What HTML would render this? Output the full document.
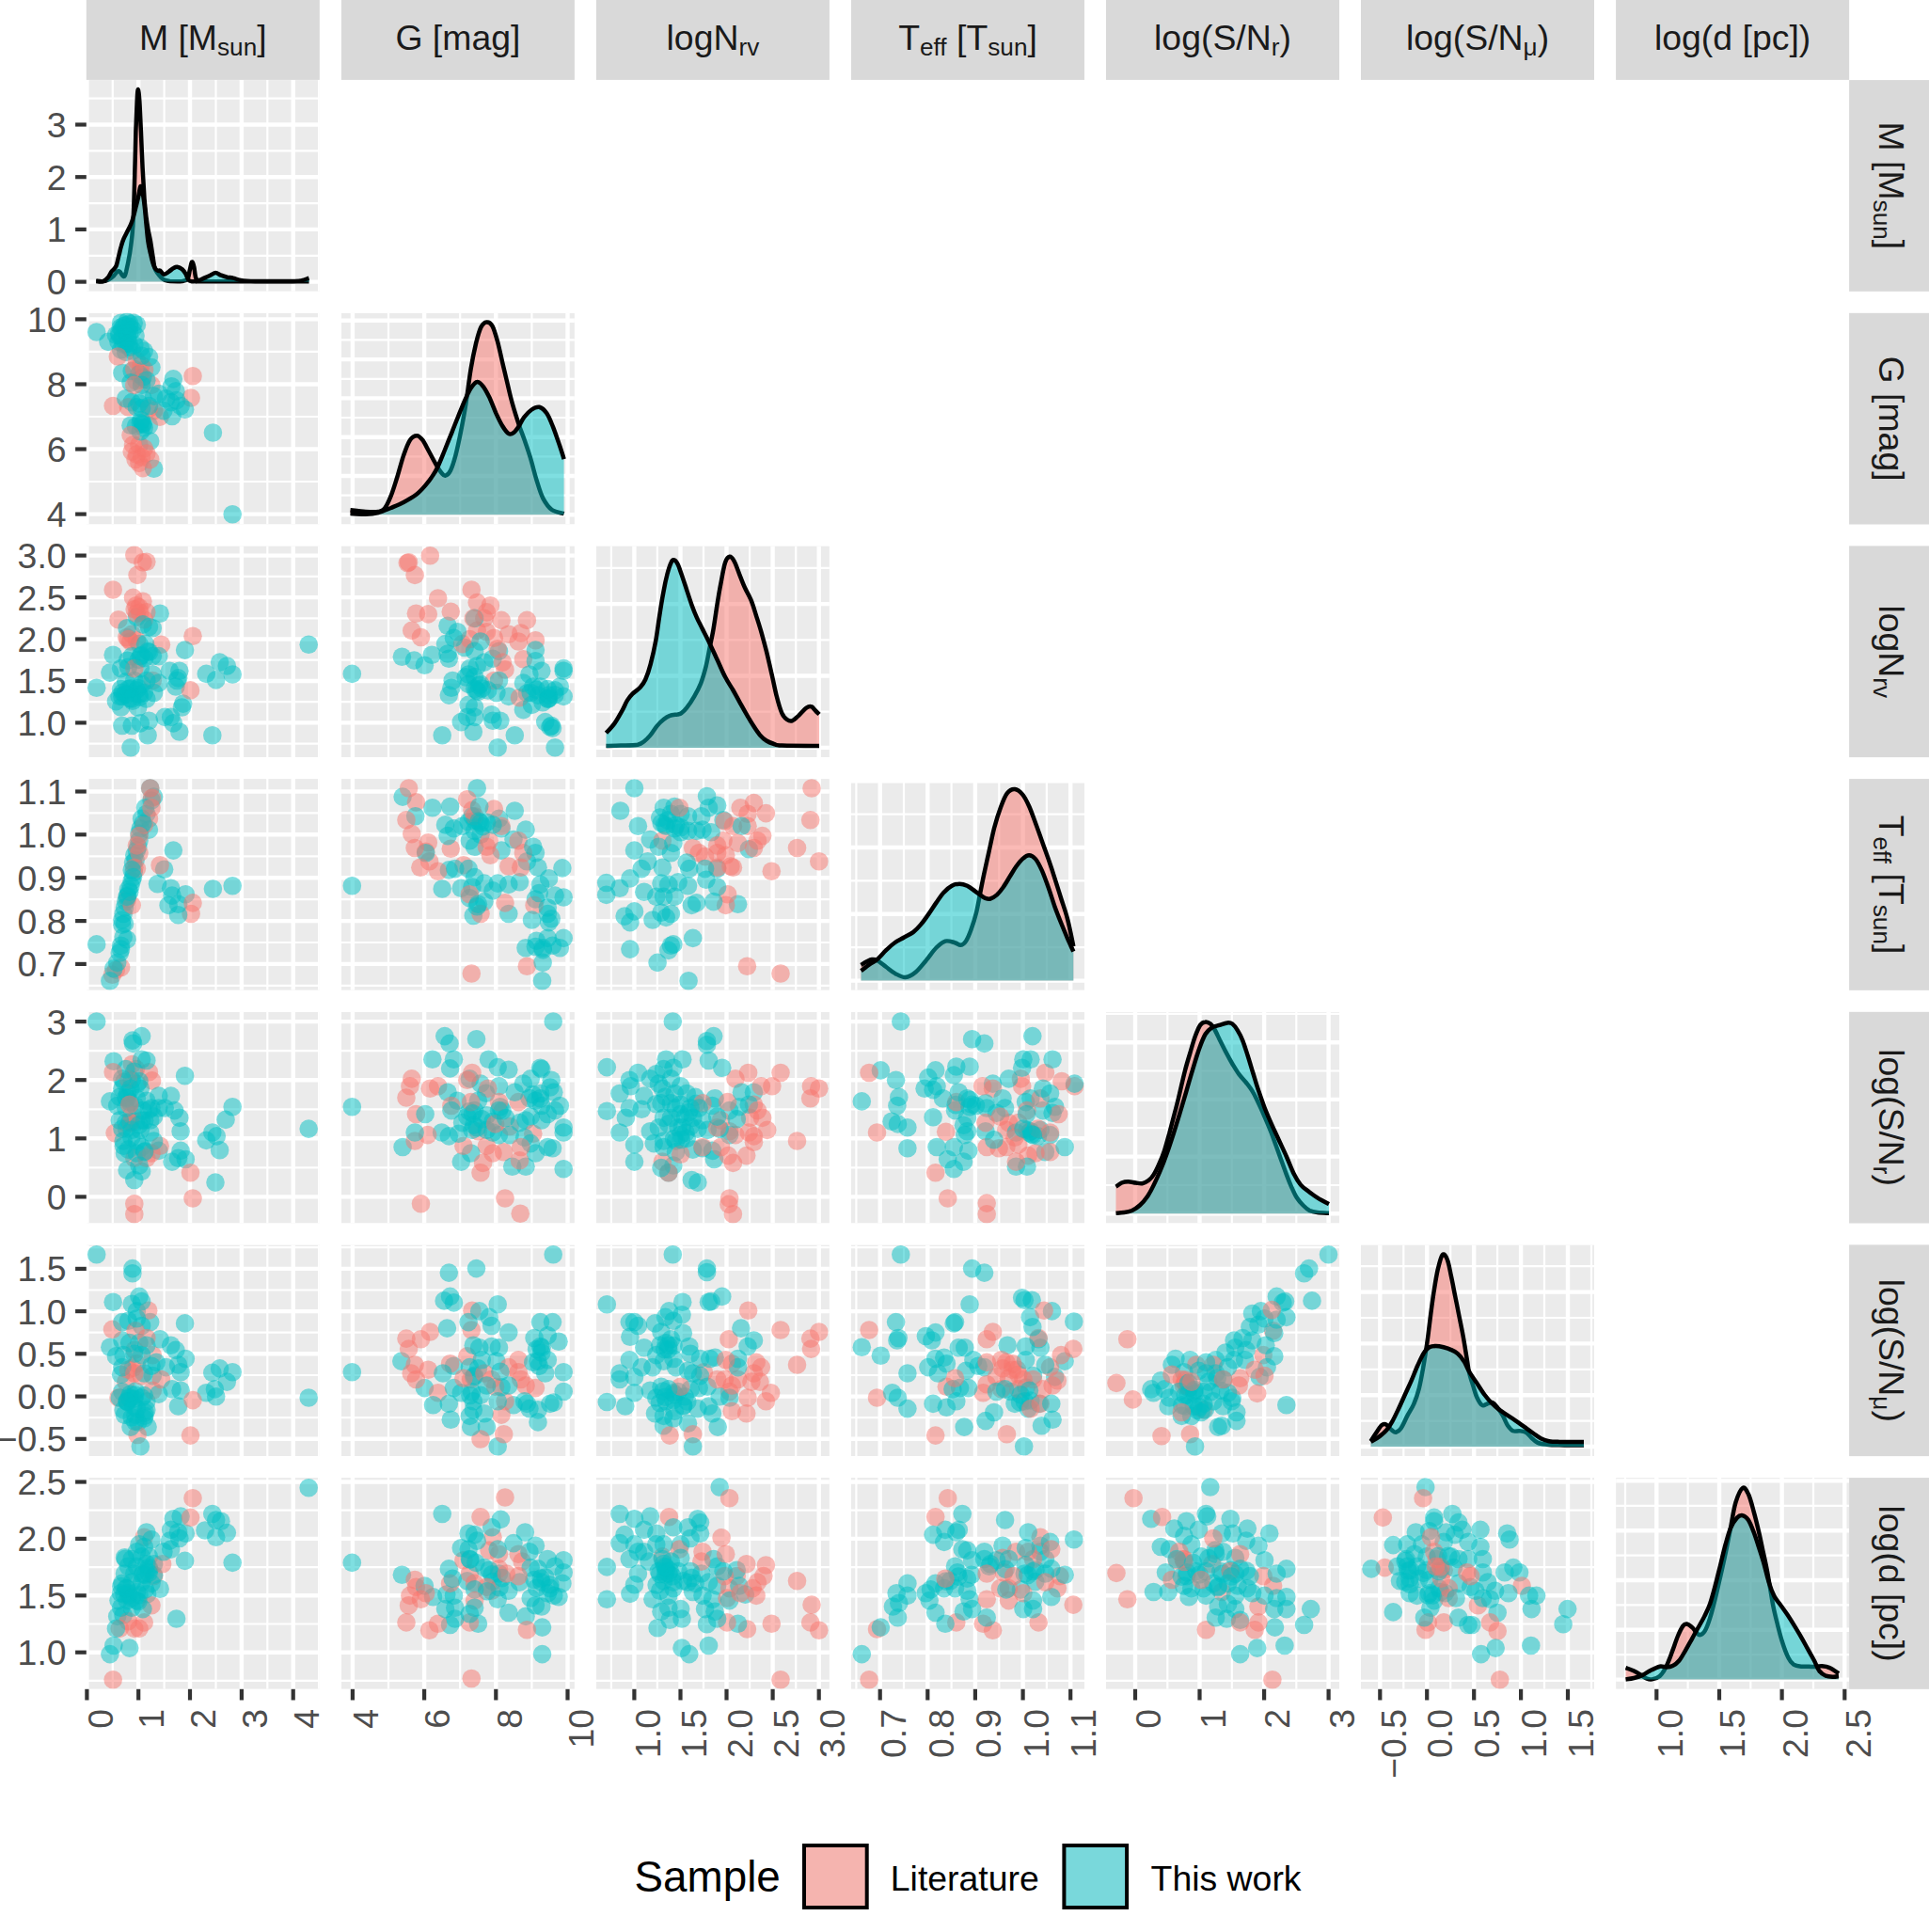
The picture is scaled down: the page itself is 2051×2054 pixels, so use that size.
<!DOCTYPE html><html><head><meta charset="utf-8"><title>ggpairs</title><style>html,body{margin:0;padding:0;background:#fff;}svg{display:block;}text{font-family:"Liberation Sans",Arial,sans-serif;}.ax{fill:#4D4D4D;font-size:37.4px;}.st{fill:#1A1A1A;font-size:37.4px;}.lg{fill:#000;font-size:37.4px;}.lt{fill:#000;font-size:45.8px;}</style></head><body>
<svg width="2051" height="2054" viewBox="0 0 2051 2054">
<rect width="2051" height="2054" fill="#fff"/>
<defs>
<clipPath id="c00"><rect x="91.8" y="85.1" width="248.0" height="224.7"/></clipPath>
<clipPath id="c10"><rect x="91.8" y="332.8" width="248.0" height="224.7"/></clipPath>
<clipPath id="c11"><rect x="362.9" y="332.8" width="248.0" height="224.7"/></clipPath>
<clipPath id="c20"><rect x="91.8" y="580.4" width="248.0" height="224.7"/></clipPath>
<clipPath id="c21"><rect x="362.9" y="580.4" width="248.0" height="224.7"/></clipPath>
<clipPath id="c22"><rect x="633.9" y="580.4" width="248.0" height="224.7"/></clipPath>
<clipPath id="c30"><rect x="91.8" y="828.1" width="248.0" height="224.7"/></clipPath>
<clipPath id="c31"><rect x="362.9" y="828.1" width="248.0" height="224.7"/></clipPath>
<clipPath id="c32"><rect x="633.9" y="828.1" width="248.0" height="224.7"/></clipPath>
<clipPath id="c33"><rect x="905.0" y="828.1" width="248.0" height="224.7"/></clipPath>
<clipPath id="c40"><rect x="91.8" y="1075.8" width="248.0" height="224.7"/></clipPath>
<clipPath id="c41"><rect x="362.9" y="1075.8" width="248.0" height="224.7"/></clipPath>
<clipPath id="c42"><rect x="633.9" y="1075.8" width="248.0" height="224.7"/></clipPath>
<clipPath id="c43"><rect x="905.0" y="1075.8" width="248.0" height="224.7"/></clipPath>
<clipPath id="c44"><rect x="1176.0" y="1075.8" width="248.0" height="224.7"/></clipPath>
<clipPath id="c50"><rect x="91.8" y="1323.4" width="248.0" height="224.7"/></clipPath>
<clipPath id="c51"><rect x="362.9" y="1323.4" width="248.0" height="224.7"/></clipPath>
<clipPath id="c52"><rect x="633.9" y="1323.4" width="248.0" height="224.7"/></clipPath>
<clipPath id="c53"><rect x="905.0" y="1323.4" width="248.0" height="224.7"/></clipPath>
<clipPath id="c54"><rect x="1176.0" y="1323.4" width="248.0" height="224.7"/></clipPath>
<clipPath id="c55"><rect x="1447.0" y="1323.4" width="248.0" height="224.7"/></clipPath>
<clipPath id="c60"><rect x="91.8" y="1571.1" width="248.0" height="224.7"/></clipPath>
<clipPath id="c61"><rect x="362.9" y="1571.1" width="248.0" height="224.7"/></clipPath>
<clipPath id="c62"><rect x="633.9" y="1571.1" width="248.0" height="224.7"/></clipPath>
<clipPath id="c63"><rect x="905.0" y="1571.1" width="248.0" height="224.7"/></clipPath>
<clipPath id="c64"><rect x="1176.0" y="1571.1" width="248.0" height="224.7"/></clipPath>
<clipPath id="c65"><rect x="1447.0" y="1571.1" width="248.0" height="224.7"/></clipPath>
<clipPath id="c66"><rect x="1718.1" y="1571.1" width="248.0" height="224.7"/></clipPath>
</defs>
<g clip-path="url(#c00)">
<rect x="91.8" y="85.1" width="248.0" height="224.7" fill="#EBEBEB"/>
<line x1="91.8" x2="339.8" y1="271.8" y2="271.8" stroke="#fff" stroke-width="2.2"/>
<line x1="91.8" x2="339.8" y1="216.1" y2="216.1" stroke="#fff" stroke-width="2.2"/>
<line x1="91.8" x2="339.8" y1="160.4" y2="160.4" stroke="#fff" stroke-width="2.2"/>
<line x1="91.8" x2="339.8" y1="104.7" y2="104.7" stroke="#fff" stroke-width="2.2"/>
<line x1="119.8" x2="119.8" y1="85.1" y2="309.8" stroke="#fff" stroke-width="2.2"/>
<line x1="174.6" x2="174.6" y1="85.1" y2="309.8" stroke="#fff" stroke-width="2.2"/>
<line x1="229.5" x2="229.5" y1="85.1" y2="309.8" stroke="#fff" stroke-width="2.2"/>
<line x1="284.3" x2="284.3" y1="85.1" y2="309.8" stroke="#fff" stroke-width="2.2"/>
<line x1="339.1" x2="339.1" y1="85.1" y2="309.8" stroke="#fff" stroke-width="2.2"/>
<line x1="91.8" x2="339.8" y1="299.6" y2="299.6" stroke="#fff" stroke-width="4.4"/>
<line x1="91.8" x2="339.8" y1="243.9" y2="243.9" stroke="#fff" stroke-width="4.4"/>
<line x1="91.8" x2="339.8" y1="188.2" y2="188.2" stroke="#fff" stroke-width="4.4"/>
<line x1="91.8" x2="339.8" y1="132.5" y2="132.5" stroke="#fff" stroke-width="4.4"/>
<line x1="92.4" x2="92.4" y1="85.1" y2="309.8" stroke="#fff" stroke-width="4.4"/>
<line x1="147.2" x2="147.2" y1="85.1" y2="309.8" stroke="#fff" stroke-width="4.4"/>
<line x1="202.0" x2="202.0" y1="85.1" y2="309.8" stroke="#fff" stroke-width="4.4"/>
<line x1="256.9" x2="256.9" y1="85.1" y2="309.8" stroke="#fff" stroke-width="4.4"/>
<line x1="311.7" x2="311.7" y1="85.1" y2="309.8" stroke="#fff" stroke-width="4.4"/>
<path d="M102.3,298.6 C103.5,298.7 107.2,299.5 109.4,299.2 C111.7,298.9 114.0,297.9 115.9,296.9 C117.9,295.8 119.6,294.4 121.1,293.0 C122.6,291.6 123.9,289.2 125.0,288.6 C126.1,287.9 126.5,288.2 127.6,289.1 C128.7,290.0 130.4,294.1 131.5,294.0 C132.6,294.0 133.0,292.9 134.1,288.8 C135.1,284.7 136.9,275.9 138.0,269.4 C139.0,262.9 139.9,256.4 140.5,250.0 C141.2,243.5 141.4,240.2 141.8,230.5 C142.3,220.8 142.7,206.8 143.1,191.6 C143.6,176.5 144.0,153.8 144.4,139.8 C144.9,125.8 145.3,114.9 145.7,107.4 C146.1,99.9 146.3,95.1 146.8,95.1 C147.2,95.1 147.8,99.9 148.3,107.4 C148.8,114.9 149.3,127.9 149.9,139.8 C150.4,151.7 151.0,166.8 151.6,178.7 C152.2,190.6 152.9,202.4 153.5,211.1 C154.2,219.7 154.8,225.1 155.4,230.5 C156.1,235.9 156.6,239.2 157.4,243.5 C158.1,247.8 159.1,251.5 160.0,256.4 C160.8,261.4 161.8,268.5 162.6,273.3 C163.3,278.0 163.7,282.0 164.5,285.0 C165.4,287.9 166.6,289.1 167.8,290.8 C168.9,292.5 170.4,294.1 171.6,295.3 C172.9,296.5 174.0,297.3 175.5,297.9 C177.0,298.5 177.7,298.8 180.7,299.0 C183.7,299.1 190.5,299.3 193.7,299.0 C196.8,298.6 198.2,298.5 199.5,296.6 C200.9,294.7 201.0,290.6 201.7,287.5 C202.5,284.5 203.3,279.1 204.0,278.5 C204.8,277.8 205.6,280.8 206.3,283.7 C206.9,286.5 207.4,292.8 208.2,295.3 C209.0,297.9 209.3,298.3 211.2,299.0 C213.1,299.6 200.1,299.2 219.6,299.2 C239.1,299.3 310.3,299.2 328.5,299.2 L328.5,299.6 L102.3,299.6 Z" fill="#F8766D" fill-opacity="0.5" stroke="none"/>
<path d="M102.3,298.6 C103.5,298.7 107.2,299.5 109.4,299.2 C111.7,298.9 114.0,297.9 115.9,296.9 C117.9,295.8 119.6,294.4 121.1,293.0 C122.6,291.6 123.9,289.2 125.0,288.6 C126.1,287.9 126.5,288.2 127.6,289.1 C128.7,290.0 130.4,294.1 131.5,294.0 C132.6,294.0 133.0,292.9 134.1,288.8 C135.1,284.7 136.9,275.9 138.0,269.4 C139.0,262.9 139.9,256.4 140.5,250.0 C141.2,243.5 141.4,240.2 141.8,230.5 C142.3,220.8 142.7,206.8 143.1,191.6 C143.6,176.5 144.0,153.8 144.4,139.8 C144.9,125.8 145.3,114.9 145.7,107.4 C146.1,99.9 146.3,95.1 146.8,95.1 C147.2,95.1 147.8,99.9 148.3,107.4 C148.8,114.9 149.3,127.9 149.9,139.8 C150.4,151.7 151.0,166.8 151.6,178.7 C152.2,190.6 152.9,202.4 153.5,211.1 C154.2,219.7 154.8,225.1 155.4,230.5 C156.1,235.9 156.6,239.2 157.4,243.5 C158.1,247.8 159.1,251.5 160.0,256.4 C160.8,261.4 161.8,268.5 162.6,273.3 C163.3,278.0 163.7,282.0 164.5,285.0 C165.4,287.9 166.6,289.1 167.8,290.8 C168.9,292.5 170.4,294.1 171.6,295.3 C172.9,296.5 174.0,297.3 175.5,297.9 C177.0,298.5 177.7,298.8 180.7,299.0 C183.7,299.1 190.5,299.3 193.7,299.0 C196.8,298.6 198.2,298.5 199.5,296.6 C200.9,294.7 201.0,290.6 201.7,287.5 C202.5,284.5 203.3,279.1 204.0,278.5 C204.8,277.8 205.6,280.8 206.3,283.7 C206.9,286.5 207.4,292.8 208.2,295.3 C209.0,297.9 209.3,298.3 211.2,299.0 C213.1,299.6 200.1,299.2 219.6,299.2 C239.1,299.3 310.3,299.2 328.5,299.2" fill="none" stroke="#000" stroke-width="4.5" stroke-linejoin="round"/>
<path d="M102.3,299.2 C103.5,299.2 107.4,299.9 109.4,299.2 C111.5,298.6 113.1,297.0 114.6,295.3 C116.1,293.6 117.4,290.4 118.5,288.8 C119.6,287.3 120.2,287.3 121.1,286.2 C122.0,285.2 122.8,284.7 123.7,282.4 C124.6,280.0 125.4,275.4 126.3,272.0 C127.2,268.5 128.0,264.6 128.9,261.6 C129.7,258.6 130.4,256.4 131.5,253.8 C132.6,251.3 134.1,248.7 135.4,246.1 C136.7,243.5 138.2,240.9 139.2,238.3 C140.3,235.7 141.0,233.5 141.8,230.5 C142.7,227.5 143.6,223.6 144.4,220.2 C145.3,216.7 146.2,213.5 147.0,209.8 C147.8,206.1 148.6,199.0 149.4,198.1 C150.1,197.3 150.9,201.4 151.6,204.6 C152.3,207.8 152.9,212.2 153.5,217.6 C154.2,223.0 154.8,230.5 155.4,237.0 C156.1,243.5 156.6,251.0 157.4,256.4 C158.1,261.8 159.1,265.5 160.0,269.4 C160.8,273.3 161.7,277.1 162.6,279.8 C163.4,282.5 164.3,284.3 165.2,285.6 C166.0,286.9 166.9,287.4 167.8,287.8 C168.6,288.2 169.3,287.2 170.4,287.8 C171.4,288.5 172.7,291.5 174.2,291.7 C175.8,291.9 177.7,290.0 179.4,288.8 C181.2,287.7 183.1,285.8 184.6,285.0 C186.1,284.1 187.0,283.4 188.5,283.7 C190.0,283.9 192.2,285.0 193.7,286.2 C195.2,287.5 196.5,289.6 197.6,291.4 C198.6,293.3 199.1,296.0 200.2,297.3 C201.2,298.6 202.3,299.0 204.0,299.2 C205.8,299.4 208.4,299.2 210.5,298.6 C212.7,298.0 214.8,296.6 217.0,295.6 C219.2,294.6 221.4,293.6 223.5,292.7 C225.5,291.8 227.4,290.1 229.3,290.1 C231.3,290.1 233.1,292.0 235.2,292.7 C237.2,293.5 239.5,294.2 241.6,294.7 C243.8,295.1 245.7,295.0 248.1,295.6 C250.5,296.1 252.0,297.4 255.9,297.9 C259.8,298.5 262.4,298.8 271.4,299.0 C280.5,299.1 302.1,299.1 310.3,299.0 C318.5,298.8 317.7,298.7 320.7,298.2 C323.7,297.6 327.2,296.0 328.5,295.6 L328.5,299.6 L102.3,299.6 Z" fill="#00BFC4" fill-opacity="0.5" stroke="none"/>
<path d="M102.3,299.2 C103.5,299.2 107.4,299.9 109.4,299.2 C111.5,298.6 113.1,297.0 114.6,295.3 C116.1,293.6 117.4,290.4 118.5,288.8 C119.6,287.3 120.2,287.3 121.1,286.2 C122.0,285.2 122.8,284.7 123.7,282.4 C124.6,280.0 125.4,275.4 126.3,272.0 C127.2,268.5 128.0,264.6 128.9,261.6 C129.7,258.6 130.4,256.4 131.5,253.8 C132.6,251.3 134.1,248.7 135.4,246.1 C136.7,243.5 138.2,240.9 139.2,238.3 C140.3,235.7 141.0,233.5 141.8,230.5 C142.7,227.5 143.6,223.6 144.4,220.2 C145.3,216.7 146.2,213.5 147.0,209.8 C147.8,206.1 148.6,199.0 149.4,198.1 C150.1,197.3 150.9,201.4 151.6,204.6 C152.3,207.8 152.9,212.2 153.5,217.6 C154.2,223.0 154.8,230.5 155.4,237.0 C156.1,243.5 156.6,251.0 157.4,256.4 C158.1,261.8 159.1,265.5 160.0,269.4 C160.8,273.3 161.7,277.1 162.6,279.8 C163.4,282.5 164.3,284.3 165.2,285.6 C166.0,286.9 166.9,287.4 167.8,287.8 C168.6,288.2 169.3,287.2 170.4,287.8 C171.4,288.5 172.7,291.5 174.2,291.7 C175.8,291.9 177.7,290.0 179.4,288.8 C181.2,287.7 183.1,285.8 184.6,285.0 C186.1,284.1 187.0,283.4 188.5,283.7 C190.0,283.9 192.2,285.0 193.7,286.2 C195.2,287.5 196.5,289.6 197.6,291.4 C198.6,293.3 199.1,296.0 200.2,297.3 C201.2,298.6 202.3,299.0 204.0,299.2 C205.8,299.4 208.4,299.2 210.5,298.6 C212.7,298.0 214.8,296.6 217.0,295.6 C219.2,294.6 221.4,293.6 223.5,292.7 C225.5,291.8 227.4,290.1 229.3,290.1 C231.3,290.1 233.1,292.0 235.2,292.7 C237.2,293.5 239.5,294.2 241.6,294.7 C243.8,295.1 245.7,295.0 248.1,295.6 C250.5,296.1 252.0,297.4 255.9,297.9 C259.8,298.5 262.4,298.8 271.4,299.0 C280.5,299.1 302.1,299.1 310.3,299.0 C318.5,298.8 317.7,298.7 320.7,298.2 C323.7,297.6 327.2,296.0 328.5,295.6" fill="none" stroke="#000" stroke-width="4.5" stroke-linejoin="round"/>
</g>
<g clip-path="url(#c10)">
<rect x="91.8" y="332.8" width="248.0" height="224.7" fill="#EBEBEB"/>
<line x1="91.8" x2="339.8" y1="512.0" y2="512.0" stroke="#fff" stroke-width="2.2"/>
<line x1="91.8" x2="339.8" y1="443.0" y2="443.0" stroke="#fff" stroke-width="2.2"/>
<line x1="91.8" x2="339.8" y1="373.9" y2="373.9" stroke="#fff" stroke-width="2.2"/>
<line x1="119.8" x2="119.8" y1="332.8" y2="557.5" stroke="#fff" stroke-width="2.2"/>
<line x1="174.6" x2="174.6" y1="332.8" y2="557.5" stroke="#fff" stroke-width="2.2"/>
<line x1="229.5" x2="229.5" y1="332.8" y2="557.5" stroke="#fff" stroke-width="2.2"/>
<line x1="284.3" x2="284.3" y1="332.8" y2="557.5" stroke="#fff" stroke-width="2.2"/>
<line x1="339.1" x2="339.1" y1="332.8" y2="557.5" stroke="#fff" stroke-width="2.2"/>
<line x1="91.8" x2="339.8" y1="546.6" y2="546.6" stroke="#fff" stroke-width="4.4"/>
<line x1="91.8" x2="339.8" y1="477.5" y2="477.5" stroke="#fff" stroke-width="4.4"/>
<line x1="91.8" x2="339.8" y1="408.5" y2="408.5" stroke="#fff" stroke-width="4.4"/>
<line x1="91.8" x2="339.8" y1="339.4" y2="339.4" stroke="#fff" stroke-width="4.4"/>
<line x1="92.4" x2="92.4" y1="332.8" y2="557.5" stroke="#fff" stroke-width="4.4"/>
<line x1="147.2" x2="147.2" y1="332.8" y2="557.5" stroke="#fff" stroke-width="4.4"/>
<line x1="202.0" x2="202.0" y1="332.8" y2="557.5" stroke="#fff" stroke-width="4.4"/>
<line x1="256.9" x2="256.9" y1="332.8" y2="557.5" stroke="#fff" stroke-width="4.4"/>
<line x1="311.7" x2="311.7" y1="332.8" y2="557.5" stroke="#fff" stroke-width="4.4"/>
<circle cx="150.6" cy="485.9" r="9.8" fill="#F8766D" fill-opacity="0.5"/>
<circle cx="140.2" cy="427.6" r="9.8" fill="#00BFC4" fill-opacity="0.5"/>
<circle cx="148.0" cy="472.9" r="9.8" fill="#F8766D" fill-opacity="0.5"/>
<circle cx="203.1" cy="423.0" r="9.8" fill="#F8766D" fill-opacity="0.5"/>
<circle cx="133.8" cy="374.4" r="9.8" fill="#00BFC4" fill-opacity="0.5"/>
<circle cx="133.7" cy="365.6" r="9.8" fill="#00BFC4" fill-opacity="0.5"/>
<circle cx="144.1" cy="488.5" r="9.8" fill="#F8766D" fill-opacity="0.5"/>
<circle cx="140.2" cy="480.1" r="9.8" fill="#F8766D" fill-opacity="0.5"/>
<circle cx="196.6" cy="435.3" r="9.8" fill="#00BFC4" fill-opacity="0.5"/>
<circle cx="140.9" cy="373.1" r="9.8" fill="#00BFC4" fill-opacity="0.5"/>
<circle cx="181.7" cy="427.6" r="9.8" fill="#00BFC4" fill-opacity="0.5"/>
<circle cx="126.0" cy="363.4" r="9.8" fill="#00BFC4" fill-opacity="0.5"/>
<circle cx="144.1" cy="356.9" r="9.8" fill="#00BFC4" fill-opacity="0.5"/>
<circle cx="133.8" cy="352.4" r="9.8" fill="#00BFC4" fill-opacity="0.5"/>
<circle cx="247.2" cy="546.8" r="9.8" fill="#00BFC4" fill-opacity="0.5"/>
<circle cx="144.4" cy="453.3" r="9.8" fill="#00BFC4" fill-opacity="0.5"/>
<circle cx="148.0" cy="492.4" r="9.8" fill="#F8766D" fill-opacity="0.5"/>
<circle cx="127.0" cy="356.5" r="9.8" fill="#00BFC4" fill-opacity="0.5"/>
<circle cx="145.0" cy="405.1" r="9.8" fill="#F8766D" fill-opacity="0.5"/>
<circle cx="159.7" cy="469.0" r="9.8" fill="#00BFC4" fill-opacity="0.5"/>
<circle cx="155.8" cy="482.0" r="9.8" fill="#F8766D" fill-opacity="0.5"/>
<circle cx="205.0" cy="399.7" r="9.8" fill="#F8766D" fill-opacity="0.5"/>
<circle cx="140.2" cy="394.5" r="9.8" fill="#00BFC4" fill-opacity="0.5"/>
<circle cx="135.7" cy="352.5" r="9.8" fill="#00BFC4" fill-opacity="0.5"/>
<circle cx="128.6" cy="343.3" r="9.8" fill="#00BFC4" fill-opacity="0.5"/>
<circle cx="151.5" cy="450.5" r="9.8" fill="#00BFC4" fill-opacity="0.5"/>
<circle cx="136.4" cy="432.8" r="9.8" fill="#F8766D" fill-opacity="0.5"/>
<circle cx="192.1" cy="431.5" r="9.8" fill="#00BFC4" fill-opacity="0.5"/>
<circle cx="161.0" cy="390.6" r="9.8" fill="#00BFC4" fill-opacity="0.5"/>
<circle cx="161.0" cy="409.4" r="9.8" fill="#F8766D" fill-opacity="0.5"/>
<circle cx="145.4" cy="345.3" r="9.8" fill="#00BFC4" fill-opacity="0.5"/>
<circle cx="131.2" cy="366.0" r="9.8" fill="#00BFC4" fill-opacity="0.5"/>
<circle cx="120.2" cy="431.5" r="9.8" fill="#F8766D" fill-opacity="0.5"/>
<circle cx="184.3" cy="402.9" r="9.8" fill="#00BFC4" fill-opacity="0.5"/>
<circle cx="150.0" cy="388.0" r="9.8" fill="#F8766D" fill-opacity="0.5"/>
<circle cx="163.6" cy="436.6" r="9.8" fill="#F8766D" fill-opacity="0.5"/>
<circle cx="158.4" cy="452.2" r="9.8" fill="#00BFC4" fill-opacity="0.5"/>
<circle cx="163.6" cy="498.2" r="9.8" fill="#00BFC4" fill-opacity="0.5"/>
<circle cx="170.1" cy="443.1" r="9.8" fill="#F8766D" fill-opacity="0.5"/>
<circle cx="149.2" cy="395.4" r="9.8" fill="#F8766D" fill-opacity="0.5"/>
<circle cx="145.4" cy="383.5" r="9.8" fill="#F8766D" fill-opacity="0.5"/>
<circle cx="141.5" cy="472.9" r="9.8" fill="#F8766D" fill-opacity="0.5"/>
<circle cx="152.1" cy="451.3" r="9.8" fill="#00BFC4" fill-opacity="0.5"/>
<circle cx="139.0" cy="452.2" r="9.8" fill="#00BFC4" fill-opacity="0.5"/>
<circle cx="128.6" cy="371.8" r="9.8" fill="#00BFC4" fill-opacity="0.5"/>
<circle cx="137.8" cy="344.1" r="9.8" fill="#00BFC4" fill-opacity="0.5"/>
<circle cx="129.9" cy="396.5" r="9.8" fill="#00BFC4" fill-opacity="0.5"/>
<circle cx="151.9" cy="423.7" r="9.8" fill="#00BFC4" fill-opacity="0.5"/>
<circle cx="153.2" cy="476.8" r="9.8" fill="#F8766D" fill-opacity="0.5"/>
<circle cx="153.2" cy="373.1" r="9.8" fill="#00BFC4" fill-opacity="0.5"/>
<circle cx="226.4" cy="460.0" r="9.8" fill="#00BFC4" fill-opacity="0.5"/>
<circle cx="145.4" cy="432.8" r="9.8" fill="#00BFC4" fill-opacity="0.5"/>
<circle cx="148.0" cy="397.8" r="9.8" fill="#00BFC4" fill-opacity="0.5"/>
<circle cx="102.7" cy="353.0" r="9.8" fill="#00BFC4" fill-opacity="0.5"/>
<circle cx="173.9" cy="436.6" r="9.8" fill="#00BFC4" fill-opacity="0.5"/>
<circle cx="129.9" cy="358.9" r="9.8" fill="#00BFC4" fill-opacity="0.5"/>
<circle cx="135.1" cy="342.0" r="9.8" fill="#00BFC4" fill-opacity="0.5"/>
<circle cx="182.4" cy="410.7" r="9.8" fill="#00BFC4" fill-opacity="0.5"/>
<circle cx="137.0" cy="364.7" r="9.8" fill="#00BFC4" fill-opacity="0.5"/>
<circle cx="158.4" cy="434.0" r="9.8" fill="#F8766D" fill-opacity="0.5"/>
<circle cx="133.8" cy="423.7" r="9.8" fill="#00BFC4" fill-opacity="0.5"/>
<circle cx="137.4" cy="369.1" r="9.8" fill="#00BFC4" fill-opacity="0.5"/>
<circle cx="131.9" cy="346.3" r="9.8" fill="#00BFC4" fill-opacity="0.5"/>
<circle cx="150.6" cy="404.2" r="9.8" fill="#F8766D" fill-opacity="0.5"/>
<circle cx="142.2" cy="343.3" r="9.8" fill="#00BFC4" fill-opacity="0.5"/>
<circle cx="187.6" cy="425.6" r="9.8" fill="#00BFC4" fill-opacity="0.5"/>
<circle cx="150.6" cy="434.0" r="9.8" fill="#00BFC4" fill-opacity="0.5"/>
<circle cx="135.7" cy="358.9" r="9.8" fill="#00BFC4" fill-opacity="0.5"/>
<circle cx="149.3" cy="369.9" r="9.8" fill="#00BFC4" fill-opacity="0.5"/>
<circle cx="126.7" cy="354.4" r="9.8" fill="#00BFC4" fill-opacity="0.5"/>
<circle cx="151.9" cy="401.0" r="9.8" fill="#00BFC4" fill-opacity="0.5"/>
<circle cx="168.8" cy="418.5" r="9.8" fill="#00BFC4" fill-opacity="0.5"/>
<circle cx="142.8" cy="366.7" r="9.8" fill="#00BFC4" fill-opacity="0.5"/>
<circle cx="145.4" cy="483.3" r="9.8" fill="#F8766D" fill-opacity="0.5"/>
<circle cx="153.6" cy="392.9" r="9.8" fill="#F8766D" fill-opacity="0.5"/>
<circle cx="115.0" cy="363.4" r="9.8" fill="#00BFC4" fill-opacity="0.5"/>
<circle cx="163.6" cy="421.1" r="9.8" fill="#00BFC4" fill-opacity="0.5"/>
<circle cx="149.3" cy="458.7" r="9.8" fill="#00BFC4" fill-opacity="0.5"/>
<circle cx="129.9" cy="349.8" r="9.8" fill="#00BFC4" fill-opacity="0.5"/>
<circle cx="149.3" cy="449.6" r="9.8" fill="#00BFC4" fill-opacity="0.5"/>
<circle cx="153.2" cy="454.8" r="9.8" fill="#00BFC4" fill-opacity="0.5"/>
<circle cx="125.3" cy="379.0" r="9.8" fill="#F8766D" fill-opacity="0.5"/>
<circle cx="123.4" cy="356.3" r="9.8" fill="#00BFC4" fill-opacity="0.5"/>
<circle cx="150.1" cy="446.5" r="9.8" fill="#00BFC4" fill-opacity="0.5"/>
<circle cx="142.8" cy="392.6" r="9.8" fill="#F8766D" fill-opacity="0.5"/>
<circle cx="151.9" cy="497.6" r="9.8" fill="#F8766D" fill-opacity="0.5"/>
<circle cx="137.7" cy="347.2" r="9.8" fill="#00BFC4" fill-opacity="0.5"/>
<circle cx="155.8" cy="404.2" r="9.8" fill="#00BFC4" fill-opacity="0.5"/>
<circle cx="150.6" cy="409.4" r="9.8" fill="#00BFC4" fill-opacity="0.5"/>
<circle cx="158.4" cy="379.6" r="9.8" fill="#00BFC4" fill-opacity="0.5"/>
<circle cx="158.4" cy="431.5" r="9.8" fill="#00BFC4" fill-opacity="0.5"/>
<circle cx="148.0" cy="428.9" r="9.8" fill="#00BFC4" fill-opacity="0.5"/>
<circle cx="159.7" cy="488.5" r="9.8" fill="#F8766D" fill-opacity="0.5"/>
<circle cx="183.0" cy="442.5" r="9.8" fill="#00BFC4" fill-opacity="0.5"/>
<circle cx="128.2" cy="348.4" r="9.8" fill="#00BFC4" fill-opacity="0.5"/>
<circle cx="139.0" cy="406.8" r="9.8" fill="#00BFC4" fill-opacity="0.5"/>
<circle cx="137.7" cy="353.7" r="9.8" fill="#00BFC4" fill-opacity="0.5"/>
<circle cx="140.9" cy="350.5" r="9.8" fill="#00BFC4" fill-opacity="0.5"/>
<circle cx="150.6" cy="378.3" r="9.8" fill="#00BFC4" fill-opacity="0.5"/>
<circle cx="176.5" cy="423.7" r="9.8" fill="#00BFC4" fill-opacity="0.5"/>
<circle cx="186.9" cy="415.9" r="9.8" fill="#00BFC4" fill-opacity="0.5"/>
<circle cx="139.0" cy="462.6" r="9.8" fill="#F8766D" fill-opacity="0.5"/>
<circle cx="133.8" cy="345.9" r="9.8" fill="#00BFC4" fill-opacity="0.5"/>
<circle cx="142.8" cy="409.4" r="9.8" fill="#F8766D" fill-opacity="0.5"/>
</g>
<g clip-path="url(#c11)">
<rect x="362.9" y="332.8" width="248.0" height="224.7" fill="#EBEBEB"/>
<line x1="362.9" x2="610.9" y1="526.6" y2="526.6" stroke="#fff" stroke-width="2.2"/>
<line x1="362.9" x2="610.9" y1="485.3" y2="485.3" stroke="#fff" stroke-width="2.2"/>
<line x1="362.9" x2="610.9" y1="444.0" y2="444.0" stroke="#fff" stroke-width="2.2"/>
<line x1="362.9" x2="610.9" y1="402.8" y2="402.8" stroke="#fff" stroke-width="2.2"/>
<line x1="362.9" x2="610.9" y1="361.4" y2="361.4" stroke="#fff" stroke-width="2.2"/>
<line x1="413.0" x2="413.0" y1="332.8" y2="557.5" stroke="#fff" stroke-width="2.2"/>
<line x1="489.2" x2="489.2" y1="332.8" y2="557.5" stroke="#fff" stroke-width="2.2"/>
<line x1="565.4" x2="565.4" y1="332.8" y2="557.5" stroke="#fff" stroke-width="2.2"/>
<line x1="362.9" x2="610.9" y1="547.3" y2="547.3" stroke="#fff" stroke-width="4.4"/>
<line x1="362.9" x2="610.9" y1="506.0" y2="506.0" stroke="#fff" stroke-width="4.4"/>
<line x1="362.9" x2="610.9" y1="464.7" y2="464.7" stroke="#fff" stroke-width="4.4"/>
<line x1="362.9" x2="610.9" y1="423.4" y2="423.4" stroke="#fff" stroke-width="4.4"/>
<line x1="362.9" x2="610.9" y1="382.1" y2="382.1" stroke="#fff" stroke-width="4.4"/>
<line x1="362.9" x2="610.9" y1="340.8" y2="340.8" stroke="#fff" stroke-width="4.4"/>
<line x1="374.9" x2="374.9" y1="332.8" y2="557.5" stroke="#fff" stroke-width="4.4"/>
<line x1="451.1" x2="451.1" y1="332.8" y2="557.5" stroke="#fff" stroke-width="4.4"/>
<line x1="527.3" x2="527.3" y1="332.8" y2="557.5" stroke="#fff" stroke-width="4.4"/>
<line x1="603.5" x2="603.5" y1="332.8" y2="557.5" stroke="#fff" stroke-width="4.4"/>
<path d="M372.5,542.3 C375.2,542.6 383.8,543.7 388.7,544.0 C393.6,544.3 398.8,544.6 402.2,544.0 C405.5,543.5 406.7,543.5 408.9,540.7 C411.2,537.9 413.4,532.8 415.7,527.2 C417.9,521.6 420.1,514.2 422.4,507.0 C424.6,499.8 426.9,490.6 429.1,484.1 C431.4,477.5 433.5,471.4 435.9,467.9 C438.2,464.4 441.0,463.2 443.3,463.2 C445.5,463.2 447.2,465.1 449.4,467.9 C451.5,470.7 453.6,475.5 456.1,480.0 C458.6,484.5 461.9,491.0 464.2,494.8 C466.4,498.7 468.0,501.1 469.6,502.9 C471.1,504.7 472.0,506.1 473.6,505.6 C475.2,505.2 477.2,503.8 479.0,500.2 C480.8,496.6 482.6,490.8 484.4,484.1 C486.2,477.3 488.0,468.8 489.8,459.8 C491.6,450.8 493.4,441.4 495.2,430.1 C497.0,418.9 498.8,403.2 500.6,392.4 C502.4,381.6 504.2,372.9 506.0,365.4 C507.8,358.0 509.4,351.7 511.4,347.9 C513.3,344.1 515.4,342.7 517.4,342.5 C519.4,342.3 521.6,343.2 523.5,346.6 C525.4,349.9 527.1,356.2 528.9,362.7 C530.7,369.3 532.5,378.0 534.3,385.7 C536.1,393.3 537.9,401.2 539.7,408.6 C541.5,416.0 543.0,422.9 545.1,430.1 C547.1,437.3 549.8,445.6 551.8,451.7 C553.8,457.8 555.2,460.7 557.2,466.5 C559.2,472.4 561.7,479.3 563.9,486.7 C566.2,494.2 568.4,503.8 570.7,511.0 C572.9,518.2 574.7,524.7 577.4,529.9 C580.1,535.0 583.1,539.3 586.8,542.0 C590.5,544.7 597.5,545.4 599.6,546.1 L599.6,547.3 L372.5,547.3 Z" fill="#F8766D" fill-opacity="0.5" stroke="none"/>
<path d="M372.5,542.3 C375.2,542.6 383.8,543.7 388.7,544.0 C393.6,544.3 398.8,544.6 402.2,544.0 C405.5,543.5 406.7,543.5 408.9,540.7 C411.2,537.9 413.4,532.8 415.7,527.2 C417.9,521.6 420.1,514.2 422.4,507.0 C424.6,499.8 426.9,490.6 429.1,484.1 C431.4,477.5 433.5,471.4 435.9,467.9 C438.2,464.4 441.0,463.2 443.3,463.2 C445.5,463.2 447.2,465.1 449.4,467.9 C451.5,470.7 453.6,475.5 456.1,480.0 C458.6,484.5 461.9,491.0 464.2,494.8 C466.4,498.7 468.0,501.1 469.6,502.9 C471.1,504.7 472.0,506.1 473.6,505.6 C475.2,505.2 477.2,503.8 479.0,500.2 C480.8,496.6 482.6,490.8 484.4,484.1 C486.2,477.3 488.0,468.8 489.8,459.8 C491.6,450.8 493.4,441.4 495.2,430.1 C497.0,418.9 498.8,403.2 500.6,392.4 C502.4,381.6 504.2,372.9 506.0,365.4 C507.8,358.0 509.4,351.7 511.4,347.9 C513.3,344.1 515.4,342.7 517.4,342.5 C519.4,342.3 521.6,343.2 523.5,346.6 C525.4,349.9 527.1,356.2 528.9,362.7 C530.7,369.3 532.5,378.0 534.3,385.7 C536.1,393.3 537.9,401.2 539.7,408.6 C541.5,416.0 543.0,422.9 545.1,430.1 C547.1,437.3 549.8,445.6 551.8,451.7 C553.8,457.8 555.2,460.7 557.2,466.5 C559.2,472.4 561.7,479.3 563.9,486.7 C566.2,494.2 568.4,503.8 570.7,511.0 C572.9,518.2 574.7,524.7 577.4,529.9 C580.1,535.0 583.1,539.3 586.8,542.0 C590.5,544.7 597.5,545.4 599.6,546.1" fill="none" stroke="#000" stroke-width="4.5" stroke-linejoin="round"/>
<path d="M372.5,546.1 C375.2,546.2 383.8,546.9 388.7,546.7 C393.6,546.5 397.7,546.1 402.2,545.0 C406.7,543.9 411.2,541.8 415.7,540.0 C420.1,538.1 424.6,536.3 429.1,533.9 C433.6,531.6 438.8,528.8 442.6,525.8 C446.4,522.9 449.1,519.8 452.0,516.4 C455.0,513.0 457.9,509.0 460.1,505.6 C462.4,502.2 463.5,500.5 465.5,496.2 C467.5,491.9 469.8,486.1 472.3,480.0 C474.7,473.9 477.7,466.5 480.4,459.8 C483.0,453.0 486.0,445.6 488.4,439.6 C490.9,433.5 493.2,427.9 495.2,423.4 C497.2,418.9 498.6,415.5 500.6,412.6 C502.6,409.7 505.1,406.1 507.3,405.9 C509.6,405.6 511.8,408.3 514.1,411.3 C516.3,414.2 518.5,418.7 520.8,423.4 C523.0,428.1 525.3,434.6 527.5,439.6 C529.8,444.5 532.0,449.5 534.3,453.0 C536.5,456.6 539.0,460.0 541.0,461.1 C543.0,462.3 544.6,461.1 546.4,459.8 C548.2,458.4 550.0,455.7 551.8,453.0 C553.6,450.4 554.9,446.5 557.2,443.6 C559.4,440.7 562.6,437.3 565.3,435.5 C568.0,433.7 570.7,432.2 573.4,432.8 C576.1,433.5 579.0,436.0 581.4,439.6 C583.9,443.2 585.9,448.8 588.2,454.4 C590.4,460.0 593.0,467.7 594.9,473.3 C596.8,478.9 598.9,485.6 599.6,488.1 L599.6,547.3 L372.5,547.3 Z" fill="#00BFC4" fill-opacity="0.5" stroke="none"/>
<path d="M372.5,546.1 C375.2,546.2 383.8,546.9 388.7,546.7 C393.6,546.5 397.7,546.1 402.2,545.0 C406.7,543.9 411.2,541.8 415.7,540.0 C420.1,538.1 424.6,536.3 429.1,533.9 C433.6,531.6 438.8,528.8 442.6,525.8 C446.4,522.9 449.1,519.8 452.0,516.4 C455.0,513.0 457.9,509.0 460.1,505.6 C462.4,502.2 463.5,500.5 465.5,496.2 C467.5,491.9 469.8,486.1 472.3,480.0 C474.7,473.9 477.7,466.5 480.4,459.8 C483.0,453.0 486.0,445.6 488.4,439.6 C490.9,433.5 493.2,427.9 495.2,423.4 C497.2,418.9 498.6,415.5 500.6,412.6 C502.6,409.7 505.1,406.1 507.3,405.9 C509.6,405.6 511.8,408.3 514.1,411.3 C516.3,414.2 518.5,418.7 520.8,423.4 C523.0,428.1 525.3,434.6 527.5,439.6 C529.8,444.5 532.0,449.5 534.3,453.0 C536.5,456.6 539.0,460.0 541.0,461.1 C543.0,462.3 544.6,461.1 546.4,459.8 C548.2,458.4 550.0,455.7 551.8,453.0 C553.6,450.4 554.9,446.5 557.2,443.6 C559.4,440.7 562.6,437.3 565.3,435.5 C568.0,433.7 570.7,432.2 573.4,432.8 C576.1,433.5 579.0,436.0 581.4,439.6 C583.9,443.2 585.9,448.8 588.2,454.4 C590.4,460.0 593.0,467.7 594.9,473.3 C596.8,478.9 598.9,485.6 599.6,488.1" fill="none" stroke="#000" stroke-width="4.5" stroke-linejoin="round"/>
</g>
<g clip-path="url(#c20)">
<rect x="91.8" y="580.4" width="248.0" height="224.7" fill="#EBEBEB"/>
<line x1="91.8" x2="339.8" y1="790.7" y2="790.7" stroke="#fff" stroke-width="2.2"/>
<line x1="91.8" x2="339.8" y1="746.2" y2="746.2" stroke="#fff" stroke-width="2.2"/>
<line x1="91.8" x2="339.8" y1="701.7" y2="701.7" stroke="#fff" stroke-width="2.2"/>
<line x1="91.8" x2="339.8" y1="657.3" y2="657.3" stroke="#fff" stroke-width="2.2"/>
<line x1="91.8" x2="339.8" y1="612.8" y2="612.8" stroke="#fff" stroke-width="2.2"/>
<line x1="119.8" x2="119.8" y1="580.4" y2="805.1" stroke="#fff" stroke-width="2.2"/>
<line x1="174.6" x2="174.6" y1="580.4" y2="805.1" stroke="#fff" stroke-width="2.2"/>
<line x1="229.5" x2="229.5" y1="580.4" y2="805.1" stroke="#fff" stroke-width="2.2"/>
<line x1="284.3" x2="284.3" y1="580.4" y2="805.1" stroke="#fff" stroke-width="2.2"/>
<line x1="339.1" x2="339.1" y1="580.4" y2="805.1" stroke="#fff" stroke-width="2.2"/>
<line x1="91.8" x2="339.8" y1="768.4" y2="768.4" stroke="#fff" stroke-width="4.4"/>
<line x1="91.8" x2="339.8" y1="724.0" y2="724.0" stroke="#fff" stroke-width="4.4"/>
<line x1="91.8" x2="339.8" y1="679.5" y2="679.5" stroke="#fff" stroke-width="4.4"/>
<line x1="91.8" x2="339.8" y1="635.1" y2="635.1" stroke="#fff" stroke-width="4.4"/>
<line x1="91.8" x2="339.8" y1="590.6" y2="590.6" stroke="#fff" stroke-width="4.4"/>
<line x1="92.4" x2="92.4" y1="580.4" y2="805.1" stroke="#fff" stroke-width="4.4"/>
<line x1="147.2" x2="147.2" y1="580.4" y2="805.1" stroke="#fff" stroke-width="4.4"/>
<line x1="202.0" x2="202.0" y1="580.4" y2="805.1" stroke="#fff" stroke-width="4.4"/>
<line x1="256.9" x2="256.9" y1="580.4" y2="805.1" stroke="#fff" stroke-width="4.4"/>
<line x1="311.7" x2="311.7" y1="580.4" y2="805.1" stroke="#fff" stroke-width="4.4"/>
<circle cx="190.8" cy="778.0" r="9.8" fill="#00BFC4" fill-opacity="0.5"/>
<circle cx="147.3" cy="701.4" r="9.8" fill="#00BFC4" fill-opacity="0.5"/>
<circle cx="148.0" cy="645.8" r="9.8" fill="#F8766D" fill-opacity="0.5"/>
<circle cx="146.8" cy="731.5" r="9.8" fill="#00BFC4" fill-opacity="0.5"/>
<circle cx="225.8" cy="781.8" r="9.8" fill="#00BFC4" fill-opacity="0.5"/>
<circle cx="158.4" cy="766.3" r="9.8" fill="#00BFC4" fill-opacity="0.5"/>
<circle cx="189.5" cy="720.9" r="9.8" fill="#00BFC4" fill-opacity="0.5"/>
<circle cx="141.5" cy="635.4" r="9.8" fill="#F8766D" fill-opacity="0.5"/>
<circle cx="171.4" cy="685.3" r="9.8" fill="#F8766D" fill-opacity="0.5"/>
<circle cx="247.2" cy="717.0" r="9.8" fill="#00BFC4" fill-opacity="0.5"/>
<circle cx="146.1" cy="611.4" r="9.8" fill="#F8766D" fill-opacity="0.5"/>
<circle cx="128.6" cy="732.6" r="9.8" fill="#00BFC4" fill-opacity="0.5"/>
<circle cx="145.4" cy="680.8" r="9.8" fill="#F8766D" fill-opacity="0.5"/>
<circle cx="149.3" cy="710.6" r="9.8" fill="#00BFC4" fill-opacity="0.5"/>
<circle cx="219.3" cy="716.4" r="9.8" fill="#00BFC4" fill-opacity="0.5"/>
<circle cx="134.8" cy="677.6" r="9.8" fill="#F8766D" fill-opacity="0.5"/>
<circle cx="133.8" cy="724.8" r="9.8" fill="#00BFC4" fill-opacity="0.5"/>
<circle cx="148.0" cy="684.6" r="9.8" fill="#00BFC4" fill-opacity="0.5"/>
<circle cx="126.0" cy="658.7" r="9.8" fill="#F8766D" fill-opacity="0.5"/>
<circle cx="136.4" cy="709.3" r="9.8" fill="#00BFC4" fill-opacity="0.5"/>
<circle cx="134.9" cy="738.5" r="9.8" fill="#00BFC4" fill-opacity="0.5"/>
<circle cx="205.0" cy="676.2" r="9.8" fill="#F8766D" fill-opacity="0.5"/>
<circle cx="130.3" cy="736.2" r="9.8" fill="#00BFC4" fill-opacity="0.5"/>
<circle cx="162.3" cy="723.5" r="9.8" fill="#F8766D" fill-opacity="0.5"/>
<circle cx="145.4" cy="733.9" r="9.8" fill="#00BFC4" fill-opacity="0.5"/>
<circle cx="194.7" cy="748.1" r="9.8" fill="#00BFC4" fill-opacity="0.5"/>
<circle cx="120.2" cy="627.0" r="9.8" fill="#F8766D" fill-opacity="0.5"/>
<circle cx="142.8" cy="723.5" r="9.8" fill="#00BFC4" fill-opacity="0.5"/>
<circle cx="170.1" cy="652.2" r="9.8" fill="#00BFC4" fill-opacity="0.5"/>
<circle cx="129.9" cy="740.4" r="9.8" fill="#00BFC4" fill-opacity="0.5"/>
<circle cx="139.0" cy="794.8" r="9.8" fill="#00BFC4" fill-opacity="0.5"/>
<circle cx="147.8" cy="738.2" r="9.8" fill="#00BFC4" fill-opacity="0.5"/>
<circle cx="153.2" cy="736.5" r="9.8" fill="#00BFC4" fill-opacity="0.5"/>
<circle cx="175.2" cy="762.4" r="9.8" fill="#00BFC4" fill-opacity="0.5"/>
<circle cx="155.8" cy="597.2" r="9.8" fill="#F8766D" fill-opacity="0.5"/>
<circle cx="233.6" cy="704.1" r="9.8" fill="#00BFC4" fill-opacity="0.5"/>
<circle cx="149.3" cy="768.9" r="9.8" fill="#00BFC4" fill-opacity="0.5"/>
<circle cx="140.2" cy="771.5" r="9.8" fill="#00BFC4" fill-opacity="0.5"/>
<circle cx="128.6" cy="752.0" r="9.8" fill="#00BFC4" fill-opacity="0.5"/>
<circle cx="158.7" cy="693.3" r="9.8" fill="#00BFC4" fill-opacity="0.5"/>
<circle cx="157.2" cy="692.6" r="9.8" fill="#00BFC4" fill-opacity="0.5"/>
<circle cx="145.4" cy="656.1" r="9.8" fill="#00BFC4" fill-opacity="0.5"/>
<circle cx="168.8" cy="726.1" r="9.8" fill="#00BFC4" fill-opacity="0.5"/>
<circle cx="138.8" cy="682.0" r="9.8" fill="#F8766D" fill-opacity="0.5"/>
<circle cx="143.2" cy="647.7" r="9.8" fill="#F8766D" fill-opacity="0.5"/>
<circle cx="127.1" cy="740.4" r="9.8" fill="#00BFC4" fill-opacity="0.5"/>
<circle cx="140.2" cy="697.6" r="9.8" fill="#00BFC4" fill-opacity="0.5"/>
<circle cx="140.2" cy="674.3" r="9.8" fill="#F8766D" fill-opacity="0.5"/>
<circle cx="141.0" cy="745.2" r="9.8" fill="#00BFC4" fill-opacity="0.5"/>
<circle cx="193.4" cy="752.0" r="9.8" fill="#00BFC4" fill-opacity="0.5"/>
<circle cx="163.6" cy="736.5" r="9.8" fill="#00BFC4" fill-opacity="0.5"/>
<circle cx="150.3" cy="696.6" r="9.8" fill="#00BFC4" fill-opacity="0.5"/>
<circle cx="181.7" cy="762.4" r="9.8" fill="#00BFC4" fill-opacity="0.5"/>
<circle cx="135.1" cy="667.8" r="9.8" fill="#00BFC4" fill-opacity="0.5"/>
<circle cx="162.3" cy="667.8" r="9.8" fill="#00BFC4" fill-opacity="0.5"/>
<circle cx="151.9" cy="597.8" r="9.8" fill="#F8766D" fill-opacity="0.5"/>
<circle cx="135.5" cy="702.3" r="9.8" fill="#00BFC4" fill-opacity="0.5"/>
<circle cx="123.4" cy="745.6" r="9.8" fill="#00BFC4" fill-opacity="0.5"/>
<circle cx="148.8" cy="651.4" r="9.8" fill="#F8766D" fill-opacity="0.5"/>
<circle cx="153.2" cy="658.7" r="9.8" fill="#F8766D" fill-opacity="0.5"/>
<circle cx="137.9" cy="742.5" r="9.8" fill="#00BFC4" fill-opacity="0.5"/>
<circle cx="151.9" cy="639.3" r="9.8" fill="#F8766D" fill-opacity="0.5"/>
<circle cx="162.3" cy="717.0" r="9.8" fill="#00BFC4" fill-opacity="0.5"/>
<circle cx="229.7" cy="722.9" r="9.8" fill="#00BFC4" fill-opacity="0.5"/>
<circle cx="102.7" cy="731.3" r="9.8" fill="#00BFC4" fill-opacity="0.5"/>
<circle cx="142.8" cy="710.6" r="9.8" fill="#F8766D" fill-opacity="0.5"/>
<circle cx="155.8" cy="650.9" r="9.8" fill="#F8766D" fill-opacity="0.5"/>
<circle cx="168.8" cy="697.6" r="9.8" fill="#00BFC4" fill-opacity="0.5"/>
<circle cx="153.6" cy="699.8" r="9.8" fill="#00BFC4" fill-opacity="0.5"/>
<circle cx="154.5" cy="684.6" r="9.8" fill="#00BFC4" fill-opacity="0.5"/>
<circle cx="149.3" cy="697.6" r="9.8" fill="#00BFC4" fill-opacity="0.5"/>
<circle cx="155.8" cy="723.5" r="9.8" fill="#00BFC4" fill-opacity="0.5"/>
<circle cx="184.3" cy="768.9" r="9.8" fill="#00BFC4" fill-opacity="0.5"/>
<circle cx="158.4" cy="666.5" r="9.8" fill="#00BFC4" fill-opacity="0.5"/>
<circle cx="145.4" cy="652.2" r="9.8" fill="#F8766D" fill-opacity="0.5"/>
<circle cx="146.7" cy="752.0" r="9.8" fill="#00BFC4" fill-opacity="0.5"/>
<circle cx="116.9" cy="715.1" r="9.8" fill="#00BFC4" fill-opacity="0.5"/>
<circle cx="328.2" cy="685.3" r="9.8" fill="#00BFC4" fill-opacity="0.5"/>
<circle cx="162.3" cy="697.6" r="9.8" fill="#00BFC4" fill-opacity="0.5"/>
<circle cx="196.6" cy="691.1" r="9.8" fill="#00BFC4" fill-opacity="0.5"/>
<circle cx="138.9" cy="731.8" r="9.8" fill="#00BFC4" fill-opacity="0.5"/>
<circle cx="241.3" cy="708.0" r="9.8" fill="#00BFC4" fill-opacity="0.5"/>
<circle cx="186.9" cy="730.0" r="9.8" fill="#00BFC4" fill-opacity="0.5"/>
<circle cx="129.9" cy="771.5" r="9.8" fill="#00BFC4" fill-opacity="0.5"/>
<circle cx="148.6" cy="741.1" r="9.8" fill="#00BFC4" fill-opacity="0.5"/>
<circle cx="128.6" cy="710.6" r="9.8" fill="#00BFC4" fill-opacity="0.5"/>
<circle cx="136.4" cy="732.6" r="9.8" fill="#00BFC4" fill-opacity="0.5"/>
<circle cx="151.9" cy="663.9" r="9.8" fill="#00BFC4" fill-opacity="0.5"/>
<circle cx="144.9" cy="643.8" r="9.8" fill="#F8766D" fill-opacity="0.5"/>
<circle cx="120.2" cy="696.3" r="9.8" fill="#00BFC4" fill-opacity="0.5"/>
<circle cx="190.8" cy="713.2" r="9.8" fill="#00BFC4" fill-opacity="0.5"/>
<circle cx="133.0" cy="738.2" r="9.8" fill="#00BFC4" fill-opacity="0.5"/>
<circle cx="136.4" cy="679.5" r="9.8" fill="#F8766D" fill-opacity="0.5"/>
<circle cx="202.5" cy="733.9" r="9.8" fill="#F8766D" fill-opacity="0.5"/>
<circle cx="155.8" cy="743.0" r="9.8" fill="#00BFC4" fill-opacity="0.5"/>
<circle cx="140.2" cy="743.0" r="9.8" fill="#00BFC4" fill-opacity="0.5"/>
<circle cx="188.2" cy="723.5" r="9.8" fill="#00BFC4" fill-opacity="0.5"/>
<circle cx="142.8" cy="590.0" r="9.8" fill="#F8766D" fill-opacity="0.5"/>
<circle cx="157.1" cy="781.8" r="9.8" fill="#00BFC4" fill-opacity="0.5"/>
<circle cx="150.6" cy="727.4" r="9.8" fill="#00BFC4" fill-opacity="0.5"/>
<circle cx="180.4" cy="713.2" r="9.8" fill="#00BFC4" fill-opacity="0.5"/>
</g>
<g clip-path="url(#c21)">
<rect x="362.9" y="580.4" width="248.0" height="224.7" fill="#EBEBEB"/>
<line x1="362.9" x2="610.9" y1="790.7" y2="790.7" stroke="#fff" stroke-width="2.2"/>
<line x1="362.9" x2="610.9" y1="746.2" y2="746.2" stroke="#fff" stroke-width="2.2"/>
<line x1="362.9" x2="610.9" y1="701.7" y2="701.7" stroke="#fff" stroke-width="2.2"/>
<line x1="362.9" x2="610.9" y1="657.3" y2="657.3" stroke="#fff" stroke-width="2.2"/>
<line x1="362.9" x2="610.9" y1="612.8" y2="612.8" stroke="#fff" stroke-width="2.2"/>
<line x1="413.0" x2="413.0" y1="580.4" y2="805.1" stroke="#fff" stroke-width="2.2"/>
<line x1="489.2" x2="489.2" y1="580.4" y2="805.1" stroke="#fff" stroke-width="2.2"/>
<line x1="565.4" x2="565.4" y1="580.4" y2="805.1" stroke="#fff" stroke-width="2.2"/>
<line x1="362.9" x2="610.9" y1="768.4" y2="768.4" stroke="#fff" stroke-width="4.4"/>
<line x1="362.9" x2="610.9" y1="724.0" y2="724.0" stroke="#fff" stroke-width="4.4"/>
<line x1="362.9" x2="610.9" y1="679.5" y2="679.5" stroke="#fff" stroke-width="4.4"/>
<line x1="362.9" x2="610.9" y1="635.1" y2="635.1" stroke="#fff" stroke-width="4.4"/>
<line x1="362.9" x2="610.9" y1="590.6" y2="590.6" stroke="#fff" stroke-width="4.4"/>
<line x1="374.9" x2="374.9" y1="580.4" y2="805.1" stroke="#fff" stroke-width="4.4"/>
<line x1="451.1" x2="451.1" y1="580.4" y2="805.1" stroke="#fff" stroke-width="4.4"/>
<line x1="527.3" x2="527.3" y1="580.4" y2="805.1" stroke="#fff" stroke-width="4.4"/>
<line x1="603.5" x2="603.5" y1="580.4" y2="805.1" stroke="#fff" stroke-width="4.4"/>
<circle cx="540.8" cy="674.3" r="9.8" fill="#F8766D" fill-opacity="0.5"/>
<circle cx="589.8" cy="738.8" r="9.8" fill="#00BFC4" fill-opacity="0.5"/>
<circle cx="490.3" cy="767.6" r="9.8" fill="#00BFC4" fill-opacity="0.5"/>
<circle cx="527.9" cy="736.5" r="9.8" fill="#00BFC4" fill-opacity="0.5"/>
<circle cx="537.0" cy="711.9" r="9.8" fill="#F8766D" fill-opacity="0.5"/>
<circle cx="577.1" cy="746.8" r="9.8" fill="#00BFC4" fill-opacity="0.5"/>
<circle cx="560.5" cy="736.9" r="9.8" fill="#00BFC4" fill-opacity="0.5"/>
<circle cx="540.8" cy="740.4" r="9.8" fill="#00BFC4" fill-opacity="0.5"/>
<circle cx="494.2" cy="688.5" r="9.8" fill="#00BFC4" fill-opacity="0.5"/>
<circle cx="440.4" cy="702.1" r="9.8" fill="#00BFC4" fill-opacity="0.5"/>
<circle cx="590.1" cy="794.8" r="9.8" fill="#00BFC4" fill-opacity="0.5"/>
<circle cx="533.1" cy="659.4" r="9.8" fill="#F8766D" fill-opacity="0.5"/>
<circle cx="473.5" cy="684.6" r="9.8" fill="#00BFC4" fill-opacity="0.5"/>
<circle cx="556.4" cy="700.8" r="9.8" fill="#F8766D" fill-opacity="0.5"/>
<circle cx="498.1" cy="727.4" r="9.8" fill="#00BFC4" fill-opacity="0.5"/>
<circle cx="556.4" cy="754.6" r="9.8" fill="#00BFC4" fill-opacity="0.5"/>
<circle cx="562.9" cy="717.0" r="9.8" fill="#00BFC4" fill-opacity="0.5"/>
<circle cx="529.2" cy="794.8" r="9.8" fill="#00BFC4" fill-opacity="0.5"/>
<circle cx="572.0" cy="739.1" r="9.8" fill="#00BFC4" fill-opacity="0.5"/>
<circle cx="499.4" cy="679.5" r="9.8" fill="#F8766D" fill-opacity="0.5"/>
<circle cx="583.3" cy="739.1" r="9.8" fill="#00BFC4" fill-opacity="0.5"/>
<circle cx="504.6" cy="752.0" r="9.8" fill="#00BFC4" fill-opacity="0.5"/>
<circle cx="517.5" cy="671.7" r="9.8" fill="#F8766D" fill-opacity="0.5"/>
<circle cx="569.4" cy="680.8" r="9.8" fill="#F8766D" fill-opacity="0.5"/>
<circle cx="525.3" cy="723.5" r="9.8" fill="#F8766D" fill-opacity="0.5"/>
<circle cx="501.3" cy="627.0" r="9.8" fill="#F8766D" fill-opacity="0.5"/>
<circle cx="599.2" cy="710.6" r="9.8" fill="#00BFC4" fill-opacity="0.5"/>
<circle cx="569.4" cy="691.1" r="9.8" fill="#00BFC4" fill-opacity="0.5"/>
<circle cx="574.5" cy="730.0" r="9.8" fill="#00BFC4" fill-opacity="0.5"/>
<circle cx="582.9" cy="743.4" r="9.8" fill="#00BFC4" fill-opacity="0.5"/>
<circle cx="582.3" cy="743.0" r="9.8" fill="#00BFC4" fill-opacity="0.5"/>
<circle cx="476.0" cy="665.2" r="9.8" fill="#00BFC4" fill-opacity="0.5"/>
<circle cx="441.1" cy="611.4" r="9.8" fill="#F8766D" fill-opacity="0.5"/>
<circle cx="587.5" cy="774.1" r="9.8" fill="#00BFC4" fill-opacity="0.5"/>
<circle cx="479.3" cy="650.3" r="9.8" fill="#F8766D" fill-opacity="0.5"/>
<circle cx="451.4" cy="707.3" r="9.8" fill="#00BFC4" fill-opacity="0.5"/>
<circle cx="575.8" cy="713.2" r="9.8" fill="#00BFC4" fill-opacity="0.5"/>
<circle cx="570.2" cy="733.3" r="9.8" fill="#00BFC4" fill-opacity="0.5"/>
<circle cx="514.9" cy="704.1" r="9.8" fill="#00BFC4" fill-opacity="0.5"/>
<circle cx="503.3" cy="778.0" r="9.8" fill="#00BFC4" fill-opacity="0.5"/>
<circle cx="491.6" cy="684.6" r="9.8" fill="#F8766D" fill-opacity="0.5"/>
<circle cx="447.5" cy="677.5" r="9.8" fill="#F8766D" fill-opacity="0.5"/>
<circle cx="595.3" cy="730.0" r="9.8" fill="#00BFC4" fill-opacity="0.5"/>
<circle cx="569.4" cy="702.8" r="9.8" fill="#00BFC4" fill-opacity="0.5"/>
<circle cx="506.7" cy="733.7" r="9.8" fill="#00BFC4" fill-opacity="0.5"/>
<circle cx="433.3" cy="598.5" r="9.8" fill="#F8766D" fill-opacity="0.5"/>
<circle cx="427.4" cy="698.2" r="9.8" fill="#00BFC4" fill-opacity="0.5"/>
<circle cx="551.2" cy="682.0" r="9.8" fill="#F8766D" fill-opacity="0.5"/>
<circle cx="552.5" cy="741.7" r="9.8" fill="#F8766D" fill-opacity="0.5"/>
<circle cx="457.3" cy="590.7" r="9.8" fill="#F8766D" fill-opacity="0.5"/>
<circle cx="507.2" cy="640.6" r="9.8" fill="#F8766D" fill-opacity="0.5"/>
<circle cx="511.0" cy="727.4" r="9.8" fill="#00BFC4" fill-opacity="0.5"/>
<circle cx="547.3" cy="781.8" r="9.8" fill="#00BFC4" fill-opacity="0.5"/>
<circle cx="465.7" cy="636.0" r="9.8" fill="#F8766D" fill-opacity="0.5"/>
<circle cx="524.0" cy="700.2" r="9.8" fill="#00BFC4" fill-opacity="0.5"/>
<circle cx="566.8" cy="730.0" r="9.8" fill="#00BFC4" fill-opacity="0.5"/>
<circle cx="553.8" cy="673.0" r="9.8" fill="#F8766D" fill-opacity="0.5"/>
<circle cx="524.0" cy="766.3" r="9.8" fill="#00BFC4" fill-opacity="0.5"/>
<circle cx="479.9" cy="731.3" r="9.8" fill="#00BFC4" fill-opacity="0.5"/>
<circle cx="530.5" cy="692.4" r="9.8" fill="#00BFC4" fill-opacity="0.5"/>
<circle cx="534.4" cy="704.1" r="9.8" fill="#F8766D" fill-opacity="0.5"/>
<circle cx="499.4" cy="710.6" r="9.8" fill="#00BFC4" fill-opacity="0.5"/>
<circle cx="508.4" cy="735.2" r="9.8" fill="#00BFC4" fill-opacity="0.5"/>
<circle cx="590.1" cy="733.9" r="9.8" fill="#00BFC4" fill-opacity="0.5"/>
<circle cx="583.6" cy="742.1" r="9.8" fill="#00BFC4" fill-opacity="0.5"/>
<circle cx="496.8" cy="762.4" r="9.8" fill="#00BFC4" fill-opacity="0.5"/>
<circle cx="476.0" cy="695.0" r="9.8" fill="#00BFC4" fill-opacity="0.5"/>
<circle cx="584.9" cy="772.8" r="9.8" fill="#00BFC4" fill-opacity="0.5"/>
<circle cx="512.5" cy="732.0" r="9.8" fill="#00BFC4" fill-opacity="0.5"/>
<circle cx="486.4" cy="671.7" r="9.8" fill="#00BFC4" fill-opacity="0.5"/>
<circle cx="522.7" cy="759.8" r="9.8" fill="#00BFC4" fill-opacity="0.5"/>
<circle cx="459.2" cy="696.3" r="9.8" fill="#00BFC4" fill-opacity="0.5"/>
<circle cx="477.3" cy="739.1" r="9.8" fill="#00BFC4" fill-opacity="0.5"/>
<circle cx="514.9" cy="657.4" r="9.8" fill="#F8766D" fill-opacity="0.5"/>
<circle cx="530.5" cy="723.5" r="9.8" fill="#00BFC4" fill-opacity="0.5"/>
<circle cx="599.2" cy="740.4" r="9.8" fill="#00BFC4" fill-opacity="0.5"/>
<circle cx="437.8" cy="670.4" r="9.8" fill="#F8766D" fill-opacity="0.5"/>
<circle cx="529.2" cy="689.8" r="9.8" fill="#F8766D" fill-opacity="0.5"/>
<circle cx="564.2" cy="736.5" r="9.8" fill="#00BFC4" fill-opacity="0.5"/>
<circle cx="507.2" cy="670.4" r="9.8" fill="#F8766D" fill-opacity="0.5"/>
<circle cx="504.6" cy="692.4" r="9.8" fill="#00BFC4" fill-opacity="0.5"/>
<circle cx="525.3" cy="678.2" r="9.8" fill="#F8766D" fill-opacity="0.5"/>
<circle cx="521.4" cy="643.8" r="9.8" fill="#F8766D" fill-opacity="0.5"/>
<circle cx="477.3" cy="700.2" r="9.8" fill="#00BFC4" fill-opacity="0.5"/>
<circle cx="504.6" cy="719.6" r="9.8" fill="#00BFC4" fill-opacity="0.5"/>
<circle cx="579.7" cy="767.6" r="9.8" fill="#00BFC4" fill-opacity="0.5"/>
<circle cx="504.6" cy="657.4" r="9.8" fill="#00BFC4" fill-opacity="0.5"/>
<circle cx="560.3" cy="659.4" r="9.8" fill="#F8766D" fill-opacity="0.5"/>
<circle cx="518.8" cy="733.9" r="9.8" fill="#00BFC4" fill-opacity="0.5"/>
<circle cx="482.5" cy="678.2" r="9.8" fill="#00BFC4" fill-opacity="0.5"/>
<circle cx="509.3" cy="728.5" r="9.8" fill="#00BFC4" fill-opacity="0.5"/>
<circle cx="495.1" cy="719.9" r="9.8" fill="#00BFC4" fill-opacity="0.5"/>
<circle cx="434.6" cy="597.8" r="9.8" fill="#F8766D" fill-opacity="0.5"/>
<circle cx="556.4" cy="726.1" r="9.8" fill="#00BFC4" fill-opacity="0.5"/>
<circle cx="498.1" cy="717.0" r="9.8" fill="#00BFC4" fill-opacity="0.5"/>
<circle cx="582.3" cy="732.6" r="9.8" fill="#00BFC4" fill-opacity="0.5"/>
<circle cx="531.8" cy="766.3" r="9.8" fill="#00BFC4" fill-opacity="0.5"/>
<circle cx="374.3" cy="716.4" r="9.8" fill="#00BFC4" fill-opacity="0.5"/>
<circle cx="504.7" cy="732.2" r="9.8" fill="#00BFC4" fill-opacity="0.5"/>
<circle cx="481.2" cy="723.5" r="9.8" fill="#00BFC4" fill-opacity="0.5"/>
<circle cx="565.5" cy="749.4" r="9.8" fill="#00BFC4" fill-opacity="0.5"/>
<circle cx="504.6" cy="762.4" r="9.8" fill="#00BFC4" fill-opacity="0.5"/>
<circle cx="511.0" cy="682.0" r="9.8" fill="#00BFC4" fill-opacity="0.5"/>
<circle cx="586.2" cy="771.5" r="9.8" fill="#00BFC4" fill-opacity="0.5"/>
<circle cx="442.4" cy="652.2" r="9.8" fill="#F8766D" fill-opacity="0.5"/>
<circle cx="507.2" cy="708.0" r="9.8" fill="#00BFC4" fill-opacity="0.5"/>
<circle cx="599.2" cy="713.2" r="9.8" fill="#00BFC4" fill-opacity="0.5"/>
<circle cx="470.2" cy="781.8" r="9.8" fill="#00BFC4" fill-opacity="0.5"/>
<circle cx="498.1" cy="749.4" r="9.8" fill="#00BFC4" fill-opacity="0.5"/>
<circle cx="517.5" cy="650.9" r="9.8" fill="#F8766D" fill-opacity="0.5"/>
<circle cx="503.3" cy="657.4" r="9.8" fill="#F8766D" fill-opacity="0.5"/>
<circle cx="455.3" cy="652.9" r="9.8" fill="#F8766D" fill-opacity="0.5"/>
</g>
<g clip-path="url(#c22)">
<rect x="633.9" y="580.4" width="248.0" height="224.7" fill="#EBEBEB"/>
<line x1="633.9" x2="881.9" y1="756.7" y2="756.7" stroke="#fff" stroke-width="2.2"/>
<line x1="633.9" x2="881.9" y1="680.3" y2="680.3" stroke="#fff" stroke-width="2.2"/>
<line x1="633.9" x2="881.9" y1="603.9" y2="603.9" stroke="#fff" stroke-width="2.2"/>
<line x1="649.9" x2="649.9" y1="580.4" y2="805.1" stroke="#fff" stroke-width="2.2"/>
<line x1="698.9" x2="698.9" y1="580.4" y2="805.1" stroke="#fff" stroke-width="2.2"/>
<line x1="748.0" x2="748.0" y1="580.4" y2="805.1" stroke="#fff" stroke-width="2.2"/>
<line x1="797.1" x2="797.1" y1="580.4" y2="805.1" stroke="#fff" stroke-width="2.2"/>
<line x1="846.2" x2="846.2" y1="580.4" y2="805.1" stroke="#fff" stroke-width="2.2"/>
<line x1="633.9" x2="881.9" y1="794.9" y2="794.9" stroke="#fff" stroke-width="4.4"/>
<line x1="633.9" x2="881.9" y1="718.5" y2="718.5" stroke="#fff" stroke-width="4.4"/>
<line x1="633.9" x2="881.9" y1="642.1" y2="642.1" stroke="#fff" stroke-width="4.4"/>
<line x1="674.4" x2="674.4" y1="580.4" y2="805.1" stroke="#fff" stroke-width="4.4"/>
<line x1="723.5" x2="723.5" y1="580.4" y2="805.1" stroke="#fff" stroke-width="4.4"/>
<line x1="772.5" x2="772.5" y1="580.4" y2="805.1" stroke="#fff" stroke-width="4.4"/>
<line x1="821.6" x2="821.6" y1="580.4" y2="805.1" stroke="#fff" stroke-width="4.4"/>
<line x1="870.7" x2="870.7" y1="580.4" y2="805.1" stroke="#fff" stroke-width="4.4"/>
<path d="M644.5,793.0 C647.1,793.0 654.6,792.8 660.2,792.6 C665.8,792.4 673.9,792.4 678.0,791.7 C682.1,790.9 682.6,789.9 684.8,788.2 C687.1,786.5 689.4,784.1 691.7,781.4 C694.0,778.7 696.3,774.5 698.5,771.8 C700.8,769.1 703.1,766.8 705.4,765.0 C707.7,763.1 709.7,761.8 712.2,760.9 C714.7,759.9 718.4,759.9 720.4,759.5 C722.5,759.0 722.9,759.3 724.5,758.1 C726.1,757.0 727.7,755.6 730.0,752.6 C732.3,749.7 735.7,744.7 738.2,740.3 C740.7,736.0 743.0,731.9 745.1,726.6 C747.1,721.4 748.9,715.2 750.5,708.9 C752.1,702.5 753.3,695.2 754.6,688.3 C756.0,681.5 757.4,675.8 758.7,667.8 C760.1,659.8 761.5,648.9 762.9,640.4 C764.2,632.0 765.6,624.2 767.0,617.2 C768.3,610.1 769.6,602.2 771.1,598.0 C772.5,593.8 774.3,592.1 775.9,591.8 C777.5,591.6 778.9,593.6 780.6,596.6 C782.4,599.7 784.3,605.8 786.1,610.3 C787.9,614.9 789.5,619.4 791.6,624.0 C793.6,628.6 796.4,632.7 798.4,637.7 C800.5,642.7 802.1,648.4 803.9,654.1 C805.7,659.8 807.6,665.5 809.4,671.9 C811.2,678.3 813.0,685.1 814.9,692.4 C816.7,699.7 818.5,707.7 820.3,715.7 C822.2,723.7 824.0,733.3 825.8,740.3 C827.6,747.4 829.5,754.0 831.3,758.1 C833.1,762.2 834.9,763.6 836.8,765.0 C838.6,766.3 840.2,767.0 842.2,766.3 C844.3,765.6 846.6,763.1 849.1,760.9 C851.6,758.6 855.0,754.2 857.3,752.6 C859.6,751.1 861.2,750.8 862.8,751.3 C864.4,751.7 865.5,754.0 866.9,755.4 C868.2,756.8 870.3,758.8 871.0,759.5 L871.0,794.9 L644.5,794.9 Z" fill="#F8766D" fill-opacity="0.5" stroke="none"/>
<path d="M644.5,793.0 C647.1,793.0 654.6,792.8 660.2,792.6 C665.8,792.4 673.9,792.4 678.0,791.7 C682.1,790.9 682.6,789.9 684.8,788.2 C687.1,786.5 689.4,784.1 691.7,781.4 C694.0,778.7 696.3,774.5 698.5,771.8 C700.8,769.1 703.1,766.8 705.4,765.0 C707.7,763.1 709.7,761.8 712.2,760.9 C714.7,759.9 718.4,759.9 720.4,759.5 C722.5,759.0 722.9,759.3 724.5,758.1 C726.1,757.0 727.7,755.6 730.0,752.6 C732.3,749.7 735.7,744.7 738.2,740.3 C740.7,736.0 743.0,731.9 745.1,726.6 C747.1,721.4 748.9,715.2 750.5,708.9 C752.1,702.5 753.3,695.2 754.6,688.3 C756.0,681.5 757.4,675.8 758.7,667.8 C760.1,659.8 761.5,648.9 762.9,640.4 C764.2,632.0 765.6,624.2 767.0,617.2 C768.3,610.1 769.6,602.2 771.1,598.0 C772.5,593.8 774.3,592.1 775.9,591.8 C777.5,591.6 778.9,593.6 780.6,596.6 C782.4,599.7 784.3,605.8 786.1,610.3 C787.9,614.9 789.5,619.4 791.6,624.0 C793.6,628.6 796.4,632.7 798.4,637.7 C800.5,642.7 802.1,648.4 803.9,654.1 C805.7,659.8 807.6,665.5 809.4,671.9 C811.2,678.3 813.0,685.1 814.9,692.4 C816.7,699.7 818.5,707.7 820.3,715.7 C822.2,723.7 824.0,733.3 825.8,740.3 C827.6,747.4 829.5,754.0 831.3,758.1 C833.1,762.2 834.9,763.6 836.8,765.0 C838.6,766.3 840.2,767.0 842.2,766.3 C844.3,765.6 846.6,763.1 849.1,760.9 C851.6,758.6 855.0,754.2 857.3,752.6 C859.6,751.1 861.2,750.8 862.8,751.3 C864.4,751.7 865.5,754.0 866.9,755.4 C868.2,756.8 870.3,758.8 871.0,759.5" fill="none" stroke="#000" stroke-width="4.5" stroke-linejoin="round"/>
<path d="M644.5,779.3 C646.0,777.6 650.5,773.1 653.4,769.1 C656.2,765.1 659.3,759.5 661.6,755.4 C663.9,751.3 665.2,747.4 667.1,744.4 C668.9,741.5 670.2,739.9 672.5,737.6 C674.8,735.3 678.5,733.3 680.7,730.8 C683.0,728.2 684.4,726.6 686.2,722.5 C688.0,718.4 689.9,713.0 691.7,706.1 C693.5,699.3 695.6,690.2 697.2,681.5 C698.8,672.8 699.9,662.8 701.3,654.1 C702.6,645.4 704.0,636.8 705.4,629.5 C706.7,622.2 708.1,615.6 709.5,610.3 C710.9,605.1 712.4,600.5 713.6,598.0 C714.7,595.5 715.2,595.0 716.3,595.3 C717.5,595.5 719.1,596.9 720.4,599.4 C721.8,601.9 722.9,605.8 724.5,610.3 C726.1,614.9 728.2,621.3 730.0,626.7 C731.8,632.2 733.7,638.1 735.5,643.2 C737.3,648.2 739.1,652.7 741.0,656.9 C742.8,661.0 744.2,663.2 746.4,667.8 C748.7,672.4 751.9,678.5 754.6,684.2 C757.4,689.9 760.1,696.1 762.9,702.0 C765.6,707.9 768.3,714.6 771.1,719.8 C773.8,725.0 776.8,729.2 779.3,733.5 C781.8,737.8 783.8,741.7 786.1,745.8 C788.4,749.9 790.5,753.8 793.0,758.1 C795.5,762.5 798.7,767.9 801.2,771.8 C803.7,775.7 805.7,778.8 808.0,781.4 C810.3,784.0 812.4,786.0 814.9,787.5 C817.4,789.1 820.3,790.1 823.1,791.0 C825.8,791.8 823.3,792.3 831.3,792.6 C839.3,793.0 864.4,793.0 871.0,793.0 L871.0,794.9 L644.5,794.9 Z" fill="#00BFC4" fill-opacity="0.5" stroke="none"/>
<path d="M644.5,779.3 C646.0,777.6 650.5,773.1 653.4,769.1 C656.2,765.1 659.3,759.5 661.6,755.4 C663.9,751.3 665.2,747.4 667.1,744.4 C668.9,741.5 670.2,739.9 672.5,737.6 C674.8,735.3 678.5,733.3 680.7,730.8 C683.0,728.2 684.4,726.6 686.2,722.5 C688.0,718.4 689.9,713.0 691.7,706.1 C693.5,699.3 695.6,690.2 697.2,681.5 C698.8,672.8 699.9,662.8 701.3,654.1 C702.6,645.4 704.0,636.8 705.4,629.5 C706.7,622.2 708.1,615.6 709.5,610.3 C710.9,605.1 712.4,600.5 713.6,598.0 C714.7,595.5 715.2,595.0 716.3,595.3 C717.5,595.5 719.1,596.9 720.4,599.4 C721.8,601.9 722.9,605.8 724.5,610.3 C726.1,614.9 728.2,621.3 730.0,626.7 C731.8,632.2 733.7,638.1 735.5,643.2 C737.3,648.2 739.1,652.7 741.0,656.9 C742.8,661.0 744.2,663.2 746.4,667.8 C748.7,672.4 751.9,678.5 754.6,684.2 C757.4,689.9 760.1,696.1 762.9,702.0 C765.6,707.9 768.3,714.6 771.1,719.8 C773.8,725.0 776.8,729.2 779.3,733.5 C781.8,737.8 783.8,741.7 786.1,745.8 C788.4,749.9 790.5,753.8 793.0,758.1 C795.5,762.5 798.7,767.9 801.2,771.8 C803.7,775.7 805.7,778.8 808.0,781.4 C810.3,784.0 812.4,786.0 814.9,787.5 C817.4,789.1 820.3,790.1 823.1,791.0 C825.8,791.8 823.3,792.3 831.3,792.6 C839.3,793.0 864.4,793.0 871.0,793.0" fill="none" stroke="#000" stroke-width="4.5" stroke-linejoin="round"/>
</g>
<g clip-path="url(#c30)">
<rect x="91.8" y="828.1" width="248.0" height="224.7" fill="#EBEBEB"/>
<line x1="91.8" x2="339.8" y1="1047.9" y2="1047.9" stroke="#fff" stroke-width="2.2"/>
<line x1="91.8" x2="339.8" y1="1002.0" y2="1002.0" stroke="#fff" stroke-width="2.2"/>
<line x1="91.8" x2="339.8" y1="956.1" y2="956.1" stroke="#fff" stroke-width="2.2"/>
<line x1="91.8" x2="339.8" y1="910.3" y2="910.3" stroke="#fff" stroke-width="2.2"/>
<line x1="91.8" x2="339.8" y1="864.4" y2="864.4" stroke="#fff" stroke-width="2.2"/>
<line x1="119.8" x2="119.8" y1="828.1" y2="1052.8" stroke="#fff" stroke-width="2.2"/>
<line x1="174.6" x2="174.6" y1="828.1" y2="1052.8" stroke="#fff" stroke-width="2.2"/>
<line x1="229.5" x2="229.5" y1="828.1" y2="1052.8" stroke="#fff" stroke-width="2.2"/>
<line x1="284.3" x2="284.3" y1="828.1" y2="1052.8" stroke="#fff" stroke-width="2.2"/>
<line x1="339.1" x2="339.1" y1="828.1" y2="1052.8" stroke="#fff" stroke-width="2.2"/>
<line x1="91.8" x2="339.8" y1="1024.9" y2="1024.9" stroke="#fff" stroke-width="4.4"/>
<line x1="91.8" x2="339.8" y1="979.1" y2="979.1" stroke="#fff" stroke-width="4.4"/>
<line x1="91.8" x2="339.8" y1="933.2" y2="933.2" stroke="#fff" stroke-width="4.4"/>
<line x1="91.8" x2="339.8" y1="887.3" y2="887.3" stroke="#fff" stroke-width="4.4"/>
<line x1="91.8" x2="339.8" y1="841.5" y2="841.5" stroke="#fff" stroke-width="4.4"/>
<line x1="92.4" x2="92.4" y1="828.1" y2="1052.8" stroke="#fff" stroke-width="4.4"/>
<line x1="147.2" x2="147.2" y1="828.1" y2="1052.8" stroke="#fff" stroke-width="4.4"/>
<line x1="202.0" x2="202.0" y1="828.1" y2="1052.8" stroke="#fff" stroke-width="4.4"/>
<line x1="256.9" x2="256.9" y1="828.1" y2="1052.8" stroke="#fff" stroke-width="4.4"/>
<line x1="311.7" x2="311.7" y1="828.1" y2="1052.8" stroke="#fff" stroke-width="4.4"/>
<circle cx="142.8" cy="909.3" r="9.8" fill="#00BFC4" fill-opacity="0.5"/>
<circle cx="102.7" cy="1003.9" r="9.8" fill="#00BFC4" fill-opacity="0.5"/>
<circle cx="247.2" cy="941.7" r="9.8" fill="#00BFC4" fill-opacity="0.5"/>
<circle cx="144.1" cy="914.5" r="9.8" fill="#00BFC4" fill-opacity="0.5"/>
<circle cx="136.4" cy="945.6" r="9.8" fill="#00BFC4" fill-opacity="0.5"/>
<circle cx="155.8" cy="865.2" r="9.8" fill="#00BFC4" fill-opacity="0.5"/>
<circle cx="119.5" cy="1036.3" r="9.8" fill="#F8766D" fill-opacity="0.5"/>
<circle cx="135.1" cy="956.0" r="9.8" fill="#F8766D" fill-opacity="0.5"/>
<circle cx="174.6" cy="924.2" r="9.8" fill="#00BFC4" fill-opacity="0.5"/>
<circle cx="159.7" cy="838.0" r="9.8" fill="#00BFC4" fill-opacity="0.5"/>
<circle cx="132.5" cy="965.0" r="9.8" fill="#00BFC4" fill-opacity="0.5"/>
<circle cx="133.8" cy="958.6" r="9.8" fill="#00BFC4" fill-opacity="0.5"/>
<circle cx="131.2" cy="971.5" r="9.8" fill="#00BFC4" fill-opacity="0.5"/>
<circle cx="123.4" cy="1031.1" r="9.8" fill="#F8766D" fill-opacity="0.5"/>
<circle cx="135.7" cy="952.1" r="9.8" fill="#00BFC4" fill-opacity="0.5"/>
<circle cx="128.6" cy="1028.5" r="9.8" fill="#F8766D" fill-opacity="0.5"/>
<circle cx="142.2" cy="927.5" r="9.8" fill="#00BFC4" fill-opacity="0.5"/>
<circle cx="226.4" cy="945.0" r="9.8" fill="#00BFC4" fill-opacity="0.5"/>
<circle cx="140.2" cy="962.4" r="9.8" fill="#F8766D" fill-opacity="0.5"/>
<circle cx="140.2" cy="936.5" r="9.8" fill="#00BFC4" fill-opacity="0.5"/>
<circle cx="127.3" cy="1013.0" r="9.8" fill="#00BFC4" fill-opacity="0.5"/>
<circle cx="179.1" cy="962.4" r="9.8" fill="#00BFC4" fill-opacity="0.5"/>
<circle cx="129.9" cy="978.0" r="9.8" fill="#00BFC4" fill-opacity="0.5"/>
<circle cx="148.0" cy="893.8" r="9.8" fill="#00BFC4" fill-opacity="0.5"/>
<circle cx="203.1" cy="971.5" r="9.8" fill="#F8766D" fill-opacity="0.5"/>
<circle cx="197.3" cy="950.8" r="9.8" fill="#00BFC4" fill-opacity="0.5"/>
<circle cx="145.4" cy="923.6" r="9.8" fill="#F8766D" fill-opacity="0.5"/>
<circle cx="132.5" cy="981.9" r="9.8" fill="#00BFC4" fill-opacity="0.5"/>
<circle cx="161.0" cy="851.0" r="9.8" fill="#00BFC4" fill-opacity="0.5"/>
<circle cx="124.7" cy="1023.4" r="9.8" fill="#00BFC4" fill-opacity="0.5"/>
<circle cx="116.9" cy="1042.8" r="9.8" fill="#00BFC4" fill-opacity="0.5"/>
<circle cx="158.4" cy="870.4" r="9.8" fill="#F8766D" fill-opacity="0.5"/>
<circle cx="128.6" cy="1005.2" r="9.8" fill="#00BFC4" fill-opacity="0.5"/>
<circle cx="158.4" cy="882.1" r="9.8" fill="#00BFC4" fill-opacity="0.5"/>
<circle cx="170.1" cy="919.7" r="9.8" fill="#F8766D" fill-opacity="0.5"/>
<circle cx="135.1" cy="998.7" r="9.8" fill="#00BFC4" fill-opacity="0.5"/>
<circle cx="141.5" cy="917.1" r="9.8" fill="#00BFC4" fill-opacity="0.5"/>
<circle cx="189.5" cy="961.2" r="9.8" fill="#00BFC4" fill-opacity="0.5"/>
<circle cx="145.4" cy="904.1" r="9.8" fill="#00BFC4" fill-opacity="0.5"/>
<circle cx="149.3" cy="880.8" r="9.8" fill="#00BFC4" fill-opacity="0.5"/>
<circle cx="181.7" cy="944.3" r="9.8" fill="#00BFC4" fill-opacity="0.5"/>
<circle cx="150.6" cy="870.4" r="9.8" fill="#00BFC4" fill-opacity="0.5"/>
<circle cx="163.6" cy="847.1" r="9.8" fill="#00BFC4" fill-opacity="0.5"/>
<circle cx="161.6" cy="848.4" r="9.8" fill="#F8766D" fill-opacity="0.5"/>
<circle cx="120.8" cy="1029.8" r="9.8" fill="#00BFC4" fill-opacity="0.5"/>
<circle cx="146.7" cy="900.2" r="9.8" fill="#00BFC4" fill-opacity="0.5"/>
<circle cx="131.2" cy="996.1" r="9.8" fill="#00BFC4" fill-opacity="0.5"/>
<circle cx="148.0" cy="886.0" r="9.8" fill="#00BFC4" fill-opacity="0.5"/>
<circle cx="135.1" cy="953.4" r="9.8" fill="#00BFC4" fill-opacity="0.5"/>
<circle cx="128.6" cy="1009.1" r="9.8" fill="#00BFC4" fill-opacity="0.5"/>
<circle cx="139.0" cy="941.7" r="9.8" fill="#00BFC4" fill-opacity="0.5"/>
<circle cx="183.0" cy="952.1" r="9.8" fill="#00BFC4" fill-opacity="0.5"/>
<circle cx="205.0" cy="959.9" r="9.8" fill="#F8766D" fill-opacity="0.5"/>
<circle cx="142.8" cy="922.3" r="9.8" fill="#F8766D" fill-opacity="0.5"/>
<circle cx="184.3" cy="904.1" r="9.8" fill="#00BFC4" fill-opacity="0.5"/>
<circle cx="189.5" cy="972.8" r="9.8" fill="#00BFC4" fill-opacity="0.5"/>
<circle cx="148.0" cy="906.7" r="9.8" fill="#F8766D" fill-opacity="0.5"/>
<circle cx="137.7" cy="948.2" r="9.8" fill="#00BFC4" fill-opacity="0.5"/>
<circle cx="141.5" cy="932.6" r="9.8" fill="#00BFC4" fill-opacity="0.5"/>
<circle cx="140.2" cy="924.9" r="9.8" fill="#00BFC4" fill-opacity="0.5"/>
<circle cx="153.2" cy="876.9" r="9.8" fill="#F8766D" fill-opacity="0.5"/>
<circle cx="145.4" cy="898.9" r="9.8" fill="#F8766D" fill-opacity="0.5"/>
<circle cx="129.9" cy="983.2" r="9.8" fill="#00BFC4" fill-opacity="0.5"/>
<circle cx="154.5" cy="858.8" r="9.8" fill="#00BFC4" fill-opacity="0.5"/>
<circle cx="151.9" cy="875.6" r="9.8" fill="#00BFC4" fill-opacity="0.5"/>
<circle cx="161.0" cy="858.8" r="9.8" fill="#F8766D" fill-opacity="0.5"/>
<circle cx="148.0" cy="888.6" r="9.8" fill="#F8766D" fill-opacity="0.5"/>
<circle cx="159.7" cy="838.0" r="9.8" fill="#F8766D" fill-opacity="0.5"/>
<circle cx="167.5" cy="939.8" r="9.8" fill="#00BFC4" fill-opacity="0.5"/>
</g>
<g clip-path="url(#c31)">
<rect x="362.9" y="828.1" width="248.0" height="224.7" fill="#EBEBEB"/>
<line x1="362.9" x2="610.9" y1="1047.9" y2="1047.9" stroke="#fff" stroke-width="2.2"/>
<line x1="362.9" x2="610.9" y1="1002.0" y2="1002.0" stroke="#fff" stroke-width="2.2"/>
<line x1="362.9" x2="610.9" y1="956.1" y2="956.1" stroke="#fff" stroke-width="2.2"/>
<line x1="362.9" x2="610.9" y1="910.3" y2="910.3" stroke="#fff" stroke-width="2.2"/>
<line x1="362.9" x2="610.9" y1="864.4" y2="864.4" stroke="#fff" stroke-width="2.2"/>
<line x1="413.0" x2="413.0" y1="828.1" y2="1052.8" stroke="#fff" stroke-width="2.2"/>
<line x1="489.2" x2="489.2" y1="828.1" y2="1052.8" stroke="#fff" stroke-width="2.2"/>
<line x1="565.4" x2="565.4" y1="828.1" y2="1052.8" stroke="#fff" stroke-width="2.2"/>
<line x1="362.9" x2="610.9" y1="1024.9" y2="1024.9" stroke="#fff" stroke-width="4.4"/>
<line x1="362.9" x2="610.9" y1="979.1" y2="979.1" stroke="#fff" stroke-width="4.4"/>
<line x1="362.9" x2="610.9" y1="933.2" y2="933.2" stroke="#fff" stroke-width="4.4"/>
<line x1="362.9" x2="610.9" y1="887.3" y2="887.3" stroke="#fff" stroke-width="4.4"/>
<line x1="362.9" x2="610.9" y1="841.5" y2="841.5" stroke="#fff" stroke-width="4.4"/>
<line x1="374.9" x2="374.9" y1="828.1" y2="1052.8" stroke="#fff" stroke-width="4.4"/>
<line x1="451.1" x2="451.1" y1="828.1" y2="1052.8" stroke="#fff" stroke-width="4.4"/>
<line x1="527.3" x2="527.3" y1="828.1" y2="1052.8" stroke="#fff" stroke-width="4.4"/>
<line x1="603.5" x2="603.5" y1="828.1" y2="1052.8" stroke="#fff" stroke-width="4.4"/>
<circle cx="479.3" cy="902.2" r="9.8" fill="#F8766D" fill-opacity="0.5"/>
<circle cx="583.6" cy="933.9" r="9.8" fill="#00BFC4" fill-opacity="0.5"/>
<circle cx="504.6" cy="900.2" r="9.8" fill="#00BFC4" fill-opacity="0.5"/>
<circle cx="569.4" cy="906.7" r="9.8" fill="#00BFC4" fill-opacity="0.5"/>
<circle cx="511.0" cy="887.3" r="9.8" fill="#00BFC4" fill-opacity="0.5"/>
<circle cx="459.8" cy="858.8" r="9.8" fill="#00BFC4" fill-opacity="0.5"/>
<circle cx="586.2" cy="976.7" r="9.8" fill="#00BFC4" fill-opacity="0.5"/>
<circle cx="455.3" cy="895.7" r="9.8" fill="#F8766D" fill-opacity="0.5"/>
<circle cx="582.3" cy="971.5" r="9.8" fill="#00BFC4" fill-opacity="0.5"/>
<circle cx="482.5" cy="880.8" r="9.8" fill="#00BFC4" fill-opacity="0.5"/>
<circle cx="504.9" cy="872.3" r="9.8" fill="#00BFC4" fill-opacity="0.5"/>
<circle cx="492.9" cy="919.7" r="9.8" fill="#F8766D" fill-opacity="0.5"/>
<circle cx="583.6" cy="980.6" r="9.8" fill="#00BFC4" fill-opacity="0.5"/>
<circle cx="477.3" cy="924.9" r="9.8" fill="#00BFC4" fill-opacity="0.5"/>
<circle cx="569.4" cy="956.0" r="9.8" fill="#00BFC4" fill-opacity="0.5"/>
<circle cx="504.6" cy="932.6" r="9.8" fill="#00BFC4" fill-opacity="0.5"/>
<circle cx="452.7" cy="905.4" r="9.8" fill="#F8766D" fill-opacity="0.5"/>
<circle cx="546.0" cy="892.5" r="9.8" fill="#00BFC4" fill-opacity="0.5"/>
<circle cx="599.2" cy="997.4" r="9.8" fill="#00BFC4" fill-opacity="0.5"/>
<circle cx="503.3" cy="973.5" r="9.8" fill="#00BFC4" fill-opacity="0.5"/>
<circle cx="533.1" cy="904.1" r="9.8" fill="#00BFC4" fill-opacity="0.5"/>
<circle cx="428.1" cy="847.1" r="9.8" fill="#00BFC4" fill-opacity="0.5"/>
<circle cx="595.3" cy="1007.8" r="9.8" fill="#00BFC4" fill-opacity="0.5"/>
<circle cx="517.5" cy="900.2" r="9.8" fill="#F8766D" fill-opacity="0.5"/>
<circle cx="570.4" cy="1000.2" r="9.8" fill="#00BFC4" fill-opacity="0.5"/>
<circle cx="514.9" cy="958.6" r="9.8" fill="#00BFC4" fill-opacity="0.5"/>
<circle cx="572.0" cy="922.3" r="9.8" fill="#00BFC4" fill-opacity="0.5"/>
<circle cx="502.0" cy="943.0" r="9.8" fill="#00BFC4" fill-opacity="0.5"/>
<circle cx="568.1" cy="962.4" r="9.8" fill="#F8766D" fill-opacity="0.5"/>
<circle cx="552.5" cy="937.8" r="9.8" fill="#00BFC4" fill-opacity="0.5"/>
<circle cx="520.1" cy="893.8" r="9.8" fill="#F8766D" fill-opacity="0.5"/>
<circle cx="540.8" cy="971.5" r="9.8" fill="#00BFC4" fill-opacity="0.5"/>
<circle cx="582.3" cy="997.4" r="9.8" fill="#00BFC4" fill-opacity="0.5"/>
<circle cx="490.3" cy="944.3" r="9.8" fill="#00BFC4" fill-opacity="0.5"/>
<circle cx="599.2" cy="954.0" r="9.8" fill="#00BFC4" fill-opacity="0.5"/>
<circle cx="513.3" cy="878.6" r="9.8" fill="#00BFC4" fill-opacity="0.5"/>
<circle cx="540.8" cy="921.0" r="9.8" fill="#F8766D" fill-opacity="0.5"/>
<circle cx="499.4" cy="893.8" r="9.8" fill="#00BFC4" fill-opacity="0.5"/>
<circle cx="560.3" cy="915.8" r="9.8" fill="#00BFC4" fill-opacity="0.5"/>
<circle cx="498.1" cy="873.8" r="9.8" fill="#00BFC4" fill-opacity="0.5"/>
<circle cx="574.5" cy="940.4" r="9.8" fill="#00BFC4" fill-opacity="0.5"/>
<circle cx="502.0" cy="867.8" r="9.8" fill="#00BFC4" fill-opacity="0.5"/>
<circle cx="537.0" cy="959.9" r="9.8" fill="#F8766D" fill-opacity="0.5"/>
<circle cx="473.5" cy="876.9" r="9.8" fill="#00BFC4" fill-opacity="0.5"/>
<circle cx="456.6" cy="915.8" r="9.8" fill="#F8766D" fill-opacity="0.5"/>
<circle cx="499.4" cy="954.7" r="9.8" fill="#00BFC4" fill-opacity="0.5"/>
<circle cx="437.8" cy="886.6" r="9.8" fill="#F8766D" fill-opacity="0.5"/>
<circle cx="560.3" cy="1027.2" r="9.8" fill="#F8766D" fill-opacity="0.5"/>
<circle cx="521.4" cy="909.3" r="9.8" fill="#F8766D" fill-opacity="0.5"/>
<circle cx="501.3" cy="1035.0" r="9.8" fill="#F8766D" fill-opacity="0.5"/>
<circle cx="597.9" cy="922.9" r="9.8" fill="#00BFC4" fill-opacity="0.5"/>
<circle cx="559.0" cy="882.1" r="9.8" fill="#00BFC4" fill-opacity="0.5"/>
<circle cx="507.2" cy="838.0" r="9.8" fill="#00BFC4" fill-opacity="0.5"/>
<circle cx="502.0" cy="861.4" r="9.8" fill="#F8766D" fill-opacity="0.5"/>
<circle cx="434.6" cy="838.0" r="9.8" fill="#F8766D" fill-opacity="0.5"/>
<circle cx="452.7" cy="906.7" r="9.8" fill="#00BFC4" fill-opacity="0.5"/>
<circle cx="533.1" cy="880.8" r="9.8" fill="#00BFC4" fill-opacity="0.5"/>
<circle cx="530.5" cy="870.4" r="9.8" fill="#00BFC4" fill-opacity="0.5"/>
<circle cx="559.0" cy="1007.8" r="9.8" fill="#00BFC4" fill-opacity="0.5"/>
<circle cx="476.0" cy="888.6" r="9.8" fill="#00BFC4" fill-opacity="0.5"/>
<circle cx="569.4" cy="1006.5" r="9.8" fill="#00BFC4" fill-opacity="0.5"/>
<circle cx="529.2" cy="939.1" r="9.8" fill="#00BFC4" fill-opacity="0.5"/>
<circle cx="442.4" cy="852.9" r="9.8" fill="#F8766D" fill-opacity="0.5"/>
<circle cx="553.8" cy="922.3" r="9.8" fill="#F8766D" fill-opacity="0.5"/>
<circle cx="441.7" cy="867.8" r="9.8" fill="#00BFC4" fill-opacity="0.5"/>
<circle cx="465.7" cy="926.2" r="9.8" fill="#F8766D" fill-opacity="0.5"/>
<circle cx="432.0" cy="871.7" r="9.8" fill="#F8766D" fill-opacity="0.5"/>
<circle cx="496.8" cy="849.7" r="9.8" fill="#F8766D" fill-opacity="0.5"/>
<circle cx="540.8" cy="940.4" r="9.8" fill="#00BFC4" fill-opacity="0.5"/>
<circle cx="504.6" cy="867.8" r="9.8" fill="#F8766D" fill-opacity="0.5"/>
<circle cx="577.1" cy="1023.4" r="9.8" fill="#00BFC4" fill-opacity="0.5"/>
<circle cx="510.9" cy="875.0" r="9.8" fill="#00BFC4" fill-opacity="0.5"/>
<circle cx="547.3" cy="862.0" r="9.8" fill="#00BFC4" fill-opacity="0.5"/>
<circle cx="441.1" cy="901.5" r="9.8" fill="#F8766D" fill-opacity="0.5"/>
<circle cx="446.9" cy="922.3" r="9.8" fill="#F8766D" fill-opacity="0.5"/>
<circle cx="587.5" cy="1005.2" r="9.8" fill="#00BFC4" fill-opacity="0.5"/>
<circle cx="590.1" cy="952.1" r="9.8" fill="#00BFC4" fill-opacity="0.5"/>
<circle cx="576.5" cy="1042.8" r="9.8" fill="#00BFC4" fill-opacity="0.5"/>
<circle cx="525.3" cy="860.1" r="9.8" fill="#F8766D" fill-opacity="0.5"/>
<circle cx="533.1" cy="878.2" r="9.8" fill="#F8766D" fill-opacity="0.5"/>
<circle cx="551.2" cy="893.8" r="9.8" fill="#F8766D" fill-opacity="0.5"/>
<circle cx="511.0" cy="971.5" r="9.8" fill="#F8766D" fill-opacity="0.5"/>
<circle cx="524.0" cy="876.9" r="9.8" fill="#00BFC4" fill-opacity="0.5"/>
<circle cx="556.4" cy="906.7" r="9.8" fill="#F8766D" fill-opacity="0.5"/>
<circle cx="582.3" cy="965.0" r="9.8" fill="#00BFC4" fill-opacity="0.5"/>
<circle cx="573.2" cy="949.5" r="9.8" fill="#00BFC4" fill-opacity="0.5"/>
<circle cx="491.6" cy="878.2" r="9.8" fill="#00BFC4" fill-opacity="0.5"/>
<circle cx="499.4" cy="950.8" r="9.8" fill="#F8766D" fill-opacity="0.5"/>
<circle cx="483.8" cy="923.6" r="9.8" fill="#00BFC4" fill-opacity="0.5"/>
<circle cx="470.2" cy="945.0" r="9.8" fill="#00BFC4" fill-opacity="0.5"/>
<circle cx="577.3" cy="1009.9" r="9.8" fill="#00BFC4" fill-opacity="0.5"/>
<circle cx="524.0" cy="946.9" r="9.8" fill="#00BFC4" fill-opacity="0.5"/>
<circle cx="577.1" cy="1007.8" r="9.8" fill="#00BFC4" fill-opacity="0.5"/>
<circle cx="514.9" cy="939.1" r="9.8" fill="#00BFC4" fill-opacity="0.5"/>
<circle cx="508.4" cy="961.2" r="9.8" fill="#00BFC4" fill-opacity="0.5"/>
<circle cx="509.1" cy="873.3" r="9.8" fill="#00BFC4" fill-opacity="0.5"/>
<circle cx="517.5" cy="874.3" r="9.8" fill="#00BFC4" fill-opacity="0.5"/>
<circle cx="509.7" cy="857.5" r="9.8" fill="#00BFC4" fill-opacity="0.5"/>
<circle cx="498.1" cy="923.6" r="9.8" fill="#00BFC4" fill-opacity="0.5"/>
<circle cx="478.6" cy="857.5" r="9.8" fill="#00BFC4" fill-opacity="0.5"/>
<circle cx="565.5" cy="978.0" r="9.8" fill="#00BFC4" fill-opacity="0.5"/>
<circle cx="507.2" cy="963.7" r="9.8" fill="#00BFC4" fill-opacity="0.5"/>
<circle cx="374.3" cy="941.7" r="9.8" fill="#00BFC4" fill-opacity="0.5"/>
<circle cx="566.8" cy="900.2" r="9.8" fill="#00BFC4" fill-opacity="0.5"/>
<circle cx="504.6" cy="883.4" r="9.8" fill="#00BFC4" fill-opacity="0.5"/>
</g>
<g clip-path="url(#c32)">
<rect x="633.9" y="828.1" width="248.0" height="224.7" fill="#EBEBEB"/>
<line x1="633.9" x2="881.9" y1="1047.9" y2="1047.9" stroke="#fff" stroke-width="2.2"/>
<line x1="633.9" x2="881.9" y1="1002.0" y2="1002.0" stroke="#fff" stroke-width="2.2"/>
<line x1="633.9" x2="881.9" y1="956.1" y2="956.1" stroke="#fff" stroke-width="2.2"/>
<line x1="633.9" x2="881.9" y1="910.3" y2="910.3" stroke="#fff" stroke-width="2.2"/>
<line x1="633.9" x2="881.9" y1="864.4" y2="864.4" stroke="#fff" stroke-width="2.2"/>
<line x1="649.9" x2="649.9" y1="828.1" y2="1052.8" stroke="#fff" stroke-width="2.2"/>
<line x1="698.9" x2="698.9" y1="828.1" y2="1052.8" stroke="#fff" stroke-width="2.2"/>
<line x1="748.0" x2="748.0" y1="828.1" y2="1052.8" stroke="#fff" stroke-width="2.2"/>
<line x1="797.1" x2="797.1" y1="828.1" y2="1052.8" stroke="#fff" stroke-width="2.2"/>
<line x1="846.2" x2="846.2" y1="828.1" y2="1052.8" stroke="#fff" stroke-width="2.2"/>
<line x1="633.9" x2="881.9" y1="1024.9" y2="1024.9" stroke="#fff" stroke-width="4.4"/>
<line x1="633.9" x2="881.9" y1="979.1" y2="979.1" stroke="#fff" stroke-width="4.4"/>
<line x1="633.9" x2="881.9" y1="933.2" y2="933.2" stroke="#fff" stroke-width="4.4"/>
<line x1="633.9" x2="881.9" y1="887.3" y2="887.3" stroke="#fff" stroke-width="4.4"/>
<line x1="633.9" x2="881.9" y1="841.5" y2="841.5" stroke="#fff" stroke-width="4.4"/>
<line x1="674.4" x2="674.4" y1="828.1" y2="1052.8" stroke="#fff" stroke-width="4.4"/>
<line x1="723.5" x2="723.5" y1="828.1" y2="1052.8" stroke="#fff" stroke-width="4.4"/>
<line x1="772.5" x2="772.5" y1="828.1" y2="1052.8" stroke="#fff" stroke-width="4.4"/>
<line x1="821.6" x2="821.6" y1="828.1" y2="1052.8" stroke="#fff" stroke-width="4.4"/>
<line x1="870.7" x2="870.7" y1="828.1" y2="1052.8" stroke="#fff" stroke-width="4.4"/>
<circle cx="771.7" cy="909.3" r="9.8" fill="#F8766D" fill-opacity="0.5"/>
<circle cx="691.3" cy="892.5" r="9.8" fill="#00BFC4" fill-opacity="0.5"/>
<circle cx="762.6" cy="923.6" r="9.8" fill="#00BFC4" fill-opacity="0.5"/>
<circle cx="717.2" cy="880.8" r="9.8" fill="#00BFC4" fill-opacity="0.5"/>
<circle cx="713.4" cy="906.7" r="9.8" fill="#00BFC4" fill-opacity="0.5"/>
<circle cx="713.4" cy="971.5" r="9.8" fill="#00BFC4" fill-opacity="0.5"/>
<circle cx="693.9" cy="978.0" r="9.8" fill="#00BFC4" fill-opacity="0.5"/>
<circle cx="736.7" cy="901.5" r="9.8" fill="#F8766D" fill-opacity="0.5"/>
<circle cx="801.5" cy="853.6" r="9.8" fill="#F8766D" fill-opacity="0.5"/>
<circle cx="682.2" cy="923.6" r="9.8" fill="#00BFC4" fill-opacity="0.5"/>
<circle cx="731.5" cy="867.8" r="9.8" fill="#00BFC4" fill-opacity="0.5"/>
<circle cx="706.6" cy="877.0" r="9.8" fill="#00BFC4" fill-opacity="0.5"/>
<circle cx="769.1" cy="871.7" r="9.8" fill="#00BFC4" fill-opacity="0.5"/>
<circle cx="776.9" cy="921.0" r="9.8" fill="#F8766D" fill-opacity="0.5"/>
<circle cx="795.0" cy="878.2" r="9.8" fill="#F8766D" fill-opacity="0.5"/>
<circle cx="704.3" cy="893.8" r="9.8" fill="#F8766D" fill-opacity="0.5"/>
<circle cx="721.1" cy="937.8" r="9.8" fill="#00BFC4" fill-opacity="0.5"/>
<circle cx="717.2" cy="857.5" r="9.8" fill="#00BFC4" fill-opacity="0.5"/>
<circle cx="703.2" cy="875.1" r="9.8" fill="#00BFC4" fill-opacity="0.5"/>
<circle cx="796.3" cy="902.8" r="9.8" fill="#00BFC4" fill-opacity="0.5"/>
<circle cx="644.7" cy="938.5" r="9.8" fill="#00BFC4" fill-opacity="0.5"/>
<circle cx="830.0" cy="1035.0" r="9.8" fill="#F8766D" fill-opacity="0.5"/>
<circle cx="723.7" cy="865.2" r="9.8" fill="#00BFC4" fill-opacity="0.5"/>
<circle cx="784.6" cy="961.2" r="9.8" fill="#00BFC4" fill-opacity="0.5"/>
<circle cx="773.6" cy="950.8" r="9.8" fill="#F8766D" fill-opacity="0.5"/>
<circle cx="863.0" cy="838.0" r="9.8" fill="#F8766D" fill-opacity="0.5"/>
<circle cx="710.8" cy="1010.4" r="9.8" fill="#00BFC4" fill-opacity="0.5"/>
<circle cx="699.1" cy="1023.4" r="9.8" fill="#00BFC4" fill-opacity="0.5"/>
<circle cx="705.6" cy="858.8" r="9.8" fill="#00BFC4" fill-opacity="0.5"/>
<circle cx="713.4" cy="865.2" r="9.8" fill="#00BFC4" fill-opacity="0.5"/>
<circle cx="715.9" cy="896.4" r="9.8" fill="#00BFC4" fill-opacity="0.5"/>
<circle cx="745.8" cy="867.8" r="9.8" fill="#00BFC4" fill-opacity="0.5"/>
<circle cx="717.2" cy="953.4" r="9.8" fill="#00BFC4" fill-opacity="0.5"/>
<circle cx="731.5" cy="883.4" r="9.8" fill="#00BFC4" fill-opacity="0.5"/>
<circle cx="713.4" cy="1005.2" r="9.8" fill="#00BFC4" fill-opacity="0.5"/>
<circle cx="820.3" cy="926.2" r="9.8" fill="#F8766D" fill-opacity="0.5"/>
<circle cx="704.3" cy="922.3" r="9.8" fill="#00BFC4" fill-opacity="0.5"/>
<circle cx="751.6" cy="846.5" r="9.8" fill="#00BFC4" fill-opacity="0.5"/>
<circle cx="771.7" cy="962.4" r="9.8" fill="#F8766D" fill-opacity="0.5"/>
<circle cx="644.7" cy="951.4" r="9.8" fill="#00BFC4" fill-opacity="0.5"/>
<circle cx="669.9" cy="933.9" r="9.8" fill="#00BFC4" fill-opacity="0.5"/>
<circle cx="710.8" cy="940.4" r="9.8" fill="#00BFC4" fill-opacity="0.5"/>
<circle cx="674.5" cy="904.1" r="9.8" fill="#00BFC4" fill-opacity="0.5"/>
<circle cx="736.7" cy="997.4" r="9.8" fill="#00BFC4" fill-opacity="0.5"/>
<circle cx="779.4" cy="878.2" r="9.8" fill="#F8766D" fill-opacity="0.5"/>
<circle cx="703.0" cy="970.2" r="9.8" fill="#00BFC4" fill-opacity="0.5"/>
<circle cx="769.1" cy="893.8" r="9.8" fill="#F8766D" fill-opacity="0.5"/>
<circle cx="740.6" cy="959.9" r="9.8" fill="#00BFC4" fill-opacity="0.5"/>
<circle cx="708.2" cy="878.2" r="9.8" fill="#00BFC4" fill-opacity="0.5"/>
<circle cx="749.6" cy="910.6" r="9.8" fill="#F8766D" fill-opacity="0.5"/>
<circle cx="762.6" cy="922.3" r="9.8" fill="#F8766D" fill-opacity="0.5"/>
<circle cx="659.6" cy="862.0" r="9.8" fill="#00BFC4" fill-opacity="0.5"/>
<circle cx="669.9" cy="980.6" r="9.8" fill="#00BFC4" fill-opacity="0.5"/>
<circle cx="731.5" cy="941.7" r="9.8" fill="#00BFC4" fill-opacity="0.5"/>
<circle cx="756.1" cy="884.7" r="9.8" fill="#00BFC4" fill-opacity="0.5"/>
<circle cx="810.6" cy="888.6" r="9.8" fill="#F8766D" fill-opacity="0.5"/>
<circle cx="743.2" cy="906.7" r="9.8" fill="#F8766D" fill-opacity="0.5"/>
<circle cx="669.9" cy="1009.1" r="9.8" fill="#00BFC4" fill-opacity="0.5"/>
<circle cx="861.7" cy="871.7" r="9.8" fill="#F8766D" fill-opacity="0.5"/>
<circle cx="801.5" cy="901.5" r="9.8" fill="#F8766D" fill-opacity="0.5"/>
<circle cx="795.0" cy="865.2" r="9.8" fill="#F8766D" fill-opacity="0.5"/>
<circle cx="705.6" cy="953.4" r="9.8" fill="#00BFC4" fill-opacity="0.5"/>
<circle cx="700.4" cy="900.2" r="9.8" fill="#00BFC4" fill-opacity="0.5"/>
<circle cx="732.1" cy="1042.8" r="9.8" fill="#00BFC4" fill-opacity="0.5"/>
<circle cx="723.7" cy="879.8" r="9.8" fill="#00BFC4" fill-opacity="0.5"/>
<circle cx="747.0" cy="882.1" r="9.8" fill="#00BFC4" fill-opacity="0.5"/>
<circle cx="688.7" cy="915.8" r="9.8" fill="#00BFC4" fill-opacity="0.5"/>
<circle cx="762.6" cy="943.0" r="9.8" fill="#00BFC4" fill-opacity="0.5"/>
<circle cx="788.5" cy="878.2" r="9.8" fill="#00BFC4" fill-opacity="0.5"/>
<circle cx="762.6" cy="856.2" r="9.8" fill="#00BFC4" fill-opacity="0.5"/>
<circle cx="709.9" cy="872.1" r="9.8" fill="#00BFC4" fill-opacity="0.5"/>
<circle cx="674.5" cy="838.0" r="9.8" fill="#00BFC4" fill-opacity="0.5"/>
<circle cx="678.4" cy="878.2" r="9.8" fill="#00BFC4" fill-opacity="0.5"/>
<circle cx="703.0" cy="939.1" r="9.8" fill="#00BFC4" fill-opacity="0.5"/>
<circle cx="674.5" cy="968.9" r="9.8" fill="#00BFC4" fill-opacity="0.5"/>
<circle cx="805.4" cy="893.8" r="9.8" fill="#F8766D" fill-opacity="0.5"/>
<circle cx="762.6" cy="906.7" r="9.8" fill="#F8766D" fill-opacity="0.5"/>
<circle cx="814.4" cy="864.6" r="9.8" fill="#F8766D" fill-opacity="0.5"/>
<circle cx="784.6" cy="896.4" r="9.8" fill="#F8766D" fill-opacity="0.5"/>
<circle cx="770.4" cy="873.0" r="9.8" fill="#F8766D" fill-opacity="0.5"/>
<circle cx="750.9" cy="935.2" r="9.8" fill="#00BFC4" fill-opacity="0.5"/>
<circle cx="870.8" cy="915.8" r="9.8" fill="#F8766D" fill-opacity="0.5"/>
<circle cx="658.9" cy="944.3" r="9.8" fill="#00BFC4" fill-opacity="0.5"/>
<circle cx="753.5" cy="858.8" r="9.8" fill="#00BFC4" fill-opacity="0.5"/>
<circle cx="722.4" cy="858.8" r="9.8" fill="#F8766D" fill-opacity="0.5"/>
<circle cx="723.7" cy="884.7" r="9.8" fill="#00BFC4" fill-opacity="0.5"/>
<circle cx="715.9" cy="1003.9" r="9.8" fill="#00BFC4" fill-opacity="0.5"/>
<circle cx="697.8" cy="953.4" r="9.8" fill="#00BFC4" fill-opacity="0.5"/>
<circle cx="749.6" cy="923.6" r="9.8" fill="#00BFC4" fill-opacity="0.5"/>
<circle cx="847.5" cy="901.5" r="9.8" fill="#F8766D" fill-opacity="0.5"/>
<circle cx="794.4" cy="1027.2" r="9.8" fill="#F8766D" fill-opacity="0.5"/>
<circle cx="708.2" cy="975.4" r="9.8" fill="#00BFC4" fill-opacity="0.5"/>
<circle cx="740.6" cy="883.4" r="9.8" fill="#00BFC4" fill-opacity="0.5"/>
<circle cx="684.8" cy="948.2" r="9.8" fill="#00BFC4" fill-opacity="0.5"/>
<circle cx="779.4" cy="922.3" r="9.8" fill="#F8766D" fill-opacity="0.5"/>
<circle cx="787.2" cy="858.8" r="9.8" fill="#F8766D" fill-opacity="0.5"/>
<circle cx="758.7" cy="958.6" r="9.8" fill="#00BFC4" fill-opacity="0.5"/>
<circle cx="732.8" cy="923.6" r="9.8" fill="#00BFC4" fill-opacity="0.5"/>
<circle cx="762.6" cy="898.9" r="9.8" fill="#F8766D" fill-opacity="0.5"/>
<circle cx="735.4" cy="962.4" r="9.8" fill="#00BFC4" fill-opacity="0.5"/>
<circle cx="701.7" cy="869.1" r="9.8" fill="#00BFC4" fill-opacity="0.5"/>
<circle cx="730.2" cy="917.1" r="9.8" fill="#00BFC4" fill-opacity="0.5"/>
<circle cx="664.1" cy="974.1" r="9.8" fill="#00BFC4" fill-opacity="0.5"/>
<circle cx="718.6" cy="877.4" r="9.8" fill="#00BFC4" fill-opacity="0.5"/>
</g>
<g clip-path="url(#c33)">
<rect x="905.0" y="828.1" width="248.0" height="224.7" fill="#EBEBEB"/>
<line x1="905.0" x2="1153.0" y1="1007.2" y2="1007.2" stroke="#fff" stroke-width="2.2"/>
<line x1="905.0" x2="1153.0" y1="936.4" y2="936.4" stroke="#fff" stroke-width="2.2"/>
<line x1="905.0" x2="1153.0" y1="865.6" y2="865.6" stroke="#fff" stroke-width="2.2"/>
<line x1="910.4" x2="910.4" y1="828.1" y2="1052.8" stroke="#fff" stroke-width="2.2"/>
<line x1="961.0" x2="961.0" y1="828.1" y2="1052.8" stroke="#fff" stroke-width="2.2"/>
<line x1="1011.6" x2="1011.6" y1="828.1" y2="1052.8" stroke="#fff" stroke-width="2.2"/>
<line x1="1062.3" x2="1062.3" y1="828.1" y2="1052.8" stroke="#fff" stroke-width="2.2"/>
<line x1="1112.9" x2="1112.9" y1="828.1" y2="1052.8" stroke="#fff" stroke-width="2.2"/>
<line x1="905.0" x2="1153.0" y1="1042.6" y2="1042.6" stroke="#fff" stroke-width="4.4"/>
<line x1="905.0" x2="1153.0" y1="971.8" y2="971.8" stroke="#fff" stroke-width="4.4"/>
<line x1="905.0" x2="1153.0" y1="901.0" y2="901.0" stroke="#fff" stroke-width="4.4"/>
<line x1="905.0" x2="1153.0" y1="830.2" y2="830.2" stroke="#fff" stroke-width="4.4"/>
<line x1="935.7" x2="935.7" y1="828.1" y2="1052.8" stroke="#fff" stroke-width="4.4"/>
<line x1="986.3" x2="986.3" y1="828.1" y2="1052.8" stroke="#fff" stroke-width="4.4"/>
<line x1="1036.9" x2="1036.9" y1="828.1" y2="1052.8" stroke="#fff" stroke-width="4.4"/>
<line x1="1087.6" x2="1087.6" y1="828.1" y2="1052.8" stroke="#fff" stroke-width="4.4"/>
<line x1="1138.2" x2="1138.2" y1="828.1" y2="1052.8" stroke="#fff" stroke-width="4.4"/>
<path d="M915.5,1026.0 C916.5,1025.4 919.7,1023.3 921.6,1022.3 C923.6,1021.3 925.2,1020.3 927.1,1020.1 C929.0,1019.9 930.3,1019.9 932.9,1021.2 C935.4,1022.5 939.0,1025.7 942.2,1028.0 C945.3,1030.3 948.3,1033.0 951.7,1034.9 C955.2,1036.7 959.0,1039.2 962.7,1039.0 C966.3,1038.7 970.0,1036.5 973.6,1033.5 C977.3,1030.5 980.9,1025.5 984.6,1021.2 C988.2,1016.8 992.1,1010.9 995.5,1007.5 C999.0,1004.1 1001.9,1001.6 1005.1,1000.6 C1008.3,999.7 1012.0,1001.3 1014.7,1002.0 C1017.4,1002.7 1019.5,1005.0 1021.5,1004.8 C1023.6,1004.5 1025.2,1003.4 1027.0,1000.6 C1028.8,997.9 1030.7,993.3 1032.5,988.3 C1034.3,983.3 1036.4,976.9 1038.0,970.5 C1039.6,964.2 1040.7,956.9 1042.1,950.0 C1043.4,943.2 1044.6,937.0 1046.2,929.5 C1047.8,922.0 1049.8,913.1 1051.6,904.9 C1053.5,896.6 1055.1,888.0 1057.1,880.2 C1059.2,872.5 1061.7,864.5 1064.0,858.3 C1066.2,852.2 1068.3,846.5 1070.8,843.3 C1073.3,840.0 1076.3,838.7 1079.0,838.9 C1081.8,839.1 1084.7,841.6 1087.2,844.6 C1089.7,847.6 1091.8,851.9 1094.1,857.0 C1096.4,862.0 1098.6,868.6 1100.9,874.7 C1103.2,880.9 1105.5,887.5 1107.8,893.9 C1110.0,900.3 1112.3,906.4 1114.6,913.1 C1116.9,919.7 1119.2,926.5 1121.4,933.6 C1123.7,940.7 1126.0,948.2 1128.3,955.5 C1130.6,962.8 1133.0,968.9 1135.1,977.4 C1137.3,985.8 1140.3,1001.3 1141.3,1006.1 L1141.3,1042.6 L915.5,1042.6 Z" fill="#F8766D" fill-opacity="0.5" stroke="none"/>
<path d="M915.5,1026.0 C916.5,1025.4 919.7,1023.3 921.6,1022.3 C923.6,1021.3 925.2,1020.3 927.1,1020.1 C929.0,1019.9 930.3,1019.9 932.9,1021.2 C935.4,1022.5 939.0,1025.7 942.2,1028.0 C945.3,1030.3 948.3,1033.0 951.7,1034.9 C955.2,1036.7 959.0,1039.2 962.7,1039.0 C966.3,1038.7 970.0,1036.5 973.6,1033.5 C977.3,1030.5 980.9,1025.5 984.6,1021.2 C988.2,1016.8 992.1,1010.9 995.5,1007.5 C999.0,1004.1 1001.9,1001.6 1005.1,1000.6 C1008.3,999.7 1012.0,1001.3 1014.7,1002.0 C1017.4,1002.7 1019.5,1005.0 1021.5,1004.8 C1023.6,1004.5 1025.2,1003.4 1027.0,1000.6 C1028.8,997.9 1030.7,993.3 1032.5,988.3 C1034.3,983.3 1036.4,976.9 1038.0,970.5 C1039.6,964.2 1040.7,956.9 1042.1,950.0 C1043.4,943.2 1044.6,937.0 1046.2,929.5 C1047.8,922.0 1049.8,913.1 1051.6,904.9 C1053.5,896.6 1055.1,888.0 1057.1,880.2 C1059.2,872.5 1061.7,864.5 1064.0,858.3 C1066.2,852.2 1068.3,846.5 1070.8,843.3 C1073.3,840.0 1076.3,838.7 1079.0,838.9 C1081.8,839.1 1084.7,841.6 1087.2,844.6 C1089.7,847.6 1091.8,851.9 1094.1,857.0 C1096.4,862.0 1098.6,868.6 1100.9,874.7 C1103.2,880.9 1105.5,887.5 1107.8,893.9 C1110.0,900.3 1112.3,906.4 1114.6,913.1 C1116.9,919.7 1119.2,926.5 1121.4,933.6 C1123.7,940.7 1126.0,948.2 1128.3,955.5 C1130.6,962.8 1133.0,968.9 1135.1,977.4 C1137.3,985.8 1140.3,1001.3 1141.3,1006.1" fill="none" stroke="#000" stroke-width="4.5" stroke-linejoin="round"/>
<path d="M915.5,1032.1 C917.0,1031.0 921.5,1027.3 924.4,1025.3 C927.2,1023.3 929.6,1022.6 932.6,1020.1 C935.5,1017.6 939.0,1013.2 942.2,1010.2 C945.4,1007.2 948.5,1004.3 951.7,1002.0 C954.9,999.7 958.1,998.4 961.3,996.5 C964.5,994.7 967.9,993.3 970.9,991.1 C973.9,988.8 976.4,986.1 979.1,982.9 C981.9,979.7 984.6,975.8 987.3,971.9 C990.1,968.0 992.8,963.5 995.5,959.6 C998.3,955.7 1001.0,951.6 1003.7,948.6 C1006.5,945.7 1009.2,943.3 1012.0,941.8 C1014.7,940.3 1017.4,939.7 1020.2,939.7 C1022.9,939.7 1025.6,940.5 1028.4,941.8 C1031.1,943.1 1034.3,945.7 1036.6,947.3 C1038.9,948.9 1040.2,950.1 1042.1,951.4 C1043.9,952.6 1045.7,954.1 1047.5,954.8 C1049.4,955.5 1051.0,956.1 1053.0,955.5 C1055.1,954.9 1057.6,953.4 1059.9,951.4 C1062.1,949.3 1064.4,946.4 1066.7,943.2 C1069.0,940.0 1071.3,935.9 1073.5,932.2 C1075.8,928.6 1078.1,924.5 1080.4,921.3 C1082.7,918.1 1084.9,915.1 1087.2,913.1 C1089.5,911.1 1091.8,909.2 1094.1,909.2 C1096.4,909.2 1098.6,910.4 1100.9,913.1 C1103.2,915.8 1105.5,920.4 1107.8,925.4 C1110.0,930.4 1112.3,936.8 1114.6,943.2 C1116.9,949.6 1119.2,957.3 1121.4,963.7 C1123.7,970.1 1126.0,975.8 1128.3,981.5 C1130.6,987.2 1133.0,992.9 1135.1,997.9 C1137.3,1002.9 1140.3,1009.3 1141.3,1011.6 L1141.3,1042.6 L915.5,1042.6 Z" fill="#00BFC4" fill-opacity="0.5" stroke="none"/>
<path d="M915.5,1032.1 C917.0,1031.0 921.5,1027.3 924.4,1025.3 C927.2,1023.3 929.6,1022.6 932.6,1020.1 C935.5,1017.6 939.0,1013.2 942.2,1010.2 C945.4,1007.2 948.5,1004.3 951.7,1002.0 C954.9,999.7 958.1,998.4 961.3,996.5 C964.5,994.7 967.9,993.3 970.9,991.1 C973.9,988.8 976.4,986.1 979.1,982.9 C981.9,979.7 984.6,975.8 987.3,971.9 C990.1,968.0 992.8,963.5 995.5,959.6 C998.3,955.7 1001.0,951.6 1003.7,948.6 C1006.5,945.7 1009.2,943.3 1012.0,941.8 C1014.7,940.3 1017.4,939.7 1020.2,939.7 C1022.9,939.7 1025.6,940.5 1028.4,941.8 C1031.1,943.1 1034.3,945.7 1036.6,947.3 C1038.9,948.9 1040.2,950.1 1042.1,951.4 C1043.9,952.6 1045.7,954.1 1047.5,954.8 C1049.4,955.5 1051.0,956.1 1053.0,955.5 C1055.1,954.9 1057.6,953.4 1059.9,951.4 C1062.1,949.3 1064.4,946.4 1066.7,943.2 C1069.0,940.0 1071.3,935.9 1073.5,932.2 C1075.8,928.6 1078.1,924.5 1080.4,921.3 C1082.7,918.1 1084.9,915.1 1087.2,913.1 C1089.5,911.1 1091.8,909.2 1094.1,909.2 C1096.4,909.2 1098.6,910.4 1100.9,913.1 C1103.2,915.8 1105.5,920.4 1107.8,925.4 C1110.0,930.4 1112.3,936.8 1114.6,943.2 C1116.9,949.6 1119.2,957.3 1121.4,963.7 C1123.7,970.1 1126.0,975.8 1128.3,981.5 C1130.6,987.2 1133.0,992.9 1135.1,997.9 C1137.3,1002.9 1140.3,1009.3 1141.3,1011.6" fill="none" stroke="#000" stroke-width="4.5" stroke-linejoin="round"/>
</g>
<g clip-path="url(#c40)">
<rect x="91.8" y="1075.8" width="248.0" height="224.7" fill="#EBEBEB"/>
<line x1="91.8" x2="339.8" y1="1241.3" y2="1241.3" stroke="#fff" stroke-width="2.2"/>
<line x1="91.8" x2="339.8" y1="1179.3" y2="1179.3" stroke="#fff" stroke-width="2.2"/>
<line x1="91.8" x2="339.8" y1="1117.2" y2="1117.2" stroke="#fff" stroke-width="2.2"/>
<line x1="119.8" x2="119.8" y1="1075.8" y2="1300.5" stroke="#fff" stroke-width="2.2"/>
<line x1="174.6" x2="174.6" y1="1075.8" y2="1300.5" stroke="#fff" stroke-width="2.2"/>
<line x1="229.5" x2="229.5" y1="1075.8" y2="1300.5" stroke="#fff" stroke-width="2.2"/>
<line x1="284.3" x2="284.3" y1="1075.8" y2="1300.5" stroke="#fff" stroke-width="2.2"/>
<line x1="339.1" x2="339.1" y1="1075.8" y2="1300.5" stroke="#fff" stroke-width="2.2"/>
<line x1="91.8" x2="339.8" y1="1272.4" y2="1272.4" stroke="#fff" stroke-width="4.4"/>
<line x1="91.8" x2="339.8" y1="1210.3" y2="1210.3" stroke="#fff" stroke-width="4.4"/>
<line x1="91.8" x2="339.8" y1="1148.2" y2="1148.2" stroke="#fff" stroke-width="4.4"/>
<line x1="91.8" x2="339.8" y1="1086.1" y2="1086.1" stroke="#fff" stroke-width="4.4"/>
<line x1="92.4" x2="92.4" y1="1075.8" y2="1300.5" stroke="#fff" stroke-width="4.4"/>
<line x1="147.2" x2="147.2" y1="1075.8" y2="1300.5" stroke="#fff" stroke-width="4.4"/>
<line x1="202.0" x2="202.0" y1="1075.8" y2="1300.5" stroke="#fff" stroke-width="4.4"/>
<line x1="256.9" x2="256.9" y1="1075.8" y2="1300.5" stroke="#fff" stroke-width="4.4"/>
<line x1="311.7" x2="311.7" y1="1075.8" y2="1300.5" stroke="#fff" stroke-width="4.4"/>
<circle cx="159.7" cy="1191.0" r="9.8" fill="#00BFC4" fill-opacity="0.5"/>
<circle cx="175.2" cy="1178.0" r="9.8" fill="#00BFC4" fill-opacity="0.5"/>
<circle cx="233.6" cy="1222.8" r="9.8" fill="#00BFC4" fill-opacity="0.5"/>
<circle cx="205.0" cy="1274.0" r="9.8" fill="#F8766D" fill-opacity="0.5"/>
<circle cx="219.3" cy="1212.4" r="9.8" fill="#00BFC4" fill-opacity="0.5"/>
<circle cx="150.6" cy="1219.5" r="9.8" fill="#00BFC4" fill-opacity="0.5"/>
<circle cx="133.9" cy="1166.7" r="9.8" fill="#00BFC4" fill-opacity="0.5"/>
<circle cx="133.8" cy="1193.6" r="9.8" fill="#00BFC4" fill-opacity="0.5"/>
<circle cx="145.8" cy="1152.3" r="9.8" fill="#00BFC4" fill-opacity="0.5"/>
<circle cx="163.6" cy="1187.1" r="9.8" fill="#00BFC4" fill-opacity="0.5"/>
<circle cx="150.6" cy="1245.4" r="9.8" fill="#00BFC4" fill-opacity="0.5"/>
<circle cx="168.8" cy="1223.4" r="9.8" fill="#00BFC4" fill-opacity="0.5"/>
<circle cx="138.4" cy="1172.0" r="9.8" fill="#00BFC4" fill-opacity="0.5"/>
<circle cx="140.4" cy="1131.5" r="9.8" fill="#F8766D" fill-opacity="0.5"/>
<circle cx="142.8" cy="1231.2" r="9.8" fill="#F8766D" fill-opacity="0.5"/>
<circle cx="145.4" cy="1226.0" r="9.8" fill="#00BFC4" fill-opacity="0.5"/>
<circle cx="154.2" cy="1223.9" r="9.8" fill="#00BFC4" fill-opacity="0.5"/>
<circle cx="159.7" cy="1204.0" r="9.8" fill="#00BFC4" fill-opacity="0.5"/>
<circle cx="140.2" cy="1148.2" r="9.8" fill="#00BFC4" fill-opacity="0.5"/>
<circle cx="144.6" cy="1136.5" r="9.8" fill="#F8766D" fill-opacity="0.5"/>
<circle cx="150.6" cy="1191.0" r="9.8" fill="#00BFC4" fill-opacity="0.5"/>
<circle cx="142.8" cy="1139.2" r="9.8" fill="#00BFC4" fill-opacity="0.5"/>
<circle cx="161.0" cy="1178.0" r="9.8" fill="#00BFC4" fill-opacity="0.5"/>
<circle cx="158.4" cy="1139.8" r="9.8" fill="#F8766D" fill-opacity="0.5"/>
<circle cx="181.7" cy="1165.1" r="9.8" fill="#00BFC4" fill-opacity="0.5"/>
<circle cx="161.6" cy="1148.9" r="9.8" fill="#F8766D" fill-opacity="0.5"/>
<circle cx="134.5" cy="1199.9" r="9.8" fill="#00BFC4" fill-opacity="0.5"/>
<circle cx="140.9" cy="1106.1" r="9.8" fill="#00BFC4" fill-opacity="0.5"/>
<circle cx="102.7" cy="1086.0" r="9.8" fill="#00BFC4" fill-opacity="0.5"/>
<circle cx="197.3" cy="1232.5" r="9.8" fill="#00BFC4" fill-opacity="0.5"/>
<circle cx="120.8" cy="1128.2" r="9.8" fill="#00BFC4" fill-opacity="0.5"/>
<circle cx="122.1" cy="1204.6" r="9.8" fill="#F8766D" fill-opacity="0.5"/>
<circle cx="144.5" cy="1192.5" r="9.8" fill="#00BFC4" fill-opacity="0.5"/>
<circle cx="138.1" cy="1192.6" r="9.8" fill="#00BFC4" fill-opacity="0.5"/>
<circle cx="141.5" cy="1109.4" r="9.8" fill="#00BFC4" fill-opacity="0.5"/>
<circle cx="190.8" cy="1188.4" r="9.8" fill="#00BFC4" fill-opacity="0.5"/>
<circle cx="139.0" cy="1193.6" r="9.8" fill="#F8766D" fill-opacity="0.5"/>
<circle cx="129.9" cy="1200.1" r="9.8" fill="#00BFC4" fill-opacity="0.5"/>
<circle cx="131.9" cy="1150.3" r="9.8" fill="#00BFC4" fill-opacity="0.5"/>
<circle cx="328.2" cy="1200.1" r="9.8" fill="#00BFC4" fill-opacity="0.5"/>
<circle cx="145.4" cy="1167.7" r="9.8" fill="#00BFC4" fill-opacity="0.5"/>
<circle cx="132.5" cy="1226.0" r="9.8" fill="#00BFC4" fill-opacity="0.5"/>
<circle cx="225.8" cy="1204.0" r="9.8" fill="#00BFC4" fill-opacity="0.5"/>
<circle cx="170.1" cy="1218.2" r="9.8" fill="#F8766D" fill-opacity="0.5"/>
<circle cx="129.9" cy="1157.3" r="9.8" fill="#00BFC4" fill-opacity="0.5"/>
<circle cx="140.2" cy="1185.8" r="9.8" fill="#F8766D" fill-opacity="0.5"/>
<circle cx="192.1" cy="1202.7" r="9.8" fill="#00BFC4" fill-opacity="0.5"/>
<circle cx="158.1" cy="1180.0" r="9.8" fill="#00BFC4" fill-opacity="0.5"/>
<circle cx="161.0" cy="1226.0" r="9.8" fill="#F8766D" fill-opacity="0.5"/>
<circle cx="133.8" cy="1178.0" r="9.8" fill="#00BFC4" fill-opacity="0.5"/>
<circle cx="147.9" cy="1195.7" r="9.8" fill="#00BFC4" fill-opacity="0.5"/>
<circle cx="136.6" cy="1147.7" r="9.8" fill="#F8766D" fill-opacity="0.5"/>
<circle cx="155.8" cy="1231.2" r="9.8" fill="#F8766D" fill-opacity="0.5"/>
<circle cx="139.0" cy="1157.3" r="9.8" fill="#00BFC4" fill-opacity="0.5"/>
<circle cx="145.4" cy="1213.0" r="9.8" fill="#00BFC4" fill-opacity="0.5"/>
<circle cx="155.8" cy="1170.3" r="9.8" fill="#00BFC4" fill-opacity="0.5"/>
<circle cx="192.1" cy="1223.4" r="9.8" fill="#00BFC4" fill-opacity="0.5"/>
<circle cx="202.5" cy="1246.7" r="9.8" fill="#F8766D" fill-opacity="0.5"/>
<circle cx="150.6" cy="1126.2" r="9.8" fill="#00BFC4" fill-opacity="0.5"/>
<circle cx="163.6" cy="1213.0" r="9.8" fill="#00BFC4" fill-opacity="0.5"/>
<circle cx="153.6" cy="1191.3" r="9.8" fill="#00BFC4" fill-opacity="0.5"/>
<circle cx="230.3" cy="1207.9" r="9.8" fill="#00BFC4" fill-opacity="0.5"/>
<circle cx="229.0" cy="1257.1" r="9.8" fill="#00BFC4" fill-opacity="0.5"/>
<circle cx="129.9" cy="1146.9" r="9.8" fill="#00BFC4" fill-opacity="0.5"/>
<circle cx="133.8" cy="1136.6" r="9.8" fill="#00BFC4" fill-opacity="0.5"/>
<circle cx="155.8" cy="1127.5" r="9.8" fill="#00BFC4" fill-opacity="0.5"/>
<circle cx="142.8" cy="1290.8" r="9.8" fill="#F8766D" fill-opacity="0.5"/>
<circle cx="124.7" cy="1175.5" r="9.8" fill="#00BFC4" fill-opacity="0.5"/>
<circle cx="183.0" cy="1235.1" r="9.8" fill="#00BFC4" fill-opacity="0.5"/>
<circle cx="135.4" cy="1162.2" r="9.8" fill="#00BFC4" fill-opacity="0.5"/>
<circle cx="127.3" cy="1166.4" r="9.8" fill="#00BFC4" fill-opacity="0.5"/>
<circle cx="247.2" cy="1176.8" r="9.8" fill="#00BFC4" fill-opacity="0.5"/>
<circle cx="135.1" cy="1167.7" r="9.8" fill="#00BFC4" fill-opacity="0.5"/>
<circle cx="189.5" cy="1231.2" r="9.8" fill="#00BFC4" fill-opacity="0.5"/>
<circle cx="148.0" cy="1239.0" r="9.8" fill="#00BFC4" fill-opacity="0.5"/>
<circle cx="168.8" cy="1178.0" r="9.8" fill="#00BFC4" fill-opacity="0.5"/>
<circle cx="116.9" cy="1170.9" r="9.8" fill="#00BFC4" fill-opacity="0.5"/>
<circle cx="131.2" cy="1213.0" r="9.8" fill="#00BFC4" fill-opacity="0.5"/>
<circle cx="127.3" cy="1191.0" r="9.8" fill="#00BFC4" fill-opacity="0.5"/>
<circle cx="120.2" cy="1139.8" r="9.8" fill="#F8766D" fill-opacity="0.5"/>
<circle cx="185.6" cy="1180.6" r="9.8" fill="#00BFC4" fill-opacity="0.5"/>
<circle cx="139.8" cy="1209.1" r="9.8" fill="#00BFC4" fill-opacity="0.5"/>
<circle cx="153.5" cy="1224.6" r="9.8" fill="#00BFC4" fill-opacity="0.5"/>
<circle cx="140.2" cy="1201.4" r="9.8" fill="#00BFC4" fill-opacity="0.5"/>
<circle cx="150.6" cy="1101.6" r="9.8" fill="#00BFC4" fill-opacity="0.5"/>
<circle cx="143.4" cy="1175.3" r="9.8" fill="#00BFC4" fill-opacity="0.5"/>
<circle cx="196.6" cy="1143.7" r="9.8" fill="#00BFC4" fill-opacity="0.5"/>
<circle cx="151.9" cy="1180.6" r="9.8" fill="#00BFC4" fill-opacity="0.5"/>
<circle cx="131.5" cy="1218.3" r="9.8" fill="#00BFC4" fill-opacity="0.5"/>
<circle cx="148.0" cy="1149.5" r="9.8" fill="#00BFC4" fill-opacity="0.5"/>
<circle cx="137.7" cy="1174.2" r="9.8" fill="#F8766D" fill-opacity="0.5"/>
<circle cx="142.8" cy="1254.5" r="9.8" fill="#00BFC4" fill-opacity="0.5"/>
<circle cx="149.3" cy="1201.4" r="9.8" fill="#00BFC4" fill-opacity="0.5"/>
<circle cx="240.0" cy="1190.4" r="9.8" fill="#00BFC4" fill-opacity="0.5"/>
<circle cx="142.8" cy="1279.8" r="9.8" fill="#F8766D" fill-opacity="0.5"/>
<circle cx="168.8" cy="1165.1" r="9.8" fill="#00BFC4" fill-opacity="0.5"/>
<circle cx="136.4" cy="1222.1" r="9.8" fill="#00BFC4" fill-opacity="0.5"/>
<circle cx="135.1" cy="1244.1" r="9.8" fill="#00BFC4" fill-opacity="0.5"/>
<circle cx="149.3" cy="1157.3" r="9.8" fill="#00BFC4" fill-opacity="0.5"/>
</g>
<g clip-path="url(#c41)">
<rect x="362.9" y="1075.8" width="248.0" height="224.7" fill="#EBEBEB"/>
<line x1="362.9" x2="610.9" y1="1241.3" y2="1241.3" stroke="#fff" stroke-width="2.2"/>
<line x1="362.9" x2="610.9" y1="1179.3" y2="1179.3" stroke="#fff" stroke-width="2.2"/>
<line x1="362.9" x2="610.9" y1="1117.2" y2="1117.2" stroke="#fff" stroke-width="2.2"/>
<line x1="413.0" x2="413.0" y1="1075.8" y2="1300.5" stroke="#fff" stroke-width="2.2"/>
<line x1="489.2" x2="489.2" y1="1075.8" y2="1300.5" stroke="#fff" stroke-width="2.2"/>
<line x1="565.4" x2="565.4" y1="1075.8" y2="1300.5" stroke="#fff" stroke-width="2.2"/>
<line x1="362.9" x2="610.9" y1="1272.4" y2="1272.4" stroke="#fff" stroke-width="4.4"/>
<line x1="362.9" x2="610.9" y1="1210.3" y2="1210.3" stroke="#fff" stroke-width="4.4"/>
<line x1="362.9" x2="610.9" y1="1148.2" y2="1148.2" stroke="#fff" stroke-width="4.4"/>
<line x1="362.9" x2="610.9" y1="1086.1" y2="1086.1" stroke="#fff" stroke-width="4.4"/>
<line x1="374.9" x2="374.9" y1="1075.8" y2="1300.5" stroke="#fff" stroke-width="4.4"/>
<line x1="451.1" x2="451.1" y1="1075.8" y2="1300.5" stroke="#fff" stroke-width="4.4"/>
<line x1="527.3" x2="527.3" y1="1075.8" y2="1300.5" stroke="#fff" stroke-width="4.4"/>
<line x1="603.5" x2="603.5" y1="1075.8" y2="1300.5" stroke="#fff" stroke-width="4.4"/>
<circle cx="504.6" cy="1180.6" r="9.8" fill="#00BFC4" fill-opacity="0.5"/>
<circle cx="564.2" cy="1187.1" r="9.8" fill="#00BFC4" fill-opacity="0.5"/>
<circle cx="559.0" cy="1240.3" r="9.8" fill="#00BFC4" fill-opacity="0.5"/>
<circle cx="511.0" cy="1152.1" r="9.8" fill="#00BFC4" fill-opacity="0.5"/>
<circle cx="563.0" cy="1167.5" r="9.8" fill="#00BFC4" fill-opacity="0.5"/>
<circle cx="535.7" cy="1224.7" r="9.8" fill="#F8766D" fill-opacity="0.5"/>
<circle cx="508.4" cy="1202.7" r="9.8" fill="#F8766D" fill-opacity="0.5"/>
<circle cx="437.8" cy="1146.9" r="9.8" fill="#F8766D" fill-opacity="0.5"/>
<circle cx="586.2" cy="1148.2" r="9.8" fill="#00BFC4" fill-opacity="0.5"/>
<circle cx="465.7" cy="1154.7" r="9.8" fill="#F8766D" fill-opacity="0.5"/>
<circle cx="530.5" cy="1206.6" r="9.8" fill="#00BFC4" fill-opacity="0.5"/>
<circle cx="442.4" cy="1184.5" r="9.8" fill="#F8766D" fill-opacity="0.5"/>
<circle cx="499.4" cy="1146.9" r="9.8" fill="#00BFC4" fill-opacity="0.5"/>
<circle cx="551.2" cy="1171.6" r="9.8" fill="#F8766D" fill-opacity="0.5"/>
<circle cx="529.2" cy="1134.6" r="9.8" fill="#00BFC4" fill-opacity="0.5"/>
<circle cx="564.2" cy="1146.9" r="9.8" fill="#00BFC4" fill-opacity="0.5"/>
<circle cx="540.8" cy="1137.2" r="9.8" fill="#00BFC4" fill-opacity="0.5"/>
<circle cx="542.1" cy="1197.5" r="9.8" fill="#F8766D" fill-opacity="0.5"/>
<circle cx="553.2" cy="1290.2" r="9.8" fill="#F8766D" fill-opacity="0.5"/>
<circle cx="582.3" cy="1219.5" r="9.8" fill="#00BFC4" fill-opacity="0.5"/>
<circle cx="517.5" cy="1218.2" r="9.8" fill="#F8766D" fill-opacity="0.5"/>
<circle cx="503.6" cy="1196.1" r="9.8" fill="#00BFC4" fill-opacity="0.5"/>
<circle cx="575.8" cy="1175.5" r="9.8" fill="#00BFC4" fill-opacity="0.5"/>
<circle cx="476.0" cy="1161.2" r="9.8" fill="#00BFC4" fill-opacity="0.5"/>
<circle cx="490.3" cy="1235.1" r="9.8" fill="#00BFC4" fill-opacity="0.5"/>
<circle cx="537.0" cy="1274.0" r="9.8" fill="#F8766D" fill-opacity="0.5"/>
<circle cx="599.2" cy="1204.0" r="9.8" fill="#00BFC4" fill-opacity="0.5"/>
<circle cx="559.0" cy="1191.0" r="9.8" fill="#00BFC4" fill-opacity="0.5"/>
<circle cx="512.3" cy="1189.7" r="9.8" fill="#00BFC4" fill-opacity="0.5"/>
<circle cx="590.1" cy="1180.6" r="9.8" fill="#00BFC4" fill-opacity="0.5"/>
<circle cx="531.8" cy="1176.8" r="9.8" fill="#00BFC4" fill-opacity="0.5"/>
<circle cx="582.3" cy="1184.5" r="9.8" fill="#00BFC4" fill-opacity="0.5"/>
<circle cx="516.8" cy="1162.2" r="9.8" fill="#00BFC4" fill-opacity="0.5"/>
<circle cx="428.1" cy="1219.5" r="9.8" fill="#00BFC4" fill-opacity="0.5"/>
<circle cx="574.6" cy="1162.5" r="9.8" fill="#00BFC4" fill-opacity="0.5"/>
<circle cx="506.5" cy="1104.8" r="9.8" fill="#00BFC4" fill-opacity="0.5"/>
<circle cx="441.1" cy="1213.0" r="9.8" fill="#F8766D" fill-opacity="0.5"/>
<circle cx="530.5" cy="1154.7" r="9.8" fill="#00BFC4" fill-opacity="0.5"/>
<circle cx="478.0" cy="1109.4" r="9.8" fill="#00BFC4" fill-opacity="0.5"/>
<circle cx="500.7" cy="1226.0" r="9.8" fill="#00BFC4" fill-opacity="0.5"/>
<circle cx="517.5" cy="1201.4" r="9.8" fill="#00BFC4" fill-opacity="0.5"/>
<circle cx="469.6" cy="1204.0" r="9.8" fill="#00BFC4" fill-opacity="0.5"/>
<circle cx="566.8" cy="1205.3" r="9.8" fill="#F8766D" fill-opacity="0.5"/>
<circle cx="496.8" cy="1148.2" r="9.8" fill="#F8766D" fill-opacity="0.5"/>
<circle cx="486.4" cy="1170.3" r="9.8" fill="#00BFC4" fill-opacity="0.5"/>
<circle cx="519.5" cy="1126.2" r="9.8" fill="#00BFC4" fill-opacity="0.5"/>
<circle cx="502.0" cy="1140.5" r="9.8" fill="#F8766D" fill-opacity="0.5"/>
<circle cx="557.7" cy="1209.2" r="9.8" fill="#00BFC4" fill-opacity="0.5"/>
<circle cx="479.9" cy="1175.5" r="9.8" fill="#F8766D" fill-opacity="0.5"/>
<circle cx="479.9" cy="1180.6" r="9.8" fill="#00BFC4" fill-opacity="0.5"/>
<circle cx="569.4" cy="1170.3" r="9.8" fill="#00BFC4" fill-opacity="0.5"/>
<circle cx="556.4" cy="1152.1" r="9.8" fill="#00BFC4" fill-opacity="0.5"/>
<circle cx="447.5" cy="1279.8" r="9.8" fill="#F8766D" fill-opacity="0.5"/>
<circle cx="498.9" cy="1181.6" r="9.8" fill="#00BFC4" fill-opacity="0.5"/>
<circle cx="492.9" cy="1218.2" r="9.8" fill="#F8766D" fill-opacity="0.5"/>
<circle cx="487.7" cy="1205.3" r="9.8" fill="#00BFC4" fill-opacity="0.5"/>
<circle cx="496.8" cy="1187.1" r="9.8" fill="#00BFC4" fill-opacity="0.5"/>
<circle cx="544.7" cy="1240.3" r="9.8" fill="#00BFC4" fill-opacity="0.5"/>
<circle cx="547.3" cy="1161.2" r="9.8" fill="#00BFC4" fill-opacity="0.5"/>
<circle cx="374.3" cy="1176.8" r="9.8" fill="#00BFC4" fill-opacity="0.5"/>
<circle cx="569.4" cy="1226.0" r="9.8" fill="#00BFC4" fill-opacity="0.5"/>
<circle cx="542.1" cy="1206.6" r="9.8" fill="#00BFC4" fill-opacity="0.5"/>
<circle cx="452.1" cy="1184.5" r="9.8" fill="#00BFC4" fill-opacity="0.5"/>
<circle cx="524.0" cy="1226.0" r="9.8" fill="#F8766D" fill-opacity="0.5"/>
<circle cx="524.0" cy="1192.3" r="9.8" fill="#00BFC4" fill-opacity="0.5"/>
<circle cx="517.5" cy="1185.8" r="9.8" fill="#00BFC4" fill-opacity="0.5"/>
<circle cx="459.8" cy="1126.2" r="9.8" fill="#00BFC4" fill-opacity="0.5"/>
<circle cx="518.8" cy="1157.3" r="9.8" fill="#F8766D" fill-opacity="0.5"/>
<circle cx="524.0" cy="1204.0" r="9.8" fill="#00BFC4" fill-opacity="0.5"/>
<circle cx="534.1" cy="1181.0" r="9.8" fill="#00BFC4" fill-opacity="0.5"/>
<circle cx="513.6" cy="1236.4" r="9.8" fill="#F8766D" fill-opacity="0.5"/>
<circle cx="564.2" cy="1215.6" r="9.8" fill="#00BFC4" fill-opacity="0.5"/>
<circle cx="566.5" cy="1163.6" r="9.8" fill="#00BFC4" fill-opacity="0.5"/>
<circle cx="511.0" cy="1246.7" r="9.8" fill="#F8766D" fill-opacity="0.5"/>
<circle cx="552.5" cy="1233.8" r="9.8" fill="#F8766D" fill-opacity="0.5"/>
<circle cx="574.5" cy="1167.7" r="9.8" fill="#00BFC4" fill-opacity="0.5"/>
<circle cx="599.2" cy="1242.8" r="9.8" fill="#00BFC4" fill-opacity="0.5"/>
<circle cx="478.6" cy="1135.9" r="9.8" fill="#00BFC4" fill-opacity="0.5"/>
<circle cx="508.4" cy="1170.3" r="9.8" fill="#00BFC4" fill-opacity="0.5"/>
<circle cx="575.8" cy="1136.6" r="9.8" fill="#00BFC4" fill-opacity="0.5"/>
<circle cx="457.3" cy="1157.3" r="9.8" fill="#F8766D" fill-opacity="0.5"/>
<circle cx="500.7" cy="1171.6" r="9.8" fill="#F8766D" fill-opacity="0.5"/>
<circle cx="574.5" cy="1135.3" r="9.8" fill="#00BFC4" fill-opacity="0.5"/>
<circle cx="530.5" cy="1171.6" r="9.8" fill="#F8766D" fill-opacity="0.5"/>
<circle cx="526.6" cy="1194.9" r="9.8" fill="#F8766D" fill-opacity="0.5"/>
<circle cx="584.9" cy="1156.0" r="9.8" fill="#00BFC4" fill-opacity="0.5"/>
<circle cx="537.6" cy="1188.5" r="9.8" fill="#00BFC4" fill-opacity="0.5"/>
<circle cx="502.5" cy="1183.8" r="9.8" fill="#00BFC4" fill-opacity="0.5"/>
<circle cx="587.5" cy="1220.8" r="9.8" fill="#00BFC4" fill-opacity="0.5"/>
<circle cx="435.9" cy="1154.7" r="9.8" fill="#F8766D" fill-opacity="0.5"/>
<circle cx="552.5" cy="1193.6" r="9.8" fill="#00BFC4" fill-opacity="0.5"/>
<circle cx="454.7" cy="1206.6" r="9.8" fill="#F8766D" fill-opacity="0.5"/>
<circle cx="530.5" cy="1180.6" r="9.8" fill="#00BFC4" fill-opacity="0.5"/>
<circle cx="575.8" cy="1191.0" r="9.8" fill="#00BFC4" fill-opacity="0.5"/>
<circle cx="595.3" cy="1175.5" r="9.8" fill="#00BFC4" fill-opacity="0.5"/>
<circle cx="588.2" cy="1086.0" r="9.8" fill="#00BFC4" fill-opacity="0.5"/>
<circle cx="599.2" cy="1198.8" r="9.8" fill="#00BFC4" fill-opacity="0.5"/>
<circle cx="588.8" cy="1161.2" r="9.8" fill="#00BFC4" fill-opacity="0.5"/>
<circle cx="507.2" cy="1198.8" r="9.8" fill="#00BFC4" fill-opacity="0.5"/>
<circle cx="432.0" cy="1167.0" r="9.8" fill="#F8766D" fill-opacity="0.5"/>
<circle cx="482.5" cy="1126.2" r="9.8" fill="#00BFC4" fill-opacity="0.5"/>
<circle cx="553.8" cy="1219.5" r="9.8" fill="#F8766D" fill-opacity="0.5"/>
<circle cx="441.1" cy="1204.0" r="9.8" fill="#00BFC4" fill-opacity="0.5"/>
<circle cx="502.0" cy="1201.4" r="9.8" fill="#00BFC4" fill-opacity="0.5"/>
<circle cx="472.8" cy="1101.6" r="9.8" fill="#00BFC4" fill-opacity="0.5"/>
<circle cx="491.6" cy="1193.6" r="9.8" fill="#00BFC4" fill-opacity="0.5"/>
<circle cx="477.3" cy="1207.9" r="9.8" fill="#00BFC4" fill-opacity="0.5"/>
</g>
<g clip-path="url(#c42)">
<rect x="633.9" y="1075.8" width="248.0" height="224.7" fill="#EBEBEB"/>
<line x1="633.9" x2="881.9" y1="1241.3" y2="1241.3" stroke="#fff" stroke-width="2.2"/>
<line x1="633.9" x2="881.9" y1="1179.3" y2="1179.3" stroke="#fff" stroke-width="2.2"/>
<line x1="633.9" x2="881.9" y1="1117.2" y2="1117.2" stroke="#fff" stroke-width="2.2"/>
<line x1="649.9" x2="649.9" y1="1075.8" y2="1300.5" stroke="#fff" stroke-width="2.2"/>
<line x1="698.9" x2="698.9" y1="1075.8" y2="1300.5" stroke="#fff" stroke-width="2.2"/>
<line x1="748.0" x2="748.0" y1="1075.8" y2="1300.5" stroke="#fff" stroke-width="2.2"/>
<line x1="797.1" x2="797.1" y1="1075.8" y2="1300.5" stroke="#fff" stroke-width="2.2"/>
<line x1="846.2" x2="846.2" y1="1075.8" y2="1300.5" stroke="#fff" stroke-width="2.2"/>
<line x1="633.9" x2="881.9" y1="1272.4" y2="1272.4" stroke="#fff" stroke-width="4.4"/>
<line x1="633.9" x2="881.9" y1="1210.3" y2="1210.3" stroke="#fff" stroke-width="4.4"/>
<line x1="633.9" x2="881.9" y1="1148.2" y2="1148.2" stroke="#fff" stroke-width="4.4"/>
<line x1="633.9" x2="881.9" y1="1086.1" y2="1086.1" stroke="#fff" stroke-width="4.4"/>
<line x1="674.4" x2="674.4" y1="1075.8" y2="1300.5" stroke="#fff" stroke-width="4.4"/>
<line x1="723.5" x2="723.5" y1="1075.8" y2="1300.5" stroke="#fff" stroke-width="4.4"/>
<line x1="772.5" x2="772.5" y1="1075.8" y2="1300.5" stroke="#fff" stroke-width="4.4"/>
<line x1="821.6" x2="821.6" y1="1075.8" y2="1300.5" stroke="#fff" stroke-width="4.4"/>
<line x1="870.7" x2="870.7" y1="1075.8" y2="1300.5" stroke="#fff" stroke-width="4.4"/>
<circle cx="691.3" cy="1146.9" r="9.8" fill="#00BFC4" fill-opacity="0.5"/>
<circle cx="740.1" cy="1173.4" r="9.8" fill="#00BFC4" fill-opacity="0.5"/>
<circle cx="801.5" cy="1207.9" r="9.8" fill="#F8766D" fill-opacity="0.5"/>
<circle cx="775.6" cy="1202.7" r="9.8" fill="#F8766D" fill-opacity="0.5"/>
<circle cx="797.6" cy="1188.4" r="9.8" fill="#F8766D" fill-opacity="0.5"/>
<circle cx="815.7" cy="1201.4" r="9.8" fill="#F8766D" fill-opacity="0.5"/>
<circle cx="739.3" cy="1166.4" r="9.8" fill="#00BFC4" fill-opacity="0.5"/>
<circle cx="658.9" cy="1204.0" r="9.8" fill="#00BFC4" fill-opacity="0.5"/>
<circle cx="669.3" cy="1178.0" r="9.8" fill="#00BFC4" fill-opacity="0.5"/>
<circle cx="691.3" cy="1202.7" r="9.8" fill="#00BFC4" fill-opacity="0.5"/>
<circle cx="735.4" cy="1254.5" r="9.8" fill="#00BFC4" fill-opacity="0.5"/>
<circle cx="801.5" cy="1161.2" r="9.8" fill="#00BFC4" fill-opacity="0.5"/>
<circle cx="704.3" cy="1157.3" r="9.8" fill="#00BFC4" fill-opacity="0.5"/>
<circle cx="713.4" cy="1188.4" r="9.8" fill="#00BFC4" fill-opacity="0.5"/>
<circle cx="757.4" cy="1223.4" r="9.8" fill="#00BFC4" fill-opacity="0.5"/>
<circle cx="801.5" cy="1174.2" r="9.8" fill="#F8766D" fill-opacity="0.5"/>
<circle cx="707.4" cy="1166.0" r="9.8" fill="#00BFC4" fill-opacity="0.5"/>
<circle cx="715.3" cy="1086.0" r="9.8" fill="#00BFC4" fill-opacity="0.5"/>
<circle cx="747.0" cy="1220.8" r="9.8" fill="#00BFC4" fill-opacity="0.5"/>
<circle cx="820.9" cy="1154.7" r="9.8" fill="#F8766D" fill-opacity="0.5"/>
<circle cx="729.1" cy="1204.3" r="9.8" fill="#00BFC4" fill-opacity="0.5"/>
<circle cx="732.3" cy="1182.9" r="9.8" fill="#00BFC4" fill-opacity="0.5"/>
<circle cx="757.4" cy="1175.5" r="9.8" fill="#00BFC4" fill-opacity="0.5"/>
<circle cx="752.2" cy="1201.4" r="9.8" fill="#00BFC4" fill-opacity="0.5"/>
<circle cx="700.4" cy="1198.8" r="9.8" fill="#00BFC4" fill-opacity="0.5"/>
<circle cx="725.7" cy="1126.2" r="9.8" fill="#00BFC4" fill-opacity="0.5"/>
<circle cx="718.5" cy="1213.0" r="9.8" fill="#00BFC4" fill-opacity="0.5"/>
<circle cx="782.0" cy="1146.9" r="9.8" fill="#F8766D" fill-opacity="0.5"/>
<circle cx="861.7" cy="1167.7" r="9.8" fill="#F8766D" fill-opacity="0.5"/>
<circle cx="862.4" cy="1154.7" r="9.8" fill="#F8766D" fill-opacity="0.5"/>
<circle cx="793.7" cy="1228.6" r="9.8" fill="#F8766D" fill-opacity="0.5"/>
<circle cx="775.6" cy="1206.6" r="9.8" fill="#00BFC4" fill-opacity="0.5"/>
<circle cx="785.9" cy="1176.8" r="9.8" fill="#00BFC4" fill-opacity="0.5"/>
<circle cx="753.5" cy="1127.5" r="9.8" fill="#00BFC4" fill-opacity="0.5"/>
<circle cx="717.2" cy="1162.5" r="9.8" fill="#00BFC4" fill-opacity="0.5"/>
<circle cx="645.3" cy="1181.3" r="9.8" fill="#00BFC4" fill-opacity="0.5"/>
<circle cx="847.5" cy="1213.0" r="9.8" fill="#F8766D" fill-opacity="0.5"/>
<circle cx="736.7" cy="1222.1" r="9.8" fill="#00BFC4" fill-opacity="0.5"/>
<circle cx="782.0" cy="1206.6" r="9.8" fill="#F8766D" fill-opacity="0.5"/>
<circle cx="700.4" cy="1152.1" r="9.8" fill="#00BFC4" fill-opacity="0.5"/>
<circle cx="775.6" cy="1180.6" r="9.8" fill="#00BFC4" fill-opacity="0.5"/>
<circle cx="725.3" cy="1198.5" r="9.8" fill="#00BFC4" fill-opacity="0.5"/>
<circle cx="715.9" cy="1239.0" r="9.8" fill="#00BFC4" fill-opacity="0.5"/>
<circle cx="759.4" cy="1232.5" r="9.8" fill="#00BFC4" fill-opacity="0.5"/>
<circle cx="801.5" cy="1214.3" r="9.8" fill="#F8766D" fill-opacity="0.5"/>
<circle cx="728.5" cy="1187.8" r="9.8" fill="#00BFC4" fill-opacity="0.5"/>
<circle cx="760.0" cy="1167.7" r="9.8" fill="#00BFC4" fill-opacity="0.5"/>
<circle cx="779.4" cy="1290.8" r="9.8" fill="#F8766D" fill-opacity="0.5"/>
<circle cx="697.6" cy="1173.8" r="9.8" fill="#00BFC4" fill-opacity="0.5"/>
<circle cx="741.9" cy="1257.1" r="9.8" fill="#00BFC4" fill-opacity="0.5"/>
<circle cx="747.0" cy="1172.9" r="9.8" fill="#F8766D" fill-opacity="0.5"/>
<circle cx="682.2" cy="1179.3" r="9.8" fill="#00BFC4" fill-opacity="0.5"/>
<circle cx="674.5" cy="1235.1" r="9.8" fill="#00BFC4" fill-opacity="0.5"/>
<circle cx="723.7" cy="1174.2" r="9.8" fill="#00BFC4" fill-opacity="0.5"/>
<circle cx="697.8" cy="1141.8" r="9.8" fill="#00BFC4" fill-opacity="0.5"/>
<circle cx="795.6" cy="1140.5" r="9.8" fill="#F8766D" fill-opacity="0.5"/>
<circle cx="704.3" cy="1235.1" r="9.8" fill="#F8766D" fill-opacity="0.5"/>
<circle cx="734.1" cy="1178.0" r="9.8" fill="#00BFC4" fill-opacity="0.5"/>
<circle cx="658.9" cy="1162.5" r="9.8" fill="#00BFC4" fill-opacity="0.5"/>
<circle cx="723.7" cy="1184.5" r="9.8" fill="#00BFC4" fill-opacity="0.5"/>
<circle cx="736.7" cy="1188.4" r="9.8" fill="#00BFC4" fill-opacity="0.5"/>
<circle cx="773.6" cy="1171.6" r="9.8" fill="#F8766D" fill-opacity="0.5"/>
<circle cx="715.9" cy="1135.3" r="9.8" fill="#00BFC4" fill-opacity="0.5"/>
<circle cx="705.6" cy="1219.5" r="9.8" fill="#00BFC4" fill-opacity="0.5"/>
<circle cx="716.5" cy="1210.6" r="9.8" fill="#00BFC4" fill-opacity="0.5"/>
<circle cx="830.0" cy="1140.5" r="9.8" fill="#F8766D" fill-opacity="0.5"/>
<circle cx="747.0" cy="1191.0" r="9.8" fill="#00BFC4" fill-opacity="0.5"/>
<circle cx="710.8" cy="1246.7" r="9.8" fill="#00BFC4" fill-opacity="0.5"/>
<circle cx="705.6" cy="1136.6" r="9.8" fill="#00BFC4" fill-opacity="0.5"/>
<circle cx="665.4" cy="1188.4" r="9.8" fill="#00BFC4" fill-opacity="0.5"/>
<circle cx="718.5" cy="1224.7" r="9.8" fill="#00BFC4" fill-opacity="0.5"/>
<circle cx="774.9" cy="1280.4" r="9.8" fill="#F8766D" fill-opacity="0.5"/>
<circle cx="766.5" cy="1191.0" r="9.8" fill="#F8766D" fill-opacity="0.5"/>
<circle cx="766.5" cy="1219.5" r="9.8" fill="#F8766D" fill-opacity="0.5"/>
<circle cx="723.7" cy="1227.3" r="9.8" fill="#F8766D" fill-opacity="0.5"/>
<circle cx="741.9" cy="1200.1" r="9.8" fill="#00BFC4" fill-opacity="0.5"/>
<circle cx="713.4" cy="1146.9" r="9.8" fill="#00BFC4" fill-opacity="0.5"/>
<circle cx="723.7" cy="1154.7" r="9.8" fill="#00BFC4" fill-opacity="0.5"/>
<circle cx="783.3" cy="1189.7" r="9.8" fill="#00BFC4" fill-opacity="0.5"/>
<circle cx="730.2" cy="1210.4" r="9.8" fill="#00BFC4" fill-opacity="0.5"/>
<circle cx="695.2" cy="1215.6" r="9.8" fill="#00BFC4" fill-opacity="0.5"/>
<circle cx="810.6" cy="1188.4" r="9.8" fill="#F8766D" fill-opacity="0.5"/>
<circle cx="788.5" cy="1161.2" r="9.8" fill="#00BFC4" fill-opacity="0.5"/>
<circle cx="758.7" cy="1101.6" r="9.8" fill="#00BFC4" fill-opacity="0.5"/>
<circle cx="734.1" cy="1197.5" r="9.8" fill="#00BFC4" fill-opacity="0.5"/>
<circle cx="669.3" cy="1148.2" r="9.8" fill="#00BFC4" fill-opacity="0.5"/>
<circle cx="670.6" cy="1154.7" r="9.8" fill="#00BFC4" fill-opacity="0.5"/>
<circle cx="796.3" cy="1174.2" r="9.8" fill="#00BFC4" fill-opacity="0.5"/>
<circle cx="747.0" cy="1219.5" r="9.8" fill="#F8766D" fill-opacity="0.5"/>
<circle cx="796.3" cy="1204.0" r="9.8" fill="#F8766D" fill-opacity="0.5"/>
<circle cx="710.8" cy="1194.9" r="9.8" fill="#00BFC4" fill-opacity="0.5"/>
<circle cx="765.2" cy="1200.1" r="9.8" fill="#00BFC4" fill-opacity="0.5"/>
<circle cx="645.3" cy="1134.6" r="9.8" fill="#00BFC4" fill-opacity="0.5"/>
<circle cx="751.6" cy="1110.7" r="9.8" fill="#00BFC4" fill-opacity="0.5"/>
<circle cx="743.2" cy="1178.0" r="9.8" fill="#00BFC4" fill-opacity="0.5"/>
<circle cx="723.7" cy="1206.6" r="9.8" fill="#00BFC4" fill-opacity="0.5"/>
<circle cx="730.2" cy="1162.5" r="9.8" fill="#00BFC4" fill-opacity="0.5"/>
<circle cx="703.0" cy="1172.9" r="9.8" fill="#00BFC4" fill-opacity="0.5"/>
<circle cx="779.4" cy="1236.4" r="9.8" fill="#F8766D" fill-opacity="0.5"/>
<circle cx="870.8" cy="1157.3" r="9.8" fill="#F8766D" fill-opacity="0.5"/>
<circle cx="751.6" cy="1106.8" r="9.8" fill="#00BFC4" fill-opacity="0.5"/>
<circle cx="710.8" cy="1246.7" r="9.8" fill="#F8766D" fill-opacity="0.5"/>
<circle cx="809.3" cy="1154.7" r="9.8" fill="#F8766D" fill-opacity="0.5"/>
<circle cx="713.4" cy="1172.9" r="9.8" fill="#00BFC4" fill-opacity="0.5"/>
<circle cx="674.5" cy="1216.9" r="9.8" fill="#00BFC4" fill-opacity="0.5"/>
<circle cx="721.1" cy="1198.8" r="9.8" fill="#00BFC4" fill-opacity="0.5"/>
<circle cx="705.6" cy="1213.0" r="9.8" fill="#00BFC4" fill-opacity="0.5"/>
<circle cx="708.2" cy="1126.2" r="9.8" fill="#00BFC4" fill-opacity="0.5"/>
<circle cx="762.6" cy="1198.8" r="9.8" fill="#F8766D" fill-opacity="0.5"/>
<circle cx="775.6" cy="1274.0" r="9.8" fill="#F8766D" fill-opacity="0.5"/>
<circle cx="724.3" cy="1211.5" r="9.8" fill="#00BFC4" fill-opacity="0.5"/>
<circle cx="703.0" cy="1241.6" r="9.8" fill="#00BFC4" fill-opacity="0.5"/>
<circle cx="767.8" cy="1135.3" r="9.8" fill="#00BFC4" fill-opacity="0.5"/>
<circle cx="684.8" cy="1165.1" r="9.8" fill="#00BFC4" fill-opacity="0.5"/>
<circle cx="718.4" cy="1177.9" r="9.8" fill="#00BFC4" fill-opacity="0.5"/>
<circle cx="705.6" cy="1188.4" r="9.8" fill="#00BFC4" fill-opacity="0.5"/>
<circle cx="774.3" cy="1228.6" r="9.8" fill="#F8766D" fill-opacity="0.5"/>
<circle cx="678.4" cy="1140.5" r="9.8" fill="#00BFC4" fill-opacity="0.5"/>
<circle cx="762.6" cy="1187.1" r="9.8" fill="#00BFC4" fill-opacity="0.5"/>
<circle cx="805.4" cy="1180.6" r="9.8" fill="#F8766D" fill-opacity="0.5"/>
</g>
<g clip-path="url(#c43)">
<rect x="905.0" y="1075.8" width="248.0" height="224.7" fill="#EBEBEB"/>
<line x1="905.0" x2="1153.0" y1="1241.3" y2="1241.3" stroke="#fff" stroke-width="2.2"/>
<line x1="905.0" x2="1153.0" y1="1179.3" y2="1179.3" stroke="#fff" stroke-width="2.2"/>
<line x1="905.0" x2="1153.0" y1="1117.2" y2="1117.2" stroke="#fff" stroke-width="2.2"/>
<line x1="910.4" x2="910.4" y1="1075.8" y2="1300.5" stroke="#fff" stroke-width="2.2"/>
<line x1="961.0" x2="961.0" y1="1075.8" y2="1300.5" stroke="#fff" stroke-width="2.2"/>
<line x1="1011.6" x2="1011.6" y1="1075.8" y2="1300.5" stroke="#fff" stroke-width="2.2"/>
<line x1="1062.3" x2="1062.3" y1="1075.8" y2="1300.5" stroke="#fff" stroke-width="2.2"/>
<line x1="1112.9" x2="1112.9" y1="1075.8" y2="1300.5" stroke="#fff" stroke-width="2.2"/>
<line x1="905.0" x2="1153.0" y1="1272.4" y2="1272.4" stroke="#fff" stroke-width="4.4"/>
<line x1="905.0" x2="1153.0" y1="1210.3" y2="1210.3" stroke="#fff" stroke-width="4.4"/>
<line x1="905.0" x2="1153.0" y1="1148.2" y2="1148.2" stroke="#fff" stroke-width="4.4"/>
<line x1="905.0" x2="1153.0" y1="1086.1" y2="1086.1" stroke="#fff" stroke-width="4.4"/>
<line x1="935.7" x2="935.7" y1="1075.8" y2="1300.5" stroke="#fff" stroke-width="4.4"/>
<line x1="986.3" x2="986.3" y1="1075.8" y2="1300.5" stroke="#fff" stroke-width="4.4"/>
<line x1="1036.9" x2="1036.9" y1="1075.8" y2="1300.5" stroke="#fff" stroke-width="4.4"/>
<line x1="1087.6" x2="1087.6" y1="1075.8" y2="1300.5" stroke="#fff" stroke-width="4.4"/>
<line x1="1138.2" x2="1138.2" y1="1075.8" y2="1300.5" stroke="#fff" stroke-width="4.4"/>
<circle cx="1121.7" cy="1176.8" r="9.8" fill="#00BFC4" fill-opacity="0.5"/>
<circle cx="948.1" cy="1192.3" r="9.8" fill="#00BFC4" fill-opacity="0.5"/>
<circle cx="1016.8" cy="1134.0" r="9.8" fill="#00BFC4" fill-opacity="0.5"/>
<circle cx="1119.1" cy="1183.2" r="9.8" fill="#00BFC4" fill-opacity="0.5"/>
<circle cx="1015.5" cy="1180.6" r="9.8" fill="#00BFC4" fill-opacity="0.5"/>
<circle cx="916.3" cy="1170.9" r="9.8" fill="#00BFC4" fill-opacity="0.5"/>
<circle cx="1025.8" cy="1206.6" r="9.8" fill="#00BFC4" fill-opacity="0.5"/>
<circle cx="1095.8" cy="1202.7" r="9.8" fill="#00BFC4" fill-opacity="0.5"/>
<circle cx="1111.4" cy="1224.7" r="9.8" fill="#00BFC4" fill-opacity="0.5"/>
<circle cx="1031.0" cy="1134.0" r="9.8" fill="#00BFC4" fill-opacity="0.5"/>
<circle cx="1033.6" cy="1104.8" r="9.8" fill="#00BFC4" fill-opacity="0.5"/>
<circle cx="1072.5" cy="1193.6" r="9.8" fill="#F8766D" fill-opacity="0.5"/>
<circle cx="952.6" cy="1148.2" r="9.8" fill="#00BFC4" fill-opacity="0.5"/>
<circle cx="955.8" cy="1166.4" r="9.8" fill="#00BFC4" fill-opacity="0.5"/>
<circle cx="1085.4" cy="1146.9" r="9.8" fill="#F8766D" fill-opacity="0.5"/>
<circle cx="1055.6" cy="1152.1" r="9.8" fill="#00BFC4" fill-opacity="0.5"/>
<circle cx="932.5" cy="1204.0" r="9.8" fill="#F8766D" fill-opacity="0.5"/>
<circle cx="1142.5" cy="1154.7" r="9.8" fill="#F8766D" fill-opacity="0.5"/>
<circle cx="957.8" cy="1086.0" r="9.8" fill="#00BFC4" fill-opacity="0.5"/>
<circle cx="1106.2" cy="1201.4" r="9.8" fill="#00BFC4" fill-opacity="0.5"/>
<circle cx="1125.6" cy="1184.5" r="9.8" fill="#F8766D" fill-opacity="0.5"/>
<circle cx="936.4" cy="1137.9" r="9.8" fill="#00BFC4" fill-opacity="0.5"/>
<circle cx="994.7" cy="1246.7" r="9.8" fill="#F8766D" fill-opacity="0.5"/>
<circle cx="1108.8" cy="1180.6" r="9.8" fill="#00BFC4" fill-opacity="0.5"/>
<circle cx="1092.0" cy="1201.2" r="9.8" fill="#00BFC4" fill-opacity="0.5"/>
<circle cx="1055.6" cy="1157.3" r="9.8" fill="#F8766D" fill-opacity="0.5"/>
<circle cx="953.9" cy="1175.5" r="9.8" fill="#00BFC4" fill-opacity="0.5"/>
<circle cx="1016.1" cy="1174.6" r="9.8" fill="#00BFC4" fill-opacity="0.5"/>
<circle cx="1101.0" cy="1226.0" r="9.8" fill="#F8766D" fill-opacity="0.5"/>
<circle cx="1094.2" cy="1204.1" r="9.8" fill="#00BFC4" fill-opacity="0.5"/>
<circle cx="1086.7" cy="1154.7" r="9.8" fill="#F8766D" fill-opacity="0.5"/>
<circle cx="1028.4" cy="1188.4" r="9.8" fill="#00BFC4" fill-opacity="0.5"/>
<circle cx="992.1" cy="1158.6" r="9.8" fill="#00BFC4" fill-opacity="0.5"/>
<circle cx="1088.0" cy="1126.2" r="9.8" fill="#00BFC4" fill-opacity="0.5"/>
<circle cx="1069.9" cy="1201.4" r="9.8" fill="#F8766D" fill-opacity="0.5"/>
<circle cx="1103.5" cy="1207.8" r="9.8" fill="#00BFC4" fill-opacity="0.5"/>
<circle cx="1007.7" cy="1232.5" r="9.8" fill="#00BFC4" fill-opacity="0.5"/>
<circle cx="1090.6" cy="1171.6" r="9.8" fill="#00BFC4" fill-opacity="0.5"/>
<circle cx="1103.6" cy="1200.1" r="9.8" fill="#F8766D" fill-opacity="0.5"/>
<circle cx="1080.3" cy="1204.0" r="9.8" fill="#00BFC4" fill-opacity="0.5"/>
<circle cx="1111.4" cy="1140.5" r="9.8" fill="#F8766D" fill-opacity="0.5"/>
<circle cx="1062.1" cy="1220.8" r="9.8" fill="#F8766D" fill-opacity="0.5"/>
<circle cx="1014.2" cy="1219.5" r="9.8" fill="#00BFC4" fill-opacity="0.5"/>
<circle cx="1093.2" cy="1228.6" r="9.8" fill="#F8766D" fill-opacity="0.5"/>
<circle cx="1142.5" cy="1152.1" r="9.8" fill="#00BFC4" fill-opacity="0.5"/>
<circle cx="1116.5" cy="1206.6" r="9.8" fill="#00BFC4" fill-opacity="0.5"/>
<circle cx="1069.9" cy="1219.5" r="9.8" fill="#F8766D" fill-opacity="0.5"/>
<circle cx="1091.9" cy="1240.3" r="9.8" fill="#00BFC4" fill-opacity="0.5"/>
<circle cx="1005.7" cy="1203.3" r="9.8" fill="#F8766D" fill-opacity="0.5"/>
<circle cx="1016.8" cy="1171.6" r="9.8" fill="#F8766D" fill-opacity="0.5"/>
<circle cx="1031.0" cy="1176.8" r="9.8" fill="#00BFC4" fill-opacity="0.5"/>
<circle cx="964.9" cy="1198.8" r="9.8" fill="#00BFC4" fill-opacity="0.5"/>
<circle cx="1002.5" cy="1167.7" r="9.8" fill="#00BFC4" fill-opacity="0.5"/>
<circle cx="924.1" cy="1140.5" r="9.8" fill="#F8766D" fill-opacity="0.5"/>
<circle cx="1086.7" cy="1135.3" r="9.8" fill="#00BFC4" fill-opacity="0.5"/>
<circle cx="1068.6" cy="1178.0" r="9.8" fill="#00BFC4" fill-opacity="0.5"/>
<circle cx="1116.5" cy="1204.0" r="9.8" fill="#F8766D" fill-opacity="0.5"/>
<circle cx="1029.7" cy="1223.4" r="9.8" fill="#00BFC4" fill-opacity="0.5"/>
<circle cx="1014.2" cy="1242.8" r="9.8" fill="#00BFC4" fill-opacity="0.5"/>
<circle cx="1095.8" cy="1167.7" r="9.8" fill="#00BFC4" fill-opacity="0.5"/>
<circle cx="1059.5" cy="1183.2" r="9.8" fill="#00BFC4" fill-opacity="0.5"/>
<circle cx="1047.9" cy="1172.9" r="9.8" fill="#00BFC4" fill-opacity="0.5"/>
<circle cx="1044.6" cy="1154.7" r="9.8" fill="#F8766D" fill-opacity="0.5"/>
<circle cx="996.0" cy="1154.7" r="9.8" fill="#00BFC4" fill-opacity="0.5"/>
<circle cx="1037.5" cy="1175.5" r="9.8" fill="#00BFC4" fill-opacity="0.5"/>
<circle cx="1047.9" cy="1202.7" r="9.8" fill="#00BFC4" fill-opacity="0.5"/>
<circle cx="1033.3" cy="1174.2" r="9.8" fill="#00BFC4" fill-opacity="0.5"/>
<circle cx="1024.5" cy="1196.2" r="9.8" fill="#00BFC4" fill-opacity="0.5"/>
<circle cx="1049.2" cy="1279.1" r="9.8" fill="#F8766D" fill-opacity="0.5"/>
<circle cx="1097.8" cy="1101.6" r="9.8" fill="#00BFC4" fill-opacity="0.5"/>
<circle cx="994.7" cy="1137.9" r="9.8" fill="#00BFC4" fill-opacity="0.5"/>
<circle cx="1049.2" cy="1178.0" r="9.8" fill="#00BFC4" fill-opacity="0.5"/>
<circle cx="1095.8" cy="1126.2" r="9.8" fill="#00BFC4" fill-opacity="0.5"/>
<circle cx="1128.9" cy="1149.5" r="9.8" fill="#F8766D" fill-opacity="0.5"/>
<circle cx="1024.5" cy="1235.1" r="9.8" fill="#00BFC4" fill-opacity="0.5"/>
<circle cx="1082.8" cy="1216.9" r="9.8" fill="#F8766D" fill-opacity="0.5"/>
<circle cx="1031.2" cy="1169.4" r="9.8" fill="#00BFC4" fill-opacity="0.5"/>
<circle cx="1046.6" cy="1109.4" r="9.8" fill="#00BFC4" fill-opacity="0.5"/>
<circle cx="1079.0" cy="1209.2" r="9.8" fill="#F8766D" fill-opacity="0.5"/>
<circle cx="996.0" cy="1219.5" r="9.8" fill="#00BFC4" fill-opacity="0.5"/>
<circle cx="1082.8" cy="1193.6" r="9.8" fill="#F8766D" fill-opacity="0.5"/>
<circle cx="1119.1" cy="1126.2" r="9.8" fill="#00BFC4" fill-opacity="0.5"/>
<circle cx="983.1" cy="1157.3" r="9.8" fill="#00BFC4" fill-opacity="0.5"/>
<circle cx="1019.3" cy="1161.2" r="9.8" fill="#00BFC4" fill-opacity="0.5"/>
<circle cx="1049.2" cy="1290.8" r="9.8" fill="#F8766D" fill-opacity="0.5"/>
<circle cx="964.9" cy="1220.8" r="9.8" fill="#00BFC4" fill-opacity="0.5"/>
<circle cx="1106.2" cy="1167.7" r="9.8" fill="#F8766D" fill-opacity="0.5"/>
<circle cx="1116.5" cy="1224.7" r="9.8" fill="#F8766D" fill-opacity="0.5"/>
<circle cx="1028.4" cy="1202.7" r="9.8" fill="#00BFC4" fill-opacity="0.5"/>
<circle cx="1132.1" cy="1219.5" r="9.8" fill="#00BFC4" fill-opacity="0.5"/>
<circle cx="1080.3" cy="1240.3" r="9.8" fill="#00BFC4" fill-opacity="0.5"/>
<circle cx="1014.2" cy="1143.1" r="9.8" fill="#00BFC4" fill-opacity="0.5"/>
<circle cx="1063.4" cy="1187.1" r="9.8" fill="#F8766D" fill-opacity="0.5"/>
<circle cx="1049.2" cy="1219.5" r="9.8" fill="#F8766D" fill-opacity="0.5"/>
<circle cx="1116.5" cy="1162.5" r="9.8" fill="#00BFC4" fill-opacity="0.5"/>
<circle cx="992.1" cy="1187.8" r="9.8" fill="#00BFC4" fill-opacity="0.5"/>
<circle cx="1096.8" cy="1205.7" r="9.8" fill="#00BFC4" fill-opacity="0.5"/>
<circle cx="1080.3" cy="1235.1" r="9.8" fill="#F8766D" fill-opacity="0.5"/>
<circle cx="1056.9" cy="1211.7" r="9.8" fill="#00BFC4" fill-opacity="0.5"/>
<circle cx="954.5" cy="1194.9" r="9.8" fill="#00BFC4" fill-opacity="0.5"/>
<circle cx="1028.4" cy="1167.7" r="9.8" fill="#00BFC4" fill-opacity="0.5"/>
<circle cx="1108.8" cy="1157.3" r="9.8" fill="#00BFC4" fill-opacity="0.5"/>
<circle cx="1098.4" cy="1206.6" r="9.8" fill="#00BFC4" fill-opacity="0.5"/>
<circle cx="1091.9" cy="1180.6" r="9.8" fill="#F8766D" fill-opacity="0.5"/>
<circle cx="1066.0" cy="1167.7" r="9.8" fill="#00BFC4" fill-opacity="0.5"/>
<circle cx="1047.9" cy="1193.6" r="9.8" fill="#F8766D" fill-opacity="0.5"/>
<circle cx="1072.5" cy="1146.9" r="9.8" fill="#00BFC4" fill-opacity="0.5"/>
<circle cx="1007.7" cy="1274.0" r="9.8" fill="#F8766D" fill-opacity="0.5"/>
<circle cx="1088.0" cy="1200.1" r="9.8" fill="#00BFC4" fill-opacity="0.5"/>
<circle cx="1091.5" cy="1184.6" r="9.8" fill="#00BFC4" fill-opacity="0.5"/>
<circle cx="986.9" cy="1145.6" r="9.8" fill="#00BFC4" fill-opacity="0.5"/>
</g>
<g clip-path="url(#c44)">
<rect x="1176.0" y="1075.8" width="248.0" height="224.7" fill="#EBEBEB"/>
<line x1="1176.0" x2="1424.0" y1="1260.0" y2="1260.0" stroke="#fff" stroke-width="2.2"/>
<line x1="1176.0" x2="1424.0" y1="1199.2" y2="1199.2" stroke="#fff" stroke-width="2.2"/>
<line x1="1176.0" x2="1424.0" y1="1138.5" y2="1138.5" stroke="#fff" stroke-width="2.2"/>
<line x1="1176.0" x2="1424.0" y1="1077.8" y2="1077.8" stroke="#fff" stroke-width="2.2"/>
<line x1="1241.3" x2="1241.3" y1="1075.8" y2="1300.5" stroke="#fff" stroke-width="2.2"/>
<line x1="1309.8" x2="1309.8" y1="1075.8" y2="1300.5" stroke="#fff" stroke-width="2.2"/>
<line x1="1378.3" x2="1378.3" y1="1075.8" y2="1300.5" stroke="#fff" stroke-width="2.2"/>
<line x1="1176.0" x2="1424.0" y1="1290.3" y2="1290.3" stroke="#fff" stroke-width="4.4"/>
<line x1="1176.0" x2="1424.0" y1="1229.6" y2="1229.6" stroke="#fff" stroke-width="4.4"/>
<line x1="1176.0" x2="1424.0" y1="1168.9" y2="1168.9" stroke="#fff" stroke-width="4.4"/>
<line x1="1176.0" x2="1424.0" y1="1108.2" y2="1108.2" stroke="#fff" stroke-width="4.4"/>
<line x1="1207.0" x2="1207.0" y1="1075.8" y2="1300.5" stroke="#fff" stroke-width="4.4"/>
<line x1="1275.5" x2="1275.5" y1="1075.8" y2="1300.5" stroke="#fff" stroke-width="4.4"/>
<line x1="1344.1" x2="1344.1" y1="1075.8" y2="1300.5" stroke="#fff" stroke-width="4.4"/>
<line x1="1412.6" x2="1412.6" y1="1075.8" y2="1300.5" stroke="#fff" stroke-width="4.4"/>
<path d="M1186.5,1261.6 C1187.5,1261.0 1190.5,1258.5 1192.6,1257.5 C1194.8,1256.6 1197.0,1256.2 1199.5,1256.2 C1202.0,1256.2 1205.2,1257.2 1207.7,1257.5 C1210.2,1257.9 1212.2,1258.7 1214.5,1258.2 C1216.8,1257.8 1219.3,1256.4 1221.4,1254.8 C1223.4,1253.2 1225.0,1251.5 1226.8,1248.6 C1228.7,1245.8 1230.5,1241.8 1232.3,1237.7 C1234.1,1233.6 1236.0,1229.5 1237.8,1224.0 C1239.6,1218.5 1241.4,1211.5 1243.3,1204.9 C1245.1,1198.2 1246.9,1191.4 1248.7,1184.3 C1250.6,1177.3 1252.4,1170.0 1254.2,1162.4 C1256.0,1154.9 1257.9,1146.2 1259.7,1139.2 C1261.5,1132.1 1263.3,1126.2 1265.2,1120.0 C1267.0,1113.8 1268.8,1107.2 1270.6,1102.2 C1272.5,1097.2 1274.3,1092.5 1276.1,1089.9 C1277.9,1087.3 1279.8,1086.7 1281.6,1086.5 C1283.4,1086.2 1285.5,1087.3 1287.1,1088.5 C1288.7,1089.8 1289.6,1091.3 1291.2,1094.0 C1292.8,1096.7 1294.6,1100.8 1296.6,1105.0 C1298.7,1109.1 1301.2,1114.3 1303.5,1118.6 C1305.8,1123.0 1308.0,1127.1 1310.3,1131.0 C1312.6,1134.8 1314.7,1138.5 1317.2,1141.9 C1319.7,1145.3 1322.9,1148.3 1325.4,1151.5 C1327.9,1154.7 1330.2,1157.6 1332.2,1161.1 C1334.3,1164.5 1335.6,1167.7 1337.7,1172.0 C1339.8,1176.3 1342.3,1181.8 1344.5,1187.1 C1346.8,1192.3 1349.3,1198.2 1351.4,1203.5 C1353.4,1208.7 1355.0,1213.5 1356.9,1218.5 C1358.7,1223.6 1360.5,1228.6 1362.3,1233.6 C1364.2,1238.6 1366.0,1243.9 1367.8,1248.6 C1369.6,1253.4 1371.5,1258.2 1373.3,1262.3 C1375.1,1266.4 1376.7,1270.1 1378.8,1273.3 C1380.8,1276.5 1383.3,1279.2 1385.6,1281.5 C1387.9,1283.8 1389.9,1285.7 1392.4,1287.0 C1395.0,1288.2 1397.2,1288.6 1400.7,1289.0 C1404.1,1289.5 1410.9,1289.6 1413.0,1289.7 L1413.0,1290.3 L1186.5,1290.3 Z" fill="#F8766D" fill-opacity="0.5" stroke="none"/>
<path d="M1186.5,1261.6 C1187.5,1261.0 1190.5,1258.5 1192.6,1257.5 C1194.8,1256.6 1197.0,1256.2 1199.5,1256.2 C1202.0,1256.2 1205.2,1257.2 1207.7,1257.5 C1210.2,1257.9 1212.2,1258.7 1214.5,1258.2 C1216.8,1257.8 1219.3,1256.4 1221.4,1254.8 C1223.4,1253.2 1225.0,1251.5 1226.8,1248.6 C1228.7,1245.8 1230.5,1241.8 1232.3,1237.7 C1234.1,1233.6 1236.0,1229.5 1237.8,1224.0 C1239.6,1218.5 1241.4,1211.5 1243.3,1204.9 C1245.1,1198.2 1246.9,1191.4 1248.7,1184.3 C1250.6,1177.3 1252.4,1170.0 1254.2,1162.4 C1256.0,1154.9 1257.9,1146.2 1259.7,1139.2 C1261.5,1132.1 1263.3,1126.2 1265.2,1120.0 C1267.0,1113.8 1268.8,1107.2 1270.6,1102.2 C1272.5,1097.2 1274.3,1092.5 1276.1,1089.9 C1277.9,1087.3 1279.8,1086.7 1281.6,1086.5 C1283.4,1086.2 1285.5,1087.3 1287.1,1088.5 C1288.7,1089.8 1289.6,1091.3 1291.2,1094.0 C1292.8,1096.7 1294.6,1100.8 1296.6,1105.0 C1298.7,1109.1 1301.2,1114.3 1303.5,1118.6 C1305.8,1123.0 1308.0,1127.1 1310.3,1131.0 C1312.6,1134.8 1314.7,1138.5 1317.2,1141.9 C1319.7,1145.3 1322.9,1148.3 1325.4,1151.5 C1327.9,1154.7 1330.2,1157.6 1332.2,1161.1 C1334.3,1164.5 1335.6,1167.7 1337.7,1172.0 C1339.8,1176.3 1342.3,1181.8 1344.5,1187.1 C1346.8,1192.3 1349.3,1198.2 1351.4,1203.5 C1353.4,1208.7 1355.0,1213.5 1356.9,1218.5 C1358.7,1223.6 1360.5,1228.6 1362.3,1233.6 C1364.2,1238.6 1366.0,1243.9 1367.8,1248.6 C1369.6,1253.4 1371.5,1258.2 1373.3,1262.3 C1375.1,1266.4 1376.7,1270.1 1378.8,1273.3 C1380.8,1276.5 1383.3,1279.2 1385.6,1281.5 C1387.9,1283.8 1389.9,1285.7 1392.4,1287.0 C1395.0,1288.2 1397.2,1288.6 1400.7,1289.0 C1404.1,1289.5 1410.9,1289.6 1413.0,1289.7" fill="none" stroke="#000" stroke-width="4.5" stroke-linejoin="round"/>
<path d="M1186.5,1289.7 C1188.0,1289.6 1192.5,1289.5 1195.4,1289.0 C1198.2,1288.6 1200.8,1288.2 1203.6,1287.0 C1206.3,1285.7 1209.1,1284.0 1211.8,1281.5 C1214.5,1279.0 1217.5,1275.6 1220.0,1271.9 C1222.5,1268.3 1224.6,1264.2 1226.8,1259.6 C1229.1,1255.0 1231.4,1250.0 1233.7,1244.5 C1236.0,1239.1 1238.3,1233.1 1240.5,1226.8 C1242.8,1220.4 1245.1,1213.3 1247.4,1206.2 C1249.7,1199.2 1251.9,1191.9 1254.2,1184.3 C1256.5,1176.8 1258.8,1168.8 1261.1,1161.1 C1263.3,1153.3 1265.6,1145.3 1267.9,1137.8 C1270.2,1130.3 1272.5,1122.3 1274.7,1115.9 C1277.0,1109.5 1279.3,1103.4 1281.6,1099.5 C1283.9,1095.6 1285.9,1094.2 1288.4,1092.6 C1290.9,1091.0 1293.9,1090.8 1296.6,1089.9 C1299.4,1089.0 1302.6,1087.7 1304.9,1087.4 C1307.1,1087.2 1308.5,1087.2 1310.3,1088.5 C1312.2,1089.9 1314.0,1092.4 1315.8,1095.4 C1317.6,1098.3 1319.5,1101.8 1321.3,1106.3 C1323.1,1110.9 1324.9,1117.0 1326.8,1122.7 C1328.6,1128.4 1330.4,1134.6 1332.2,1140.5 C1334.1,1146.5 1335.6,1152.2 1337.7,1158.3 C1339.8,1164.5 1342.3,1171.6 1344.5,1177.5 C1346.8,1183.4 1348.9,1188.2 1351.4,1193.9 C1353.9,1199.6 1356.9,1205.8 1359.6,1211.7 C1362.3,1217.6 1365.1,1223.3 1367.8,1229.5 C1370.5,1235.6 1373.5,1243.6 1376.0,1248.6 C1378.5,1253.7 1380.4,1256.6 1382.9,1259.6 C1385.4,1262.6 1388.1,1264.2 1391.1,1266.4 C1394.0,1268.7 1397.0,1271.0 1400.7,1273.3 C1404.3,1275.6 1410.9,1279.0 1413.0,1280.1 L1413.0,1290.3 L1186.5,1290.3 Z" fill="#00BFC4" fill-opacity="0.5" stroke="none"/>
<path d="M1186.5,1289.7 C1188.0,1289.6 1192.5,1289.5 1195.4,1289.0 C1198.2,1288.6 1200.8,1288.2 1203.6,1287.0 C1206.3,1285.7 1209.1,1284.0 1211.8,1281.5 C1214.5,1279.0 1217.5,1275.6 1220.0,1271.9 C1222.5,1268.3 1224.6,1264.2 1226.8,1259.6 C1229.1,1255.0 1231.4,1250.0 1233.7,1244.5 C1236.0,1239.1 1238.3,1233.1 1240.5,1226.8 C1242.8,1220.4 1245.1,1213.3 1247.4,1206.2 C1249.7,1199.2 1251.9,1191.9 1254.2,1184.3 C1256.5,1176.8 1258.8,1168.8 1261.1,1161.1 C1263.3,1153.3 1265.6,1145.3 1267.9,1137.8 C1270.2,1130.3 1272.5,1122.3 1274.7,1115.9 C1277.0,1109.5 1279.3,1103.4 1281.6,1099.5 C1283.9,1095.6 1285.9,1094.2 1288.4,1092.6 C1290.9,1091.0 1293.9,1090.8 1296.6,1089.9 C1299.4,1089.0 1302.6,1087.7 1304.9,1087.4 C1307.1,1087.2 1308.5,1087.2 1310.3,1088.5 C1312.2,1089.9 1314.0,1092.4 1315.8,1095.4 C1317.6,1098.3 1319.5,1101.8 1321.3,1106.3 C1323.1,1110.9 1324.9,1117.0 1326.8,1122.7 C1328.6,1128.4 1330.4,1134.6 1332.2,1140.5 C1334.1,1146.5 1335.6,1152.2 1337.7,1158.3 C1339.8,1164.5 1342.3,1171.6 1344.5,1177.5 C1346.8,1183.4 1348.9,1188.2 1351.4,1193.9 C1353.9,1199.6 1356.9,1205.8 1359.6,1211.7 C1362.3,1217.6 1365.1,1223.3 1367.8,1229.5 C1370.5,1235.6 1373.5,1243.6 1376.0,1248.6 C1378.5,1253.7 1380.4,1256.6 1382.9,1259.6 C1385.4,1262.6 1388.1,1264.2 1391.1,1266.4 C1394.0,1268.7 1397.0,1271.0 1400.7,1273.3 C1404.3,1275.6 1410.9,1279.0 1413.0,1280.1" fill="none" stroke="#000" stroke-width="4.5" stroke-linejoin="round"/>
</g>
<g clip-path="url(#c50)">
<rect x="91.8" y="1323.4" width="248.0" height="224.7" fill="#EBEBEB"/>
<line x1="91.8" x2="339.8" y1="1507.2" y2="1507.2" stroke="#fff" stroke-width="2.2"/>
<line x1="91.8" x2="339.8" y1="1462.0" y2="1462.0" stroke="#fff" stroke-width="2.2"/>
<line x1="91.8" x2="339.8" y1="1416.7" y2="1416.7" stroke="#fff" stroke-width="2.2"/>
<line x1="91.8" x2="339.8" y1="1371.5" y2="1371.5" stroke="#fff" stroke-width="2.2"/>
<line x1="91.8" x2="339.8" y1="1326.2" y2="1326.2" stroke="#fff" stroke-width="2.2"/>
<line x1="119.8" x2="119.8" y1="1323.4" y2="1548.1" stroke="#fff" stroke-width="2.2"/>
<line x1="174.6" x2="174.6" y1="1323.4" y2="1548.1" stroke="#fff" stroke-width="2.2"/>
<line x1="229.5" x2="229.5" y1="1323.4" y2="1548.1" stroke="#fff" stroke-width="2.2"/>
<line x1="284.3" x2="284.3" y1="1323.4" y2="1548.1" stroke="#fff" stroke-width="2.2"/>
<line x1="339.1" x2="339.1" y1="1323.4" y2="1548.1" stroke="#fff" stroke-width="2.2"/>
<line x1="91.8" x2="339.8" y1="1529.8" y2="1529.8" stroke="#fff" stroke-width="4.4"/>
<line x1="91.8" x2="339.8" y1="1484.6" y2="1484.6" stroke="#fff" stroke-width="4.4"/>
<line x1="91.8" x2="339.8" y1="1439.3" y2="1439.3" stroke="#fff" stroke-width="4.4"/>
<line x1="91.8" x2="339.8" y1="1394.1" y2="1394.1" stroke="#fff" stroke-width="4.4"/>
<line x1="91.8" x2="339.8" y1="1348.9" y2="1348.9" stroke="#fff" stroke-width="4.4"/>
<line x1="92.4" x2="92.4" y1="1323.4" y2="1548.1" stroke="#fff" stroke-width="4.4"/>
<line x1="147.2" x2="147.2" y1="1323.4" y2="1548.1" stroke="#fff" stroke-width="4.4"/>
<line x1="202.0" x2="202.0" y1="1323.4" y2="1548.1" stroke="#fff" stroke-width="4.4"/>
<line x1="256.9" x2="256.9" y1="1323.4" y2="1548.1" stroke="#fff" stroke-width="4.4"/>
<line x1="311.7" x2="311.7" y1="1323.4" y2="1548.1" stroke="#fff" stroke-width="4.4"/>
<circle cx="197.3" cy="1444.5" r="9.8" fill="#00BFC4" fill-opacity="0.5"/>
<circle cx="162.3" cy="1462.6" r="9.8" fill="#00BFC4" fill-opacity="0.5"/>
<circle cx="145.4" cy="1393.9" r="9.8" fill="#00BFC4" fill-opacity="0.5"/>
<circle cx="133.8" cy="1469.1" r="9.8" fill="#F8766D" fill-opacity="0.5"/>
<circle cx="135.1" cy="1489.9" r="9.8" fill="#00BFC4" fill-opacity="0.5"/>
<circle cx="144.2" cy="1479.1" r="9.8" fill="#00BFC4" fill-opacity="0.5"/>
<circle cx="143.2" cy="1435.2" r="9.8" fill="#F8766D" fill-opacity="0.5"/>
<circle cx="155.8" cy="1489.8" r="9.8" fill="#00BFC4" fill-opacity="0.5"/>
<circle cx="141.2" cy="1454.2" r="9.8" fill="#F8766D" fill-opacity="0.5"/>
<circle cx="143.9" cy="1504.4" r="9.8" fill="#00BFC4" fill-opacity="0.5"/>
<circle cx="137.9" cy="1487.1" r="9.8" fill="#00BFC4" fill-opacity="0.5"/>
<circle cx="181.7" cy="1430.2" r="9.8" fill="#00BFC4" fill-opacity="0.5"/>
<circle cx="145.4" cy="1449.7" r="9.8" fill="#F8766D" fill-opacity="0.5"/>
<circle cx="153.8" cy="1505.3" r="9.8" fill="#00BFC4" fill-opacity="0.5"/>
<circle cx="162.3" cy="1440.6" r="9.8" fill="#F8766D" fill-opacity="0.5"/>
<circle cx="233.6" cy="1454.9" r="9.8" fill="#00BFC4" fill-opacity="0.5"/>
<circle cx="143.7" cy="1483.1" r="9.8" fill="#00BFC4" fill-opacity="0.5"/>
<circle cx="129.9" cy="1479.5" r="9.8" fill="#00BFC4" fill-opacity="0.5"/>
<circle cx="229.7" cy="1484.7" r="9.8" fill="#00BFC4" fill-opacity="0.5"/>
<circle cx="126.0" cy="1486.0" r="9.8" fill="#F8766D" fill-opacity="0.5"/>
<circle cx="140.2" cy="1506.7" r="9.8" fill="#00BFC4" fill-opacity="0.5"/>
<circle cx="129.9" cy="1425.0" r="9.8" fill="#00BFC4" fill-opacity="0.5"/>
<circle cx="153.2" cy="1508.0" r="9.8" fill="#00BFC4" fill-opacity="0.5"/>
<circle cx="189.5" cy="1451.0" r="9.8" fill="#00BFC4" fill-opacity="0.5"/>
<circle cx="162.3" cy="1478.2" r="9.8" fill="#F8766D" fill-opacity="0.5"/>
<circle cx="157.1" cy="1517.1" r="9.8" fill="#00BFC4" fill-opacity="0.5"/>
<circle cx="138.6" cy="1482.3" r="9.8" fill="#00BFC4" fill-opacity="0.5"/>
<circle cx="119.5" cy="1413.4" r="9.8" fill="#F8766D" fill-opacity="0.5"/>
<circle cx="142.8" cy="1439.3" r="9.8" fill="#00BFC4" fill-opacity="0.5"/>
<circle cx="146.7" cy="1511.9" r="9.8" fill="#00BFC4" fill-opacity="0.5"/>
<circle cx="192.1" cy="1478.2" r="9.8" fill="#00BFC4" fill-opacity="0.5"/>
<circle cx="140.2" cy="1386.2" r="9.8" fill="#00BFC4" fill-opacity="0.5"/>
<circle cx="170.1" cy="1423.8" r="9.8" fill="#00BFC4" fill-opacity="0.5"/>
<circle cx="202.5" cy="1526.1" r="9.8" fill="#F8766D" fill-opacity="0.5"/>
<circle cx="176.5" cy="1453.6" r="9.8" fill="#00BFC4" fill-opacity="0.5"/>
<circle cx="159.7" cy="1405.6" r="9.8" fill="#00BFC4" fill-opacity="0.5"/>
<circle cx="102.7" cy="1333.7" r="9.8" fill="#00BFC4" fill-opacity="0.5"/>
<circle cx="146.1" cy="1525.5" r="9.8" fill="#F8766D" fill-opacity="0.5"/>
<circle cx="129.9" cy="1405.6" r="9.8" fill="#00BFC4" fill-opacity="0.5"/>
<circle cx="168.8" cy="1482.1" r="9.8" fill="#00BFC4" fill-opacity="0.5"/>
<circle cx="150.6" cy="1440.6" r="9.8" fill="#00BFC4" fill-opacity="0.5"/>
<circle cx="142.8" cy="1487.3" r="9.8" fill="#00BFC4" fill-opacity="0.5"/>
<circle cx="140.9" cy="1353.8" r="9.8" fill="#00BFC4" fill-opacity="0.5"/>
<circle cx="228.4" cy="1476.9" r="9.8" fill="#00BFC4" fill-opacity="0.5"/>
<circle cx="116.9" cy="1432.2" r="9.8" fill="#00BFC4" fill-opacity="0.5"/>
<circle cx="135.4" cy="1490.5" r="9.8" fill="#00BFC4" fill-opacity="0.5"/>
<circle cx="136.4" cy="1404.3" r="9.8" fill="#00BFC4" fill-opacity="0.5"/>
<circle cx="139.0" cy="1517.1" r="9.8" fill="#00BFC4" fill-opacity="0.5"/>
<circle cx="128.6" cy="1461.3" r="9.8" fill="#00BFC4" fill-opacity="0.5"/>
<circle cx="150.4" cy="1462.9" r="9.8" fill="#F8766D" fill-opacity="0.5"/>
<circle cx="247.2" cy="1458.7" r="9.8" fill="#00BFC4" fill-opacity="0.5"/>
<circle cx="149.3" cy="1537.8" r="9.8" fill="#00BFC4" fill-opacity="0.5"/>
<circle cx="136.4" cy="1456.2" r="9.8" fill="#F8766D" fill-opacity="0.5"/>
<circle cx="157.7" cy="1393.3" r="9.8" fill="#F8766D" fill-opacity="0.5"/>
<circle cx="129.9" cy="1453.6" r="9.8" fill="#00BFC4" fill-opacity="0.5"/>
<circle cx="131.2" cy="1440.6" r="9.8" fill="#00BFC4" fill-opacity="0.5"/>
<circle cx="186.9" cy="1435.4" r="9.8" fill="#00BFC4" fill-opacity="0.5"/>
<circle cx="131.2" cy="1498.9" r="9.8" fill="#00BFC4" fill-opacity="0.5"/>
<circle cx="192.1" cy="1458.7" r="9.8" fill="#00BFC4" fill-opacity="0.5"/>
<circle cx="196.6" cy="1406.9" r="9.8" fill="#00BFC4" fill-opacity="0.5"/>
<circle cx="225.8" cy="1459.4" r="9.8" fill="#00BFC4" fill-opacity="0.5"/>
<circle cx="171.4" cy="1466.5" r="9.8" fill="#F8766D" fill-opacity="0.5"/>
<circle cx="135.1" cy="1489.8" r="9.8" fill="#00BFC4" fill-opacity="0.5"/>
<circle cx="241.3" cy="1469.1" r="9.8" fill="#00BFC4" fill-opacity="0.5"/>
<circle cx="143.7" cy="1511.2" r="9.8" fill="#00BFC4" fill-opacity="0.5"/>
<circle cx="148.0" cy="1378.4" r="9.8" fill="#00BFC4" fill-opacity="0.5"/>
<circle cx="153.2" cy="1460.0" r="9.8" fill="#00BFC4" fill-opacity="0.5"/>
<circle cx="145.4" cy="1497.6" r="9.8" fill="#00BFC4" fill-opacity="0.5"/>
<circle cx="137.5" cy="1485.7" r="9.8" fill="#00BFC4" fill-opacity="0.5"/>
<circle cx="150.6" cy="1486.0" r="9.8" fill="#00BFC4" fill-opacity="0.5"/>
<circle cx="153.1" cy="1483.6" r="9.8" fill="#00BFC4" fill-opacity="0.5"/>
<circle cx="219.3" cy="1480.8" r="9.8" fill="#00BFC4" fill-opacity="0.5"/>
<circle cx="123.4" cy="1441.9" r="9.8" fill="#00BFC4" fill-opacity="0.5"/>
<circle cx="150.6" cy="1409.5" r="9.8" fill="#00BFC4" fill-opacity="0.5"/>
<circle cx="150.6" cy="1383.6" r="9.8" fill="#00BFC4" fill-opacity="0.5"/>
<circle cx="144.1" cy="1414.7" r="9.8" fill="#F8766D" fill-opacity="0.5"/>
<circle cx="154.1" cy="1501.6" r="9.8" fill="#00BFC4" fill-opacity="0.5"/>
<circle cx="189.5" cy="1495.0" r="9.8" fill="#00BFC4" fill-opacity="0.5"/>
<circle cx="132.5" cy="1504.2" r="9.8" fill="#00BFC4" fill-opacity="0.5"/>
<circle cx="145.4" cy="1401.7" r="9.8" fill="#00BFC4" fill-opacity="0.5"/>
<circle cx="328.2" cy="1486.0" r="9.8" fill="#00BFC4" fill-opacity="0.5"/>
<circle cx="183.0" cy="1476.9" r="9.8" fill="#00BFC4" fill-opacity="0.5"/>
<circle cx="140.9" cy="1348.6" r="9.8" fill="#00BFC4" fill-opacity="0.5"/>
<circle cx="161.0" cy="1452.3" r="9.8" fill="#00BFC4" fill-opacity="0.5"/>
<circle cx="142.8" cy="1460.0" r="9.8" fill="#F8766D" fill-opacity="0.5"/>
<circle cx="205.0" cy="1488.6" r="9.8" fill="#F8766D" fill-opacity="0.5"/>
<circle cx="141.8" cy="1494.5" r="9.8" fill="#00BFC4" fill-opacity="0.5"/>
<circle cx="166.2" cy="1448.4" r="9.8" fill="#00BFC4" fill-opacity="0.5"/>
<circle cx="148.0" cy="1427.6" r="9.8" fill="#00BFC4" fill-opacity="0.5"/>
<circle cx="120.2" cy="1384.2" r="9.8" fill="#00BFC4" fill-opacity="0.5"/>
<circle cx="137.7" cy="1427.6" r="9.8" fill="#00BFC4" fill-opacity="0.5"/>
<circle cx="155.8" cy="1422.5" r="9.8" fill="#F8766D" fill-opacity="0.5"/>
<circle cx="155.8" cy="1498.9" r="9.8" fill="#00BFC4" fill-opacity="0.5"/>
<circle cx="127.3" cy="1486.0" r="9.8" fill="#00BFC4" fill-opacity="0.5"/>
<circle cx="155.8" cy="1430.2" r="9.8" fill="#00BFC4" fill-opacity="0.5"/>
</g>
<g clip-path="url(#c51)">
<rect x="362.9" y="1323.4" width="248.0" height="224.7" fill="#EBEBEB"/>
<line x1="362.9" x2="610.9" y1="1507.2" y2="1507.2" stroke="#fff" stroke-width="2.2"/>
<line x1="362.9" x2="610.9" y1="1462.0" y2="1462.0" stroke="#fff" stroke-width="2.2"/>
<line x1="362.9" x2="610.9" y1="1416.7" y2="1416.7" stroke="#fff" stroke-width="2.2"/>
<line x1="362.9" x2="610.9" y1="1371.5" y2="1371.5" stroke="#fff" stroke-width="2.2"/>
<line x1="362.9" x2="610.9" y1="1326.2" y2="1326.2" stroke="#fff" stroke-width="2.2"/>
<line x1="413.0" x2="413.0" y1="1323.4" y2="1548.1" stroke="#fff" stroke-width="2.2"/>
<line x1="489.2" x2="489.2" y1="1323.4" y2="1548.1" stroke="#fff" stroke-width="2.2"/>
<line x1="565.4" x2="565.4" y1="1323.4" y2="1548.1" stroke="#fff" stroke-width="2.2"/>
<line x1="362.9" x2="610.9" y1="1529.8" y2="1529.8" stroke="#fff" stroke-width="4.4"/>
<line x1="362.9" x2="610.9" y1="1484.6" y2="1484.6" stroke="#fff" stroke-width="4.4"/>
<line x1="362.9" x2="610.9" y1="1439.3" y2="1439.3" stroke="#fff" stroke-width="4.4"/>
<line x1="362.9" x2="610.9" y1="1394.1" y2="1394.1" stroke="#fff" stroke-width="4.4"/>
<line x1="362.9" x2="610.9" y1="1348.9" y2="1348.9" stroke="#fff" stroke-width="4.4"/>
<line x1="374.9" x2="374.9" y1="1323.4" y2="1548.1" stroke="#fff" stroke-width="4.4"/>
<line x1="451.1" x2="451.1" y1="1323.4" y2="1548.1" stroke="#fff" stroke-width="4.4"/>
<line x1="527.3" x2="527.3" y1="1323.4" y2="1548.1" stroke="#fff" stroke-width="4.4"/>
<line x1="603.5" x2="603.5" y1="1323.4" y2="1548.1" stroke="#fff" stroke-width="4.4"/>
<circle cx="451.4" cy="1475.6" r="9.8" fill="#00BFC4" fill-opacity="0.5"/>
<circle cx="560.3" cy="1492.4" r="9.8" fill="#00BFC4" fill-opacity="0.5"/>
<circle cx="546.0" cy="1493.7" r="9.8" fill="#00BFC4" fill-opacity="0.5"/>
<circle cx="500.7" cy="1466.5" r="9.8" fill="#F8766D" fill-opacity="0.5"/>
<circle cx="442.4" cy="1466.5" r="9.8" fill="#F8766D" fill-opacity="0.5"/>
<circle cx="517.5" cy="1517.1" r="9.8" fill="#00BFC4" fill-opacity="0.5"/>
<circle cx="457.3" cy="1416.0" r="9.8" fill="#F8766D" fill-opacity="0.5"/>
<circle cx="559.0" cy="1473.0" r="9.8" fill="#F8766D" fill-opacity="0.5"/>
<circle cx="584.9" cy="1492.4" r="9.8" fill="#00BFC4" fill-opacity="0.5"/>
<circle cx="588.8" cy="1491.1" r="9.8" fill="#00BFC4" fill-opacity="0.5"/>
<circle cx="502.0" cy="1393.3" r="9.8" fill="#F8766D" fill-opacity="0.5"/>
<circle cx="537.0" cy="1489.8" r="9.8" fill="#F8766D" fill-opacity="0.5"/>
<circle cx="509.7" cy="1393.9" r="9.8" fill="#00BFC4" fill-opacity="0.5"/>
<circle cx="522.7" cy="1431.5" r="9.8" fill="#00BFC4" fill-opacity="0.5"/>
<circle cx="553.8" cy="1466.5" r="9.8" fill="#F8766D" fill-opacity="0.5"/>
<circle cx="529.2" cy="1537.8" r="9.8" fill="#00BFC4" fill-opacity="0.5"/>
<circle cx="522.7" cy="1409.5" r="9.8" fill="#00BFC4" fill-opacity="0.5"/>
<circle cx="520.1" cy="1400.4" r="9.8" fill="#00BFC4" fill-opacity="0.5"/>
<circle cx="587.5" cy="1405.6" r="9.8" fill="#00BFC4" fill-opacity="0.5"/>
<circle cx="504.4" cy="1462.4" r="9.8" fill="#00BFC4" fill-opacity="0.5"/>
<circle cx="527.9" cy="1447.1" r="9.8" fill="#00BFC4" fill-opacity="0.5"/>
<circle cx="426.8" cy="1447.1" r="9.8" fill="#00BFC4" fill-opacity="0.5"/>
<circle cx="511.0" cy="1530.0" r="9.8" fill="#F8766D" fill-opacity="0.5"/>
<circle cx="582.3" cy="1445.8" r="9.8" fill="#00BFC4" fill-opacity="0.5"/>
<circle cx="511.0" cy="1483.4" r="9.8" fill="#00BFC4" fill-opacity="0.5"/>
<circle cx="434.6" cy="1434.1" r="9.8" fill="#F8766D" fill-opacity="0.5"/>
<circle cx="447.5" cy="1423.8" r="9.8" fill="#F8766D" fill-opacity="0.5"/>
<circle cx="533.1" cy="1504.1" r="9.8" fill="#F8766D" fill-opacity="0.5"/>
<circle cx="599.2" cy="1479.5" r="9.8" fill="#00BFC4" fill-opacity="0.5"/>
<circle cx="482.5" cy="1452.3" r="9.8" fill="#00BFC4" fill-opacity="0.5"/>
<circle cx="475.4" cy="1412.1" r="9.8" fill="#00BFC4" fill-opacity="0.5"/>
<circle cx="514.9" cy="1502.8" r="9.8" fill="#00BFC4" fill-opacity="0.5"/>
<circle cx="569.4" cy="1475.6" r="9.8" fill="#F8766D" fill-opacity="0.5"/>
<circle cx="540.8" cy="1416.6" r="9.8" fill="#00BFC4" fill-opacity="0.5"/>
<circle cx="496.8" cy="1441.9" r="9.8" fill="#F8766D" fill-opacity="0.5"/>
<circle cx="503.3" cy="1498.9" r="9.8" fill="#00BFC4" fill-opacity="0.5"/>
<circle cx="533.1" cy="1474.8" r="9.8" fill="#00BFC4" fill-opacity="0.5"/>
<circle cx="501.5" cy="1479.7" r="9.8" fill="#00BFC4" fill-opacity="0.5"/>
<circle cx="477.3" cy="1353.1" r="9.8" fill="#00BFC4" fill-opacity="0.5"/>
<circle cx="526.6" cy="1474.3" r="9.8" fill="#F8766D" fill-opacity="0.5"/>
<circle cx="551.2" cy="1445.8" r="9.8" fill="#F8766D" fill-opacity="0.5"/>
<circle cx="374.3" cy="1458.7" r="9.8" fill="#00BFC4" fill-opacity="0.5"/>
<circle cx="576.1" cy="1432.6" r="9.8" fill="#00BFC4" fill-opacity="0.5"/>
<circle cx="501.3" cy="1414.0" r="9.8" fill="#F8766D" fill-opacity="0.5"/>
<circle cx="455.3" cy="1456.2" r="9.8" fill="#F8766D" fill-opacity="0.5"/>
<circle cx="529.2" cy="1386.8" r="9.8" fill="#00BFC4" fill-opacity="0.5"/>
<circle cx="574.5" cy="1405.6" r="9.8" fill="#00BFC4" fill-opacity="0.5"/>
<circle cx="551.2" cy="1458.7" r="9.8" fill="#F8766D" fill-opacity="0.5"/>
<circle cx="503.8" cy="1463.7" r="9.8" fill="#00BFC4" fill-opacity="0.5"/>
<circle cx="599.2" cy="1458.7" r="9.8" fill="#00BFC4" fill-opacity="0.5"/>
<circle cx="503.3" cy="1489.8" r="9.8" fill="#00BFC4" fill-opacity="0.5"/>
<circle cx="568.1" cy="1422.5" r="9.8" fill="#00BFC4" fill-opacity="0.5"/>
<circle cx="574.5" cy="1431.5" r="9.8" fill="#00BFC4" fill-opacity="0.5"/>
<circle cx="441.1" cy="1451.0" r="9.8" fill="#F8766D" fill-opacity="0.5"/>
<circle cx="478.6" cy="1449.7" r="9.8" fill="#F8766D" fill-opacity="0.5"/>
<circle cx="432.0" cy="1423.1" r="9.8" fill="#F8766D" fill-opacity="0.5"/>
<circle cx="529.2" cy="1489.8" r="9.8" fill="#00BFC4" fill-opacity="0.5"/>
<circle cx="530.5" cy="1432.8" r="9.8" fill="#00BFC4" fill-opacity="0.5"/>
<circle cx="557.7" cy="1489.8" r="9.8" fill="#00BFC4" fill-opacity="0.5"/>
<circle cx="465.7" cy="1480.8" r="9.8" fill="#F8766D" fill-opacity="0.5"/>
<circle cx="509.7" cy="1432.8" r="9.8" fill="#00BFC4" fill-opacity="0.5"/>
<circle cx="540.8" cy="1453.6" r="9.8" fill="#F8766D" fill-opacity="0.5"/>
<circle cx="566.8" cy="1448.4" r="9.8" fill="#00BFC4" fill-opacity="0.5"/>
<circle cx="562.9" cy="1497.6" r="9.8" fill="#00BFC4" fill-opacity="0.5"/>
<circle cx="582.3" cy="1419.9" r="9.8" fill="#00BFC4" fill-opacity="0.5"/>
<circle cx="579.7" cy="1460.0" r="9.8" fill="#00BFC4" fill-opacity="0.5"/>
<circle cx="588.2" cy="1333.7" r="9.8" fill="#00BFC4" fill-opacity="0.5"/>
<circle cx="499.4" cy="1453.6" r="9.8" fill="#00BFC4" fill-opacity="0.5"/>
<circle cx="506.5" cy="1348.6" r="9.8" fill="#00BFC4" fill-opacity="0.5"/>
<circle cx="594.0" cy="1426.3" r="9.8" fill="#00BFC4" fill-opacity="0.5"/>
<circle cx="503.3" cy="1430.2" r="9.8" fill="#00BFC4" fill-opacity="0.5"/>
<circle cx="540.8" cy="1473.0" r="9.8" fill="#00BFC4" fill-opacity="0.5"/>
<circle cx="472.2" cy="1382.9" r="9.8" fill="#00BFC4" fill-opacity="0.5"/>
<circle cx="572.0" cy="1511.9" r="9.8" fill="#00BFC4" fill-opacity="0.5"/>
<circle cx="499.9" cy="1483.5" r="9.8" fill="#00BFC4" fill-opacity="0.5"/>
<circle cx="482.5" cy="1384.9" r="9.8" fill="#00BFC4" fill-opacity="0.5"/>
<circle cx="508.4" cy="1454.9" r="9.8" fill="#00BFC4" fill-opacity="0.5"/>
<circle cx="575.8" cy="1438.0" r="9.8" fill="#00BFC4" fill-opacity="0.5"/>
<circle cx="514.9" cy="1460.0" r="9.8" fill="#F8766D" fill-opacity="0.5"/>
<circle cx="522.7" cy="1466.5" r="9.8" fill="#F8766D" fill-opacity="0.5"/>
<circle cx="570.6" cy="1434.5" r="9.8" fill="#00BFC4" fill-opacity="0.5"/>
<circle cx="498.1" cy="1405.6" r="9.8" fill="#00BFC4" fill-opacity="0.5"/>
<circle cx="437.2" cy="1460.0" r="9.8" fill="#F8766D" fill-opacity="0.5"/>
<circle cx="490.3" cy="1480.8" r="9.8" fill="#00BFC4" fill-opacity="0.5"/>
<circle cx="482.5" cy="1475.6" r="9.8" fill="#00BFC4" fill-opacity="0.5"/>
<circle cx="573.2" cy="1452.4" r="9.8" fill="#00BFC4" fill-opacity="0.5"/>
<circle cx="477.3" cy="1492.4" r="9.8" fill="#00BFC4" fill-opacity="0.5"/>
<circle cx="492.9" cy="1465.2" r="9.8" fill="#F8766D" fill-opacity="0.5"/>
<circle cx="470.9" cy="1460.0" r="9.8" fill="#00BFC4" fill-opacity="0.5"/>
<circle cx="572.0" cy="1447.1" r="9.8" fill="#00BFC4" fill-opacity="0.5"/>
<circle cx="531.9" cy="1458.3" r="9.8" fill="#00BFC4" fill-opacity="0.5"/>
<circle cx="512.3" cy="1445.8" r="9.8" fill="#00BFC4" fill-opacity="0.5"/>
<circle cx="535.7" cy="1524.8" r="9.8" fill="#F8766D" fill-opacity="0.5"/>
<circle cx="479.3" cy="1509.3" r="9.8" fill="#00BFC4" fill-opacity="0.5"/>
<circle cx="478.6" cy="1378.4" r="9.8" fill="#00BFC4" fill-opacity="0.5"/>
<circle cx="500.7" cy="1517.1" r="9.8" fill="#00BFC4" fill-opacity="0.5"/>
<circle cx="499.4" cy="1505.4" r="9.8" fill="#00BFC4" fill-opacity="0.5"/>
<circle cx="572.0" cy="1498.9" r="9.8" fill="#00BFC4" fill-opacity="0.5"/>
<circle cx="460.5" cy="1493.7" r="9.8" fill="#00BFC4" fill-opacity="0.5"/>
<circle cx="517.5" cy="1473.0" r="9.8" fill="#00BFC4" fill-opacity="0.5"/>
</g>
<g clip-path="url(#c52)">
<rect x="633.9" y="1323.4" width="248.0" height="224.7" fill="#EBEBEB"/>
<line x1="633.9" x2="881.9" y1="1507.2" y2="1507.2" stroke="#fff" stroke-width="2.2"/>
<line x1="633.9" x2="881.9" y1="1462.0" y2="1462.0" stroke="#fff" stroke-width="2.2"/>
<line x1="633.9" x2="881.9" y1="1416.7" y2="1416.7" stroke="#fff" stroke-width="2.2"/>
<line x1="633.9" x2="881.9" y1="1371.5" y2="1371.5" stroke="#fff" stroke-width="2.2"/>
<line x1="633.9" x2="881.9" y1="1326.2" y2="1326.2" stroke="#fff" stroke-width="2.2"/>
<line x1="649.9" x2="649.9" y1="1323.4" y2="1548.1" stroke="#fff" stroke-width="2.2"/>
<line x1="698.9" x2="698.9" y1="1323.4" y2="1548.1" stroke="#fff" stroke-width="2.2"/>
<line x1="748.0" x2="748.0" y1="1323.4" y2="1548.1" stroke="#fff" stroke-width="2.2"/>
<line x1="797.1" x2="797.1" y1="1323.4" y2="1548.1" stroke="#fff" stroke-width="2.2"/>
<line x1="846.2" x2="846.2" y1="1323.4" y2="1548.1" stroke="#fff" stroke-width="2.2"/>
<line x1="633.9" x2="881.9" y1="1529.8" y2="1529.8" stroke="#fff" stroke-width="4.4"/>
<line x1="633.9" x2="881.9" y1="1484.6" y2="1484.6" stroke="#fff" stroke-width="4.4"/>
<line x1="633.9" x2="881.9" y1="1439.3" y2="1439.3" stroke="#fff" stroke-width="4.4"/>
<line x1="633.9" x2="881.9" y1="1394.1" y2="1394.1" stroke="#fff" stroke-width="4.4"/>
<line x1="633.9" x2="881.9" y1="1348.9" y2="1348.9" stroke="#fff" stroke-width="4.4"/>
<line x1="674.4" x2="674.4" y1="1323.4" y2="1548.1" stroke="#fff" stroke-width="4.4"/>
<line x1="723.5" x2="723.5" y1="1323.4" y2="1548.1" stroke="#fff" stroke-width="4.4"/>
<line x1="772.5" x2="772.5" y1="1323.4" y2="1548.1" stroke="#fff" stroke-width="4.4"/>
<line x1="821.6" x2="821.6" y1="1323.4" y2="1548.1" stroke="#fff" stroke-width="4.4"/>
<line x1="870.7" x2="870.7" y1="1323.4" y2="1548.1" stroke="#fff" stroke-width="4.4"/>
<circle cx="793.7" cy="1502.8" r="9.8" fill="#F8766D" fill-opacity="0.5"/>
<circle cx="795.0" cy="1486.0" r="9.8" fill="#F8766D" fill-opacity="0.5"/>
<circle cx="669.3" cy="1405.6" r="9.8" fill="#00BFC4" fill-opacity="0.5"/>
<circle cx="658.9" cy="1460.0" r="9.8" fill="#00BFC4" fill-opacity="0.5"/>
<circle cx="725.0" cy="1397.8" r="9.8" fill="#00BFC4" fill-opacity="0.5"/>
<circle cx="743.2" cy="1475.6" r="9.8" fill="#00BFC4" fill-opacity="0.5"/>
<circle cx="726.8" cy="1494.3" r="9.8" fill="#00BFC4" fill-opacity="0.5"/>
<circle cx="753.5" cy="1495.0" r="9.8" fill="#00BFC4" fill-opacity="0.5"/>
<circle cx="715.9" cy="1480.8" r="9.8" fill="#00BFC4" fill-opacity="0.5"/>
<circle cx="715.9" cy="1508.0" r="9.8" fill="#00BFC4" fill-opacity="0.5"/>
<circle cx="721.1" cy="1479.5" r="9.8" fill="#00BFC4" fill-opacity="0.5"/>
<circle cx="809.3" cy="1453.6" r="9.8" fill="#F8766D" fill-opacity="0.5"/>
<circle cx="801.5" cy="1460.0" r="9.8" fill="#F8766D" fill-opacity="0.5"/>
<circle cx="784.6" cy="1466.5" r="9.8" fill="#F8766D" fill-opacity="0.5"/>
<circle cx="775.6" cy="1479.5" r="9.8" fill="#F8766D" fill-opacity="0.5"/>
<circle cx="734.1" cy="1476.9" r="9.8" fill="#00BFC4" fill-opacity="0.5"/>
<circle cx="775.6" cy="1486.0" r="9.8" fill="#00BFC4" fill-opacity="0.5"/>
<circle cx="778.2" cy="1449.7" r="9.8" fill="#F8766D" fill-opacity="0.5"/>
<circle cx="847.5" cy="1451.0" r="9.8" fill="#F8766D" fill-opacity="0.5"/>
<circle cx="684.8" cy="1432.8" r="9.8" fill="#00BFC4" fill-opacity="0.5"/>
<circle cx="715.9" cy="1444.5" r="9.8" fill="#00BFC4" fill-opacity="0.5"/>
<circle cx="731.5" cy="1513.2" r="9.8" fill="#00BFC4" fill-opacity="0.5"/>
<circle cx="725.7" cy="1384.2" r="9.8" fill="#00BFC4" fill-opacity="0.5"/>
<circle cx="674.5" cy="1463.9" r="9.8" fill="#00BFC4" fill-opacity="0.5"/>
<circle cx="763.2" cy="1517.1" r="9.8" fill="#00BFC4" fill-opacity="0.5"/>
<circle cx="701.7" cy="1430.2" r="9.8" fill="#00BFC4" fill-opacity="0.5"/>
<circle cx="751.6" cy="1352.5" r="9.8" fill="#00BFC4" fill-opacity="0.5"/>
<circle cx="674.5" cy="1480.8" r="9.8" fill="#00BFC4" fill-opacity="0.5"/>
<circle cx="795.6" cy="1393.3" r="9.8" fill="#F8766D" fill-opacity="0.5"/>
<circle cx="716.1" cy="1430.5" r="9.8" fill="#00BFC4" fill-opacity="0.5"/>
<circle cx="730.8" cy="1490.0" r="9.8" fill="#00BFC4" fill-opacity="0.5"/>
<circle cx="703.0" cy="1416.0" r="9.8" fill="#00BFC4" fill-opacity="0.5"/>
<circle cx="703.0" cy="1474.3" r="9.8" fill="#00BFC4" fill-opacity="0.5"/>
<circle cx="726.3" cy="1495.0" r="9.8" fill="#00BFC4" fill-opacity="0.5"/>
<circle cx="705.1" cy="1479.0" r="9.8" fill="#00BFC4" fill-opacity="0.5"/>
<circle cx="795.0" cy="1431.5" r="9.8" fill="#00BFC4" fill-opacity="0.5"/>
<circle cx="705.6" cy="1447.1" r="9.8" fill="#00BFC4" fill-opacity="0.5"/>
<circle cx="717.2" cy="1482.9" r="9.8" fill="#00BFC4" fill-opacity="0.5"/>
<circle cx="770.4" cy="1466.5" r="9.8" fill="#F8766D" fill-opacity="0.5"/>
<circle cx="870.8" cy="1416.0" r="9.8" fill="#F8766D" fill-opacity="0.5"/>
<circle cx="732.8" cy="1431.5" r="9.8" fill="#00BFC4" fill-opacity="0.5"/>
<circle cx="715.9" cy="1404.3" r="9.8" fill="#00BFC4" fill-opacity="0.5"/>
<circle cx="778.2" cy="1500.2" r="9.8" fill="#F8766D" fill-opacity="0.5"/>
<circle cx="751.6" cy="1348.6" r="9.8" fill="#00BFC4" fill-opacity="0.5"/>
<circle cx="645.3" cy="1490.5" r="9.8" fill="#00BFC4" fill-opacity="0.5"/>
<circle cx="707.5" cy="1400.4" r="9.8" fill="#00BFC4" fill-opacity="0.5"/>
<circle cx="741.9" cy="1497.6" r="9.8" fill="#00BFC4" fill-opacity="0.5"/>
<circle cx="784.6" cy="1444.5" r="9.8" fill="#00BFC4" fill-opacity="0.5"/>
<circle cx="705.6" cy="1505.4" r="9.8" fill="#00BFC4" fill-opacity="0.5"/>
<circle cx="760.0" cy="1443.2" r="9.8" fill="#00BFC4" fill-opacity="0.5"/>
<circle cx="682.2" cy="1453.6" r="9.8" fill="#00BFC4" fill-opacity="0.5"/>
<circle cx="701.5" cy="1491.5" r="9.8" fill="#00BFC4" fill-opacity="0.5"/>
<circle cx="830.0" cy="1414.0" r="9.8" fill="#F8766D" fill-opacity="0.5"/>
<circle cx="748.3" cy="1458.7" r="9.8" fill="#F8766D" fill-opacity="0.5"/>
<circle cx="753.5" cy="1384.2" r="9.8" fill="#00BFC4" fill-opacity="0.5"/>
<circle cx="734.1" cy="1439.3" r="9.8" fill="#00BFC4" fill-opacity="0.5"/>
<circle cx="754.8" cy="1444.5" r="9.8" fill="#00BFC4" fill-opacity="0.5"/>
<circle cx="726.3" cy="1417.3" r="9.8" fill="#00BFC4" fill-opacity="0.5"/>
<circle cx="765.2" cy="1484.7" r="9.8" fill="#00BFC4" fill-opacity="0.5"/>
<circle cx="731.5" cy="1457.4" r="9.8" fill="#00BFC4" fill-opacity="0.5"/>
<circle cx="784.6" cy="1453.6" r="9.8" fill="#00BFC4" fill-opacity="0.5"/>
<circle cx="728.1" cy="1484.8" r="9.8" fill="#00BFC4" fill-opacity="0.5"/>
<circle cx="696.5" cy="1502.8" r="9.8" fill="#00BFC4" fill-opacity="0.5"/>
<circle cx="778.2" cy="1473.0" r="9.8" fill="#F8766D" fill-opacity="0.5"/>
<circle cx="801.5" cy="1425.0" r="9.8" fill="#00BFC4" fill-opacity="0.5"/>
<circle cx="697.8" cy="1486.0" r="9.8" fill="#00BFC4" fill-opacity="0.5"/>
<circle cx="736.7" cy="1524.8" r="9.8" fill="#F8766D" fill-opacity="0.5"/>
<circle cx="669.3" cy="1445.8" r="9.8" fill="#00BFC4" fill-opacity="0.5"/>
<circle cx="814.4" cy="1489.8" r="9.8" fill="#F8766D" fill-opacity="0.5"/>
<circle cx="862.4" cy="1434.1" r="9.8" fill="#F8766D" fill-opacity="0.5"/>
<circle cx="713.4" cy="1423.8" r="9.8" fill="#00BFC4" fill-opacity="0.5"/>
<circle cx="715.9" cy="1488.6" r="9.8" fill="#00BFC4" fill-opacity="0.5"/>
<circle cx="736.7" cy="1537.8" r="9.8" fill="#00BFC4" fill-opacity="0.5"/>
<circle cx="771.7" cy="1445.8" r="9.8" fill="#F8766D" fill-opacity="0.5"/>
<circle cx="705.6" cy="1515.8" r="9.8" fill="#00BFC4" fill-opacity="0.5"/>
<circle cx="819.6" cy="1480.8" r="9.8" fill="#F8766D" fill-opacity="0.5"/>
<circle cx="664.8" cy="1495.0" r="9.8" fill="#00BFC4" fill-opacity="0.5"/>
<circle cx="706.7" cy="1434.5" r="9.8" fill="#00BFC4" fill-opacity="0.5"/>
<circle cx="808.0" cy="1469.1" r="9.8" fill="#F8766D" fill-opacity="0.5"/>
<circle cx="707.2" cy="1485.4" r="9.8" fill="#00BFC4" fill-opacity="0.5"/>
<circle cx="708.2" cy="1489.8" r="9.8" fill="#00BFC4" fill-opacity="0.5"/>
<circle cx="696.5" cy="1406.9" r="9.8" fill="#00BFC4" fill-opacity="0.5"/>
<circle cx="756.1" cy="1383.6" r="9.8" fill="#00BFC4" fill-opacity="0.5"/>
<circle cx="752.2" cy="1474.3" r="9.8" fill="#00BFC4" fill-opacity="0.5"/>
<circle cx="757.4" cy="1502.8" r="9.8" fill="#00BFC4" fill-opacity="0.5"/>
<circle cx="678.4" cy="1409.5" r="9.8" fill="#00BFC4" fill-opacity="0.5"/>
<circle cx="693.9" cy="1453.6" r="9.8" fill="#00BFC4" fill-opacity="0.5"/>
<circle cx="744.5" cy="1462.6" r="9.8" fill="#00BFC4" fill-opacity="0.5"/>
<circle cx="736.7" cy="1460.0" r="9.8" fill="#00BFC4" fill-opacity="0.5"/>
<circle cx="715.3" cy="1333.7" r="9.8" fill="#00BFC4" fill-opacity="0.5"/>
<circle cx="658.9" cy="1466.5" r="9.8" fill="#00BFC4" fill-opacity="0.5"/>
<circle cx="717.2" cy="1500.2" r="9.8" fill="#00BFC4" fill-opacity="0.5"/>
<circle cx="774.9" cy="1423.8" r="9.8" fill="#F8766D" fill-opacity="0.5"/>
<circle cx="762.6" cy="1466.5" r="9.8" fill="#F8766D" fill-opacity="0.5"/>
<circle cx="711.4" cy="1393.9" r="9.8" fill="#00BFC4" fill-opacity="0.5"/>
<circle cx="861.7" cy="1423.1" r="9.8" fill="#F8766D" fill-opacity="0.5"/>
<circle cx="712.1" cy="1526.1" r="9.8" fill="#F8766D" fill-opacity="0.5"/>
<circle cx="674.5" cy="1405.6" r="9.8" fill="#00BFC4" fill-opacity="0.5"/>
<circle cx="669.9" cy="1421.2" r="9.8" fill="#00BFC4" fill-opacity="0.5"/>
<circle cx="804.1" cy="1448.4" r="9.8" fill="#F8766D" fill-opacity="0.5"/>
<circle cx="723.7" cy="1474.3" r="9.8" fill="#F8766D" fill-opacity="0.5"/>
<circle cx="767.8" cy="1378.4" r="9.8" fill="#00BFC4" fill-opacity="0.5"/>
<circle cx="787.9" cy="1412.1" r="9.8" fill="#00BFC4" fill-opacity="0.5"/>
<circle cx="708.0" cy="1427.8" r="9.8" fill="#00BFC4" fill-opacity="0.5"/>
<circle cx="697.8" cy="1440.6" r="9.8" fill="#00BFC4" fill-opacity="0.5"/>
<circle cx="718.5" cy="1453.6" r="9.8" fill="#00BFC4" fill-opacity="0.5"/>
<circle cx="645.3" cy="1386.8" r="9.8" fill="#00BFC4" fill-opacity="0.5"/>
<circle cx="798.9" cy="1469.1" r="9.8" fill="#F8766D" fill-opacity="0.5"/>
<circle cx="744.5" cy="1444.5" r="9.8" fill="#00BFC4" fill-opacity="0.5"/>
<circle cx="710.8" cy="1476.9" r="9.8" fill="#00BFC4" fill-opacity="0.5"/>
<circle cx="710.8" cy="1430.2" r="9.8" fill="#00BFC4" fill-opacity="0.5"/>
<circle cx="691.3" cy="1478.2" r="9.8" fill="#00BFC4" fill-opacity="0.5"/>
<circle cx="710.6" cy="1434.6" r="9.8" fill="#00BFC4" fill-opacity="0.5"/>
</g>
<g clip-path="url(#c53)">
<rect x="905.0" y="1323.4" width="248.0" height="224.7" fill="#EBEBEB"/>
<line x1="905.0" x2="1153.0" y1="1507.2" y2="1507.2" stroke="#fff" stroke-width="2.2"/>
<line x1="905.0" x2="1153.0" y1="1462.0" y2="1462.0" stroke="#fff" stroke-width="2.2"/>
<line x1="905.0" x2="1153.0" y1="1416.7" y2="1416.7" stroke="#fff" stroke-width="2.2"/>
<line x1="905.0" x2="1153.0" y1="1371.5" y2="1371.5" stroke="#fff" stroke-width="2.2"/>
<line x1="905.0" x2="1153.0" y1="1326.2" y2="1326.2" stroke="#fff" stroke-width="2.2"/>
<line x1="910.4" x2="910.4" y1="1323.4" y2="1548.1" stroke="#fff" stroke-width="2.2"/>
<line x1="961.0" x2="961.0" y1="1323.4" y2="1548.1" stroke="#fff" stroke-width="2.2"/>
<line x1="1011.6" x2="1011.6" y1="1323.4" y2="1548.1" stroke="#fff" stroke-width="2.2"/>
<line x1="1062.3" x2="1062.3" y1="1323.4" y2="1548.1" stroke="#fff" stroke-width="2.2"/>
<line x1="1112.9" x2="1112.9" y1="1323.4" y2="1548.1" stroke="#fff" stroke-width="2.2"/>
<line x1="905.0" x2="1153.0" y1="1529.8" y2="1529.8" stroke="#fff" stroke-width="4.4"/>
<line x1="905.0" x2="1153.0" y1="1484.6" y2="1484.6" stroke="#fff" stroke-width="4.4"/>
<line x1="905.0" x2="1153.0" y1="1439.3" y2="1439.3" stroke="#fff" stroke-width="4.4"/>
<line x1="905.0" x2="1153.0" y1="1394.1" y2="1394.1" stroke="#fff" stroke-width="4.4"/>
<line x1="905.0" x2="1153.0" y1="1348.9" y2="1348.9" stroke="#fff" stroke-width="4.4"/>
<line x1="935.7" x2="935.7" y1="1323.4" y2="1548.1" stroke="#fff" stroke-width="4.4"/>
<line x1="986.3" x2="986.3" y1="1323.4" y2="1548.1" stroke="#fff" stroke-width="4.4"/>
<line x1="1036.9" x2="1036.9" y1="1323.4" y2="1548.1" stroke="#fff" stroke-width="4.4"/>
<line x1="1087.6" x2="1087.6" y1="1323.4" y2="1548.1" stroke="#fff" stroke-width="4.4"/>
<line x1="1138.2" x2="1138.2" y1="1323.4" y2="1548.1" stroke="#fff" stroke-width="4.4"/>
<circle cx="1095.8" cy="1489.0" r="9.8" fill="#00BFC4" fill-opacity="0.5"/>
<circle cx="1071.2" cy="1430.2" r="9.8" fill="#00BFC4" fill-opacity="0.5"/>
<circle cx="1104.2" cy="1423.8" r="9.8" fill="#00BFC4" fill-opacity="0.5"/>
<circle cx="1119.1" cy="1509.3" r="9.8" fill="#00BFC4" fill-opacity="0.5"/>
<circle cx="1046.6" cy="1453.6" r="9.8" fill="#00BFC4" fill-opacity="0.5"/>
<circle cx="992.1" cy="1492.4" r="9.8" fill="#00BFC4" fill-opacity="0.5"/>
<circle cx="1047.9" cy="1510.6" r="9.8" fill="#00BFC4" fill-opacity="0.5"/>
<circle cx="1075.1" cy="1479.5" r="9.8" fill="#00BFC4" fill-opacity="0.5"/>
<circle cx="1089.3" cy="1382.3" r="9.8" fill="#00BFC4" fill-opacity="0.5"/>
<circle cx="1020.6" cy="1475.6" r="9.8" fill="#00BFC4" fill-opacity="0.5"/>
<circle cx="954.5" cy="1486.0" r="9.8" fill="#00BFC4" fill-opacity="0.5"/>
<circle cx="1097.1" cy="1382.3" r="9.8" fill="#00BFC4" fill-opacity="0.5"/>
<circle cx="1095.2" cy="1400.4" r="9.8" fill="#00BFC4" fill-opacity="0.5"/>
<circle cx="1025.8" cy="1432.8" r="9.8" fill="#00BFC4" fill-opacity="0.5"/>
<circle cx="1121.7" cy="1463.9" r="9.8" fill="#00BFC4" fill-opacity="0.5"/>
<circle cx="1091.0" cy="1475.0" r="9.8" fill="#00BFC4" fill-opacity="0.5"/>
<circle cx="1124.3" cy="1467.8" r="9.8" fill="#F8766D" fill-opacity="0.5"/>
<circle cx="1132.1" cy="1447.1" r="9.8" fill="#00BFC4" fill-opacity="0.5"/>
<circle cx="1084.6" cy="1490.7" r="9.8" fill="#00BFC4" fill-opacity="0.5"/>
<circle cx="1040.1" cy="1452.3" r="9.8" fill="#00BFC4" fill-opacity="0.5"/>
<circle cx="957.8" cy="1333.7" r="9.8" fill="#00BFC4" fill-opacity="0.5"/>
<circle cx="952.6" cy="1405.6" r="9.8" fill="#00BFC4" fill-opacity="0.5"/>
<circle cx="1098.4" cy="1462.6" r="9.8" fill="#00BFC4" fill-opacity="0.5"/>
<circle cx="1082.8" cy="1461.3" r="9.8" fill="#F8766D" fill-opacity="0.5"/>
<circle cx="916.3" cy="1432.2" r="9.8" fill="#00BFC4" fill-opacity="0.5"/>
<circle cx="1046.6" cy="1353.1" r="9.8" fill="#00BFC4" fill-opacity="0.5"/>
<circle cx="1076.4" cy="1456.2" r="9.8" fill="#F8766D" fill-opacity="0.5"/>
<circle cx="932.5" cy="1486.0" r="9.8" fill="#F8766D" fill-opacity="0.5"/>
<circle cx="1034.9" cy="1445.8" r="9.8" fill="#00BFC4" fill-opacity="0.5"/>
<circle cx="1033.6" cy="1348.6" r="9.8" fill="#00BFC4" fill-opacity="0.5"/>
<circle cx="1088.0" cy="1466.5" r="9.8" fill="#F8766D" fill-opacity="0.5"/>
<circle cx="1072.5" cy="1465.2" r="9.8" fill="#F8766D" fill-opacity="0.5"/>
<circle cx="1081.4" cy="1456.0" r="9.8" fill="#F8766D" fill-opacity="0.5"/>
<circle cx="964.9" cy="1497.6" r="9.8" fill="#00BFC4" fill-opacity="0.5"/>
<circle cx="1079.0" cy="1492.4" r="9.8" fill="#00BFC4" fill-opacity="0.5"/>
<circle cx="953.9" cy="1425.0" r="9.8" fill="#00BFC4" fill-opacity="0.5"/>
<circle cx="1059.5" cy="1463.9" r="9.8" fill="#F8766D" fill-opacity="0.5"/>
<circle cx="1031.0" cy="1386.8" r="9.8" fill="#00BFC4" fill-opacity="0.5"/>
<circle cx="1106.2" cy="1432.8" r="9.8" fill="#00BFC4" fill-opacity="0.5"/>
<circle cx="1141.2" cy="1434.1" r="9.8" fill="#F8766D" fill-opacity="0.5"/>
<circle cx="1069.9" cy="1448.4" r="9.8" fill="#F8766D" fill-opacity="0.5"/>
<circle cx="1064.7" cy="1445.8" r="9.8" fill="#F8766D" fill-opacity="0.5"/>
<circle cx="1118.5" cy="1393.9" r="9.8" fill="#00BFC4" fill-opacity="0.5"/>
<circle cx="1003.8" cy="1443.2" r="9.8" fill="#00BFC4" fill-opacity="0.5"/>
<circle cx="994.7" cy="1526.1" r="9.8" fill="#F8766D" fill-opacity="0.5"/>
<circle cx="964.9" cy="1460.0" r="9.8" fill="#00BFC4" fill-opacity="0.5"/>
<circle cx="1090.6" cy="1445.8" r="9.8" fill="#00BFC4" fill-opacity="0.5"/>
<circle cx="1064.7" cy="1476.9" r="9.8" fill="#F8766D" fill-opacity="0.5"/>
<circle cx="1049.2" cy="1448.4" r="9.8" fill="#F8766D" fill-opacity="0.5"/>
<circle cx="1082.8" cy="1476.9" r="9.8" fill="#F8766D" fill-opacity="0.5"/>
<circle cx="1119.1" cy="1473.0" r="9.8" fill="#F8766D" fill-opacity="0.5"/>
<circle cx="1104.2" cy="1422.5" r="9.8" fill="#F8766D" fill-opacity="0.5"/>
<circle cx="1104.9" cy="1492.4" r="9.8" fill="#00BFC4" fill-opacity="0.5"/>
<circle cx="1093.2" cy="1497.6" r="9.8" fill="#00BFC4" fill-opacity="0.5"/>
<circle cx="1116.5" cy="1453.6" r="9.8" fill="#F8766D" fill-opacity="0.5"/>
<circle cx="1006.4" cy="1496.3" r="9.8" fill="#00BFC4" fill-opacity="0.5"/>
<circle cx="1108.8" cy="1476.9" r="9.8" fill="#F8766D" fill-opacity="0.5"/>
<circle cx="1089.3" cy="1489.8" r="9.8" fill="#00BFC4" fill-opacity="0.5"/>
<circle cx="1006.4" cy="1474.3" r="9.8" fill="#F8766D" fill-opacity="0.5"/>
<circle cx="1090.6" cy="1431.5" r="9.8" fill="#00BFC4" fill-opacity="0.5"/>
<circle cx="1106.2" cy="1492.4" r="9.8" fill="#F8766D" fill-opacity="0.5"/>
<circle cx="984.4" cy="1420.5" r="9.8" fill="#00BFC4" fill-opacity="0.5"/>
<circle cx="1014.2" cy="1406.9" r="9.8" fill="#00BFC4" fill-opacity="0.5"/>
<circle cx="955.2" cy="1422.5" r="9.8" fill="#00BFC4" fill-opacity="0.5"/>
<circle cx="1098.4" cy="1466.5" r="9.8" fill="#F8766D" fill-opacity="0.5"/>
<circle cx="936.4" cy="1441.2" r="9.8" fill="#00BFC4" fill-opacity="0.5"/>
<circle cx="1141.8" cy="1405.0" r="9.8" fill="#00BFC4" fill-opacity="0.5"/>
<circle cx="1027.1" cy="1457.4" r="9.8" fill="#00BFC4" fill-opacity="0.5"/>
<circle cx="1111.4" cy="1451.0" r="9.8" fill="#00BFC4" fill-opacity="0.5"/>
<circle cx="948.7" cy="1480.8" r="9.8" fill="#00BFC4" fill-opacity="0.5"/>
<circle cx="1070.5" cy="1524.8" r="9.8" fill="#F8766D" fill-opacity="0.5"/>
<circle cx="1088.7" cy="1537.8" r="9.8" fill="#00BFC4" fill-opacity="0.5"/>
<circle cx="990.8" cy="1425.0" r="9.8" fill="#00BFC4" fill-opacity="0.5"/>
<circle cx="1019.3" cy="1432.8" r="9.8" fill="#00BFC4" fill-opacity="0.5"/>
<circle cx="1117.8" cy="1492.4" r="9.8" fill="#00BFC4" fill-opacity="0.5"/>
<circle cx="1068.6" cy="1476.9" r="9.8" fill="#00BFC4" fill-opacity="0.5"/>
<circle cx="1094.4" cy="1478.3" r="9.8" fill="#00BFC4" fill-opacity="0.5"/>
<circle cx="1085.2" cy="1482.9" r="9.8" fill="#00BFC4" fill-opacity="0.5"/>
<circle cx="1049.2" cy="1471.7" r="9.8" fill="#F8766D" fill-opacity="0.5"/>
<circle cx="1097.8" cy="1410.8" r="9.8" fill="#00BFC4" fill-opacity="0.5"/>
<circle cx="1045.3" cy="1480.8" r="9.8" fill="#F8766D" fill-opacity="0.5"/>
<circle cx="1012.9" cy="1476.9" r="9.8" fill="#00BFC4" fill-opacity="0.5"/>
<circle cx="1110.1" cy="1393.3" r="9.8" fill="#F8766D" fill-opacity="0.5"/>
<circle cx="1128.2" cy="1440.6" r="9.8" fill="#F8766D" fill-opacity="0.5"/>
<circle cx="997.3" cy="1460.0" r="9.8" fill="#00BFC4" fill-opacity="0.5"/>
<circle cx="1006.4" cy="1449.7" r="9.8" fill="#00BFC4" fill-opacity="0.5"/>
<circle cx="1029.7" cy="1475.6" r="9.8" fill="#00BFC4" fill-opacity="0.5"/>
<circle cx="994.7" cy="1444.5" r="9.8" fill="#00BFC4" fill-opacity="0.5"/>
<circle cx="1076.8" cy="1449.9" r="9.8" fill="#F8766D" fill-opacity="0.5"/>
<circle cx="1107.5" cy="1515.8" r="9.8" fill="#00BFC4" fill-opacity="0.5"/>
<circle cx="1065.9" cy="1454.9" r="9.8" fill="#F8766D" fill-opacity="0.5"/>
<circle cx="1015.5" cy="1405.6" r="9.8" fill="#00BFC4" fill-opacity="0.5"/>
<circle cx="1056.9" cy="1501.5" r="9.8" fill="#00BFC4" fill-opacity="0.5"/>
<circle cx="1015.5" cy="1465.2" r="9.8" fill="#F8766D" fill-opacity="0.5"/>
<circle cx="1059.5" cy="1479.5" r="9.8" fill="#00BFC4" fill-opacity="0.5"/>
<circle cx="986.9" cy="1453.6" r="9.8" fill="#00BFC4" fill-opacity="0.5"/>
<circle cx="924.1" cy="1414.0" r="9.8" fill="#F8766D" fill-opacity="0.5"/>
<circle cx="1095.8" cy="1497.6" r="9.8" fill="#F8766D" fill-opacity="0.5"/>
<circle cx="1086.7" cy="1379.7" r="9.8" fill="#00BFC4" fill-opacity="0.5"/>
<circle cx="1055.6" cy="1416.0" r="9.8" fill="#F8766D" fill-opacity="0.5"/>
<circle cx="994.7" cy="1416.6" r="9.8" fill="#00BFC4" fill-opacity="0.5"/>
<circle cx="1049.2" cy="1423.8" r="9.8" fill="#F8766D" fill-opacity="0.5"/>
<circle cx="1025.2" cy="1517.1" r="9.8" fill="#00BFC4" fill-opacity="0.5"/>
<circle cx="1016.8" cy="1489.8" r="9.8" fill="#00BFC4" fill-opacity="0.5"/>
</g>
<g clip-path="url(#c54)">
<rect x="1176.0" y="1323.4" width="248.0" height="224.7" fill="#EBEBEB"/>
<line x1="1176.0" x2="1424.0" y1="1507.2" y2="1507.2" stroke="#fff" stroke-width="2.2"/>
<line x1="1176.0" x2="1424.0" y1="1462.0" y2="1462.0" stroke="#fff" stroke-width="2.2"/>
<line x1="1176.0" x2="1424.0" y1="1416.7" y2="1416.7" stroke="#fff" stroke-width="2.2"/>
<line x1="1176.0" x2="1424.0" y1="1371.5" y2="1371.5" stroke="#fff" stroke-width="2.2"/>
<line x1="1176.0" x2="1424.0" y1="1326.2" y2="1326.2" stroke="#fff" stroke-width="2.2"/>
<line x1="1241.3" x2="1241.3" y1="1323.4" y2="1548.1" stroke="#fff" stroke-width="2.2"/>
<line x1="1309.8" x2="1309.8" y1="1323.4" y2="1548.1" stroke="#fff" stroke-width="2.2"/>
<line x1="1378.3" x2="1378.3" y1="1323.4" y2="1548.1" stroke="#fff" stroke-width="2.2"/>
<line x1="1176.0" x2="1424.0" y1="1529.8" y2="1529.8" stroke="#fff" stroke-width="4.4"/>
<line x1="1176.0" x2="1424.0" y1="1484.6" y2="1484.6" stroke="#fff" stroke-width="4.4"/>
<line x1="1176.0" x2="1424.0" y1="1439.3" y2="1439.3" stroke="#fff" stroke-width="4.4"/>
<line x1="1176.0" x2="1424.0" y1="1394.1" y2="1394.1" stroke="#fff" stroke-width="4.4"/>
<line x1="1176.0" x2="1424.0" y1="1348.9" y2="1348.9" stroke="#fff" stroke-width="4.4"/>
<line x1="1207.0" x2="1207.0" y1="1323.4" y2="1548.1" stroke="#fff" stroke-width="4.4"/>
<line x1="1275.5" x2="1275.5" y1="1323.4" y2="1548.1" stroke="#fff" stroke-width="4.4"/>
<line x1="1344.1" x2="1344.1" y1="1323.4" y2="1548.1" stroke="#fff" stroke-width="4.4"/>
<line x1="1412.6" x2="1412.6" y1="1323.4" y2="1548.1" stroke="#fff" stroke-width="4.4"/>
<circle cx="1303.0" cy="1438.0" r="9.8" fill="#00BFC4" fill-opacity="0.5"/>
<circle cx="1266.7" cy="1505.4" r="9.8" fill="#00BFC4" fill-opacity="0.5"/>
<circle cx="1279.7" cy="1498.9" r="9.8" fill="#F8766D" fill-opacity="0.5"/>
<circle cx="1243.4" cy="1486.0" r="9.8" fill="#00BFC4" fill-opacity="0.5"/>
<circle cx="1256.8" cy="1493.9" r="9.8" fill="#00BFC4" fill-opacity="0.5"/>
<circle cx="1265.4" cy="1445.8" r="9.8" fill="#00BFC4" fill-opacity="0.5"/>
<circle cx="1395.0" cy="1382.9" r="9.8" fill="#00BFC4" fill-opacity="0.5"/>
<circle cx="1265.4" cy="1524.8" r="9.8" fill="#F8766D" fill-opacity="0.5"/>
<circle cx="1314.7" cy="1501.5" r="9.8" fill="#00BFC4" fill-opacity="0.5"/>
<circle cx="1363.9" cy="1384.9" r="9.8" fill="#00BFC4" fill-opacity="0.5"/>
<circle cx="1343.2" cy="1440.6" r="9.8" fill="#F8766D" fill-opacity="0.5"/>
<circle cx="1284.9" cy="1469.1" r="9.8" fill="#00BFC4" fill-opacity="0.5"/>
<circle cx="1260.2" cy="1495.0" r="9.8" fill="#00BFC4" fill-opacity="0.5"/>
<circle cx="1264.1" cy="1475.9" r="9.8" fill="#00BFC4" fill-opacity="0.5"/>
<circle cx="1300.8" cy="1466.7" r="9.8" fill="#00BFC4" fill-opacity="0.5"/>
<circle cx="1297.8" cy="1478.2" r="9.8" fill="#00BFC4" fill-opacity="0.5"/>
<circle cx="1271.9" cy="1451.0" r="9.8" fill="#F8766D" fill-opacity="0.5"/>
<circle cx="1357.4" cy="1378.4" r="9.8" fill="#00BFC4" fill-opacity="0.5"/>
<circle cx="1258.9" cy="1458.7" r="9.8" fill="#00BFC4" fill-opacity="0.5"/>
<circle cx="1187.0" cy="1470.4" r="9.8" fill="#F8766D" fill-opacity="0.5"/>
<circle cx="1262.0" cy="1472.8" r="9.8" fill="#F8766D" fill-opacity="0.5"/>
<circle cx="1292.6" cy="1445.8" r="9.8" fill="#00BFC4" fill-opacity="0.5"/>
<circle cx="1309.5" cy="1489.8" r="9.8" fill="#00BFC4" fill-opacity="0.5"/>
<circle cx="1274.5" cy="1457.4" r="9.8" fill="#00BFC4" fill-opacity="0.5"/>
<circle cx="1340.6" cy="1393.9" r="9.8" fill="#00BFC4" fill-opacity="0.5"/>
<circle cx="1314.7" cy="1510.6" r="9.8" fill="#00BFC4" fill-opacity="0.5"/>
<circle cx="1249.9" cy="1444.5" r="9.8" fill="#00BFC4" fill-opacity="0.5"/>
<circle cx="1234.3" cy="1467.8" r="9.8" fill="#00BFC4" fill-opacity="0.5"/>
<circle cx="1269.3" cy="1479.5" r="9.8" fill="#00BFC4" fill-opacity="0.5"/>
<circle cx="1313.4" cy="1432.8" r="9.8" fill="#00BFC4" fill-opacity="0.5"/>
<circle cx="1339.3" cy="1463.9" r="9.8" fill="#00BFC4" fill-opacity="0.5"/>
<circle cx="1258.6" cy="1473.0" r="9.8" fill="#F8766D" fill-opacity="0.5"/>
<circle cx="1331.5" cy="1396.5" r="9.8" fill="#00BFC4" fill-opacity="0.5"/>
<circle cx="1331.5" cy="1425.0" r="9.8" fill="#00BFC4" fill-opacity="0.5"/>
<circle cx="1353.6" cy="1414.7" r="9.8" fill="#F8766D" fill-opacity="0.5"/>
<circle cx="1279.7" cy="1492.4" r="9.8" fill="#00BFC4" fill-opacity="0.5"/>
<circle cx="1338.0" cy="1408.2" r="9.8" fill="#00BFC4" fill-opacity="0.5"/>
<circle cx="1367.8" cy="1400.4" r="9.8" fill="#00BFC4" fill-opacity="0.5"/>
<circle cx="1325.0" cy="1435.4" r="9.8" fill="#00BFC4" fill-opacity="0.5"/>
<circle cx="1391.8" cy="1348.6" r="9.8" fill="#00BFC4" fill-opacity="0.5"/>
<circle cx="1344.5" cy="1401.7" r="9.8" fill="#00BFC4" fill-opacity="0.5"/>
<circle cx="1321.2" cy="1422.5" r="9.8" fill="#00BFC4" fill-opacity="0.5"/>
<circle cx="1310.2" cy="1486.1" r="9.8" fill="#00BFC4" fill-opacity="0.5"/>
<circle cx="1345.8" cy="1430.2" r="9.8" fill="#00BFC4" fill-opacity="0.5"/>
<circle cx="1290.0" cy="1451.0" r="9.8" fill="#F8766D" fill-opacity="0.5"/>
<circle cx="1260.2" cy="1470.4" r="9.8" fill="#F8766D" fill-opacity="0.5"/>
<circle cx="1260.3" cy="1467.0" r="9.8" fill="#F8766D" fill-opacity="0.5"/>
<circle cx="1312.1" cy="1425.0" r="9.8" fill="#00BFC4" fill-opacity="0.5"/>
<circle cx="1357.4" cy="1403.0" r="9.8" fill="#00BFC4" fill-opacity="0.5"/>
<circle cx="1256.4" cy="1466.5" r="9.8" fill="#F8766D" fill-opacity="0.5"/>
<circle cx="1347.1" cy="1453.6" r="9.8" fill="#00BFC4" fill-opacity="0.5"/>
<circle cx="1354.8" cy="1441.9" r="9.8" fill="#00BFC4" fill-opacity="0.5"/>
<circle cx="1238.2" cy="1476.9" r="9.8" fill="#00BFC4" fill-opacity="0.5"/>
<circle cx="1300.4" cy="1495.0" r="9.8" fill="#00BFC4" fill-opacity="0.5"/>
<circle cx="1366.5" cy="1383.6" r="9.8" fill="#00BFC4" fill-opacity="0.5"/>
<circle cx="1282.3" cy="1448.4" r="9.8" fill="#00BFC4" fill-opacity="0.5"/>
<circle cx="1317.3" cy="1473.0" r="9.8" fill="#F8766D" fill-opacity="0.5"/>
<circle cx="1273.3" cy="1499.2" r="9.8" fill="#00BFC4" fill-opacity="0.5"/>
<circle cx="1204.5" cy="1487.9" r="9.8" fill="#F8766D" fill-opacity="0.5"/>
<circle cx="1344.5" cy="1462.6" r="9.8" fill="#F8766D" fill-opacity="0.5"/>
<circle cx="1270.0" cy="1481.6" r="9.8" fill="#00BFC4" fill-opacity="0.5"/>
<circle cx="1256.4" cy="1505.4" r="9.8" fill="#00BFC4" fill-opacity="0.5"/>
<circle cx="1318.6" cy="1465.2" r="9.8" fill="#F8766D" fill-opacity="0.5"/>
<circle cx="1305.6" cy="1453.6" r="9.8" fill="#00BFC4" fill-opacity="0.5"/>
<circle cx="1295.2" cy="1517.1" r="9.8" fill="#00BFC4" fill-opacity="0.5"/>
<circle cx="1312.1" cy="1445.8" r="9.8" fill="#00BFC4" fill-opacity="0.5"/>
<circle cx="1253.8" cy="1479.5" r="9.8" fill="#00BFC4" fill-opacity="0.5"/>
<circle cx="1299.1" cy="1515.8" r="9.8" fill="#00BFC4" fill-opacity="0.5"/>
<circle cx="1386.6" cy="1353.8" r="9.8" fill="#00BFC4" fill-opacity="0.5"/>
<circle cx="1270.6" cy="1537.8" r="9.8" fill="#00BFC4" fill-opacity="0.5"/>
<circle cx="1270.2" cy="1477.6" r="9.8" fill="#00BFC4" fill-opacity="0.5"/>
<circle cx="1263.6" cy="1470.4" r="9.8" fill="#00BFC4" fill-opacity="0.5"/>
<circle cx="1352.3" cy="1392.6" r="9.8" fill="#F8766D" fill-opacity="0.5"/>
<circle cx="1262.9" cy="1483.3" r="9.8" fill="#00BFC4" fill-opacity="0.5"/>
<circle cx="1294.2" cy="1464.9" r="9.8" fill="#00BFC4" fill-opacity="0.5"/>
<circle cx="1198.7" cy="1423.8" r="9.8" fill="#F8766D" fill-opacity="0.5"/>
<circle cx="1290.0" cy="1489.8" r="9.8" fill="#00BFC4" fill-opacity="0.5"/>
<circle cx="1305.6" cy="1480.8" r="9.8" fill="#00BFC4" fill-opacity="0.5"/>
<circle cx="1412.5" cy="1333.7" r="9.8" fill="#00BFC4" fill-opacity="0.5"/>
<circle cx="1354.8" cy="1417.3" r="9.8" fill="#00BFC4" fill-opacity="0.5"/>
<circle cx="1292.6" cy="1460.0" r="9.8" fill="#00BFC4" fill-opacity="0.5"/>
<circle cx="1260.2" cy="1483.4" r="9.8" fill="#00BFC4" fill-opacity="0.5"/>
<circle cx="1323.7" cy="1445.8" r="9.8" fill="#00BFC4" fill-opacity="0.5"/>
<circle cx="1226.5" cy="1480.8" r="9.8" fill="#00BFC4" fill-opacity="0.5"/>
<circle cx="1242.1" cy="1495.0" r="9.8" fill="#00BFC4" fill-opacity="0.5"/>
<circle cx="1277.1" cy="1501.5" r="9.8" fill="#00BFC4" fill-opacity="0.5"/>
<circle cx="1279.7" cy="1479.5" r="9.8" fill="#00BFC4" fill-opacity="0.5"/>
<circle cx="1300.4" cy="1466.5" r="9.8" fill="#F8766D" fill-opacity="0.5"/>
<circle cx="1282.3" cy="1460.0" r="9.8" fill="#00BFC4" fill-opacity="0.5"/>
<circle cx="1281.4" cy="1498.6" r="9.8" fill="#00BFC4" fill-opacity="0.5"/>
<circle cx="1266.7" cy="1469.1" r="9.8" fill="#F8766D" fill-opacity="0.5"/>
<circle cx="1336.7" cy="1481.4" r="9.8" fill="#F8766D" fill-opacity="0.5"/>
<circle cx="1235.0" cy="1526.8" r="9.8" fill="#F8766D" fill-opacity="0.5"/>
<circle cx="1269.3" cy="1495.0" r="9.8" fill="#00BFC4" fill-opacity="0.5"/>
<circle cx="1334.1" cy="1456.2" r="9.8" fill="#F8766D" fill-opacity="0.5"/>
<circle cx="1328.9" cy="1410.8" r="9.8" fill="#00BFC4" fill-opacity="0.5"/>
<circle cx="1246.0" cy="1451.0" r="9.8" fill="#00BFC4" fill-opacity="0.5"/>
<circle cx="1287.5" cy="1479.5" r="9.8" fill="#00BFC4" fill-opacity="0.5"/>
<circle cx="1256.4" cy="1501.5" r="9.8" fill="#F8766D" fill-opacity="0.5"/>
<circle cx="1224.0" cy="1476.9" r="9.8" fill="#00BFC4" fill-opacity="0.5"/>
<circle cx="1367.8" cy="1493.7" r="9.8" fill="#00BFC4" fill-opacity="0.5"/>
<circle cx="1246.0" cy="1461.3" r="9.8" fill="#F8766D" fill-opacity="0.5"/>
<circle cx="1275.4" cy="1495.9" r="9.8" fill="#00BFC4" fill-opacity="0.5"/>
</g>
<g clip-path="url(#c55)">
<rect x="1447.0" y="1323.4" width="248.0" height="224.7" fill="#EBEBEB"/>
<line x1="1447.0" x2="1695.0" y1="1510.6" y2="1510.6" stroke="#fff" stroke-width="2.2"/>
<line x1="1447.0" x2="1695.0" y1="1455.8" y2="1455.8" stroke="#fff" stroke-width="2.2"/>
<line x1="1447.0" x2="1695.0" y1="1401.0" y2="1401.0" stroke="#fff" stroke-width="2.2"/>
<line x1="1447.0" x2="1695.0" y1="1346.2" y2="1346.2" stroke="#fff" stroke-width="2.2"/>
<line x1="1492.3" x2="1492.3" y1="1323.4" y2="1548.1" stroke="#fff" stroke-width="2.2"/>
<line x1="1542.2" x2="1542.2" y1="1323.4" y2="1548.1" stroke="#fff" stroke-width="2.2"/>
<line x1="1592.1" x2="1592.1" y1="1323.4" y2="1548.1" stroke="#fff" stroke-width="2.2"/>
<line x1="1642.0" x2="1642.0" y1="1323.4" y2="1548.1" stroke="#fff" stroke-width="2.2"/>
<line x1="1692.0" x2="1692.0" y1="1323.4" y2="1548.1" stroke="#fff" stroke-width="2.2"/>
<line x1="1447.0" x2="1695.0" y1="1538.0" y2="1538.0" stroke="#fff" stroke-width="4.4"/>
<line x1="1447.0" x2="1695.0" y1="1483.2" y2="1483.2" stroke="#fff" stroke-width="4.4"/>
<line x1="1447.0" x2="1695.0" y1="1428.4" y2="1428.4" stroke="#fff" stroke-width="4.4"/>
<line x1="1447.0" x2="1695.0" y1="1373.6" y2="1373.6" stroke="#fff" stroke-width="4.4"/>
<line x1="1467.3" x2="1467.3" y1="1323.4" y2="1548.1" stroke="#fff" stroke-width="4.4"/>
<line x1="1517.2" x2="1517.2" y1="1323.4" y2="1548.1" stroke="#fff" stroke-width="4.4"/>
<line x1="1567.2" x2="1567.2" y1="1323.4" y2="1548.1" stroke="#fff" stroke-width="4.4"/>
<line x1="1617.1" x2="1617.1" y1="1323.4" y2="1548.1" stroke="#fff" stroke-width="4.4"/>
<line x1="1667.0" x2="1667.0" y1="1323.4" y2="1548.1" stroke="#fff" stroke-width="4.4"/>
<path d="M1457.5,1532.2 C1458.5,1530.6 1461.7,1525.5 1463.6,1522.7 C1465.6,1519.8 1467.5,1516.5 1469.1,1515.1 C1470.7,1513.7 1472.0,1513.8 1473.2,1514.2 C1474.5,1514.5 1475.5,1516.1 1476.6,1517.2 C1477.8,1518.2 1478.8,1519.7 1480.1,1520.6 C1481.3,1521.5 1482.6,1523.0 1484.2,1522.7 C1485.8,1522.3 1487.6,1521.5 1489.6,1518.5 C1491.7,1515.6 1494.2,1509.2 1496.5,1504.9 C1498.8,1500.5 1501.3,1497.3 1503.3,1492.5 C1505.4,1487.8 1507.2,1482.3 1508.8,1476.1 C1510.4,1470.0 1511.8,1461.8 1512.9,1455.6 C1514.0,1449.4 1514.7,1445.1 1515.6,1439.2 C1516.6,1433.2 1517.5,1426.9 1518.4,1420.0 C1519.3,1413.2 1520.1,1405.9 1521.1,1398.1 C1522.1,1390.4 1523.3,1381.5 1524.5,1373.5 C1525.8,1365.5 1527.1,1356.8 1528.6,1350.2 C1530.2,1343.6 1532.0,1335.9 1533.7,1334.1 C1535.4,1332.2 1537.4,1335.4 1538.9,1339.3 C1540.5,1343.1 1541.6,1350.7 1543.0,1357.1 C1544.4,1363.4 1545.7,1370.7 1547.1,1377.6 C1548.5,1384.4 1549.9,1391.3 1551.2,1398.1 C1552.6,1405.0 1554.2,1412.5 1555.3,1418.6 C1556.5,1424.8 1557.3,1430.3 1558.1,1435.1 C1558.9,1439.9 1559.4,1443.3 1560.1,1447.4 C1560.8,1451.5 1561.1,1455.4 1562.2,1459.7 C1563.2,1464.0 1564.9,1469.0 1566.3,1473.4 C1567.6,1477.7 1568.8,1482.3 1570.4,1485.7 C1572.0,1489.1 1574.0,1492.8 1575.9,1493.9 C1577.7,1495.1 1579.5,1493.0 1581.3,1492.5 C1583.2,1492.1 1585.0,1490.5 1586.8,1491.2 C1588.6,1491.9 1590.5,1494.4 1592.3,1496.6 C1594.1,1498.9 1595.9,1501.7 1597.8,1504.9 C1599.6,1508.1 1601.4,1513.1 1603.2,1515.8 C1605.1,1518.5 1606.6,1520.4 1608.7,1521.3 C1610.8,1522.2 1613.3,1521.1 1615.5,1521.3 C1617.8,1521.5 1620.3,1521.5 1622.4,1522.7 C1624.4,1523.8 1625.8,1526.3 1627.9,1528.1 C1629.9,1530.0 1632.0,1532.3 1634.7,1533.6 C1637.4,1534.9 1640.4,1535.2 1644.3,1535.7 C1648.2,1536.1 1651.4,1536.2 1658.0,1536.3 C1664.6,1536.5 1679.6,1536.6 1684.0,1536.6 L1684.0,1538.0 L1457.5,1538.0 Z" fill="#F8766D" fill-opacity="0.5" stroke="none"/>
<path d="M1457.5,1532.2 C1458.5,1530.6 1461.7,1525.5 1463.6,1522.7 C1465.6,1519.8 1467.5,1516.5 1469.1,1515.1 C1470.7,1513.7 1472.0,1513.8 1473.2,1514.2 C1474.5,1514.5 1475.5,1516.1 1476.6,1517.2 C1477.8,1518.2 1478.8,1519.7 1480.1,1520.6 C1481.3,1521.5 1482.6,1523.0 1484.2,1522.7 C1485.8,1522.3 1487.6,1521.5 1489.6,1518.5 C1491.7,1515.6 1494.2,1509.2 1496.5,1504.9 C1498.8,1500.5 1501.3,1497.3 1503.3,1492.5 C1505.4,1487.8 1507.2,1482.3 1508.8,1476.1 C1510.4,1470.0 1511.8,1461.8 1512.9,1455.6 C1514.0,1449.4 1514.7,1445.1 1515.6,1439.2 C1516.6,1433.2 1517.5,1426.9 1518.4,1420.0 C1519.3,1413.2 1520.1,1405.9 1521.1,1398.1 C1522.1,1390.4 1523.3,1381.5 1524.5,1373.5 C1525.8,1365.5 1527.1,1356.8 1528.6,1350.2 C1530.2,1343.6 1532.0,1335.9 1533.7,1334.1 C1535.4,1332.2 1537.4,1335.4 1538.9,1339.3 C1540.5,1343.1 1541.6,1350.7 1543.0,1357.1 C1544.4,1363.4 1545.7,1370.7 1547.1,1377.6 C1548.5,1384.4 1549.9,1391.3 1551.2,1398.1 C1552.6,1405.0 1554.2,1412.5 1555.3,1418.6 C1556.5,1424.8 1557.3,1430.3 1558.1,1435.1 C1558.9,1439.9 1559.4,1443.3 1560.1,1447.4 C1560.8,1451.5 1561.1,1455.4 1562.2,1459.7 C1563.2,1464.0 1564.9,1469.0 1566.3,1473.4 C1567.6,1477.7 1568.8,1482.3 1570.4,1485.7 C1572.0,1489.1 1574.0,1492.8 1575.9,1493.9 C1577.7,1495.1 1579.5,1493.0 1581.3,1492.5 C1583.2,1492.1 1585.0,1490.5 1586.8,1491.2 C1588.6,1491.9 1590.5,1494.4 1592.3,1496.6 C1594.1,1498.9 1595.9,1501.7 1597.8,1504.9 C1599.6,1508.1 1601.4,1513.1 1603.2,1515.8 C1605.1,1518.5 1606.6,1520.4 1608.7,1521.3 C1610.8,1522.2 1613.3,1521.1 1615.5,1521.3 C1617.8,1521.5 1620.3,1521.5 1622.4,1522.7 C1624.4,1523.8 1625.8,1526.3 1627.9,1528.1 C1629.9,1530.0 1632.0,1532.3 1634.7,1533.6 C1637.4,1534.9 1640.4,1535.2 1644.3,1535.7 C1648.2,1536.1 1651.4,1536.2 1658.0,1536.3 C1664.6,1536.5 1679.6,1536.6 1684.0,1536.6" fill="none" stroke="#000" stroke-width="4.5" stroke-linejoin="round"/>
<path d="M1457.5,1532.9 C1459.0,1532.0 1463.5,1529.6 1466.4,1527.4 C1469.2,1525.3 1472.3,1522.5 1474.6,1519.9 C1476.9,1517.3 1478.0,1515.4 1480.1,1511.7 C1482.1,1508.1 1484.6,1502.8 1486.9,1498.0 C1489.2,1493.2 1491.5,1488.0 1493.7,1483.0 C1496.0,1477.9 1498.3,1473.2 1500.6,1467.9 C1502.9,1462.7 1505.1,1456.5 1507.4,1451.5 C1509.7,1446.5 1512.2,1441.0 1514.3,1437.8 C1516.3,1434.6 1517.7,1433.5 1519.7,1432.3 C1521.8,1431.2 1524.1,1431.0 1526.6,1431.0 C1529.1,1431.0 1532.1,1431.6 1534.8,1432.3 C1537.5,1433.0 1540.5,1433.9 1543.0,1435.1 C1545.5,1436.2 1547.6,1437.1 1549.9,1439.2 C1552.1,1441.2 1554.6,1444.2 1556.7,1447.4 C1558.7,1450.6 1559.9,1454.5 1562.2,1458.3 C1564.5,1462.2 1567.6,1466.5 1570.4,1470.6 C1573.1,1474.8 1575.9,1479.3 1578.6,1483.0 C1581.3,1486.6 1584.1,1489.8 1586.8,1492.5 C1589.5,1495.3 1592.3,1497.3 1595.0,1499.4 C1597.8,1501.4 1600.5,1503.0 1603.2,1504.9 C1606.0,1506.7 1608.5,1508.3 1611.4,1510.3 C1614.4,1512.4 1617.8,1514.9 1621.0,1517.2 C1624.2,1519.5 1627.6,1522.0 1630.6,1524.0 C1633.6,1526.1 1636.1,1528.1 1638.8,1529.5 C1641.5,1530.9 1643.8,1531.7 1647.0,1532.2 C1650.2,1532.8 1653.9,1532.8 1658.0,1532.9 C1662.1,1533.0 1667.3,1532.9 1671.7,1532.9 C1676.0,1532.9 1681.9,1532.9 1684.0,1532.9 L1684.0,1538.0 L1457.5,1538.0 Z" fill="#00BFC4" fill-opacity="0.5" stroke="none"/>
<path d="M1457.5,1532.9 C1459.0,1532.0 1463.5,1529.6 1466.4,1527.4 C1469.2,1525.3 1472.3,1522.5 1474.6,1519.9 C1476.9,1517.3 1478.0,1515.4 1480.1,1511.7 C1482.1,1508.1 1484.6,1502.8 1486.9,1498.0 C1489.2,1493.2 1491.5,1488.0 1493.7,1483.0 C1496.0,1477.9 1498.3,1473.2 1500.6,1467.9 C1502.9,1462.7 1505.1,1456.5 1507.4,1451.5 C1509.7,1446.5 1512.2,1441.0 1514.3,1437.8 C1516.3,1434.6 1517.7,1433.5 1519.7,1432.3 C1521.8,1431.2 1524.1,1431.0 1526.6,1431.0 C1529.1,1431.0 1532.1,1431.6 1534.8,1432.3 C1537.5,1433.0 1540.5,1433.9 1543.0,1435.1 C1545.5,1436.2 1547.6,1437.1 1549.9,1439.2 C1552.1,1441.2 1554.6,1444.2 1556.7,1447.4 C1558.7,1450.6 1559.9,1454.5 1562.2,1458.3 C1564.5,1462.2 1567.6,1466.5 1570.4,1470.6 C1573.1,1474.8 1575.9,1479.3 1578.6,1483.0 C1581.3,1486.6 1584.1,1489.8 1586.8,1492.5 C1589.5,1495.3 1592.3,1497.3 1595.0,1499.4 C1597.8,1501.4 1600.5,1503.0 1603.2,1504.9 C1606.0,1506.7 1608.5,1508.3 1611.4,1510.3 C1614.4,1512.4 1617.8,1514.9 1621.0,1517.2 C1624.2,1519.5 1627.6,1522.0 1630.6,1524.0 C1633.6,1526.1 1636.1,1528.1 1638.8,1529.5 C1641.5,1530.9 1643.8,1531.7 1647.0,1532.2 C1650.2,1532.8 1653.9,1532.8 1658.0,1532.9 C1662.1,1533.0 1667.3,1532.9 1671.7,1532.9 C1676.0,1532.9 1681.9,1532.9 1684.0,1532.9" fill="none" stroke="#000" stroke-width="4.5" stroke-linejoin="round"/>
</g>
<g clip-path="url(#c60)">
<rect x="91.8" y="1571.1" width="248.0" height="224.7" fill="#EBEBEB"/>
<line x1="91.8" x2="339.8" y1="1786.9" y2="1786.9" stroke="#fff" stroke-width="2.2"/>
<line x1="91.8" x2="339.8" y1="1726.5" y2="1726.5" stroke="#fff" stroke-width="2.2"/>
<line x1="91.8" x2="339.8" y1="1666.1" y2="1666.1" stroke="#fff" stroke-width="2.2"/>
<line x1="91.8" x2="339.8" y1="1605.7" y2="1605.7" stroke="#fff" stroke-width="2.2"/>
<line x1="119.8" x2="119.8" y1="1571.1" y2="1795.8" stroke="#fff" stroke-width="2.2"/>
<line x1="174.6" x2="174.6" y1="1571.1" y2="1795.8" stroke="#fff" stroke-width="2.2"/>
<line x1="229.5" x2="229.5" y1="1571.1" y2="1795.8" stroke="#fff" stroke-width="2.2"/>
<line x1="284.3" x2="284.3" y1="1571.1" y2="1795.8" stroke="#fff" stroke-width="2.2"/>
<line x1="339.1" x2="339.1" y1="1571.1" y2="1795.8" stroke="#fff" stroke-width="2.2"/>
<line x1="91.8" x2="339.8" y1="1756.7" y2="1756.7" stroke="#fff" stroke-width="4.4"/>
<line x1="91.8" x2="339.8" y1="1696.3" y2="1696.3" stroke="#fff" stroke-width="4.4"/>
<line x1="91.8" x2="339.8" y1="1635.9" y2="1635.9" stroke="#fff" stroke-width="4.4"/>
<line x1="91.8" x2="339.8" y1="1575.5" y2="1575.5" stroke="#fff" stroke-width="4.4"/>
<line x1="92.4" x2="92.4" y1="1571.1" y2="1795.8" stroke="#fff" stroke-width="4.4"/>
<line x1="147.2" x2="147.2" y1="1571.1" y2="1795.8" stroke="#fff" stroke-width="4.4"/>
<line x1="202.0" x2="202.0" y1="1571.1" y2="1795.8" stroke="#fff" stroke-width="4.4"/>
<line x1="256.9" x2="256.9" y1="1571.1" y2="1795.8" stroke="#fff" stroke-width="4.4"/>
<line x1="311.7" x2="311.7" y1="1571.1" y2="1795.8" stroke="#fff" stroke-width="4.4"/>
<circle cx="148.0" cy="1695.8" r="9.8" fill="#00BFC4" fill-opacity="0.5"/>
<circle cx="247.2" cy="1661.4" r="9.8" fill="#00BFC4" fill-opacity="0.5"/>
<circle cx="133.4" cy="1657.2" r="9.8" fill="#00BFC4" fill-opacity="0.5"/>
<circle cx="134.7" cy="1688.6" r="9.8" fill="#00BFC4" fill-opacity="0.5"/>
<circle cx="180.4" cy="1638.1" r="9.8" fill="#00BFC4" fill-opacity="0.5"/>
<circle cx="145.4" cy="1665.3" r="9.8" fill="#00BFC4" fill-opacity="0.5"/>
<circle cx="124.7" cy="1718.4" r="9.8" fill="#00BFC4" fill-opacity="0.5"/>
<circle cx="131.2" cy="1717.1" r="9.8" fill="#00BFC4" fill-opacity="0.5"/>
<circle cx="145.4" cy="1701.6" r="9.8" fill="#00BFC4" fill-opacity="0.5"/>
<circle cx="229.7" cy="1616.0" r="9.8" fill="#00BFC4" fill-opacity="0.5"/>
<circle cx="163.6" cy="1675.6" r="9.8" fill="#F8766D" fill-opacity="0.5"/>
<circle cx="136.4" cy="1723.6" r="9.8" fill="#F8766D" fill-opacity="0.5"/>
<circle cx="205.0" cy="1592.7" r="9.8" fill="#F8766D" fill-opacity="0.5"/>
<circle cx="127.3" cy="1731.4" r="9.8" fill="#F8766D" fill-opacity="0.5"/>
<circle cx="128.6" cy="1693.8" r="9.8" fill="#00BFC4" fill-opacity="0.5"/>
<circle cx="156.6" cy="1694.7" r="9.8" fill="#00BFC4" fill-opacity="0.5"/>
<circle cx="163.6" cy="1662.7" r="9.8" fill="#00BFC4" fill-opacity="0.5"/>
<circle cx="120.2" cy="1785.8" r="9.8" fill="#F8766D" fill-opacity="0.5"/>
<circle cx="116.9" cy="1758.6" r="9.8" fill="#00BFC4" fill-opacity="0.5"/>
<circle cx="181.7" cy="1626.4" r="9.8" fill="#00BFC4" fill-opacity="0.5"/>
<circle cx="234.9" cy="1617.3" r="9.8" fill="#00BFC4" fill-opacity="0.5"/>
<circle cx="137.7" cy="1752.1" r="9.8" fill="#00BFC4" fill-opacity="0.5"/>
<circle cx="132.0" cy="1695.1" r="9.8" fill="#00BFC4" fill-opacity="0.5"/>
<circle cx="140.2" cy="1682.1" r="9.8" fill="#00BFC4" fill-opacity="0.5"/>
<circle cx="241.3" cy="1629.6" r="9.8" fill="#00BFC4" fill-opacity="0.5"/>
<circle cx="153.2" cy="1634.2" r="9.8" fill="#F8766D" fill-opacity="0.5"/>
<circle cx="120.8" cy="1749.5" r="9.8" fill="#00BFC4" fill-opacity="0.5"/>
<circle cx="181.7" cy="1647.1" r="9.8" fill="#00BFC4" fill-opacity="0.5"/>
<circle cx="123.4" cy="1731.4" r="9.8" fill="#00BFC4" fill-opacity="0.5"/>
<circle cx="187.6" cy="1721.0" r="9.8" fill="#00BFC4" fill-opacity="0.5"/>
<circle cx="161.0" cy="1706.7" r="9.8" fill="#F8766D" fill-opacity="0.5"/>
<circle cx="161.0" cy="1636.8" r="9.8" fill="#00BFC4" fill-opacity="0.5"/>
<circle cx="132.5" cy="1673.0" r="9.8" fill="#00BFC4" fill-opacity="0.5"/>
<circle cx="150.6" cy="1682.1" r="9.8" fill="#00BFC4" fill-opacity="0.5"/>
<circle cx="158.2" cy="1666.5" r="9.8" fill="#00BFC4" fill-opacity="0.5"/>
<circle cx="328.2" cy="1581.7" r="9.8" fill="#00BFC4" fill-opacity="0.5"/>
<circle cx="151.9" cy="1673.0" r="9.8" fill="#00BFC4" fill-opacity="0.5"/>
<circle cx="184.3" cy="1614.7" r="9.8" fill="#00BFC4" fill-opacity="0.5"/>
<circle cx="148.0" cy="1731.4" r="9.8" fill="#F8766D" fill-opacity="0.5"/>
<circle cx="161.0" cy="1683.4" r="9.8" fill="#00BFC4" fill-opacity="0.5"/>
<circle cx="151.3" cy="1674.2" r="9.8" fill="#00BFC4" fill-opacity="0.5"/>
<circle cx="135.1" cy="1701.6" r="9.8" fill="#00BFC4" fill-opacity="0.5"/>
<circle cx="128.6" cy="1709.3" r="9.8" fill="#00BFC4" fill-opacity="0.5"/>
<circle cx="225.8" cy="1609.5" r="9.8" fill="#00BFC4" fill-opacity="0.5"/>
<circle cx="163.6" cy="1674.3" r="9.8" fill="#00BFC4" fill-opacity="0.5"/>
<circle cx="154.5" cy="1689.9" r="9.8" fill="#00BFC4" fill-opacity="0.5"/>
<circle cx="158.4" cy="1654.9" r="9.8" fill="#00BFC4" fill-opacity="0.5"/>
<circle cx="154.3" cy="1674.3" r="9.8" fill="#00BFC4" fill-opacity="0.5"/>
<circle cx="147.0" cy="1702.6" r="9.8" fill="#00BFC4" fill-opacity="0.5"/>
<circle cx="189.5" cy="1629.0" r="9.8" fill="#00BFC4" fill-opacity="0.5"/>
<circle cx="158.7" cy="1668.6" r="9.8" fill="#00BFC4" fill-opacity="0.5"/>
<circle cx="137.2" cy="1695.9" r="9.8" fill="#00BFC4" fill-opacity="0.5"/>
<circle cx="142.8" cy="1731.4" r="9.8" fill="#F8766D" fill-opacity="0.5"/>
<circle cx="148.0" cy="1641.9" r="9.8" fill="#00BFC4" fill-opacity="0.5"/>
<circle cx="197.3" cy="1630.3" r="9.8" fill="#00BFC4" fill-opacity="0.5"/>
<circle cx="192.1" cy="1612.1" r="9.8" fill="#00BFC4" fill-opacity="0.5"/>
<circle cx="190.8" cy="1635.5" r="9.8" fill="#00BFC4" fill-opacity="0.5"/>
<circle cx="202.5" cy="1613.4" r="9.8" fill="#F8766D" fill-opacity="0.5"/>
<circle cx="172.6" cy="1662.7" r="9.8" fill="#F8766D" fill-opacity="0.5"/>
<circle cx="158.2" cy="1672.1" r="9.8" fill="#00BFC4" fill-opacity="0.5"/>
<circle cx="136.4" cy="1693.8" r="9.8" fill="#00BFC4" fill-opacity="0.5"/>
<circle cx="140.2" cy="1709.3" r="9.8" fill="#00BFC4" fill-opacity="0.5"/>
<circle cx="155.8" cy="1629.0" r="9.8" fill="#00BFC4" fill-opacity="0.5"/>
<circle cx="145.4" cy="1692.5" r="9.8" fill="#00BFC4" fill-opacity="0.5"/>
<circle cx="173.9" cy="1649.7" r="9.8" fill="#00BFC4" fill-opacity="0.5"/>
<circle cx="155.8" cy="1662.7" r="9.8" fill="#00BFC4" fill-opacity="0.5"/>
<circle cx="153.2" cy="1644.5" r="9.8" fill="#00BFC4" fill-opacity="0.5"/>
<circle cx="229.7" cy="1634.2" r="9.8" fill="#00BFC4" fill-opacity="0.5"/>
<circle cx="132.6" cy="1655.7" r="9.8" fill="#00BFC4" fill-opacity="0.5"/>
<circle cx="218.0" cy="1627.0" r="9.8" fill="#00BFC4" fill-opacity="0.5"/>
<circle cx="153.2" cy="1724.9" r="9.8" fill="#F8766D" fill-opacity="0.5"/>
<circle cx="126.0" cy="1701.6" r="9.8" fill="#00BFC4" fill-opacity="0.5"/>
<circle cx="196.6" cy="1659.4" r="9.8" fill="#00BFC4" fill-opacity="0.5"/>
<circle cx="133.8" cy="1688.6" r="9.8" fill="#00BFC4" fill-opacity="0.5"/>
<circle cx="145.4" cy="1649.7" r="9.8" fill="#00BFC4" fill-opacity="0.5"/>
<circle cx="140.2" cy="1657.5" r="9.8" fill="#00BFC4" fill-opacity="0.5"/>
<circle cx="142.8" cy="1673.0" r="9.8" fill="#00BFC4" fill-opacity="0.5"/>
<circle cx="129.9" cy="1683.4" r="9.8" fill="#00BFC4" fill-opacity="0.5"/>
<circle cx="128.8" cy="1686.5" r="9.8" fill="#00BFC4" fill-opacity="0.5"/>
<circle cx="136.4" cy="1665.3" r="9.8" fill="#00BFC4" fill-opacity="0.5"/>
<circle cx="170.1" cy="1689.2" r="9.8" fill="#00BFC4" fill-opacity="0.5"/>
<circle cx="140.2" cy="1699.0" r="9.8" fill="#00BFC4" fill-opacity="0.5"/>
<circle cx="151.9" cy="1710.6" r="9.8" fill="#00BFC4" fill-opacity="0.5"/>
<circle cx="150.6" cy="1654.9" r="9.8" fill="#00BFC4" fill-opacity="0.5"/>
</g>
<g clip-path="url(#c61)">
<rect x="362.9" y="1571.1" width="248.0" height="224.7" fill="#EBEBEB"/>
<line x1="362.9" x2="610.9" y1="1786.9" y2="1786.9" stroke="#fff" stroke-width="2.2"/>
<line x1="362.9" x2="610.9" y1="1726.5" y2="1726.5" stroke="#fff" stroke-width="2.2"/>
<line x1="362.9" x2="610.9" y1="1666.1" y2="1666.1" stroke="#fff" stroke-width="2.2"/>
<line x1="362.9" x2="610.9" y1="1605.7" y2="1605.7" stroke="#fff" stroke-width="2.2"/>
<line x1="413.0" x2="413.0" y1="1571.1" y2="1795.8" stroke="#fff" stroke-width="2.2"/>
<line x1="489.2" x2="489.2" y1="1571.1" y2="1795.8" stroke="#fff" stroke-width="2.2"/>
<line x1="565.4" x2="565.4" y1="1571.1" y2="1795.8" stroke="#fff" stroke-width="2.2"/>
<line x1="362.9" x2="610.9" y1="1756.7" y2="1756.7" stroke="#fff" stroke-width="4.4"/>
<line x1="362.9" x2="610.9" y1="1696.3" y2="1696.3" stroke="#fff" stroke-width="4.4"/>
<line x1="362.9" x2="610.9" y1="1635.9" y2="1635.9" stroke="#fff" stroke-width="4.4"/>
<line x1="362.9" x2="610.9" y1="1575.5" y2="1575.5" stroke="#fff" stroke-width="4.4"/>
<line x1="374.9" x2="374.9" y1="1571.1" y2="1795.8" stroke="#fff" stroke-width="4.4"/>
<line x1="451.1" x2="451.1" y1="1571.1" y2="1795.8" stroke="#fff" stroke-width="4.4"/>
<line x1="527.3" x2="527.3" y1="1571.1" y2="1795.8" stroke="#fff" stroke-width="4.4"/>
<line x1="603.5" x2="603.5" y1="1571.1" y2="1795.8" stroke="#fff" stroke-width="4.4"/>
<circle cx="427.4" cy="1674.3" r="9.8" fill="#00BFC4" fill-opacity="0.5"/>
<circle cx="530.5" cy="1673.0" r="9.8" fill="#00BFC4" fill-opacity="0.5"/>
<circle cx="584.9" cy="1684.7" r="9.8" fill="#00BFC4" fill-opacity="0.5"/>
<circle cx="555.1" cy="1660.1" r="9.8" fill="#F8766D" fill-opacity="0.5"/>
<circle cx="432.0" cy="1724.9" r="9.8" fill="#F8766D" fill-opacity="0.5"/>
<circle cx="520.1" cy="1648.4" r="9.8" fill="#F8766D" fill-opacity="0.5"/>
<circle cx="504.6" cy="1631.6" r="9.8" fill="#00BFC4" fill-opacity="0.5"/>
<circle cx="530.5" cy="1667.9" r="9.8" fill="#F8766D" fill-opacity="0.5"/>
<circle cx="477.3" cy="1667.9" r="9.8" fill="#00BFC4" fill-opacity="0.5"/>
<circle cx="576.5" cy="1730.1" r="9.8" fill="#00BFC4" fill-opacity="0.5"/>
<circle cx="540.8" cy="1714.5" r="9.8" fill="#00BFC4" fill-opacity="0.5"/>
<circle cx="460.5" cy="1697.7" r="9.8" fill="#00BFC4" fill-opacity="0.5"/>
<circle cx="579.9" cy="1677.0" r="9.8" fill="#00BFC4" fill-opacity="0.5"/>
<circle cx="524.1" cy="1681.3" r="9.8" fill="#00BFC4" fill-opacity="0.5"/>
<circle cx="582.3" cy="1657.5" r="9.8" fill="#00BFC4" fill-opacity="0.5"/>
<circle cx="564.2" cy="1699.0" r="9.8" fill="#00BFC4" fill-opacity="0.5"/>
<circle cx="570.6" cy="1688.3" r="9.8" fill="#00BFC4" fill-opacity="0.5"/>
<circle cx="508.4" cy="1726.2" r="9.8" fill="#00BFC4" fill-opacity="0.5"/>
<circle cx="496.8" cy="1680.8" r="9.8" fill="#00BFC4" fill-opacity="0.5"/>
<circle cx="492.9" cy="1658.8" r="9.8" fill="#F8766D" fill-opacity="0.5"/>
<circle cx="456.6" cy="1733.3" r="9.8" fill="#F8766D" fill-opacity="0.5"/>
<circle cx="552.5" cy="1682.1" r="9.8" fill="#00BFC4" fill-opacity="0.5"/>
<circle cx="558.3" cy="1629.0" r="9.8" fill="#00BFC4" fill-opacity="0.5"/>
<circle cx="584.9" cy="1688.6" r="9.8" fill="#00BFC4" fill-opacity="0.5"/>
<circle cx="523.1" cy="1673.7" r="9.8" fill="#00BFC4" fill-opacity="0.5"/>
<circle cx="501.3" cy="1784.5" r="9.8" fill="#F8766D" fill-opacity="0.5"/>
<circle cx="559.0" cy="1718.4" r="9.8" fill="#00BFC4" fill-opacity="0.5"/>
<circle cx="588.8" cy="1696.4" r="9.8" fill="#00BFC4" fill-opacity="0.5"/>
<circle cx="524.0" cy="1634.2" r="9.8" fill="#F8766D" fill-opacity="0.5"/>
<circle cx="478.6" cy="1727.5" r="9.8" fill="#00BFC4" fill-opacity="0.5"/>
<circle cx="522.7" cy="1623.8" r="9.8" fill="#00BFC4" fill-opacity="0.5"/>
<circle cx="599.2" cy="1671.8" r="9.8" fill="#00BFC4" fill-opacity="0.5"/>
<circle cx="442.4" cy="1687.3" r="9.8" fill="#F8766D" fill-opacity="0.5"/>
<circle cx="499.4" cy="1673.0" r="9.8" fill="#F8766D" fill-opacity="0.5"/>
<circle cx="522.7" cy="1691.2" r="9.8" fill="#F8766D" fill-opacity="0.5"/>
<circle cx="572.0" cy="1667.9" r="9.8" fill="#00BFC4" fill-opacity="0.5"/>
<circle cx="533.9" cy="1677.6" r="9.8" fill="#00BFC4" fill-opacity="0.5"/>
<circle cx="498.1" cy="1630.3" r="9.8" fill="#00BFC4" fill-opacity="0.5"/>
<circle cx="564.2" cy="1666.6" r="9.8" fill="#00BFC4" fill-opacity="0.5"/>
<circle cx="582.3" cy="1693.8" r="9.8" fill="#00BFC4" fill-opacity="0.5"/>
<circle cx="483.8" cy="1709.3" r="9.8" fill="#00BFC4" fill-opacity="0.5"/>
<circle cx="520.1" cy="1669.2" r="9.8" fill="#00BFC4" fill-opacity="0.5"/>
<circle cx="569.4" cy="1643.2" r="9.8" fill="#00BFC4" fill-opacity="0.5"/>
<circle cx="531.0" cy="1687.8" r="9.8" fill="#00BFC4" fill-opacity="0.5"/>
<circle cx="374.3" cy="1661.4" r="9.8" fill="#00BFC4" fill-opacity="0.5"/>
<circle cx="517.5" cy="1687.3" r="9.8" fill="#F8766D" fill-opacity="0.5"/>
<circle cx="504.6" cy="1683.4" r="9.8" fill="#F8766D" fill-opacity="0.5"/>
<circle cx="537.0" cy="1592.0" r="9.8" fill="#F8766D" fill-opacity="0.5"/>
<circle cx="551.2" cy="1652.3" r="9.8" fill="#F8766D" fill-opacity="0.5"/>
<circle cx="562.9" cy="1649.7" r="9.8" fill="#00BFC4" fill-opacity="0.5"/>
<circle cx="575.1" cy="1678.1" r="9.8" fill="#00BFC4" fill-opacity="0.5"/>
<circle cx="435.9" cy="1696.4" r="9.8" fill="#F8766D" fill-opacity="0.5"/>
<circle cx="451.4" cy="1686.0" r="9.8" fill="#00BFC4" fill-opacity="0.5"/>
<circle cx="568.1" cy="1679.5" r="9.8" fill="#00BFC4" fill-opacity="0.5"/>
<circle cx="540.8" cy="1691.2" r="9.8" fill="#00BFC4" fill-opacity="0.5"/>
<circle cx="517.8" cy="1691.7" r="9.8" fill="#00BFC4" fill-opacity="0.5"/>
<circle cx="505.9" cy="1661.4" r="9.8" fill="#00BFC4" fill-opacity="0.5"/>
<circle cx="560.3" cy="1732.7" r="9.8" fill="#F8766D" fill-opacity="0.5"/>
<circle cx="532.4" cy="1615.4" r="9.8" fill="#00BFC4" fill-opacity="0.5"/>
<circle cx="490.3" cy="1645.8" r="9.8" fill="#00BFC4" fill-opacity="0.5"/>
<circle cx="499.4" cy="1724.9" r="9.8" fill="#F8766D" fill-opacity="0.5"/>
<circle cx="569.4" cy="1706.7" r="9.8" fill="#00BFC4" fill-opacity="0.5"/>
<circle cx="599.2" cy="1658.8" r="9.8" fill="#00BFC4" fill-opacity="0.5"/>
<circle cx="504.6" cy="1689.9" r="9.8" fill="#00BFC4" fill-opacity="0.5"/>
<circle cx="499.4" cy="1657.5" r="9.8" fill="#00BFC4" fill-opacity="0.5"/>
<circle cx="511.0" cy="1612.8" r="9.8" fill="#F8766D" fill-opacity="0.5"/>
<circle cx="597.9" cy="1683.4" r="9.8" fill="#00BFC4" fill-opacity="0.5"/>
<circle cx="538.3" cy="1673.0" r="9.8" fill="#F8766D" fill-opacity="0.5"/>
<circle cx="530.5" cy="1652.3" r="9.8" fill="#F8766D" fill-opacity="0.5"/>
<circle cx="470.2" cy="1609.5" r="9.8" fill="#00BFC4" fill-opacity="0.5"/>
<circle cx="483.8" cy="1721.0" r="9.8" fill="#00BFC4" fill-opacity="0.5"/>
<circle cx="465.7" cy="1726.2" r="9.8" fill="#F8766D" fill-opacity="0.5"/>
<circle cx="594.0" cy="1697.7" r="9.8" fill="#00BFC4" fill-opacity="0.5"/>
<circle cx="474.8" cy="1695.1" r="9.8" fill="#00BFC4" fill-opacity="0.5"/>
<circle cx="546.0" cy="1640.6" r="9.8" fill="#00BFC4" fill-opacity="0.5"/>
<circle cx="482.5" cy="1696.4" r="9.8" fill="#00BFC4" fill-opacity="0.5"/>
<circle cx="500.0" cy="1658.1" r="9.8" fill="#00BFC4" fill-opacity="0.5"/>
<circle cx="529.2" cy="1700.3" r="9.8" fill="#00BFC4" fill-opacity="0.5"/>
<circle cx="514.9" cy="1666.6" r="9.8" fill="#00BFC4" fill-opacity="0.5"/>
<circle cx="441.1" cy="1679.5" r="9.8" fill="#F8766D" fill-opacity="0.5"/>
<circle cx="498.1" cy="1647.1" r="9.8" fill="#00BFC4" fill-opacity="0.5"/>
<circle cx="507.2" cy="1638.1" r="9.8" fill="#00BFC4" fill-opacity="0.5"/>
<circle cx="551.2" cy="1675.6" r="9.8" fill="#F8766D" fill-opacity="0.5"/>
<circle cx="504.6" cy="1701.6" r="9.8" fill="#F8766D" fill-opacity="0.5"/>
<circle cx="575.8" cy="1708.0" r="9.8" fill="#00BFC4" fill-opacity="0.5"/>
<circle cx="452.7" cy="1693.8" r="9.8" fill="#F8766D" fill-opacity="0.5"/>
<circle cx="478.6" cy="1683.4" r="9.8" fill="#F8766D" fill-opacity="0.5"/>
<circle cx="481.2" cy="1678.2" r="9.8" fill="#00BFC4" fill-opacity="0.5"/>
<circle cx="575.8" cy="1682.1" r="9.8" fill="#00BFC4" fill-opacity="0.5"/>
<circle cx="576.5" cy="1758.6" r="9.8" fill="#00BFC4" fill-opacity="0.5"/>
<circle cx="529.2" cy="1647.1" r="9.8" fill="#00BFC4" fill-opacity="0.5"/>
<circle cx="447.5" cy="1700.3" r="9.8" fill="#F8766D" fill-opacity="0.5"/>
<circle cx="590.1" cy="1665.3" r="9.8" fill="#00BFC4" fill-opacity="0.5"/>
<circle cx="434.6" cy="1706.7" r="9.8" fill="#F8766D" fill-opacity="0.5"/>
<circle cx="504.6" cy="1709.3" r="9.8" fill="#00BFC4" fill-opacity="0.5"/>
<circle cx="473.5" cy="1710.6" r="9.8" fill="#00BFC4" fill-opacity="0.5"/>
<circle cx="499.4" cy="1715.8" r="9.8" fill="#00BFC4" fill-opacity="0.5"/>
</g>
<g clip-path="url(#c62)">
<rect x="633.9" y="1571.1" width="248.0" height="224.7" fill="#EBEBEB"/>
<line x1="633.9" x2="881.9" y1="1786.9" y2="1786.9" stroke="#fff" stroke-width="2.2"/>
<line x1="633.9" x2="881.9" y1="1726.5" y2="1726.5" stroke="#fff" stroke-width="2.2"/>
<line x1="633.9" x2="881.9" y1="1666.1" y2="1666.1" stroke="#fff" stroke-width="2.2"/>
<line x1="633.9" x2="881.9" y1="1605.7" y2="1605.7" stroke="#fff" stroke-width="2.2"/>
<line x1="649.9" x2="649.9" y1="1571.1" y2="1795.8" stroke="#fff" stroke-width="2.2"/>
<line x1="698.9" x2="698.9" y1="1571.1" y2="1795.8" stroke="#fff" stroke-width="2.2"/>
<line x1="748.0" x2="748.0" y1="1571.1" y2="1795.8" stroke="#fff" stroke-width="2.2"/>
<line x1="797.1" x2="797.1" y1="1571.1" y2="1795.8" stroke="#fff" stroke-width="2.2"/>
<line x1="846.2" x2="846.2" y1="1571.1" y2="1795.8" stroke="#fff" stroke-width="2.2"/>
<line x1="633.9" x2="881.9" y1="1756.7" y2="1756.7" stroke="#fff" stroke-width="4.4"/>
<line x1="633.9" x2="881.9" y1="1696.3" y2="1696.3" stroke="#fff" stroke-width="4.4"/>
<line x1="633.9" x2="881.9" y1="1635.9" y2="1635.9" stroke="#fff" stroke-width="4.4"/>
<line x1="633.9" x2="881.9" y1="1575.5" y2="1575.5" stroke="#fff" stroke-width="4.4"/>
<line x1="674.4" x2="674.4" y1="1571.1" y2="1795.8" stroke="#fff" stroke-width="4.4"/>
<line x1="723.5" x2="723.5" y1="1571.1" y2="1795.8" stroke="#fff" stroke-width="4.4"/>
<line x1="772.5" x2="772.5" y1="1571.1" y2="1795.8" stroke="#fff" stroke-width="4.4"/>
<line x1="821.6" x2="821.6" y1="1571.1" y2="1795.8" stroke="#fff" stroke-width="4.4"/>
<line x1="870.7" x2="870.7" y1="1571.1" y2="1795.8" stroke="#fff" stroke-width="4.4"/>
<circle cx="723.7" cy="1641.9" r="9.8" fill="#00BFC4" fill-opacity="0.5"/>
<circle cx="870.8" cy="1733.3" r="9.8" fill="#F8766D" fill-opacity="0.5"/>
<circle cx="783.3" cy="1675.6" r="9.8" fill="#F8766D" fill-opacity="0.5"/>
<circle cx="747.0" cy="1649.7" r="9.8" fill="#F8766D" fill-opacity="0.5"/>
<circle cx="691.3" cy="1612.1" r="9.8" fill="#00BFC4" fill-opacity="0.5"/>
<circle cx="783.3" cy="1669.2" r="9.8" fill="#00BFC4" fill-opacity="0.5"/>
<circle cx="725.0" cy="1752.1" r="9.8" fill="#00BFC4" fill-opacity="0.5"/>
<circle cx="697.8" cy="1630.3" r="9.8" fill="#00BFC4" fill-opacity="0.5"/>
<circle cx="765.2" cy="1581.0" r="9.8" fill="#00BFC4" fill-opacity="0.5"/>
<circle cx="684.8" cy="1649.7" r="9.8" fill="#00BFC4" fill-opacity="0.5"/>
<circle cx="684.8" cy="1626.4" r="9.8" fill="#00BFC4" fill-opacity="0.5"/>
<circle cx="762.6" cy="1686.0" r="9.8" fill="#00BFC4" fill-opacity="0.5"/>
<circle cx="703.0" cy="1713.2" r="9.8" fill="#00BFC4" fill-opacity="0.5"/>
<circle cx="745.8" cy="1673.0" r="9.8" fill="#00BFC4" fill-opacity="0.5"/>
<circle cx="664.1" cy="1631.6" r="9.8" fill="#00BFC4" fill-opacity="0.5"/>
<circle cx="693.9" cy="1700.3" r="9.8" fill="#00BFC4" fill-opacity="0.5"/>
<circle cx="762.6" cy="1665.3" r="9.8" fill="#00BFC4" fill-opacity="0.5"/>
<circle cx="805.4" cy="1682.1" r="9.8" fill="#F8766D" fill-opacity="0.5"/>
<circle cx="820.3" cy="1726.2" r="9.8" fill="#F8766D" fill-opacity="0.5"/>
<circle cx="739.3" cy="1683.4" r="9.8" fill="#00BFC4" fill-opacity="0.5"/>
<circle cx="698.1" cy="1685.0" r="9.8" fill="#00BFC4" fill-opacity="0.5"/>
<circle cx="770.4" cy="1675.6" r="9.8" fill="#F8766D" fill-opacity="0.5"/>
<circle cx="794.4" cy="1732.0" r="9.8" fill="#F8766D" fill-opacity="0.5"/>
<circle cx="775.6" cy="1688.6" r="9.8" fill="#F8766D" fill-opacity="0.5"/>
<circle cx="715.9" cy="1688.6" r="9.8" fill="#00BFC4" fill-opacity="0.5"/>
<circle cx="710.8" cy="1673.0" r="9.8" fill="#00BFC4" fill-opacity="0.5"/>
<circle cx="722.4" cy="1647.1" r="9.8" fill="#F8766D" fill-opacity="0.5"/>
<circle cx="726.3" cy="1680.8" r="9.8" fill="#00BFC4" fill-opacity="0.5"/>
<circle cx="645.3" cy="1700.3" r="9.8" fill="#00BFC4" fill-opacity="0.5"/>
<circle cx="674.5" cy="1641.9" r="9.8" fill="#00BFC4" fill-opacity="0.5"/>
<circle cx="741.9" cy="1614.7" r="9.8" fill="#00BFC4" fill-opacity="0.5"/>
<circle cx="753.5" cy="1749.5" r="9.8" fill="#00BFC4" fill-opacity="0.5"/>
<circle cx="861.7" cy="1724.9" r="9.8" fill="#F8766D" fill-opacity="0.5"/>
<circle cx="704.3" cy="1654.9" r="9.8" fill="#F8766D" fill-opacity="0.5"/>
<circle cx="758.7" cy="1657.5" r="9.8" fill="#00BFC4" fill-opacity="0.5"/>
<circle cx="814.4" cy="1664.0" r="9.8" fill="#F8766D" fill-opacity="0.5"/>
<circle cx="744.5" cy="1630.3" r="9.8" fill="#00BFC4" fill-opacity="0.5"/>
<circle cx="710.8" cy="1696.4" r="9.8" fill="#00BFC4" fill-opacity="0.5"/>
<circle cx="784.6" cy="1726.2" r="9.8" fill="#00BFC4" fill-opacity="0.5"/>
<circle cx="704.3" cy="1657.5" r="9.8" fill="#00BFC4" fill-opacity="0.5"/>
<circle cx="731.5" cy="1623.8" r="9.8" fill="#00BFC4" fill-opacity="0.5"/>
<circle cx="710.8" cy="1709.3" r="9.8" fill="#00BFC4" fill-opacity="0.5"/>
<circle cx="773.0" cy="1724.9" r="9.8" fill="#F8766D" fill-opacity="0.5"/>
<circle cx="674.5" cy="1684.7" r="9.8" fill="#00BFC4" fill-opacity="0.5"/>
<circle cx="732.8" cy="1758.6" r="9.8" fill="#00BFC4" fill-opacity="0.5"/>
<circle cx="678.4" cy="1673.0" r="9.8" fill="#00BFC4" fill-opacity="0.5"/>
<circle cx="749.6" cy="1710.6" r="9.8" fill="#00BFC4" fill-opacity="0.5"/>
<circle cx="701.7" cy="1691.2" r="9.8" fill="#00BFC4" fill-opacity="0.5"/>
<circle cx="771.7" cy="1652.3" r="9.8" fill="#F8766D" fill-opacity="0.5"/>
<circle cx="767.1" cy="1634.8" r="9.8" fill="#F8766D" fill-opacity="0.5"/>
<circle cx="792.4" cy="1695.1" r="9.8" fill="#00BFC4" fill-opacity="0.5"/>
<circle cx="734.1" cy="1635.5" r="9.8" fill="#00BFC4" fill-opacity="0.5"/>
<circle cx="705.8" cy="1662.5" r="9.8" fill="#00BFC4" fill-opacity="0.5"/>
<circle cx="713.4" cy="1660.1" r="9.8" fill="#00BFC4" fill-opacity="0.5"/>
<circle cx="745.8" cy="1660.1" r="9.8" fill="#F8766D" fill-opacity="0.5"/>
<circle cx="723.7" cy="1710.6" r="9.8" fill="#00BFC4" fill-opacity="0.5"/>
<circle cx="712.1" cy="1722.3" r="9.8" fill="#00BFC4" fill-opacity="0.5"/>
<circle cx="747.0" cy="1696.4" r="9.8" fill="#00BFC4" fill-opacity="0.5"/>
<circle cx="735.5" cy="1677.5" r="9.8" fill="#00BFC4" fill-opacity="0.5"/>
<circle cx="775.6" cy="1592.7" r="9.8" fill="#F8766D" fill-opacity="0.5"/>
<circle cx="731.3" cy="1682.3" r="9.8" fill="#00BFC4" fill-opacity="0.5"/>
<circle cx="707.4" cy="1674.1" r="9.8" fill="#00BFC4" fill-opacity="0.5"/>
<circle cx="736.7" cy="1692.5" r="9.8" fill="#00BFC4" fill-opacity="0.5"/>
<circle cx="785.9" cy="1686.0" r="9.8" fill="#00BFC4" fill-opacity="0.5"/>
<circle cx="769.1" cy="1670.5" r="9.8" fill="#00BFC4" fill-opacity="0.5"/>
<circle cx="753.5" cy="1682.1" r="9.8" fill="#00BFC4" fill-opacity="0.5"/>
<circle cx="705.6" cy="1680.8" r="9.8" fill="#00BFC4" fill-opacity="0.5"/>
<circle cx="863.0" cy="1706.1" r="9.8" fill="#F8766D" fill-opacity="0.5"/>
<circle cx="669.9" cy="1694.4" r="9.8" fill="#00BFC4" fill-opacity="0.5"/>
<circle cx="711.4" cy="1612.8" r="9.8" fill="#F8766D" fill-opacity="0.5"/>
<circle cx="725.0" cy="1721.0" r="9.8" fill="#00BFC4" fill-opacity="0.5"/>
<circle cx="721.1" cy="1670.5" r="9.8" fill="#00BFC4" fill-opacity="0.5"/>
<circle cx="800.2" cy="1688.6" r="9.8" fill="#F8766D" fill-opacity="0.5"/>
<circle cx="734.1" cy="1670.5" r="9.8" fill="#00BFC4" fill-opacity="0.5"/>
<circle cx="715.9" cy="1623.8" r="9.8" fill="#00BFC4" fill-opacity="0.5"/>
<circle cx="708.0" cy="1670.1" r="9.8" fill="#00BFC4" fill-opacity="0.5"/>
<circle cx="762.6" cy="1721.0" r="9.8" fill="#00BFC4" fill-opacity="0.5"/>
<circle cx="701.7" cy="1673.5" r="9.8" fill="#00BFC4" fill-opacity="0.5"/>
<circle cx="715.9" cy="1682.1" r="9.8" fill="#00BFC4" fill-opacity="0.5"/>
<circle cx="712.0" cy="1669.7" r="9.8" fill="#00BFC4" fill-opacity="0.5"/>
<circle cx="830.0" cy="1785.8" r="9.8" fill="#F8766D" fill-opacity="0.5"/>
<circle cx="699.1" cy="1730.7" r="9.8" fill="#00BFC4" fill-opacity="0.5"/>
<circle cx="757.4" cy="1700.3" r="9.8" fill="#00BFC4" fill-opacity="0.5"/>
<circle cx="773.0" cy="1699.0" r="9.8" fill="#F8766D" fill-opacity="0.5"/>
<circle cx="804.1" cy="1696.4" r="9.8" fill="#F8766D" fill-opacity="0.5"/>
<circle cx="669.3" cy="1657.5" r="9.8" fill="#00BFC4" fill-opacity="0.5"/>
<circle cx="690.0" cy="1660.1" r="9.8" fill="#00BFC4" fill-opacity="0.5"/>
<circle cx="714.9" cy="1675.7" r="9.8" fill="#00BFC4" fill-opacity="0.5"/>
<circle cx="793.7" cy="1662.7" r="9.8" fill="#F8766D" fill-opacity="0.5"/>
<circle cx="700.4" cy="1670.5" r="9.8" fill="#00BFC4" fill-opacity="0.5"/>
<circle cx="775.6" cy="1701.6" r="9.8" fill="#00BFC4" fill-opacity="0.5"/>
<circle cx="787.2" cy="1693.8" r="9.8" fill="#F8766D" fill-opacity="0.5"/>
<circle cx="645.3" cy="1665.9" r="9.8" fill="#00BFC4" fill-opacity="0.5"/>
<circle cx="658.9" cy="1640.6" r="9.8" fill="#00BFC4" fill-opacity="0.5"/>
<circle cx="760.0" cy="1713.2" r="9.8" fill="#00BFC4" fill-opacity="0.5"/>
<circle cx="751.6" cy="1726.8" r="9.8" fill="#00BFC4" fill-opacity="0.5"/>
<circle cx="847.5" cy="1680.8" r="9.8" fill="#F8766D" fill-opacity="0.5"/>
<circle cx="744.5" cy="1618.6" r="9.8" fill="#00BFC4" fill-opacity="0.5"/>
<circle cx="697.8" cy="1641.9" r="9.8" fill="#00BFC4" fill-opacity="0.5"/>
<circle cx="706.9" cy="1665.6" r="9.8" fill="#00BFC4" fill-opacity="0.5"/>
<circle cx="723.7" cy="1656.2" r="9.8" fill="#00BFC4" fill-opacity="0.5"/>
<circle cx="811.8" cy="1675.6" r="9.8" fill="#F8766D" fill-opacity="0.5"/>
<circle cx="674.5" cy="1614.7" r="9.8" fill="#00BFC4" fill-opacity="0.5"/>
<circle cx="678.4" cy="1649.7" r="9.8" fill="#00BFC4" fill-opacity="0.5"/>
<circle cx="705.6" cy="1641.9" r="9.8" fill="#00BFC4" fill-opacity="0.5"/>
<circle cx="658.9" cy="1609.5" r="9.8" fill="#00BFC4" fill-opacity="0.5"/>
<circle cx="708.2" cy="1666.6" r="9.8" fill="#00BFC4" fill-opacity="0.5"/>
</g>
<g clip-path="url(#c63)">
<rect x="905.0" y="1571.1" width="248.0" height="224.7" fill="#EBEBEB"/>
<line x1="905.0" x2="1153.0" y1="1786.9" y2="1786.9" stroke="#fff" stroke-width="2.2"/>
<line x1="905.0" x2="1153.0" y1="1726.5" y2="1726.5" stroke="#fff" stroke-width="2.2"/>
<line x1="905.0" x2="1153.0" y1="1666.1" y2="1666.1" stroke="#fff" stroke-width="2.2"/>
<line x1="905.0" x2="1153.0" y1="1605.7" y2="1605.7" stroke="#fff" stroke-width="2.2"/>
<line x1="910.4" x2="910.4" y1="1571.1" y2="1795.8" stroke="#fff" stroke-width="2.2"/>
<line x1="961.0" x2="961.0" y1="1571.1" y2="1795.8" stroke="#fff" stroke-width="2.2"/>
<line x1="1011.6" x2="1011.6" y1="1571.1" y2="1795.8" stroke="#fff" stroke-width="2.2"/>
<line x1="1062.3" x2="1062.3" y1="1571.1" y2="1795.8" stroke="#fff" stroke-width="2.2"/>
<line x1="1112.9" x2="1112.9" y1="1571.1" y2="1795.8" stroke="#fff" stroke-width="2.2"/>
<line x1="905.0" x2="1153.0" y1="1756.7" y2="1756.7" stroke="#fff" stroke-width="4.4"/>
<line x1="905.0" x2="1153.0" y1="1696.3" y2="1696.3" stroke="#fff" stroke-width="4.4"/>
<line x1="905.0" x2="1153.0" y1="1635.9" y2="1635.9" stroke="#fff" stroke-width="4.4"/>
<line x1="905.0" x2="1153.0" y1="1575.5" y2="1575.5" stroke="#fff" stroke-width="4.4"/>
<line x1="935.7" x2="935.7" y1="1571.1" y2="1795.8" stroke="#fff" stroke-width="4.4"/>
<line x1="986.3" x2="986.3" y1="1571.1" y2="1795.8" stroke="#fff" stroke-width="4.4"/>
<line x1="1036.9" x2="1036.9" y1="1571.1" y2="1795.8" stroke="#fff" stroke-width="4.4"/>
<line x1="1087.6" x2="1087.6" y1="1571.1" y2="1795.8" stroke="#fff" stroke-width="4.4"/>
<line x1="1138.2" x2="1138.2" y1="1571.1" y2="1795.8" stroke="#fff" stroke-width="4.4"/>
<circle cx="1106.2" cy="1649.7" r="9.8" fill="#00BFC4" fill-opacity="0.5"/>
<circle cx="954.5" cy="1719.7" r="9.8" fill="#00BFC4" fill-opacity="0.5"/>
<circle cx="1111.4" cy="1657.5" r="9.8" fill="#00BFC4" fill-opacity="0.5"/>
<circle cx="1085.4" cy="1689.9" r="9.8" fill="#00BFC4" fill-opacity="0.5"/>
<circle cx="964.9" cy="1683.4" r="9.8" fill="#00BFC4" fill-opacity="0.5"/>
<circle cx="1066.0" cy="1643.2" r="9.8" fill="#00BFC4" fill-opacity="0.5"/>
<circle cx="1126.9" cy="1675.6" r="9.8" fill="#F8766D" fill-opacity="0.5"/>
<circle cx="984.4" cy="1693.8" r="9.8" fill="#00BFC4" fill-opacity="0.5"/>
<circle cx="1063.4" cy="1688.6" r="9.8" fill="#F8766D" fill-opacity="0.5"/>
<circle cx="1080.3" cy="1649.7" r="9.8" fill="#F8766D" fill-opacity="0.5"/>
<circle cx="916.3" cy="1758.6" r="9.8" fill="#00BFC4" fill-opacity="0.5"/>
<circle cx="1028.4" cy="1678.2" r="9.8" fill="#00BFC4" fill-opacity="0.5"/>
<circle cx="1003.8" cy="1639.4" r="9.8" fill="#00BFC4" fill-opacity="0.5"/>
<circle cx="1117.8" cy="1667.9" r="9.8" fill="#00BFC4" fill-opacity="0.5"/>
<circle cx="1016.8" cy="1724.9" r="9.8" fill="#F8766D" fill-opacity="0.5"/>
<circle cx="1019.1" cy="1676.1" r="9.8" fill="#00BFC4" fill-opacity="0.5"/>
<circle cx="1010.3" cy="1680.8" r="9.8" fill="#00BFC4" fill-opacity="0.5"/>
<circle cx="1124.3" cy="1688.6" r="9.8" fill="#F8766D" fill-opacity="0.5"/>
<circle cx="1055.6" cy="1733.3" r="9.8" fill="#F8766D" fill-opacity="0.5"/>
<circle cx="1066.0" cy="1656.2" r="9.8" fill="#F8766D" fill-opacity="0.5"/>
<circle cx="1046.6" cy="1649.7" r="9.8" fill="#00BFC4" fill-opacity="0.5"/>
<circle cx="1072.5" cy="1701.6" r="9.8" fill="#F8766D" fill-opacity="0.5"/>
<circle cx="1100.8" cy="1681.6" r="9.8" fill="#00BFC4" fill-opacity="0.5"/>
<circle cx="932.5" cy="1732.0" r="9.8" fill="#F8766D" fill-opacity="0.5"/>
<circle cx="1101.0" cy="1669.1" r="9.8" fill="#00BFC4" fill-opacity="0.5"/>
<circle cx="949.4" cy="1708.0" r="9.8" fill="#00BFC4" fill-opacity="0.5"/>
<circle cx="1117.8" cy="1697.7" r="9.8" fill="#00BFC4" fill-opacity="0.5"/>
<circle cx="1007.7" cy="1592.7" r="9.8" fill="#F8766D" fill-opacity="0.5"/>
<circle cx="1088.0" cy="1710.6" r="9.8" fill="#00BFC4" fill-opacity="0.5"/>
<circle cx="1106.2" cy="1643.2" r="9.8" fill="#00BFC4" fill-opacity="0.5"/>
<circle cx="1072.5" cy="1688.6" r="9.8" fill="#F8766D" fill-opacity="0.5"/>
<circle cx="1005.1" cy="1626.4" r="9.8" fill="#00BFC4" fill-opacity="0.5"/>
<circle cx="1098.4" cy="1657.5" r="9.8" fill="#F8766D" fill-opacity="0.5"/>
<circle cx="1088.0" cy="1693.8" r="9.8" fill="#F8766D" fill-opacity="0.5"/>
<circle cx="1089.3" cy="1673.0" r="9.8" fill="#00BFC4" fill-opacity="0.5"/>
<circle cx="1005.6" cy="1681.1" r="9.8" fill="#00BFC4" fill-opacity="0.5"/>
<circle cx="988.2" cy="1701.6" r="9.8" fill="#00BFC4" fill-opacity="0.5"/>
<circle cx="1141.8" cy="1636.8" r="9.8" fill="#00BFC4" fill-opacity="0.5"/>
<circle cx="953.2" cy="1693.8" r="9.8" fill="#00BFC4" fill-opacity="0.5"/>
<circle cx="1093.2" cy="1649.7" r="9.8" fill="#F8766D" fill-opacity="0.5"/>
<circle cx="1028.4" cy="1691.2" r="9.8" fill="#00BFC4" fill-opacity="0.5"/>
<circle cx="1098.4" cy="1670.5" r="9.8" fill="#00BFC4" fill-opacity="0.5"/>
<circle cx="1090.2" cy="1663.8" r="9.8" fill="#00BFC4" fill-opacity="0.5"/>
<circle cx="1023.2" cy="1647.1" r="9.8" fill="#00BFC4" fill-opacity="0.5"/>
<circle cx="1069.9" cy="1689.9" r="9.8" fill="#00BFC4" fill-opacity="0.5"/>
<circle cx="1031.0" cy="1700.3" r="9.8" fill="#00BFC4" fill-opacity="0.5"/>
<circle cx="1028.4" cy="1648.4" r="9.8" fill="#00BFC4" fill-opacity="0.5"/>
<circle cx="1067.3" cy="1671.8" r="9.8" fill="#F8766D" fill-opacity="0.5"/>
<circle cx="1059.5" cy="1658.8" r="9.8" fill="#00BFC4" fill-opacity="0.5"/>
<circle cx="989.5" cy="1689.9" r="9.8" fill="#00BFC4" fill-opacity="0.5"/>
<circle cx="1003.8" cy="1688.6" r="9.8" fill="#00BFC4" fill-opacity="0.5"/>
<circle cx="1132.1" cy="1674.3" r="9.8" fill="#00BFC4" fill-opacity="0.5"/>
<circle cx="1098.4" cy="1701.6" r="9.8" fill="#00BFC4" fill-opacity="0.5"/>
<circle cx="1045.3" cy="1726.2" r="9.8" fill="#F8766D" fill-opacity="0.5"/>
<circle cx="1106.2" cy="1634.2" r="9.8" fill="#F8766D" fill-opacity="0.5"/>
<circle cx="1005.1" cy="1726.2" r="9.8" fill="#00BFC4" fill-opacity="0.5"/>
<circle cx="955.8" cy="1704.2" r="9.8" fill="#00BFC4" fill-opacity="0.5"/>
<circle cx="936.4" cy="1730.1" r="9.8" fill="#00BFC4" fill-opacity="0.5"/>
<circle cx="1069.1" cy="1668.4" r="9.8" fill="#00BFC4" fill-opacity="0.5"/>
<circle cx="1111.4" cy="1673.0" r="9.8" fill="#00BFC4" fill-opacity="0.5"/>
<circle cx="1033.6" cy="1658.8" r="9.8" fill="#00BFC4" fill-opacity="0.5"/>
<circle cx="1024.5" cy="1713.2" r="9.8" fill="#00BFC4" fill-opacity="0.5"/>
<circle cx="1072.5" cy="1657.5" r="9.8" fill="#00BFC4" fill-opacity="0.5"/>
<circle cx="1032.9" cy="1674.3" r="9.8" fill="#00BFC4" fill-opacity="0.5"/>
<circle cx="1116.5" cy="1639.4" r="9.8" fill="#00BFC4" fill-opacity="0.5"/>
<circle cx="1015.5" cy="1688.6" r="9.8" fill="#00BFC4" fill-opacity="0.5"/>
<circle cx="1018.0" cy="1671.8" r="9.8" fill="#00BFC4" fill-opacity="0.5"/>
<circle cx="1077.7" cy="1675.6" r="9.8" fill="#F8766D" fill-opacity="0.5"/>
<circle cx="1090.6" cy="1645.8" r="9.8" fill="#00BFC4" fill-opacity="0.5"/>
<circle cx="1141.2" cy="1706.1" r="9.8" fill="#F8766D" fill-opacity="0.5"/>
<circle cx="994.7" cy="1612.8" r="9.8" fill="#F8766D" fill-opacity="0.5"/>
<circle cx="1033.6" cy="1710.6" r="9.8" fill="#00BFC4" fill-opacity="0.5"/>
<circle cx="1093.2" cy="1629.0" r="9.8" fill="#00BFC4" fill-opacity="0.5"/>
<circle cx="994.7" cy="1683.4" r="9.8" fill="#00BFC4" fill-opacity="0.5"/>
<circle cx="992.1" cy="1631.6" r="9.8" fill="#00BFC4" fill-opacity="0.5"/>
<circle cx="1049.2" cy="1700.3" r="9.8" fill="#F8766D" fill-opacity="0.5"/>
<circle cx="1015.5" cy="1665.3" r="9.8" fill="#00BFC4" fill-opacity="0.5"/>
<circle cx="1104.2" cy="1724.9" r="9.8" fill="#F8766D" fill-opacity="0.5"/>
<circle cx="1111.4" cy="1682.1" r="9.8" fill="#F8766D" fill-opacity="0.5"/>
<circle cx="1016.8" cy="1629.0" r="9.8" fill="#00BFC4" fill-opacity="0.5"/>
<circle cx="1053.0" cy="1662.7" r="9.8" fill="#00BFC4" fill-opacity="0.5"/>
<circle cx="1005.1" cy="1678.2" r="9.8" fill="#F8766D" fill-opacity="0.5"/>
<circle cx="924.1" cy="1785.8" r="9.8" fill="#F8766D" fill-opacity="0.5"/>
<circle cx="1046.6" cy="1657.5" r="9.8" fill="#00BFC4" fill-opacity="0.5"/>
<circle cx="1051.7" cy="1665.3" r="9.8" fill="#00BFC4" fill-opacity="0.5"/>
<circle cx="1098.4" cy="1710.6" r="9.8" fill="#00BFC4" fill-opacity="0.5"/>
<circle cx="1023.2" cy="1609.5" r="9.8" fill="#00BFC4" fill-opacity="0.5"/>
<circle cx="964.9" cy="1696.4" r="9.8" fill="#00BFC4" fill-opacity="0.5"/>
<circle cx="1049.2" cy="1673.0" r="9.8" fill="#F8766D" fill-opacity="0.5"/>
<circle cx="1068.6" cy="1616.0" r="9.8" fill="#00BFC4" fill-opacity="0.5"/>
<circle cx="1049.2" cy="1719.7" r="9.8" fill="#00BFC4" fill-opacity="0.5"/>
<circle cx="1117.8" cy="1647.1" r="9.8" fill="#F8766D" fill-opacity="0.5"/>
<circle cx="1092.8" cy="1674.5" r="9.8" fill="#00BFC4" fill-opacity="0.5"/>
<circle cx="1019.3" cy="1626.4" r="9.8" fill="#00BFC4" fill-opacity="0.5"/>
<circle cx="994.7" cy="1714.5" r="9.8" fill="#00BFC4" fill-opacity="0.5"/>
</g>
<g clip-path="url(#c64)">
<rect x="1176.0" y="1571.1" width="248.0" height="224.7" fill="#EBEBEB"/>
<line x1="1176.0" x2="1424.0" y1="1786.9" y2="1786.9" stroke="#fff" stroke-width="2.2"/>
<line x1="1176.0" x2="1424.0" y1="1726.5" y2="1726.5" stroke="#fff" stroke-width="2.2"/>
<line x1="1176.0" x2="1424.0" y1="1666.1" y2="1666.1" stroke="#fff" stroke-width="2.2"/>
<line x1="1176.0" x2="1424.0" y1="1605.7" y2="1605.7" stroke="#fff" stroke-width="2.2"/>
<line x1="1241.3" x2="1241.3" y1="1571.1" y2="1795.8" stroke="#fff" stroke-width="2.2"/>
<line x1="1309.8" x2="1309.8" y1="1571.1" y2="1795.8" stroke="#fff" stroke-width="2.2"/>
<line x1="1378.3" x2="1378.3" y1="1571.1" y2="1795.8" stroke="#fff" stroke-width="2.2"/>
<line x1="1176.0" x2="1424.0" y1="1756.7" y2="1756.7" stroke="#fff" stroke-width="4.4"/>
<line x1="1176.0" x2="1424.0" y1="1696.3" y2="1696.3" stroke="#fff" stroke-width="4.4"/>
<line x1="1176.0" x2="1424.0" y1="1635.9" y2="1635.9" stroke="#fff" stroke-width="4.4"/>
<line x1="1176.0" x2="1424.0" y1="1575.5" y2="1575.5" stroke="#fff" stroke-width="4.4"/>
<line x1="1207.0" x2="1207.0" y1="1571.1" y2="1795.8" stroke="#fff" stroke-width="4.4"/>
<line x1="1275.5" x2="1275.5" y1="1571.1" y2="1795.8" stroke="#fff" stroke-width="4.4"/>
<line x1="1344.1" x2="1344.1" y1="1571.1" y2="1795.8" stroke="#fff" stroke-width="4.4"/>
<line x1="1412.6" x2="1412.6" y1="1571.1" y2="1795.8" stroke="#fff" stroke-width="4.4"/>
<circle cx="1310.8" cy="1630.3" r="9.8" fill="#00BFC4" fill-opacity="0.5"/>
<circle cx="1344.5" cy="1658.8" r="9.8" fill="#00BFC4" fill-opacity="0.5"/>
<circle cx="1266.7" cy="1641.9" r="9.8" fill="#00BFC4" fill-opacity="0.5"/>
<circle cx="1326.3" cy="1688.6" r="9.8" fill="#00BFC4" fill-opacity="0.5"/>
<circle cx="1261.5" cy="1617.3" r="9.8" fill="#00BFC4" fill-opacity="0.5"/>
<circle cx="1187.0" cy="1672.4" r="9.8" fill="#F8766D" fill-opacity="0.5"/>
<circle cx="1355.5" cy="1730.1" r="9.8" fill="#00BFC4" fill-opacity="0.5"/>
<circle cx="1313.4" cy="1656.2" r="9.8" fill="#00BFC4" fill-opacity="0.5"/>
<circle cx="1326.3" cy="1625.1" r="9.8" fill="#00BFC4" fill-opacity="0.5"/>
<circle cx="1325.3" cy="1670.1" r="9.8" fill="#00BFC4" fill-opacity="0.5"/>
<circle cx="1338.0" cy="1708.0" r="9.8" fill="#F8766D" fill-opacity="0.5"/>
<circle cx="1275.2" cy="1674.0" r="9.8" fill="#00BFC4" fill-opacity="0.5"/>
<circle cx="1271.9" cy="1670.5" r="9.8" fill="#00BFC4" fill-opacity="0.5"/>
<circle cx="1243.4" cy="1647.1" r="9.8" fill="#00BFC4" fill-opacity="0.5"/>
<circle cx="1343.2" cy="1675.6" r="9.8" fill="#F8766D" fill-opacity="0.5"/>
<circle cx="1292.1" cy="1648.1" r="9.8" fill="#00BFC4" fill-opacity="0.5"/>
<circle cx="1224.0" cy="1614.7" r="9.8" fill="#00BFC4" fill-opacity="0.5"/>
<circle cx="1258.9" cy="1657.5" r="9.8" fill="#F8766D" fill-opacity="0.5"/>
<circle cx="1299.1" cy="1692.5" r="9.8" fill="#F8766D" fill-opacity="0.5"/>
<circle cx="1235.6" cy="1612.8" r="9.8" fill="#F8766D" fill-opacity="0.5"/>
<circle cx="1198.7" cy="1700.3" r="9.8" fill="#F8766D" fill-opacity="0.5"/>
<circle cx="1248.6" cy="1625.1" r="9.8" fill="#00BFC4" fill-opacity="0.5"/>
<circle cx="1288.8" cy="1662.7" r="9.8" fill="#F8766D" fill-opacity="0.5"/>
<circle cx="1242.1" cy="1692.5" r="9.8" fill="#00BFC4" fill-opacity="0.5"/>
<circle cx="1274.5" cy="1626.4" r="9.8" fill="#00BFC4" fill-opacity="0.5"/>
<circle cx="1325.0" cy="1638.1" r="9.8" fill="#00BFC4" fill-opacity="0.5"/>
<circle cx="1226.5" cy="1692.5" r="9.8" fill="#00BFC4" fill-opacity="0.5"/>
<circle cx="1258.2" cy="1658.0" r="9.8" fill="#F8766D" fill-opacity="0.5"/>
<circle cx="1282.3" cy="1732.7" r="9.8" fill="#F8766D" fill-opacity="0.5"/>
<circle cx="1365.9" cy="1749.5" r="9.8" fill="#00BFC4" fill-opacity="0.5"/>
<circle cx="1353.6" cy="1686.0" r="9.8" fill="#F8766D" fill-opacity="0.5"/>
<circle cx="1328.9" cy="1675.6" r="9.8" fill="#00BFC4" fill-opacity="0.5"/>
<circle cx="1313.3" cy="1673.4" r="9.8" fill="#00BFC4" fill-opacity="0.5"/>
<circle cx="1295.2" cy="1708.0" r="9.8" fill="#00BFC4" fill-opacity="0.5"/>
<circle cx="1367.8" cy="1667.9" r="9.8" fill="#00BFC4" fill-opacity="0.5"/>
<circle cx="1251.2" cy="1658.8" r="9.8" fill="#F8766D" fill-opacity="0.5"/>
<circle cx="1331.5" cy="1693.8" r="9.8" fill="#00BFC4" fill-opacity="0.5"/>
<circle cx="1338.0" cy="1724.9" r="9.8" fill="#F8766D" fill-opacity="0.5"/>
<circle cx="1313.4" cy="1696.4" r="9.8" fill="#00BFC4" fill-opacity="0.5"/>
<circle cx="1354.8" cy="1710.6" r="9.8" fill="#00BFC4" fill-opacity="0.5"/>
<circle cx="1261.5" cy="1675.6" r="9.8" fill="#00BFC4" fill-opacity="0.5"/>
<circle cx="1282.3" cy="1609.5" r="9.8" fill="#00BFC4" fill-opacity="0.5"/>
<circle cx="1299.7" cy="1673.3" r="9.8" fill="#00BFC4" fill-opacity="0.5"/>
<circle cx="1282.3" cy="1670.5" r="9.8" fill="#00BFC4" fill-opacity="0.5"/>
<circle cx="1352.9" cy="1785.8" r="9.8" fill="#F8766D" fill-opacity="0.5"/>
<circle cx="1292.6" cy="1652.3" r="9.8" fill="#00BFC4" fill-opacity="0.5"/>
<circle cx="1239.5" cy="1671.8" r="9.8" fill="#00BFC4" fill-opacity="0.5"/>
<circle cx="1318.6" cy="1652.3" r="9.8" fill="#F8766D" fill-opacity="0.5"/>
<circle cx="1282.3" cy="1696.4" r="9.8" fill="#00BFC4" fill-opacity="0.5"/>
<circle cx="1297.8" cy="1670.5" r="9.8" fill="#00BFC4" fill-opacity="0.5"/>
<circle cx="1334.1" cy="1732.7" r="9.8" fill="#F8766D" fill-opacity="0.5"/>
<circle cx="1308.2" cy="1669.2" r="9.8" fill="#00BFC4" fill-opacity="0.5"/>
<circle cx="1205.2" cy="1592.7" r="9.8" fill="#F8766D" fill-opacity="0.5"/>
<circle cx="1318.6" cy="1722.3" r="9.8" fill="#00BFC4" fill-opacity="0.5"/>
<circle cx="1308.2" cy="1614.7" r="9.8" fill="#00BFC4" fill-opacity="0.5"/>
<circle cx="1393.7" cy="1710.6" r="9.8" fill="#00BFC4" fill-opacity="0.5"/>
<circle cx="1246.0" cy="1679.5" r="9.8" fill="#F8766D" fill-opacity="0.5"/>
<circle cx="1299.1" cy="1630.3" r="9.8" fill="#00BFC4" fill-opacity="0.5"/>
<circle cx="1286.8" cy="1581.0" r="9.8" fill="#00BFC4" fill-opacity="0.5"/>
<circle cx="1304.3" cy="1721.0" r="9.8" fill="#00BFC4" fill-opacity="0.5"/>
<circle cx="1258.9" cy="1686.0" r="9.8" fill="#00BFC4" fill-opacity="0.5"/>
<circle cx="1386.6" cy="1727.5" r="9.8" fill="#00BFC4" fill-opacity="0.5"/>
<circle cx="1349.7" cy="1630.3" r="9.8" fill="#00BFC4" fill-opacity="0.5"/>
<circle cx="1308.2" cy="1670.5" r="9.8" fill="#F8766D" fill-opacity="0.5"/>
<circle cx="1290.0" cy="1683.4" r="9.8" fill="#00BFC4" fill-opacity="0.5"/>
<circle cx="1292.6" cy="1719.7" r="9.8" fill="#00BFC4" fill-opacity="0.5"/>
<circle cx="1344.5" cy="1696.4" r="9.8" fill="#00BFC4" fill-opacity="0.5"/>
<circle cx="1309.3" cy="1676.0" r="9.8" fill="#00BFC4" fill-opacity="0.5"/>
<circle cx="1256.4" cy="1676.2" r="9.8" fill="#00BFC4" fill-opacity="0.5"/>
<circle cx="1313.4" cy="1710.6" r="9.8" fill="#00BFC4" fill-opacity="0.5"/>
<circle cx="1316.0" cy="1686.0" r="9.8" fill="#00BFC4" fill-opacity="0.5"/>
<circle cx="1336.7" cy="1752.1" r="9.8" fill="#00BFC4" fill-opacity="0.5"/>
<circle cx="1357.4" cy="1699.0" r="9.8" fill="#00BFC4" fill-opacity="0.5"/>
<circle cx="1262.0" cy="1671.7" r="9.8" fill="#00BFC4" fill-opacity="0.5"/>
<circle cx="1259.1" cy="1660.5" r="9.8" fill="#F8766D" fill-opacity="0.5"/>
<circle cx="1300.4" cy="1649.7" r="9.8" fill="#00BFC4" fill-opacity="0.5"/>
<circle cx="1367.8" cy="1710.6" r="9.8" fill="#00BFC4" fill-opacity="0.5"/>
<circle cx="1234.3" cy="1644.5" r="9.8" fill="#00BFC4" fill-opacity="0.5"/>
<circle cx="1264.1" cy="1697.7" r="9.8" fill="#00BFC4" fill-opacity="0.5"/>
<circle cx="1266.7" cy="1688.6" r="9.8" fill="#00BFC4" fill-opacity="0.5"/>
<circle cx="1318.6" cy="1724.9" r="9.8" fill="#F8766D" fill-opacity="0.5"/>
<circle cx="1338.0" cy="1643.2" r="9.8" fill="#00BFC4" fill-opacity="0.5"/>
<circle cx="1258.9" cy="1632.9" r="9.8" fill="#00BFC4" fill-opacity="0.5"/>
<circle cx="1279.7" cy="1688.6" r="9.8" fill="#00BFC4" fill-opacity="0.5"/>
<circle cx="1268.5" cy="1661.5" r="9.8" fill="#00BFC4" fill-opacity="0.5"/>
<circle cx="1295.3" cy="1686.5" r="9.8" fill="#00BFC4" fill-opacity="0.5"/>
<circle cx="1277.1" cy="1679.5" r="9.8" fill="#F8766D" fill-opacity="0.5"/>
<circle cx="1290.0" cy="1635.5" r="9.8" fill="#F8766D" fill-opacity="0.5"/>
<circle cx="1357.4" cy="1673.0" r="9.8" fill="#00BFC4" fill-opacity="0.5"/>
<circle cx="1294.8" cy="1687.8" r="9.8" fill="#00BFC4" fill-opacity="0.5"/>
<circle cx="1253.8" cy="1649.7" r="9.8" fill="#F8766D" fill-opacity="0.5"/>
<circle cx="1305.6" cy="1683.4" r="9.8" fill="#00BFC4" fill-opacity="0.5"/>
<circle cx="1277.1" cy="1654.9" r="9.8" fill="#00BFC4" fill-opacity="0.5"/>
<circle cx="1283.6" cy="1612.1" r="9.8" fill="#00BFC4" fill-opacity="0.5"/>
<circle cx="1318.6" cy="1758.6" r="9.8" fill="#00BFC4" fill-opacity="0.5"/>
<circle cx="1251.2" cy="1657.5" r="9.8" fill="#00BFC4" fill-opacity="0.5"/>
<circle cx="1367.8" cy="1697.7" r="9.8" fill="#00BFC4" fill-opacity="0.5"/>
<circle cx="1284.9" cy="1656.6" r="9.8" fill="#00BFC4" fill-opacity="0.5"/>
<circle cx="1305.6" cy="1705.4" r="9.8" fill="#00BFC4" fill-opacity="0.5"/>
<circle cx="1318.6" cy="1667.9" r="9.8" fill="#00BFC4" fill-opacity="0.5"/>
</g>
<g clip-path="url(#c65)">
<rect x="1447.0" y="1571.1" width="248.0" height="224.7" fill="#EBEBEB"/>
<line x1="1447.0" x2="1695.0" y1="1786.9" y2="1786.9" stroke="#fff" stroke-width="2.2"/>
<line x1="1447.0" x2="1695.0" y1="1726.5" y2="1726.5" stroke="#fff" stroke-width="2.2"/>
<line x1="1447.0" x2="1695.0" y1="1666.1" y2="1666.1" stroke="#fff" stroke-width="2.2"/>
<line x1="1447.0" x2="1695.0" y1="1605.7" y2="1605.7" stroke="#fff" stroke-width="2.2"/>
<line x1="1492.3" x2="1492.3" y1="1571.1" y2="1795.8" stroke="#fff" stroke-width="2.2"/>
<line x1="1542.2" x2="1542.2" y1="1571.1" y2="1795.8" stroke="#fff" stroke-width="2.2"/>
<line x1="1592.1" x2="1592.1" y1="1571.1" y2="1795.8" stroke="#fff" stroke-width="2.2"/>
<line x1="1642.0" x2="1642.0" y1="1571.1" y2="1795.8" stroke="#fff" stroke-width="2.2"/>
<line x1="1692.0" x2="1692.0" y1="1571.1" y2="1795.8" stroke="#fff" stroke-width="2.2"/>
<line x1="1447.0" x2="1695.0" y1="1756.7" y2="1756.7" stroke="#fff" stroke-width="4.4"/>
<line x1="1447.0" x2="1695.0" y1="1696.3" y2="1696.3" stroke="#fff" stroke-width="4.4"/>
<line x1="1447.0" x2="1695.0" y1="1635.9" y2="1635.9" stroke="#fff" stroke-width="4.4"/>
<line x1="1447.0" x2="1695.0" y1="1575.5" y2="1575.5" stroke="#fff" stroke-width="4.4"/>
<line x1="1467.3" x2="1467.3" y1="1571.1" y2="1795.8" stroke="#fff" stroke-width="4.4"/>
<line x1="1517.2" x2="1517.2" y1="1571.1" y2="1795.8" stroke="#fff" stroke-width="4.4"/>
<line x1="1567.2" x2="1567.2" y1="1571.1" y2="1795.8" stroke="#fff" stroke-width="4.4"/>
<line x1="1617.1" x2="1617.1" y1="1571.1" y2="1795.8" stroke="#fff" stroke-width="4.4"/>
<line x1="1667.0" x2="1667.0" y1="1571.1" y2="1795.8" stroke="#fff" stroke-width="4.4"/>
<circle cx="1535.1" cy="1639.4" r="9.8" fill="#00BFC4" fill-opacity="0.5"/>
<circle cx="1605.1" cy="1636.8" r="9.8" fill="#00BFC4" fill-opacity="0.5"/>
<circle cx="1529.9" cy="1688.6" r="9.8" fill="#00BFC4" fill-opacity="0.5"/>
<circle cx="1550.7" cy="1618.6" r="9.8" fill="#00BFC4" fill-opacity="0.5"/>
<circle cx="1519.6" cy="1693.8" r="9.8" fill="#00BFC4" fill-opacity="0.5"/>
<circle cx="1520.9" cy="1709.3" r="9.8" fill="#00BFC4" fill-opacity="0.5"/>
<circle cx="1506.6" cy="1696.4" r="9.8" fill="#00BFC4" fill-opacity="0.5"/>
<circle cx="1498.8" cy="1693.8" r="9.8" fill="#00BFC4" fill-opacity="0.5"/>
<circle cx="1513.5" cy="1672.4" r="9.8" fill="#00BFC4" fill-opacity="0.5"/>
<circle cx="1627.8" cy="1749.5" r="9.8" fill="#00BFC4" fill-opacity="0.5"/>
<circle cx="1536.5" cy="1693.6" r="9.8" fill="#00BFC4" fill-opacity="0.5"/>
<circle cx="1518.3" cy="1724.9" r="9.8" fill="#F8766D" fill-opacity="0.5"/>
<circle cx="1519.6" cy="1627.7" r="9.8" fill="#00BFC4" fill-opacity="0.5"/>
<circle cx="1561.0" cy="1727.5" r="9.8" fill="#00BFC4" fill-opacity="0.5"/>
<circle cx="1511.8" cy="1641.9" r="9.8" fill="#00BFC4" fill-opacity="0.5"/>
<circle cx="1497.0" cy="1670.0" r="9.8" fill="#00BFC4" fill-opacity="0.5"/>
<circle cx="1481.3" cy="1642.6" r="9.8" fill="#00BFC4" fill-opacity="0.5"/>
<circle cx="1576.6" cy="1671.8" r="9.8" fill="#00BFC4" fill-opacity="0.5"/>
<circle cx="1470.3" cy="1613.4" r="9.8" fill="#F8766D" fill-opacity="0.5"/>
<circle cx="1576.6" cy="1657.5" r="9.8" fill="#00BFC4" fill-opacity="0.5"/>
<circle cx="1602.5" cy="1630.3" r="9.8" fill="#00BFC4" fill-opacity="0.5"/>
<circle cx="1563.6" cy="1687.3" r="9.8" fill="#00BFC4" fill-opacity="0.5"/>
<circle cx="1496.2" cy="1665.3" r="9.8" fill="#00BFC4" fill-opacity="0.5"/>
<circle cx="1589.6" cy="1691.2" r="9.8" fill="#00BFC4" fill-opacity="0.5"/>
<circle cx="1518.3" cy="1695.9" r="9.8" fill="#00BFC4" fill-opacity="0.5"/>
<circle cx="1515.7" cy="1581.0" r="9.8" fill="#00BFC4" fill-opacity="0.5"/>
<circle cx="1550.7" cy="1683.4" r="9.8" fill="#00BFC4" fill-opacity="0.5"/>
<circle cx="1495.0" cy="1657.5" r="9.8" fill="#00BFC4" fill-opacity="0.5"/>
<circle cx="1561.0" cy="1657.5" r="9.8" fill="#00BFC4" fill-opacity="0.5"/>
<circle cx="1546.8" cy="1631.6" r="9.8" fill="#00BFC4" fill-opacity="0.5"/>
<circle cx="1519.6" cy="1679.5" r="9.8" fill="#00BFC4" fill-opacity="0.5"/>
<circle cx="1498.8" cy="1678.2" r="9.8" fill="#00BFC4" fill-opacity="0.5"/>
<circle cx="1615.5" cy="1671.8" r="9.8" fill="#00BFC4" fill-opacity="0.5"/>
<circle cx="1481.3" cy="1713.9" r="9.8" fill="#00BFC4" fill-opacity="0.5"/>
<circle cx="1571.4" cy="1706.7" r="9.8" fill="#F8766D" fill-opacity="0.5"/>
<circle cx="1496.2" cy="1641.9" r="9.8" fill="#00BFC4" fill-opacity="0.5"/>
<circle cx="1517.0" cy="1654.9" r="9.8" fill="#00BFC4" fill-opacity="0.5"/>
<circle cx="1576.6" cy="1699.0" r="9.8" fill="#00BFC4" fill-opacity="0.5"/>
<circle cx="1494.1" cy="1659.6" r="9.8" fill="#00BFC4" fill-opacity="0.5"/>
<circle cx="1666.7" cy="1710.6" r="9.8" fill="#00BFC4" fill-opacity="0.5"/>
<circle cx="1509.2" cy="1678.2" r="9.8" fill="#00BFC4" fill-opacity="0.5"/>
<circle cx="1535.1" cy="1669.2" r="9.8" fill="#F8766D" fill-opacity="0.5"/>
<circle cx="1574.7" cy="1758.6" r="9.8" fill="#00BFC4" fill-opacity="0.5"/>
<circle cx="1535.1" cy="1724.9" r="9.8" fill="#F8766D" fill-opacity="0.5"/>
<circle cx="1524.8" cy="1617.3" r="9.8" fill="#00BFC4" fill-opacity="0.5"/>
<circle cx="1513.1" cy="1592.7" r="9.8" fill="#F8766D" fill-opacity="0.5"/>
<circle cx="1504.0" cy="1652.3" r="9.8" fill="#00BFC4" fill-opacity="0.5"/>
<circle cx="1662.1" cy="1726.8" r="9.8" fill="#00BFC4" fill-opacity="0.5"/>
<circle cx="1499.4" cy="1669.5" r="9.8" fill="#00BFC4" fill-opacity="0.5"/>
<circle cx="1594.7" cy="1785.8" r="9.8" fill="#F8766D" fill-opacity="0.5"/>
<circle cx="1505.3" cy="1629.0" r="9.8" fill="#00BFC4" fill-opacity="0.5"/>
<circle cx="1488.5" cy="1680.8" r="9.8" fill="#00BFC4" fill-opacity="0.5"/>
<circle cx="1531.5" cy="1692.6" r="9.8" fill="#00BFC4" fill-opacity="0.5"/>
<circle cx="1472.3" cy="1666.6" r="9.8" fill="#F8766D" fill-opacity="0.5"/>
<circle cx="1485.9" cy="1665.3" r="9.8" fill="#00BFC4" fill-opacity="0.5"/>
<circle cx="1628.4" cy="1710.6" r="9.8" fill="#00BFC4" fill-opacity="0.5"/>
<circle cx="1494.1" cy="1681.8" r="9.8" fill="#00BFC4" fill-opacity="0.5"/>
<circle cx="1609.0" cy="1666.6" r="9.8" fill="#00BFC4" fill-opacity="0.5"/>
<circle cx="1532.1" cy="1667.9" r="9.8" fill="#F8766D" fill-opacity="0.5"/>
<circle cx="1584.4" cy="1700.3" r="9.8" fill="#00BFC4" fill-opacity="0.5"/>
<circle cx="1574.0" cy="1644.5" r="9.8" fill="#00BFC4" fill-opacity="0.5"/>
<circle cx="1532.5" cy="1678.2" r="9.8" fill="#F8766D" fill-opacity="0.5"/>
<circle cx="1529.9" cy="1670.5" r="9.8" fill="#00BFC4" fill-opacity="0.5"/>
<circle cx="1592.2" cy="1714.5" r="9.8" fill="#00BFC4" fill-opacity="0.5"/>
<circle cx="1517.0" cy="1669.2" r="9.8" fill="#00BFC4" fill-opacity="0.5"/>
<circle cx="1618.1" cy="1686.0" r="9.8" fill="#F8766D" fill-opacity="0.5"/>
<circle cx="1545.5" cy="1666.6" r="9.8" fill="#00BFC4" fill-opacity="0.5"/>
<circle cx="1568.8" cy="1691.2" r="9.8" fill="#00BFC4" fill-opacity="0.5"/>
<circle cx="1574.0" cy="1626.4" r="9.8" fill="#00BFC4" fill-opacity="0.5"/>
<circle cx="1625.8" cy="1696.4" r="9.8" fill="#00BFC4" fill-opacity="0.5"/>
<circle cx="1458.0" cy="1667.9" r="9.8" fill="#00BFC4" fill-opacity="0.5"/>
<circle cx="1499.0" cy="1684.3" r="9.8" fill="#00BFC4" fill-opacity="0.5"/>
<circle cx="1506.6" cy="1665.3" r="9.8" fill="#00BFC4" fill-opacity="0.5"/>
<circle cx="1524.8" cy="1649.7" r="9.8" fill="#F8766D" fill-opacity="0.5"/>
<circle cx="1537.7" cy="1629.0" r="9.8" fill="#00BFC4" fill-opacity="0.5"/>
<circle cx="1540.3" cy="1688.6" r="9.8" fill="#F8766D" fill-opacity="0.5"/>
<circle cx="1515.7" cy="1732.7" r="9.8" fill="#F8766D" fill-opacity="0.5"/>
<circle cx="1599.9" cy="1671.8" r="9.8" fill="#00BFC4" fill-opacity="0.5"/>
<circle cx="1524.8" cy="1613.4" r="9.8" fill="#00BFC4" fill-opacity="0.5"/>
<circle cx="1581.8" cy="1682.1" r="9.8" fill="#00BFC4" fill-opacity="0.5"/>
<circle cx="1554.6" cy="1626.4" r="9.8" fill="#00BFC4" fill-opacity="0.5"/>
<circle cx="1633.6" cy="1696.4" r="9.8" fill="#00BFC4" fill-opacity="0.5"/>
<circle cx="1524.8" cy="1701.6" r="9.8" fill="#00BFC4" fill-opacity="0.5"/>
<circle cx="1527.4" cy="1657.5" r="9.8" fill="#F8766D" fill-opacity="0.5"/>
<circle cx="1540.3" cy="1699.0" r="9.8" fill="#F8766D" fill-opacity="0.5"/>
<circle cx="1563.6" cy="1675.6" r="9.8" fill="#F8766D" fill-opacity="0.5"/>
<circle cx="1584.4" cy="1724.9" r="9.8" fill="#F8766D" fill-opacity="0.5"/>
<circle cx="1539.8" cy="1654.2" r="9.8" fill="#00BFC4" fill-opacity="0.5"/>
<circle cx="1529.1" cy="1654.5" r="9.8" fill="#00BFC4" fill-opacity="0.5"/>
<circle cx="1531.5" cy="1665.8" r="9.8" fill="#F8766D" fill-opacity="0.5"/>
<circle cx="1550.7" cy="1657.5" r="9.8" fill="#00BFC4" fill-opacity="0.5"/>
<circle cx="1542.9" cy="1654.9" r="9.8" fill="#00BFC4" fill-opacity="0.5"/>
<circle cx="1592.2" cy="1734.0" r="9.8" fill="#F8766D" fill-opacity="0.5"/>
<circle cx="1523.1" cy="1696.0" r="9.8" fill="#00BFC4" fill-opacity="0.5"/>
<circle cx="1521.5" cy="1634.2" r="9.8" fill="#F8766D" fill-opacity="0.5"/>
<circle cx="1559.8" cy="1671.8" r="9.8" fill="#F8766D" fill-opacity="0.5"/>
<circle cx="1590.2" cy="1752.1" r="9.8" fill="#00BFC4" fill-opacity="0.5"/>
<circle cx="1548.1" cy="1699.0" r="9.8" fill="#00BFC4" fill-opacity="0.5"/>
<circle cx="1603.8" cy="1693.8" r="9.8" fill="#00BFC4" fill-opacity="0.5"/>
<circle cx="1526.5" cy="1665.4" r="9.8" fill="#F8766D" fill-opacity="0.5"/>
<circle cx="1514.4" cy="1719.7" r="9.8" fill="#00BFC4" fill-opacity="0.5"/>
<circle cx="1561.0" cy="1639.4" r="9.8" fill="#00BFC4" fill-opacity="0.5"/>
<circle cx="1550.7" cy="1719.7" r="9.8" fill="#00BFC4" fill-opacity="0.5"/>
<circle cx="1544.2" cy="1609.5" r="9.8" fill="#00BFC4" fill-opacity="0.5"/>
<circle cx="1564.9" cy="1727.5" r="9.8" fill="#00BFC4" fill-opacity="0.5"/>
</g>
<g clip-path="url(#c66)">
<rect x="1718.1" y="1571.1" width="248.0" height="224.7" fill="#EBEBEB"/>
<line x1="1718.1" x2="1966.1" y1="1759.2" y2="1759.2" stroke="#fff" stroke-width="2.2"/>
<line x1="1718.1" x2="1966.1" y1="1706.4" y2="1706.4" stroke="#fff" stroke-width="2.2"/>
<line x1="1718.1" x2="1966.1" y1="1653.6" y2="1653.6" stroke="#fff" stroke-width="2.2"/>
<line x1="1718.1" x2="1966.1" y1="1600.8" y2="1600.8" stroke="#fff" stroke-width="2.2"/>
<line x1="1728.0" x2="1728.0" y1="1571.1" y2="1795.8" stroke="#fff" stroke-width="2.2"/>
<line x1="1794.6" x2="1794.6" y1="1571.1" y2="1795.8" stroke="#fff" stroke-width="2.2"/>
<line x1="1861.3" x2="1861.3" y1="1571.1" y2="1795.8" stroke="#fff" stroke-width="2.2"/>
<line x1="1928.0" x2="1928.0" y1="1571.1" y2="1795.8" stroke="#fff" stroke-width="2.2"/>
<line x1="1718.1" x2="1966.1" y1="1785.6" y2="1785.6" stroke="#fff" stroke-width="4.4"/>
<line x1="1718.1" x2="1966.1" y1="1732.8" y2="1732.8" stroke="#fff" stroke-width="4.4"/>
<line x1="1718.1" x2="1966.1" y1="1680.0" y2="1680.0" stroke="#fff" stroke-width="4.4"/>
<line x1="1718.1" x2="1966.1" y1="1627.2" y2="1627.2" stroke="#fff" stroke-width="4.4"/>
<line x1="1718.1" x2="1966.1" y1="1574.4" y2="1574.4" stroke="#fff" stroke-width="4.4"/>
<line x1="1761.3" x2="1761.3" y1="1571.1" y2="1795.8" stroke="#fff" stroke-width="4.4"/>
<line x1="1828.0" x2="1828.0" y1="1571.1" y2="1795.8" stroke="#fff" stroke-width="4.4"/>
<line x1="1894.6" x2="1894.6" y1="1571.1" y2="1795.8" stroke="#fff" stroke-width="4.4"/>
<line x1="1961.3" x2="1961.3" y1="1571.1" y2="1795.8" stroke="#fff" stroke-width="4.4"/>
<path d="M1728.5,1773.1 C1730.0,1773.6 1734.5,1775.1 1737.4,1776.5 C1740.2,1777.9 1743.3,1779.9 1745.6,1781.3 C1747.9,1782.7 1749.2,1784.0 1751.1,1784.7 C1752.9,1785.4 1754.2,1785.8 1756.5,1785.4 C1758.8,1784.9 1762.5,1783.8 1764.7,1782.0 C1767.0,1780.1 1768.6,1777.2 1770.2,1774.4 C1771.8,1771.7 1773.0,1768.9 1774.3,1765.5 C1775.7,1762.2 1776.8,1758.9 1778.4,1754.6 C1780.0,1750.3 1782.1,1743.9 1783.9,1739.5 C1785.7,1735.2 1787.8,1730.8 1789.4,1728.6 C1791.0,1726.4 1791.9,1726.3 1793.5,1726.5 C1795.1,1726.8 1797.4,1728.6 1799.0,1730.0 C1800.6,1731.3 1801.7,1733.4 1803.1,1734.8 C1804.4,1736.1 1805.6,1738.3 1807.2,1738.2 C1808.8,1738.1 1810.8,1737.0 1812.6,1734.1 C1814.5,1731.1 1816.3,1726.1 1818.1,1720.4 C1819.9,1714.7 1821.8,1707.2 1823.6,1699.9 C1825.4,1692.6 1827.2,1684.6 1829.1,1676.6 C1830.9,1668.6 1832.7,1660.6 1834.5,1652.0 C1836.4,1643.3 1838.2,1633.7 1840.0,1624.6 C1841.8,1615.5 1843.3,1604.3 1845.5,1597.2 C1847.7,1590.1 1850.7,1583.3 1853.0,1581.9 C1855.3,1580.5 1857.2,1584.9 1859.2,1589.0 C1861.1,1593.2 1862.8,1600.2 1864.6,1606.8 C1866.5,1613.4 1868.5,1621.8 1870.1,1628.7 C1871.7,1635.5 1872.9,1641.5 1874.2,1647.9 C1875.6,1654.2 1877.0,1659.9 1878.3,1667.0 C1879.7,1674.1 1881.3,1683.7 1882.4,1690.3 C1883.6,1696.9 1884.0,1701.0 1885.2,1706.7 C1886.3,1712.4 1887.7,1718.1 1889.3,1724.5 C1890.9,1730.9 1892.7,1738.6 1894.8,1745.0 C1896.8,1751.4 1899.5,1758.7 1901.6,1762.8 C1903.6,1766.9 1904.8,1768.2 1907.1,1769.7 C1909.4,1771.1 1912.5,1771.4 1915.3,1771.7 C1918.0,1772.0 1921.2,1771.6 1923.5,1771.7 C1925.8,1771.8 1926.7,1772.2 1929.0,1772.1 C1931.2,1772.0 1934.4,1771.1 1937.2,1771.3 C1939.9,1771.5 1942.4,1771.7 1945.4,1773.1 C1948.4,1774.4 1953.4,1778.2 1955.0,1779.2 L1955.0,1785.6 L1728.5,1785.6 Z" fill="#F8766D" fill-opacity="0.5" stroke="none"/>
<path d="M1728.5,1773.1 C1730.0,1773.6 1734.5,1775.1 1737.4,1776.5 C1740.2,1777.9 1743.3,1779.9 1745.6,1781.3 C1747.9,1782.7 1749.2,1784.0 1751.1,1784.7 C1752.9,1785.4 1754.2,1785.8 1756.5,1785.4 C1758.8,1784.9 1762.5,1783.8 1764.7,1782.0 C1767.0,1780.1 1768.6,1777.2 1770.2,1774.4 C1771.8,1771.7 1773.0,1768.9 1774.3,1765.5 C1775.7,1762.2 1776.8,1758.9 1778.4,1754.6 C1780.0,1750.3 1782.1,1743.9 1783.9,1739.5 C1785.7,1735.2 1787.8,1730.8 1789.4,1728.6 C1791.0,1726.4 1791.9,1726.3 1793.5,1726.5 C1795.1,1726.8 1797.4,1728.6 1799.0,1730.0 C1800.6,1731.3 1801.7,1733.4 1803.1,1734.8 C1804.4,1736.1 1805.6,1738.3 1807.2,1738.2 C1808.8,1738.1 1810.8,1737.0 1812.6,1734.1 C1814.5,1731.1 1816.3,1726.1 1818.1,1720.4 C1819.9,1714.7 1821.8,1707.2 1823.6,1699.9 C1825.4,1692.6 1827.2,1684.6 1829.1,1676.6 C1830.9,1668.6 1832.7,1660.6 1834.5,1652.0 C1836.4,1643.3 1838.2,1633.7 1840.0,1624.6 C1841.8,1615.5 1843.3,1604.3 1845.5,1597.2 C1847.7,1590.1 1850.7,1583.3 1853.0,1581.9 C1855.3,1580.5 1857.2,1584.9 1859.2,1589.0 C1861.1,1593.2 1862.8,1600.2 1864.6,1606.8 C1866.5,1613.4 1868.5,1621.8 1870.1,1628.7 C1871.7,1635.5 1872.9,1641.5 1874.2,1647.9 C1875.6,1654.2 1877.0,1659.9 1878.3,1667.0 C1879.7,1674.1 1881.3,1683.7 1882.4,1690.3 C1883.6,1696.9 1884.0,1701.0 1885.2,1706.7 C1886.3,1712.4 1887.7,1718.1 1889.3,1724.5 C1890.9,1730.9 1892.7,1738.6 1894.8,1745.0 C1896.8,1751.4 1899.5,1758.7 1901.6,1762.8 C1903.6,1766.9 1904.8,1768.2 1907.1,1769.7 C1909.4,1771.1 1912.5,1771.4 1915.3,1771.7 C1918.0,1772.0 1921.2,1771.6 1923.5,1771.7 C1925.8,1771.8 1926.7,1772.2 1929.0,1772.1 C1931.2,1772.0 1934.4,1771.1 1937.2,1771.3 C1939.9,1771.5 1942.4,1771.7 1945.4,1773.1 C1948.4,1774.4 1953.4,1778.2 1955.0,1779.2" fill="none" stroke="#000" stroke-width="4.5" stroke-linejoin="round"/>
<path d="M1728.5,1785.4 C1730.0,1785.2 1734.3,1784.8 1737.4,1784.0 C1740.5,1783.2 1744.0,1782.0 1747.0,1780.6 C1749.9,1779.2 1752.2,1777.3 1755.2,1775.8 C1758.1,1774.3 1762.0,1772.3 1764.7,1771.7 C1767.5,1771.1 1769.3,1772.5 1771.6,1772.4 C1773.9,1772.3 1776.1,1772.2 1778.4,1771.0 C1780.7,1769.9 1783.0,1768.3 1785.3,1765.5 C1787.6,1762.8 1789.8,1758.5 1792.1,1754.6 C1794.4,1750.7 1796.7,1746.4 1799.0,1742.3 C1801.2,1738.2 1803.5,1734.1 1805.8,1730.0 C1808.1,1725.9 1810.6,1721.8 1812.6,1717.6 C1814.7,1713.5 1816.3,1710.6 1818.1,1705.3 C1819.9,1700.1 1821.8,1693.0 1823.6,1686.2 C1825.4,1679.3 1827.2,1671.6 1829.1,1664.3 C1830.9,1657.0 1832.7,1649.0 1834.5,1642.4 C1836.4,1635.8 1838.0,1629.4 1840.0,1624.6 C1842.1,1619.8 1844.7,1615.9 1846.9,1613.6 C1849.0,1611.4 1851.0,1610.7 1853.0,1611.2 C1855.1,1611.6 1857.2,1613.5 1859.2,1616.4 C1861.1,1619.3 1862.8,1623.9 1864.6,1628.7 C1866.5,1633.5 1868.3,1639.4 1870.1,1645.1 C1871.9,1650.8 1873.8,1656.5 1875.6,1662.9 C1877.4,1669.3 1879.2,1677.7 1881.1,1683.4 C1882.9,1689.1 1884.5,1693.2 1886.5,1697.1 C1888.6,1701.0 1891.1,1703.5 1893.4,1706.7 C1895.7,1709.9 1897.9,1712.9 1900.2,1716.3 C1902.5,1719.7 1904.6,1723.1 1907.1,1727.2 C1909.6,1731.3 1912.8,1736.6 1915.3,1740.9 C1917.8,1745.2 1919.8,1749.1 1922.1,1753.2 C1924.4,1757.3 1926.9,1761.7 1929.0,1765.5 C1931.0,1769.4 1932.4,1773.8 1934.4,1776.5 C1936.5,1779.2 1938.8,1780.7 1941.3,1781.7 C1943.8,1782.7 1947.2,1782.6 1949.5,1782.7 C1951.8,1782.7 1954.1,1782.1 1955.0,1782.0 L1955.0,1785.6 L1728.5,1785.6 Z" fill="#00BFC4" fill-opacity="0.5" stroke="none"/>
<path d="M1728.5,1785.4 C1730.0,1785.2 1734.3,1784.8 1737.4,1784.0 C1740.5,1783.2 1744.0,1782.0 1747.0,1780.6 C1749.9,1779.2 1752.2,1777.3 1755.2,1775.8 C1758.1,1774.3 1762.0,1772.3 1764.7,1771.7 C1767.5,1771.1 1769.3,1772.5 1771.6,1772.4 C1773.9,1772.3 1776.1,1772.2 1778.4,1771.0 C1780.7,1769.9 1783.0,1768.3 1785.3,1765.5 C1787.6,1762.8 1789.8,1758.5 1792.1,1754.6 C1794.4,1750.7 1796.7,1746.4 1799.0,1742.3 C1801.2,1738.2 1803.5,1734.1 1805.8,1730.0 C1808.1,1725.9 1810.6,1721.8 1812.6,1717.6 C1814.7,1713.5 1816.3,1710.6 1818.1,1705.3 C1819.9,1700.1 1821.8,1693.0 1823.6,1686.2 C1825.4,1679.3 1827.2,1671.6 1829.1,1664.3 C1830.9,1657.0 1832.7,1649.0 1834.5,1642.4 C1836.4,1635.8 1838.0,1629.4 1840.0,1624.6 C1842.1,1619.8 1844.7,1615.9 1846.9,1613.6 C1849.0,1611.4 1851.0,1610.7 1853.0,1611.2 C1855.1,1611.6 1857.2,1613.5 1859.2,1616.4 C1861.1,1619.3 1862.8,1623.9 1864.6,1628.7 C1866.5,1633.5 1868.3,1639.4 1870.1,1645.1 C1871.9,1650.8 1873.8,1656.5 1875.6,1662.9 C1877.4,1669.3 1879.2,1677.7 1881.1,1683.4 C1882.9,1689.1 1884.5,1693.2 1886.5,1697.1 C1888.6,1701.0 1891.1,1703.5 1893.4,1706.7 C1895.7,1709.9 1897.9,1712.9 1900.2,1716.3 C1902.5,1719.7 1904.6,1723.1 1907.1,1727.2 C1909.6,1731.3 1912.8,1736.6 1915.3,1740.9 C1917.8,1745.2 1919.8,1749.1 1922.1,1753.2 C1924.4,1757.3 1926.9,1761.7 1929.0,1765.5 C1931.0,1769.4 1932.4,1773.8 1934.4,1776.5 C1936.5,1779.2 1938.8,1780.7 1941.3,1781.7 C1943.8,1782.7 1947.2,1782.6 1949.5,1782.7 C1951.8,1782.7 1954.1,1782.1 1955.0,1782.0" fill="none" stroke="#000" stroke-width="4.5" stroke-linejoin="round"/>
</g>
<rect x="91.8" y="0" width="248.0" height="84.9" fill="#D9D9D9"/>
<text class="st" x="215.8" y="52.8" text-anchor="middle"><tspan>M [M</tspan><tspan font-size="26.2px" dy="6.2">sun</tspan><tspan dy="-6.2">]</tspan></text>
<rect x="362.9" y="0" width="248.0" height="84.9" fill="#D9D9D9"/>
<text class="st" x="486.9" y="52.8" text-anchor="middle">G [mag]</text>
<rect x="633.9" y="0" width="248.0" height="84.9" fill="#D9D9D9"/>
<text class="st" x="757.9" y="52.8" text-anchor="middle"><tspan>logN</tspan><tspan font-size="26.2px" dy="6.2">rv</tspan></text>
<rect x="905.0" y="0" width="248.0" height="84.9" fill="#D9D9D9"/>
<text class="st" x="1029.0" y="52.8" text-anchor="middle"><tspan>T</tspan><tspan font-size="26.2px" dy="6.2">eff</tspan><tspan dy="-6.2"> [T</tspan><tspan font-size="26.2px" dy="6.2">sun</tspan><tspan dy="-6.2">]</tspan></text>
<rect x="1176.0" y="0" width="248.0" height="84.9" fill="#D9D9D9"/>
<text class="st" x="1300.0" y="52.8" text-anchor="middle"><tspan>log(S/N</tspan><tspan font-size="26.2px" dy="6.2">r</tspan><tspan dy="-6.2">)</tspan></text>
<rect x="1447.0" y="0" width="248.0" height="84.9" fill="#D9D9D9"/>
<text class="st" x="1571.0" y="52.8" text-anchor="middle"><tspan>log(S/N</tspan><tspan font-size="26.2px" dy="6.2">μ</tspan><tspan dy="-6.2">)</tspan></text>
<rect x="1718.1" y="0" width="248.0" height="84.9" fill="#D9D9D9"/>
<text class="st" x="1842.1" y="52.8" text-anchor="middle">log(d [pc])</text>
<rect x="1966.1" y="85.1" width="85" height="224.7" fill="#D9D9D9"/>
<text class="st" transform="translate(1998.4,197.4) rotate(90)" text-anchor="middle"><tspan>M [M</tspan><tspan font-size="26.2px" dy="6.2">sun</tspan><tspan dy="-6.2">]</tspan></text>
<rect x="1966.1" y="332.8" width="85" height="224.7" fill="#D9D9D9"/>
<text class="st" transform="translate(1998.4,445.1) rotate(90)" text-anchor="middle">G [mag]</text>
<rect x="1966.1" y="580.4" width="85" height="224.7" fill="#D9D9D9"/>
<text class="st" transform="translate(1998.4,692.8) rotate(90)" text-anchor="middle"><tspan>logN</tspan><tspan font-size="26.2px" dy="6.2">rv</tspan></text>
<rect x="1966.1" y="828.1" width="85" height="224.7" fill="#D9D9D9"/>
<text class="st" transform="translate(1998.4,940.5) rotate(90)" text-anchor="middle"><tspan>T</tspan><tspan font-size="26.2px" dy="6.2">eff</tspan><tspan dy="-6.2"> [T</tspan><tspan font-size="26.2px" dy="6.2">sun</tspan><tspan dy="-6.2">]</tspan></text>
<rect x="1966.1" y="1075.8" width="85" height="224.7" fill="#D9D9D9"/>
<text class="st" transform="translate(1998.4,1188.1) rotate(90)" text-anchor="middle"><tspan>log(S/N</tspan><tspan font-size="26.2px" dy="6.2">r</tspan><tspan dy="-6.2">)</tspan></text>
<rect x="1966.1" y="1323.4" width="85" height="224.7" fill="#D9D9D9"/>
<text class="st" transform="translate(1998.4,1435.8) rotate(90)" text-anchor="middle"><tspan>log(S/N</tspan><tspan font-size="26.2px" dy="6.2">μ</tspan><tspan dy="-6.2">)</tspan></text>
<rect x="1966.1" y="1571.1" width="85" height="224.7" fill="#D9D9D9"/>
<text class="st" transform="translate(1998.4,1683.5) rotate(90)" text-anchor="middle">log(d [pc])</text>
<line x1="80.1" x2="91.8" y1="299.6" y2="299.6" stroke="#333" stroke-width="4.2"/>
<text class="ax" x="70.6" y="313.0" text-anchor="end">0</text>
<line x1="80.1" x2="91.8" y1="243.9" y2="243.9" stroke="#333" stroke-width="4.2"/>
<text class="ax" x="70.6" y="257.3" text-anchor="end">1</text>
<line x1="80.1" x2="91.8" y1="188.2" y2="188.2" stroke="#333" stroke-width="4.2"/>
<text class="ax" x="70.6" y="201.6" text-anchor="end">2</text>
<line x1="80.1" x2="91.8" y1="132.5" y2="132.5" stroke="#333" stroke-width="4.2"/>
<text class="ax" x="70.6" y="145.9" text-anchor="end">3</text>
<line x1="80.1" x2="91.8" y1="546.6" y2="546.6" stroke="#333" stroke-width="4.2"/>
<text class="ax" x="70.6" y="560.0" text-anchor="end">4</text>
<line x1="80.1" x2="91.8" y1="477.5" y2="477.5" stroke="#333" stroke-width="4.2"/>
<text class="ax" x="70.6" y="490.9" text-anchor="end">6</text>
<line x1="80.1" x2="91.8" y1="408.5" y2="408.5" stroke="#333" stroke-width="4.2"/>
<text class="ax" x="70.6" y="421.9" text-anchor="end">8</text>
<line x1="80.1" x2="91.8" y1="339.4" y2="339.4" stroke="#333" stroke-width="4.2"/>
<text class="ax" x="70.6" y="352.8" text-anchor="end">10</text>
<line x1="80.1" x2="91.8" y1="768.4" y2="768.4" stroke="#333" stroke-width="4.2"/>
<text class="ax" x="70.6" y="781.8" text-anchor="end">1.0</text>
<line x1="80.1" x2="91.8" y1="724.0" y2="724.0" stroke="#333" stroke-width="4.2"/>
<text class="ax" x="70.6" y="737.4" text-anchor="end">1.5</text>
<line x1="80.1" x2="91.8" y1="679.5" y2="679.5" stroke="#333" stroke-width="4.2"/>
<text class="ax" x="70.6" y="692.9" text-anchor="end">2.0</text>
<line x1="80.1" x2="91.8" y1="635.1" y2="635.1" stroke="#333" stroke-width="4.2"/>
<text class="ax" x="70.6" y="648.5" text-anchor="end">2.5</text>
<line x1="80.1" x2="91.8" y1="590.6" y2="590.6" stroke="#333" stroke-width="4.2"/>
<text class="ax" x="70.6" y="604.0" text-anchor="end">3.0</text>
<line x1="80.1" x2="91.8" y1="1024.9" y2="1024.9" stroke="#333" stroke-width="4.2"/>
<text class="ax" x="70.6" y="1038.3" text-anchor="end">0.7</text>
<line x1="80.1" x2="91.8" y1="979.1" y2="979.1" stroke="#333" stroke-width="4.2"/>
<text class="ax" x="70.6" y="992.5" text-anchor="end">0.8</text>
<line x1="80.1" x2="91.8" y1="933.2" y2="933.2" stroke="#333" stroke-width="4.2"/>
<text class="ax" x="70.6" y="946.6" text-anchor="end">0.9</text>
<line x1="80.1" x2="91.8" y1="887.3" y2="887.3" stroke="#333" stroke-width="4.2"/>
<text class="ax" x="70.6" y="900.7" text-anchor="end">1.0</text>
<line x1="80.1" x2="91.8" y1="841.5" y2="841.5" stroke="#333" stroke-width="4.2"/>
<text class="ax" x="70.6" y="854.9" text-anchor="end">1.1</text>
<line x1="80.1" x2="91.8" y1="1272.4" y2="1272.4" stroke="#333" stroke-width="4.2"/>
<text class="ax" x="70.6" y="1285.8" text-anchor="end">0</text>
<line x1="80.1" x2="91.8" y1="1210.3" y2="1210.3" stroke="#333" stroke-width="4.2"/>
<text class="ax" x="70.6" y="1223.7" text-anchor="end">1</text>
<line x1="80.1" x2="91.8" y1="1148.2" y2="1148.2" stroke="#333" stroke-width="4.2"/>
<text class="ax" x="70.6" y="1161.6" text-anchor="end">2</text>
<line x1="80.1" x2="91.8" y1="1086.1" y2="1086.1" stroke="#333" stroke-width="4.2"/>
<text class="ax" x="70.6" y="1099.5" text-anchor="end">3</text>
<line x1="80.1" x2="91.8" y1="1529.8" y2="1529.8" stroke="#333" stroke-width="4.2"/>
<text class="ax" x="70.6" y="1543.2" text-anchor="end">−0.5</text>
<line x1="80.1" x2="91.8" y1="1484.6" y2="1484.6" stroke="#333" stroke-width="4.2"/>
<text class="ax" x="70.6" y="1498.0" text-anchor="end">0.0</text>
<line x1="80.1" x2="91.8" y1="1439.3" y2="1439.3" stroke="#333" stroke-width="4.2"/>
<text class="ax" x="70.6" y="1452.7" text-anchor="end">0.5</text>
<line x1="80.1" x2="91.8" y1="1394.1" y2="1394.1" stroke="#333" stroke-width="4.2"/>
<text class="ax" x="70.6" y="1407.5" text-anchor="end">1.0</text>
<line x1="80.1" x2="91.8" y1="1348.9" y2="1348.9" stroke="#333" stroke-width="4.2"/>
<text class="ax" x="70.6" y="1362.3" text-anchor="end">1.5</text>
<line x1="80.1" x2="91.8" y1="1756.7" y2="1756.7" stroke="#333" stroke-width="4.2"/>
<text class="ax" x="70.6" y="1770.1" text-anchor="end">1.0</text>
<line x1="80.1" x2="91.8" y1="1696.3" y2="1696.3" stroke="#333" stroke-width="4.2"/>
<text class="ax" x="70.6" y="1709.7" text-anchor="end">1.5</text>
<line x1="80.1" x2="91.8" y1="1635.9" y2="1635.9" stroke="#333" stroke-width="4.2"/>
<text class="ax" x="70.6" y="1649.3" text-anchor="end">2.0</text>
<line x1="80.1" x2="91.8" y1="1575.5" y2="1575.5" stroke="#333" stroke-width="4.2"/>
<text class="ax" x="70.6" y="1588.9" text-anchor="end">2.5</text>
<line x1="92.4" x2="92.4" y1="1795.8" y2="1807.5" stroke="#333" stroke-width="4.2"/>
<text class="ax" transform="translate(119.6,1817.0) rotate(-90)" text-anchor="end">0</text>
<line x1="147.2" x2="147.2" y1="1795.8" y2="1807.5" stroke="#333" stroke-width="4.2"/>
<text class="ax" transform="translate(174.4,1817.0) rotate(-90)" text-anchor="end">1</text>
<line x1="202.0" x2="202.0" y1="1795.8" y2="1807.5" stroke="#333" stroke-width="4.2"/>
<text class="ax" transform="translate(229.2,1817.0) rotate(-90)" text-anchor="end">2</text>
<line x1="256.9" x2="256.9" y1="1795.8" y2="1807.5" stroke="#333" stroke-width="4.2"/>
<text class="ax" transform="translate(284.1,1817.0) rotate(-90)" text-anchor="end">3</text>
<line x1="311.7" x2="311.7" y1="1795.8" y2="1807.5" stroke="#333" stroke-width="4.2"/>
<text class="ax" transform="translate(338.9,1817.0) rotate(-90)" text-anchor="end">4</text>
<line x1="374.9" x2="374.9" y1="1795.8" y2="1807.5" stroke="#333" stroke-width="4.2"/>
<text class="ax" transform="translate(402.1,1817.0) rotate(-90)" text-anchor="end">4</text>
<line x1="451.1" x2="451.1" y1="1795.8" y2="1807.5" stroke="#333" stroke-width="4.2"/>
<text class="ax" transform="translate(478.3,1817.0) rotate(-90)" text-anchor="end">6</text>
<line x1="527.3" x2="527.3" y1="1795.8" y2="1807.5" stroke="#333" stroke-width="4.2"/>
<text class="ax" transform="translate(554.5,1817.0) rotate(-90)" text-anchor="end">8</text>
<line x1="603.5" x2="603.5" y1="1795.8" y2="1807.5" stroke="#333" stroke-width="4.2"/>
<text class="ax" transform="translate(630.7,1817.0) rotate(-90)" text-anchor="end">10</text>
<line x1="674.4" x2="674.4" y1="1795.8" y2="1807.5" stroke="#333" stroke-width="4.2"/>
<text class="ax" transform="translate(701.6,1817.0) rotate(-90)" text-anchor="end">1.0</text>
<line x1="723.5" x2="723.5" y1="1795.8" y2="1807.5" stroke="#333" stroke-width="4.2"/>
<text class="ax" transform="translate(750.7,1817.0) rotate(-90)" text-anchor="end">1.5</text>
<line x1="772.5" x2="772.5" y1="1795.8" y2="1807.5" stroke="#333" stroke-width="4.2"/>
<text class="ax" transform="translate(799.7,1817.0) rotate(-90)" text-anchor="end">2.0</text>
<line x1="821.6" x2="821.6" y1="1795.8" y2="1807.5" stroke="#333" stroke-width="4.2"/>
<text class="ax" transform="translate(848.8,1817.0) rotate(-90)" text-anchor="end">2.5</text>
<line x1="870.7" x2="870.7" y1="1795.8" y2="1807.5" stroke="#333" stroke-width="4.2"/>
<text class="ax" transform="translate(897.9,1817.0) rotate(-90)" text-anchor="end">3.0</text>
<line x1="935.7" x2="935.7" y1="1795.8" y2="1807.5" stroke="#333" stroke-width="4.2"/>
<text class="ax" transform="translate(962.9,1817.0) rotate(-90)" text-anchor="end">0.7</text>
<line x1="986.3" x2="986.3" y1="1795.8" y2="1807.5" stroke="#333" stroke-width="4.2"/>
<text class="ax" transform="translate(1013.5,1817.0) rotate(-90)" text-anchor="end">0.8</text>
<line x1="1036.9" x2="1036.9" y1="1795.8" y2="1807.5" stroke="#333" stroke-width="4.2"/>
<text class="ax" transform="translate(1064.1,1817.0) rotate(-90)" text-anchor="end">0.9</text>
<line x1="1087.6" x2="1087.6" y1="1795.8" y2="1807.5" stroke="#333" stroke-width="4.2"/>
<text class="ax" transform="translate(1114.8,1817.0) rotate(-90)" text-anchor="end">1.0</text>
<line x1="1138.2" x2="1138.2" y1="1795.8" y2="1807.5" stroke="#333" stroke-width="4.2"/>
<text class="ax" transform="translate(1165.4,1817.0) rotate(-90)" text-anchor="end">1.1</text>
<line x1="1207.0" x2="1207.0" y1="1795.8" y2="1807.5" stroke="#333" stroke-width="4.2"/>
<text class="ax" transform="translate(1234.2,1817.0) rotate(-90)" text-anchor="end">0</text>
<line x1="1275.5" x2="1275.5" y1="1795.8" y2="1807.5" stroke="#333" stroke-width="4.2"/>
<text class="ax" transform="translate(1302.7,1817.0) rotate(-90)" text-anchor="end">1</text>
<line x1="1344.1" x2="1344.1" y1="1795.8" y2="1807.5" stroke="#333" stroke-width="4.2"/>
<text class="ax" transform="translate(1371.3,1817.0) rotate(-90)" text-anchor="end">2</text>
<line x1="1412.6" x2="1412.6" y1="1795.8" y2="1807.5" stroke="#333" stroke-width="4.2"/>
<text class="ax" transform="translate(1439.8,1817.0) rotate(-90)" text-anchor="end">3</text>
<line x1="1467.3" x2="1467.3" y1="1795.8" y2="1807.5" stroke="#333" stroke-width="4.2"/>
<text class="ax" transform="translate(1494.5,1817.0) rotate(-90)" text-anchor="end">−0.5</text>
<line x1="1517.2" x2="1517.2" y1="1795.8" y2="1807.5" stroke="#333" stroke-width="4.2"/>
<text class="ax" transform="translate(1544.4,1817.0) rotate(-90)" text-anchor="end">0.0</text>
<line x1="1567.2" x2="1567.2" y1="1795.8" y2="1807.5" stroke="#333" stroke-width="4.2"/>
<text class="ax" transform="translate(1594.4,1817.0) rotate(-90)" text-anchor="end">0.5</text>
<line x1="1617.1" x2="1617.1" y1="1795.8" y2="1807.5" stroke="#333" stroke-width="4.2"/>
<text class="ax" transform="translate(1644.3,1817.0) rotate(-90)" text-anchor="end">1.0</text>
<line x1="1667.0" x2="1667.0" y1="1795.8" y2="1807.5" stroke="#333" stroke-width="4.2"/>
<text class="ax" transform="translate(1694.2,1817.0) rotate(-90)" text-anchor="end">1.5</text>
<line x1="1761.3" x2="1761.3" y1="1795.8" y2="1807.5" stroke="#333" stroke-width="4.2"/>
<text class="ax" transform="translate(1788.5,1817.0) rotate(-90)" text-anchor="end">1.0</text>
<line x1="1828.0" x2="1828.0" y1="1795.8" y2="1807.5" stroke="#333" stroke-width="4.2"/>
<text class="ax" transform="translate(1855.2,1817.0) rotate(-90)" text-anchor="end">1.5</text>
<line x1="1894.6" x2="1894.6" y1="1795.8" y2="1807.5" stroke="#333" stroke-width="4.2"/>
<text class="ax" transform="translate(1921.8,1817.0) rotate(-90)" text-anchor="end">2.0</text>
<line x1="1961.3" x2="1961.3" y1="1795.8" y2="1807.5" stroke="#333" stroke-width="4.2"/>
<text class="ax" transform="translate(1988.5,1817.0) rotate(-90)" text-anchor="end">2.5</text>
<text class="lt" x="674.5" y="2010.9">Sample</text>
<rect x="855" y="1962" width="66.7" height="66" fill="#F5B4AF" stroke="#000" stroke-width="4"/>
<text class="lg" x="946.8" y="2009.7">Literature</text>
<rect x="1131.4" y="1962" width="66.7" height="66" fill="#79D8DB" stroke="#000" stroke-width="4"/>
<text class="lg" x="1223.6" y="2009.7">This work</text>
</svg></body></html>
